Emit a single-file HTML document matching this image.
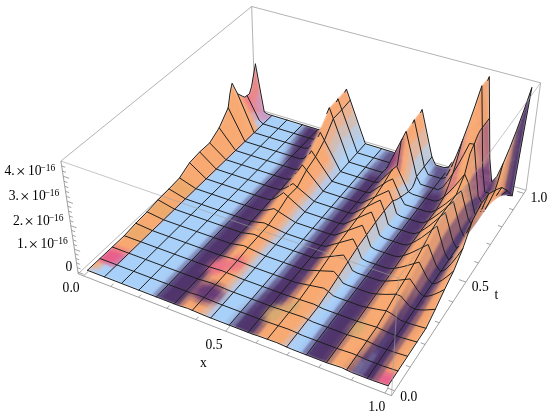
<!DOCTYPE html><html><head><meta charset="utf-8"><style>html,body{margin:0;padding:0;background:#fff;overflow:hidden}svg{display:block}text{font-family:"Liberation Serif","Times New Roman",serif}</style></head><body><svg width="550" height="416" viewBox="0 0 550 416">
<defs><clipPath id="c"><path d="M135.7 223.1L124.2 235.6 87.3 270.2 87.3 270.4 178.7 305.8 187.7 308.6 206 316.3 252.8 334.4 257.6 336 276.9 342.8 291.5 349.4 326.3 362.8 331.4 364.3 341.5 367.7 346.6 370 351.7 372.6 372.3 380.6 388.2 386 426.1 328.4 435.5 309.3 444.7 289.5 453.7 271.1 463 248.4 467.4 235.6 477.4 222 480.7 217 486.8 208.6 489.2 205.6 491.5 203.1 493.6 201.2 496.8 198.6 498.4 197.6 500.6 196.5 503 195.7 505.4 195.5 512.3 195.9 531.9 87.8 531.8 87.7 531.7 87.8 523.9 110 516.5 130.2 509.5 148.2 502.9 163.8 496.8 176.3 491.8 181.6 490 158.3 489.3 76.3 489.2 76.4 481.7 85.6 474.9 105.8 468.4 124.2 462.2 140.8 458.2 150.8 453.4 159.7 448.4 167.1 444.1 167.4 435.7 164.9 432 156.9 422.2 109.3 422 109.3 414.1 119.6 406 131.2 394.8 152.5 365.5 143.6 346.5 88.8 337.8 98.6 329.2 107.5 324.9 117.8 319.7 129.2 317.8 129.2 268.2 114.2 264.5 112 255.6 64.1 255.4 64 251.4 86.8 249.3 93.7 244.8 97 242.5 96.1 237.6 93.6 232.2 83.1 231.9 83.1 229.9 93.1 228.1 107.6 219 127.7 209.6 142.8 199.6 151.8 189.4 162.6 179.4 177.8 168.9 188.8 158 199.7 147 211.7 135.7 223.1Z"/></clipPath><filter id="b" x="0" y="0" width="550" height="416" filterUnits="userSpaceOnUse"><feGaussianBlur stdDeviation="1.2"/></filter></defs>
<rect width="550" height="416" fill="#fff"/>
<line x1="60.9" y1="161.1" x2="251.7" y2="6.5" stroke="#a0a0a0" stroke-width="0.8"/>
<line x1="251.7" y1="6.5" x2="540.6" y2="82.8" stroke="#a0a0a0" stroke-width="0.8"/>
<line x1="255.0" y1="108.4" x2="251.7" y2="6.5" stroke="#a0a0a0" stroke-width="0.8"/>
<line x1="526.0" y1="190.2" x2="540.6" y2="82.8" stroke="#a0a0a0" stroke-width="0.8"/>
<line x1="78.2" y1="273.8" x2="255.0" y2="108.4" stroke="#a0a0a0" stroke-width="0.8"/>
<line x1="255.0" y1="108.4" x2="526.0" y2="190.2" stroke="#a0a0a0" stroke-width="0.8"/>
<g clip-path="url(#c)"><g filter="url(#b)"><path d="M265.7 116.5L269.8 117.8L272.1 115.4L268 114.1ZM263.5 118.6L267.6 119.9L269.9 117.5L265.8 116.2Z" fill="#c898c4"/><path d="M269.5 117.6L273.6 118.9L275.9 116.6L271.8 115.2ZM273.2 118.8L277.4 120.1L279.7 117.7L275.5 116.4ZM267.3 119.7L271.4 121.1L273.7 118.7L269.6 117.3ZM277 119.9L281.2 121.2L283.5 118.9L279.3 117.5ZM271 120.9L275.2 122.2L277.5 119.8L273.4 118.5ZM280.8 121.1L285 122.4L287.3 120L283.1 118.7ZM265.1 121.8L269.2 123.2L271.5 120.8L267.4 119.5ZM274.8 122L279 123.4L281.3 121L277.2 119.6ZM284.6 122.2L288.8 123.6L291.1 121.2L286.9 119.8ZM268.8 123L273 124.3L275.3 121.9L271.2 120.6ZM278.6 123.2L282.8 124.5L285.1 122.1L280.9 120.8ZM288.4 123.4L292.6 124.7L294.9 122.3L290.7 121ZM262.8 124L267 125.3L269.3 122.9L265.2 121.6ZM272.6 124.2L276.8 125.5L279.1 123.1L275 121.8ZM282.5 124.3L286.6 125.7L288.9 123.3L284.8 121.9ZM292.3 124.5L296.5 125.9L298.7 123.5L294.5 122.1ZM266.6 125.1L270.8 126.5L273.1 124.1L269 122.7ZM276.5 125.3L280.6 126.7L283 124.3L278.8 122.9ZM286.3 125.5L290.5 126.9L292.8 124.5L288.6 123.1ZM260.6 126.1L264.8 127.5L267.1 125.1L263 123.7ZM270.4 126.3L274.6 127.7L277 125.2L272.8 123.9ZM280.3 126.5L284.5 127.8L286.8 125.4L282.6 124.1ZM290.1 126.7L294.3 128L296.6 125.6L292.4 124.3ZM264.4 127.3L268.6 128.6L270.9 126.2L266.8 124.9ZM274.3 127.5L278.5 128.8L280.8 126.4L276.6 125.1ZM284.1 127.7L288.3 129L290.6 126.6L286.4 125.2ZM294 127.9L298.2 129.2L300.5 126.8L296.2 125.4ZM258.4 128.3L262.5 129.6L264.9 127.2L260.8 125.9ZM268.2 128.5L272.4 129.8L274.8 127.4L270.6 126ZM278.1 128.6L282.3 130L284.6 127.6L280.4 126.2ZM288 128.8L292.2 130.2L294.5 127.8L290.3 126.4ZM262.2 129.4L266.4 130.8L268.7 128.4L264.6 127ZM272.1 129.6L276.3 131L278.6 128.6L274.4 127.2ZM281.9 129.8L286.1 131.2L288.5 128.8L284.3 127.4ZM291.8 130L296 131.4L298.3 128.9L294.1 127.6ZM256.1 130.4L260.3 131.8L262.7 129.4L258.5 128ZM266 130.6L270.2 132L272.6 129.6L268.4 128.2ZM275.9 130.8L280.1 132.2L282.4 129.7L278.2 128.4ZM285.8 131L290 132.4L292.3 129.9L288.1 128.6ZM259.9 131.6L264.1 133L266.5 130.5L262.3 129.2ZM269.8 131.8L274 133.2L276.4 130.7L272.2 129.4ZM279.7 132L284 133.4L286.3 130.9L282.1 129.6ZM289.7 132.2L293.9 133.6L296.2 131.1L292 129.8ZM253.9 132.6L258 134L260.4 131.5L256.3 130.2ZM263.8 132.8L268 134.2L270.3 131.7L266.2 130.4ZM273.7 133L277.9 134.4L280.2 131.9L276 130.6ZM283.6 133.2L287.8 134.6L290.1 132.1L285.9 130.7ZM257.7 133.8L261.9 135.2L264.3 132.7L260.1 131.4ZM267.6 134L271.8 135.4L274.2 132.9L270 131.5ZM277.5 134.2L281.8 135.6L284.1 133.1L279.9 131.7ZM287.5 134.4L291.7 135.8L294 133.3L289.8 131.9ZM251.6 134.8L255.8 136.2L258.2 133.7L254 132.4ZM261.5 135L265.7 136.4L268.1 133.9L263.9 132.5ZM271.5 135.2L275.7 136.6L278 134.1L273.8 132.7ZM281.4 135.4L285.6 136.8L288 134.3L283.7 132.9ZM255.4 136L259.6 137.4L262 134.9L257.8 133.5ZM265.4 136.2L269.6 137.6L272 135.1L267.8 133.7ZM275.3 136.4L279.6 137.8L281.9 135.3L277.7 133.9ZM285.3 136.6L289.5 138L291.9 135.5L287.6 134.1ZM249.3 137L253.5 138.4L255.9 135.9L251.7 134.5ZM259.3 137.2L263.5 138.6L265.9 136.1L261.7 134.7ZM269.2 137.4L273.5 138.8L275.8 136.3L271.6 134.9ZM279.2 137.6L283.4 139L285.8 136.5L281.5 135.1ZM253.1 138.2L257.3 139.6L259.8 137.1L255.6 135.7ZM263.1 138.4L267.3 139.8L269.7 137.3L265.5 135.9ZM273.1 138.6L277.3 140L279.7 137.5L275.5 136.1ZM283.1 138.8L287.3 140.2L289.7 137.7L285.4 136.3ZM247 139.2L251.2 140.6L253.6 138.1L249.4 136.7ZM257 139.4L261.2 140.8L263.6 138.3L259.4 136.9ZM267 139.6L271.2 141L273.6 138.5L269.4 137.1ZM277 139.8L281.2 141.2L283.6 138.7L279.3 137.3ZM250.9 140.4L255.1 141.8L257.5 139.3L253.3 137.9ZM260.9 140.6L265.1 142L267.5 139.5L263.3 138.1ZM270.9 140.8L275.1 142.2L277.5 139.7L273.2 138.3ZM280.9 141L285.1 142.4L287.5 139.9L283.2 138.5ZM244.7 141.5L248.9 142.9L251.3 140.4L247.1 139ZM254.7 141.7L258.9 143.1L261.4 140.6L257.1 139.2ZM264.7 141.8L269 143.2L271.4 140.7L267.1 139.3ZM274.8 142L279 143.4L281.4 140.9L277.1 139.5ZM248.5 142.7L252.8 144.1L255.2 141.6L251 140.2ZM258.6 142.9L262.8 144.3L265.2 141.8L261 140.4ZM268.6 143.1L272.9 144.5L275.2 142L271 140.6ZM278.7 143.3L282.9 144.7L285.3 142.2L281 140.8ZM242.4 143.7L246.6 145.1L249 142.6L244.8 141.2ZM252.4 143.9L256.6 145.3L259.1 142.8L254.9 141.4ZM262.5 144.1L266.7 145.5L269.1 143L264.9 141.6ZM272.5 144.3L276.8 145.7L279.1 143.2L274.9 141.8ZM246.2 144.9L250.4 146.3L252.9 143.8L248.7 142.4ZM256.3 145.1L260.5 146.5L263 144L258.7 142.6ZM363.1 146L367.5 147.4L369.6 144.9L365.2 143.5ZM266.4 145.3L270.6 146.7L273 144.2L268.8 142.8ZM276.4 145.5L280.7 146.9L283.1 144.4L278.8 143ZM240 146L244.2 147.4L246.7 144.8L242.5 143.4ZM250.1 146.1L254.3 147.6L256.8 145L252.6 143.6ZM260.2 146.3L264.4 147.8L266.8 145.2L262.6 143.8ZM367.1 147.3L371.6 148.7L373.7 146.1L369.3 144.8ZM270.3 146.5L274.5 148L276.9 145.4L272.7 144ZM280.3 146.7L284.6 148.1L287 145.6L282.7 144.2ZM243.9 147.2L248.1 148.6L250.6 146.1L246.4 144.7ZM254 147.4L258.2 148.8L260.7 146.3L256.4 144.8ZM361.1 148.3L365.5 149.7L367.6 147.2L363.2 145.8ZM264.1 147.6L268.3 149L270.7 146.5L266.5 145ZM371.2 148.5L375.6 149.9L377.7 147.4L373.3 146ZM274.2 147.8L278.5 149.2L280.8 146.7L276.6 145.2ZM237.7 148.2L241.9 149.6L244.4 147.1L240.2 145.7ZM247.8 148.4L252 149.8L254.5 147.3L250.2 145.9ZM257.9 148.6L262.1 150L264.6 147.5L260.3 146.1ZM365.1 149.5L369.6 150.9L371.7 148.4L367.3 147ZM268 148.8L272.3 150.2L274.7 147.7L270.4 146.3ZM375.3 149.7L379.7 151.1L381.8 148.6L377.4 147.2ZM278.1 149L282.4 150.4L284.8 147.9L280.5 146.5ZM241.6 149.5L245.8 150.9L248.3 148.3L244 146.9ZM251.7 149.6L255.9 151.1L258.4 148.5L254.1 147.1ZM359.1 150.6L363.5 152L365.6 149.4L361.2 148ZM261.8 149.8L266.1 151.3L268.5 148.7L264.2 147.3ZM369.2 150.8L373.7 152.2L375.8 149.6L371.3 148.2ZM271.9 150L276.2 151.5L278.6 148.9L274.3 147.5ZM235.3 150.5L239.5 151.9L242 149.4L237.8 147.9ZM245.4 150.7L249.7 152.1L252.2 149.6L247.9 148.1ZM255.6 150.9L259.8 152.3L262.3 149.8L258 148.3ZM363.1 151.8L367.6 153.2L369.7 150.7L365.3 149.3ZM265.7 151.1L270 152.5L272.4 150L268.1 148.5ZM373.3 152L377.7 153.4L379.8 150.9L375.4 149.5ZM275.8 151.3L280.1 152.7L282.5 150.2L278.2 148.7ZM239.2 151.7L243.4 153.2L245.9 150.6L241.7 149.2ZM249.3 151.9L253.6 153.4L256.1 150.8L251.8 149.4ZM357 152.9L361.5 154.3L363.6 151.7L359.2 150.3ZM259.5 152.1L263.8 153.6L266.2 151L261.9 149.6ZM367.2 153.1L371.7 154.5L373.8 151.9L369.3 150.5ZM269.6 152.3L273.9 153.8L276.3 151.2L272 149.8ZM232.9 152.8L237.2 154.2L239.7 151.7L235.5 150.2ZM243.1 153L247.3 154.4L249.8 151.8L245.6 150.4ZM253.3 153.2L257.5 154.6L260 152L255.7 150.6ZM361.1 154.1L365.6 155.5L367.7 153L363.3 151.6ZM263.4 153.4L267.7 154.8L270.1 152.2L265.8 150.8ZM371.3 154.3L375.8 155.7L377.9 153.2L373.4 151.8ZM273.6 153.6L277.9 155L280.3 152.4L276 151ZM236.8 154L241.1 155.5L243.6 152.9L239.3 151.5ZM247 154.2L251.3 155.7L253.7 153.1L249.5 151.7ZM355 155.2L359.4 156.6L361.6 154L357.2 152.6ZM257.2 154.4L261.5 155.9L263.9 153.3L259.6 151.9ZM365.2 155.4L369.7 156.8L371.8 154.2L367.3 152.8ZM267.4 154.6L271.7 156.1L274.1 153.5L269.8 152.1ZM230.5 155.1L234.8 156.5L237.3 153.9L233.1 152.5ZM240.7 155.3L245 156.7L247.5 154.1L243.2 152.7ZM250.9 155.5L255.2 156.9L257.7 154.3L253.4 152.9ZM359.1 156.4L363.5 157.9L365.7 155.3L361.2 153.9ZM261.1 155.7L265.4 157.1L267.8 154.5L263.6 153.1ZM369.3 156.6L373.8 158L375.9 155.5L371.4 154.1ZM271.3 155.9L275.6 157.3L278 154.7L273.7 153.3ZM234.4 156.3L238.7 157.8L241.2 155.2L237 153.8ZM244.6 156.5L248.9 158L251.4 155.4L247.1 154ZM352.9 157.5L357.4 158.9L359.6 156.3L355.1 154.9ZM254.8 156.7L259.1 158.2L261.6 155.6L257.3 154.2ZM363.2 157.7L367.6 159.1L369.8 156.5L365.3 155.1ZM265.1 156.9L269.4 158.4L271.8 155.8L267.5 154.4ZM275.3 157.1L279.6 158.6L282 156L277.7 154.6ZM228.1 157.4L232.4 158.9L234.9 156.3L230.7 154.8ZM238.4 157.6L242.6 159.1L245.1 156.5L240.9 155ZM248.6 157.8L252.9 159.3L255.3 156.7L251.1 155.2ZM357 158.7L361.5 160.2L363.7 157.6L359.2 156.2ZM258.8 158L263.1 159.5L265.5 156.9L261.2 155.4ZM367.3 158.9L371.8 160.4L373.9 157.8L369.4 156.4ZM269 158.2L273.3 159.6L275.8 157.1L271.4 155.6ZM232 158.7L236.3 160.1L238.8 157.5L234.6 156.1ZM242.3 158.9L246.6 160.3L249.1 157.7L244.8 156.3ZM350.9 159.8L355.3 161.2L357.5 158.7L353.1 157.2ZM252.5 159.1L256.8 160.5L259.3 157.9L255 156.5ZM361.1 160L365.6 161.4L367.8 158.9L363.3 157.4ZM262.7 159.3L267.1 160.7L269.5 158.1L265.2 156.7ZM273 159.5L277.3 160.9L279.7 158.3L275.4 156.9ZM225.7 159.7L230 161.2L232.5 158.6L228.3 157.1ZM236 159.9L240.2 161.4L242.8 158.8L238.5 157.3ZM246.2 160.1L250.5 161.6L253 159L248.7 157.5ZM355 161.1L359.5 162.5L361.6 159.9L357.2 158.5ZM256.5 160.3L260.8 161.8L263.2 159.2L258.9 157.7ZM365.2 161.3L369.7 162.7L371.9 160.1L367.4 158.7ZM266.7 160.5L271 162L273.5 159.4L269.1 157.9ZM229.6 161L233.9 162.5L236.5 159.8L232.2 158.4ZM239.9 161.2L244.2 162.7L246.7 160L242.4 158.6ZM348.8 162.1L353.3 163.6L355.5 161L351 159.5ZM250.2 161.4L254.5 162.9L256.9 160.2L252.7 158.8ZM359.1 162.3L363.6 163.8L365.7 161.2L361.3 159.7ZM260.4 161.6L264.7 163.1L267.2 160.4L262.9 159ZM270.7 161.8L275 163.3L277.4 160.6L273.1 159.2ZM223.3 162.1L227.6 163.5L230.1 160.9L225.9 159.5ZM233.6 162.3L237.8 163.7L240.4 161.1L236.1 159.7ZM243.8 162.5L248.1 163.9L250.6 161.3L246.4 159.9ZM352.9 163.4L357.4 164.9L359.6 162.3L355.1 160.8ZM254.1 162.7L258.4 164.1L260.9 161.5L256.6 160.1ZM363.2 163.6L367.7 165.1L369.9 162.5L365.4 161ZM264.4 162.9L268.7 164.3L271.2 161.7L266.8 160.3ZM227.2 163.3L231.5 164.8L234.1 162.2L229.8 160.7ZM237.5 163.6L241.8 165L244.3 162.4L240 160.9ZM346.7 164.5L351.2 166L353.4 163.3L348.9 161.9ZM247.8 163.8L252.1 165.2L254.6 162.6L250.3 161.1ZM357 164.7L361.5 166.2L363.7 163.5L359.2 162.1ZM258.1 164L262.4 165.4L264.9 162.8L260.6 161.3ZM268.4 164.2L272.7 165.6L275.2 163L270.8 161.5ZM220.8 164.4L225.1 165.9L227.7 163.3L223.4 161.8ZM231.1 164.6L235.4 166.1L238 163.5L233.7 162ZM241.4 164.8L245.8 166.3L248.3 163.7L244 162.2ZM350.8 165.8L355.3 167.2L357.5 164.6L353 163.2ZM251.8 165L256.1 166.5L258.6 163.9L254.3 162.4ZM361.1 166L365.7 167.4L367.8 164.8L363.3 163.4ZM262.1 165.2L266.4 166.7L268.9 164.1L264.5 162.6ZM224.8 165.7L229.1 167.2L231.6 164.5L227.4 163.1ZM235.1 165.9L239.4 167.4L241.9 164.7L237.6 163.3ZM344.6 166.9L349.1 168.3L351.3 165.7L346.8 164.2ZM245.4 166.1L249.7 167.6L252.2 164.9L247.9 163.5ZM355 167.1L359.5 168.5L361.6 165.9L357.1 164.4ZM255.7 166.3L260.1 167.8L262.5 165.2L258.2 163.7ZM266 166.5L270.4 168L272.9 165.4L268.5 163.9ZM218.4 166.8L222.7 168.3L225.3 165.6L221 164.2ZM228.7 167L233 168.5L235.6 165.8L231.3 164.4ZM239 167.2L243.4 168.7L245.9 166L241.6 164.6ZM348.7 168.2L353.2 169.6L355.4 167L351 165.5ZM249.4 167.4L253.7 168.9L256.2 166.2L251.9 164.8ZM359.1 168.4L363.6 169.8L365.8 167.2L361.3 165.7ZM259.7 167.6L264.1 169.1L266.5 166.4L262.2 165ZM222.3 168.1L226.6 169.6L229.2 166.9L224.9 165.4ZM232.7 168.3L237 169.8L239.5 167.1L235.2 165.6ZM342.5 169.2L347 170.7L349.2 168.1L344.7 166.6ZM243 168.5L247.3 170L249.9 167.3L245.6 165.8ZM352.9 169.4L357.4 170.9L359.6 168.3L355.1 166.8ZM253.4 168.7L257.7 170.2L260.2 167.5L255.9 166ZM263.7 168.9L268.1 170.4L270.5 167.7L266.2 166.3ZM215.9 169.2L220.2 170.7L222.8 168L218.5 166.5ZM226.3 169.4L230.6 170.9L233.2 168.2L228.9 166.7ZM236.6 169.6L241 171.1L243.5 168.4L239.2 166.9ZM346.6 170.5L351.1 172L353.4 169.4L348.9 167.9ZM247 169.8L251.3 171.3L253.9 168.6L249.5 167.1ZM357 170.7L361.5 172.2L363.7 169.6L359.2 168.1ZM257.4 170L261.7 171.5L264.2 168.8L259.9 167.3ZM219.9 170.5L224.2 172L226.8 169.3L222.5 167.8ZM230.2 170.7L234.5 172.2L237.1 169.5L232.8 168ZM340.4 171.6L344.9 173.1L347.1 170.5L342.6 169ZM240.6 170.9L244.9 172.4L247.5 169.7L243.2 168.2ZM350.8 171.8L355.3 173.3L357.5 170.7L353 169.2ZM251 171.1L255.3 172.6L257.9 169.9L253.5 168.4ZM261.4 171.3L265.7 172.8L268.2 170.1L263.9 168.6ZM213.4 171.6L217.7 173.1L220.4 170.4L216.1 168.9ZM223.8 171.8L228.1 173.3L230.7 170.6L226.4 169.1ZM234.2 172L238.5 173.5L241.1 170.8L236.8 169.3ZM344.5 172.9L349 174.4L351.3 171.8L346.8 170.3ZM244.6 172.2L248.9 173.7L251.5 171L247.1 169.5ZM354.9 173.1L359.5 174.6L361.7 172L357.1 170.5ZM255 172.4L259.4 173.9L261.9 171.2L257.5 169.7ZM217.4 172.9L221.7 174.4L224.3 171.7L220 170.2ZM227.8 173.1L232.1 174.6L234.7 171.9L230.4 170.4ZM338.2 174L342.8 175.5L345 172.9L340.5 171.4ZM238.2 173.3L242.5 174.8L245.1 172.1L240.8 170.6ZM348.7 174.2L353.2 175.7L355.4 173.1L350.9 171.6ZM248.6 173.5L253 175L255.5 172.3L251.1 170.8ZM259 173.7L263.4 175.2L265.9 172.5L261.5 171ZM210.9 174L215.2 175.5L217.9 172.8L213.6 171.3ZM221.3 174.2L225.7 175.7L228.3 173L224 171.5ZM231.8 174.4L236.1 175.9L238.7 173.2L234.4 171.7ZM342.4 175.4L346.9 176.8L349.2 174.2L344.6 172.7ZM242.2 174.6L246.5 176.1L249.1 173.4L244.7 171.9ZM352.8 175.6L357.4 177L359.6 174.4L355 172.9ZM252.6 174.8L257 176.3L259.5 173.6L255.1 172.1ZM214.9 175.3L219.2 176.8L221.8 174.1L217.5 172.6ZM225.3 175.5L229.6 177L232.3 174.3L227.9 172.8ZM336.1 176.5L340.6 178L342.9 175.3L338.4 173.8ZM235.8 175.7L240.1 177.2L242.7 174.5L238.3 173ZM346.5 176.7L351.1 178.2L353.3 175.5L348.8 174ZM246.2 175.9L250.6 177.4L253.1 174.7L248.7 173.2ZM256.6 176.1L261 177.6L263.5 174.9L259.1 173.4ZM208.4 176.4L212.7 177.9L215.4 175.2L211.1 173.7ZM218.9 176.6L223.2 178.1L225.8 175.4L221.5 173.9ZM229.3 176.8L233.6 178.3L236.2 175.6L231.9 174.1ZM340.2 177.8L344.8 179.3L347 176.6L342.5 175.1ZM239.8 177L244.1 178.5L246.7 175.8L242.3 174.3ZM350.7 178L355.3 179.5L357.5 176.8L353 175.3ZM250.2 177.2L254.6 178.7L257.1 176L252.8 174.5ZM212.4 177.7L216.7 179.2L219.4 176.5L215 175ZM222.8 177.9L227.2 179.4L229.8 176.7L225.5 175.2ZM333.9 178.9L338.5 180.4L340.7 177.7L336.2 176.2ZM233.3 178.1L237.7 179.7L240.2 176.9L235.9 175.4ZM344.4 179.1L349 180.6L351.2 177.9L346.7 176.4ZM243.8 178.3L248.1 179.9L250.7 177.1L246.3 175.6ZM254.2 178.6L258.6 180.1L261.2 177.4L256.8 175.8ZM205.9 178.8L210.2 180.4L212.9 177.6L208.6 176.1ZM216.4 179L220.7 180.6L223.3 177.8L219 176.3ZM226.8 179.3L231.2 180.8L233.8 178.1L229.5 176.5ZM338.1 180.2L342.6 181.7L344.9 179L340.4 177.5ZM237.3 179.5L241.7 181L244.3 178.3L239.9 176.8ZM348.6 180.4L353.2 181.9L355.4 179.2L350.8 177.7ZM247.8 179.7L252.2 181.2L254.7 178.5L250.4 177ZM209.9 180.2L214.2 181.7L216.9 179L212.5 177.4ZM220.4 180.4L224.7 181.9L227.3 179.2L223 177.7ZM331.8 181.3L336.3 182.9L338.6 180.1L334.1 178.6ZM230.8 180.6L235.2 182.1L237.8 179.4L233.5 177.9ZM342.3 181.5L346.8 183.1L349.1 180.3L344.5 178.8ZM241.3 180.8L245.7 182.3L248.3 179.6L243.9 178.1ZM251.8 181L256.2 182.5L258.8 179.8L254.4 178.3ZM203.3 181.3L207.7 182.8L210.4 180.1L206 178.6ZM213.8 181.5L218.2 183L220.8 180.3L216.5 178.8ZM224.4 181.7L228.7 183.2L231.3 180.5L227 179ZM335.9 182.7L340.5 184.2L342.8 181.5L338.2 180ZM234.9 181.9L239.2 183.4L241.8 180.7L237.5 179.2ZM346.5 182.9L351 184.4L353.3 181.7L348.7 180.2ZM245.4 182.1L249.8 183.7L252.3 180.9L247.9 179.4ZM207.3 182.6L211.7 184.2L214.3 181.4L210 179.9ZM217.8 182.8L222.2 184.4L224.8 181.6L220.5 180.1ZM329.6 183.8L334.1 185.3L336.4 182.6L331.9 181.1ZM228.4 183L232.7 184.6L235.4 181.8L231 180.3ZM340.1 184L344.7 185.5L347 182.8L342.4 181.3ZM238.9 183.3L243.3 184.8L245.9 182L241.5 180.5ZM249.4 183.5L253.8 185L256.4 182.2L252 180.7ZM200.8 183.8L205.1 185.3L207.8 182.5L203.5 181ZM211.3 184L215.7 185.5L218.3 182.7L214 181.2ZM221.9 184.2L226.2 185.7L228.9 183L224.5 181.4ZM333.8 185.1L338.3 186.7L340.6 183.9L336.1 182.4ZM232.4 184.4L236.8 185.9L239.4 183.2L235 181.6ZM344.3 185.4L348.9 186.9L351.2 184.1L346.6 182.6ZM242.9 184.6L247.3 186.1L249.9 183.4L245.5 181.9ZM204.8 185.1L209.1 186.6L211.8 183.9L207.5 182.3ZM215.3 185.3L219.7 186.8L222.3 184.1L218 182.6ZM327.4 186.3L331.9 187.8L334.2 185.1L329.7 183.5ZM225.9 185.5L230.2 187.1L232.9 184.3L228.5 182.8ZM337.9 186.5L342.5 188L344.8 185.3L340.2 183.7ZM236.4 185.7L240.8 187.3L243.4 184.5L239 183ZM247 185.9L251.4 187.5L254 184.7L249.6 183.2ZM198.2 186.2L202.5 187.8L205.3 185L200.9 183.5ZM208.8 186.4L213.1 188L215.8 185.2L211.5 183.7ZM219.3 186.7L223.7 188.2L226.4 185.4L222 183.9ZM331.6 187.6L336.1 189.2L338.4 186.4L333.9 184.9ZM229.9 186.9L234.3 188.4L236.9 185.6L232.5 184.1ZM342.2 187.8L346.7 189.4L349 186.6L344.4 185.1ZM240.5 187.1L244.9 188.6L247.5 185.9L243.1 184.3ZM202.2 187.6L206.6 189.1L209.3 186.4L204.9 184.8ZM212.8 187.8L217.2 189.3L219.8 186.6L215.5 185ZM325.2 188.8L329.7 190.3L332.1 187.5L327.5 186ZM223.4 188L227.8 189.6L230.4 186.8L226 185.2ZM335.8 189L340.3 190.5L342.6 187.8L338.1 186.2ZM234 188.2L238.4 189.8L241 187L236.6 185.5ZM244.5 188.4L249 190L251.5 187.2L247.1 185.7ZM195.6 188.7L200 190.3L202.7 187.5L198.4 186ZM206.2 188.9L210.6 190.5L213.3 187.7L208.9 186.2ZM216.8 189.1L221.2 190.7L223.9 187.9L219.5 186.4ZM329.4 190.1L333.9 191.7L336.3 188.9L331.7 187.4ZM227.4 189.4L231.8 190.9L234.4 188.1L230.1 186.6ZM340 190.3L344.6 191.9L346.9 189.1L342.3 187.6ZM238 189.6L242.4 191.1L245 188.3L240.6 186.8ZM199.6 190.1L204 191.6L206.7 188.9L202.4 187.3ZM414.4 191.8L419.1 193.4L421.2 190.6L416.5 189.1ZM210.2 190.3L214.6 191.8L217.3 189.1L212.9 187.5ZM322.9 191.3L327.5 192.8L329.9 190L325.3 188.5ZM220.9 190.5L225.2 192.1L227.9 189.3L223.5 187.7ZM333.6 191.5L338.2 193L340.5 190.3L335.9 188.7ZM231.5 190.7L235.9 192.3L238.5 189.5L234.1 187.9ZM242.1 190.9L246.5 192.5L249.1 189.7L244.7 188.2ZM193 191.2L197.4 192.8L200.1 190L195.8 188.4ZM203.6 191.4L208 193L210.7 190.2L206.4 188.7ZM214.3 191.7L218.7 193.2L221.3 190.4L217 188.9ZM327.1 192.6L331.7 194.2L334.1 191.4L329.5 189.9ZM224.9 191.9L229.3 193.4L232 190.6L227.6 189.1ZM337.8 192.9L342.4 194.4L344.7 191.6L340.1 190.1ZM235.5 192.1L240 193.6L242.6 190.8L238.2 189.3ZM197 192.6L201.4 194.2L204.1 191.4L199.8 189.8ZM412.4 194.3L417.1 195.9L419.2 193.1L414.5 191.6ZM207.7 192.8L212 194.4L214.8 191.6L210.4 190ZM320.7 193.8L325.3 195.3L327.6 192.6L323.1 191ZM218.3 193L222.7 194.6L225.4 191.8L221 190.2ZM331.4 194L336 195.6L338.3 192.8L333.7 191.2ZM229 193.2L233.4 194.8L236 192L231.6 190.4ZM239.6 193.5L244 195L246.7 192.2L242.2 190.7ZM190.4 193.8L194.8 195.3L197.5 192.5L193.2 191ZM201.1 194L205.4 195.5L208.2 192.7L203.8 191.2ZM211.7 194.2L216.1 195.7L218.8 192.9L214.4 191.4ZM324.9 195.2L329.5 196.7L331.9 193.9L327.3 192.4ZM222.4 194.4L226.8 196L229.5 193.2L225.1 191.6ZM335.6 195.4L340.2 196.9L342.5 194.1L337.9 192.6ZM233 194.6L237.5 196.2L240.1 193.4L235.7 191.8ZM194.4 195.1L198.8 196.7L201.6 193.9L197.2 192.3ZM410.4 196.9L415.2 198.4L417.3 195.6L412.5 194.1ZM205.1 195.3L209.5 196.9L212.2 194.1L207.8 192.5ZM318.5 196.3L323 197.9L325.4 195.1L320.8 193.5ZM215.8 195.6L220.2 197.1L222.9 194.3L218.5 192.8ZM329.1 196.5L333.7 198.1L336.1 195.3L331.5 193.7ZM226.4 195.8L230.9 197.3L233.5 194.5L229.1 193ZM237.1 196L241.6 197.6L244.2 194.7L239.8 193.2ZM187.8 196.3L192.1 197.9L194.9 195L190.6 193.5ZM198.5 196.5L202.8 198.1L205.6 195.3L201.2 193.7ZM209.1 196.7L213.5 198.3L216.3 195.5L211.9 193.9ZM322.7 197.7L327.3 199.3L329.6 196.5L325.1 194.9ZM219.8 196.9L224.2 198.5L226.9 195.7L222.5 194.1ZM333.4 197.9L338 199.5L340.3 196.7L335.7 195.1ZM230.5 197.2L235 198.7L237.6 195.9L233.2 194.3ZM191.8 197.7L196.2 199.3L198.9 196.4L194.6 194.9ZM408.4 199.4L413.2 201L415.3 198.2L410.6 196.6ZM202.5 197.9L206.9 199.5L209.6 196.6L205.3 195.1ZM316.2 198.9L320.8 200.4L323.2 197.6L318.6 196.1ZM213.2 198.1L217.6 199.7L220.3 196.9L215.9 195.3ZM326.9 199.1L331.5 200.7L333.9 197.8L329.3 196.3ZM223.9 198.3L228.3 199.9L231 197.1L226.6 195.5ZM234.6 198.5L239.1 200.1L241.7 197.3L237.3 195.7ZM185.1 198.8L189.5 200.4L192.3 197.6L187.9 196ZM195.8 199.1L200.2 200.6L203 197.8L198.6 196.2ZM206.6 199.3L211 200.9L213.7 198L209.3 196.4ZM320.4 200.3L325 201.8L327.4 199L322.8 197.4ZM217.3 199.5L221.7 201.1L224.4 198.2L220 196.7ZM331.2 200.5L335.8 202.1L338.1 199.2L333.5 197.7ZM228 199.7L232.4 201.3L235.1 198.4L230.7 196.9ZM189.2 200.2L193.5 201.8L196.3 199L192 197.4ZM406.4 202L411.2 203.6L413.3 200.7L408.6 199.2ZM199.9 200.5L204.3 202L207 199.2L202.7 197.6ZM313.9 201.4L318.5 203L320.9 200.2L316.3 198.6ZM210.6 200.7L215 202.3L217.8 199.4L213.4 197.8ZM324.7 201.7L329.3 203.2L331.7 200.4L327 198.8ZM221.4 200.9L225.8 202.5L228.5 199.6L224.1 198ZM232.1 201.1L236.6 202.7L239.2 199.8L234.8 198.3ZM182.5 201.4L186.8 203L189.6 200.1L185.3 198.6ZM193.2 201.6L197.6 203.2L200.4 200.4L196 198.8ZM204 201.8L208.4 203.4L211.1 200.6L206.7 199ZM318.2 202.8L322.8 204.4L325.2 201.6L320.6 200ZM214.7 202.1L219.1 203.7L221.9 200.8L217.4 199.2ZM328.9 203.1L333.6 204.6L335.9 201.8L331.3 200.2ZM225.5 202.3L229.9 203.9L232.6 201L228.2 199.4ZM186.5 202.8L190.9 204.4L193.7 201.5L189.3 200ZM404.4 204.6L409.2 206.2L411.3 203.3L406.6 201.7ZM197.3 203L201.7 204.6L204.4 201.8L200.1 200.2ZM311.6 204L316.2 205.6L318.6 202.7L314.1 201.2ZM208 203.2L212.5 204.8L215.2 202L210.8 200.4ZM322.4 204.2L327 205.8L329.4 203L324.8 201.4ZM218.8 203.5L223.2 205.1L226 202.2L221.5 200.6ZM229.6 203.7L234 205.3L236.7 202.4L232.3 200.8ZM179.8 204L184.2 205.6L187 202.7L182.6 201.1ZM190.6 204.2L195 205.8L197.8 202.9L193.4 201.3ZM201.3 204.4L205.8 206L208.5 203.2L204.1 201.6ZM315.9 205.4L320.5 207L322.9 204.1L318.3 202.6ZM212.1 204.6L216.6 206.2L219.3 203.4L214.9 201.8ZM326.7 205.6L331.3 207.2L333.7 204.4L329.1 202.8ZM222.9 204.9L227.4 206.5L230.1 203.6L225.6 202ZM183.8 205.4L188.2 207L191 204.1L186.7 202.5ZM402.4 207.2L407.2 208.8L409.3 205.9L404.5 204.3ZM194.6 205.6L199 207.2L201.8 204.3L197.4 202.7ZM309.3 206.6L313.9 208.2L316.4 205.3L311.8 203.8ZM205.4 205.8L209.9 207.4L212.6 204.6L208.2 203ZM320.1 206.8L324.8 208.4L327.2 205.6L322.5 204ZM216.2 206.1L220.7 207.7L223.4 204.8L219 203.2ZM227 206.3L231.5 207.9L234.2 205L229.7 203.4ZM177.1 206.6L181.5 208.2L184.3 205.3L179.9 203.7ZM187.9 206.8L192.3 208.4L195.1 205.5L190.7 203.9ZM198.7 207L203.1 208.6L205.9 205.7L201.5 204.2ZM313.6 208L318.2 209.6L320.6 206.7L316 205.2ZM209.5 207.2L214 208.9L216.7 206L212.3 204.4ZM324.4 208.2L329.1 209.8L331.5 207L326.8 205.4ZM220.3 207.5L224.8 209.1L227.5 206.2L223.1 204.6ZM181.1 208L185.5 209.6L188.4 206.7L184 205.1ZM400.4 209.8L405.1 211.4L407.3 208.5L402.5 206.9ZM192 208.2L196.4 209.8L199.2 206.9L194.8 205.3ZM307 209.2L311.6 210.8L314.1 207.9L309.5 206.3ZM202.8 208.4L207.2 210.1L210 207.2L205.6 205.6ZM317.9 209.4L322.5 211L324.9 208.2L320.3 206.6ZM213.6 208.7L218.1 210.3L220.8 207.4L216.4 205.8ZM224.5 208.9L228.9 210.5L231.7 207.6L227.2 206ZM174.4 209.2L178.8 210.8L181.6 207.9L177.2 206.3ZM185.2 209.4L189.6 211L192.5 208.1L188.1 206.5ZM196.1 209.6L200.5 211.3L203.3 208.4L198.9 206.7ZM311.3 210.6L315.9 212.3L318.3 209.4L313.7 207.8ZM206.9 209.9L211.4 211.5L214.1 208.6L209.7 207ZM322.1 210.9L326.8 212.5L329.2 209.6L324.6 208ZM217.8 210.1L222.2 211.7L225 208.8L220.5 207.2ZM178.4 210.6L182.8 212.2L185.7 209.3L181.3 207.7ZM189.3 210.8L193.7 212.5L196.5 209.6L192.1 207.9ZM304.7 211.9L309.3 213.5L311.8 210.6L307.1 209ZM200.2 211.1L204.6 212.7L207.4 209.8L203 208.2ZM315.6 212.1L320.2 213.7L322.6 210.8L318 209.2ZM211 211.3L215.5 212.9L218.2 210L213.8 208.4ZM221.9 211.5L226.4 213.1L229.1 210.2L224.6 208.6ZM171.6 211.8L176 213.5L178.9 210.5L174.5 208.9ZM182.5 212.1L186.9 213.7L189.8 210.8L185.4 209.1ZM193.4 212.3L197.8 213.9L200.6 211L196.2 209.4ZM309 213.3L313.6 214.9L316 212L311.4 210.4ZM204.3 212.5L208.7 214.1L211.5 211.2L207.1 209.6ZM319.9 213.5L324.5 215.1L326.9 212.2L322.3 210.6ZM215.2 212.7L219.6 214.3L222.4 211.4L217.9 209.8ZM175.7 213.3L180.1 214.9L183 212L178.6 210.3ZM186.6 213.5L191 215.1L193.9 212.2L189.5 210.6ZM302.3 214.5L307 216.1L309.4 213.2L304.8 211.6ZM197.5 213.7L202 215.3L204.8 212.4L200.3 210.8ZM313.2 214.7L317.9 216.3L320.3 213.4L315.7 211.8ZM208.4 213.9L212.9 215.6L215.6 212.6L211.2 211ZM219.3 214.2L223.8 215.8L226.5 212.9L222 211.2ZM168.9 214.5L173.3 216.1L176.2 213.2L171.8 211.6ZM179.8 214.7L184.2 216.3L187.1 213.4L182.7 211.8ZM190.7 214.9L195.2 216.6L198 213.6L193.6 212ZM306.6 215.9L311.3 217.6L313.7 214.6L309.1 213ZM201.6 215.1L206.1 216.8L208.9 213.8L204.4 212.2ZM317.5 216.2L322.2 217.8L324.7 214.8L320 213.2ZM212.5 215.4L217 217L219.8 214.1L215.3 212.4ZM173 215.9L177.4 217.6L180.3 214.6L175.9 213ZM183.9 216.1L188.3 217.8L191.2 214.8L186.8 213.2ZM300 217.1L304.6 218.8L307.1 215.8L302.5 214.2ZM194.8 216.4L199.3 218L202.1 215.1L197.7 213.4ZM310.9 217.4L315.6 219L318 216.1L313.4 214.4ZM205.8 216.6L210.2 218.2L213 215.3L208.6 213.6ZM216.7 216.8L221.2 218.4L223.9 215.5L219.5 213.9ZM166.1 217.1L170.5 218.8L173.5 215.8L169.1 214.2ZM177.1 217.4L181.5 219L184.4 216L180 214.4ZM188 217.6L192.5 219.2L195.3 216.3L190.9 214.6ZM304.3 218.6L308.9 220.2L311.4 217.3L306.8 215.7ZM199 217.8L203.4 219.4L206.2 216.5L201.8 214.9ZM315.2 218.8L319.9 220.5L322.4 217.5L317.7 215.9ZM209.9 218L214.4 219.7L217.2 216.7L212.7 215.1ZM170.2 218.6L174.7 220.2L177.6 217.3L173.1 215.6ZM181.2 218.8L185.6 220.5L188.5 217.5L184.1 215.9ZM297.6 219.8L302.3 221.5L304.8 218.5L300.1 216.9ZM192.1 219L196.6 220.7L199.4 217.7L195 216.1ZM308.6 220L313.3 221.7L315.7 218.7L311.1 217.1ZM203.1 219.3L207.6 220.9L210.4 217.9L205.9 216.3ZM214.1 219.5L218.6 221.1L221.3 218.2L216.8 216.5ZM163.4 219.8L167.8 221.5L170.7 218.5L166.3 216.9ZM174.3 220L178.8 221.7L181.7 218.7L177.2 217.1ZM185.3 220.3L189.8 221.9L192.6 218.9L188.2 217.3ZM301.9 221.3L306.6 222.9L309.1 220L304.4 218.3ZM196.3 220.5L200.8 222.1L203.6 219.2L199.1 217.5ZM312.9 221.5L317.6 223.1L320 220.2L315.4 218.5ZM207.3 220.7L211.8 222.4L214.6 219.4L210.1 217.8ZM167.5 221.3L171.9 222.9L174.8 219.9L170.4 218.3ZM178.4 221.5L182.9 223.1L185.8 220.2L181.3 218.5ZM295.2 222.5L299.9 224.2L302.4 221.2L297.7 219.6ZM189.4 221.7L193.9 223.4L196.8 220.4L192.3 218.8ZM306.2 222.7L310.9 224.4L313.4 221.4L308.7 219.8ZM200.4 221.9L204.9 223.6L207.7 220.6L203.3 219ZM211.4 222.2L215.9 223.8L218.7 220.8L214.2 219.2ZM160.6 222.5L165 224.2L167.9 221.2L163.5 219.5ZM171.6 222.7L176 224.4L178.9 221.4L174.5 219.8ZM182.6 223L187 224.6L189.9 221.6L185.5 220ZM299.5 224L304.2 225.6L306.7 222.6L302 221ZM193.6 223.2L198.1 224.8L200.9 221.9L196.4 220.2ZM310.6 224.2L315.3 225.8L317.7 222.9L313 221.2ZM204.6 223.4L209.1 225.1L211.9 222.1L207.4 220.4ZM164.7 224L169.1 225.6L172.1 222.6L167.6 221ZM175.7 224.2L180.1 225.9L183.1 222.9L178.6 221.2ZM292.8 225.2L297.5 226.9L300 223.9L295.4 222.2ZM186.7 224.4L191.2 226.1L194.1 223.1L189.6 221.4ZM303.9 225.4L308.5 227.1L311 224.1L306.4 222.5ZM197.7 224.6L202.2 226.3L205.1 223.3L200.6 221.7ZM208.8 224.9L213.3 226.5L216.1 223.5L211.6 221.9ZM157.8 225.2L162.2 226.9L165.2 223.9L160.7 222.2ZM168.8 225.4L173.2 227.1L176.2 224.1L171.7 222.4ZM179.8 225.7L184.3 227.3L187.2 224.3L182.7 222.7ZM297.1 226.7L301.8 228.3L304.3 225.4L299.7 223.7ZM190.9 225.9L195.4 227.6L198.2 224.6L193.7 222.9ZM308.2 226.9L312.9 228.6L315.4 225.6L310.7 223.9ZM201.9 226.1L206.4 227.8L209.3 224.8L204.8 223.1ZM161.9 226.7L166.3 228.4L169.3 225.3L164.8 223.7ZM172.9 226.9L177.4 228.6L180.3 225.6L175.9 223.9ZM290.4 227.9L295.1 229.6L297.6 226.6L293 224.9ZM184 227.1L188.5 228.8L191.4 225.8L186.9 224.1ZM301.5 228.2L306.2 229.8L308.7 226.8L304 225.2ZM195 227.4L199.5 229L202.4 226L197.9 224.4ZM206.1 227.6L210.6 229.3L213.5 226.3L208.9 224.6ZM154.9 227.9L159.4 229.6L162.4 226.6L157.9 224.9ZM166 228.2L170.5 229.8L173.4 226.8L169 225.2ZM177.1 228.4L181.5 230.1L184.5 227.1L180 225.4ZM294.7 229.4L299.4 231.1L302 228.1L297.3 226.4ZM188.1 228.6L192.6 230.3L195.5 227.3L191 225.6ZM305.8 229.6L310.5 231.3L313 228.3L308.3 226.6ZM199.2 228.8L203.7 230.5L206.6 227.5L202.1 225.8ZM159 229.4L163.5 231.1L166.5 228.1L162 226.4ZM170.1 229.6L174.6 231.3L177.6 228.3L173.1 226.6ZM288 230.7L292.7 232.3L295.2 229.3L290.5 227.7ZM181.2 229.9L185.7 231.6L188.6 228.5L184.1 226.9ZM299.1 230.9L303.8 232.6L306.3 229.6L301.6 227.9ZM192.3 230.1L196.8 231.8L199.7 228.8L195.2 227.1ZM203.4 230.3L207.9 232L210.8 229L206.3 227.3ZM152.1 230.7L156.5 232.4L159.5 229.3L155.1 227.7ZM163.2 230.9L167.6 232.6L170.6 229.6L166.2 227.9ZM174.3 231.1L178.8 232.8L181.7 229.8L177.2 228.1ZM292.3 232.2L297 233.8L299.6 230.8L294.9 229.1ZM185.4 231.4L189.9 233L192.8 230L188.3 228.3ZM303.4 232.4L308.2 234.1L310.7 231L306 229.4ZM196.5 231.6L201 233.3L203.9 230.2L199.4 228.6ZM156.2 232.2L160.7 233.9L163.7 230.8L159.2 229.1ZM167.3 232.4L171.8 234.1L174.8 231L170.3 229.4ZM285.5 233.4L290.2 235.1L292.8 232.1L288.1 230.4ZM178.4 232.6L183 234.3L185.9 231.3L181.4 229.6ZM296.7 233.7L301.4 235.3L303.9 232.3L299.2 230.6ZM189.6 232.9L194.1 234.5L197 231.5L192.5 229.8ZM200.7 233.1L205.3 234.8L208.1 231.7L203.6 230.1ZM149.2 233.4L153.7 235.1L156.7 232.1L152.3 230.4ZM160.4 233.7L164.8 235.4L167.8 232.3L163.4 230.6ZM171.5 233.9L176 235.6L178.9 232.5L174.5 230.9ZM289.9 234.9L294.6 236.6L297.2 233.6L292.4 231.9ZM182.6 234.1L187.1 235.8L190.1 232.8L185.6 231.1ZM301 235.2L305.8 236.8L308.3 233.8L303.6 232.1ZM193.8 234.4L198.3 236.1L201.2 233L196.7 231.3ZM153.4 234.9L157.8 236.6L160.8 233.6L156.4 231.9ZM164.5 235.2L169 236.9L172 233.8L167.5 232.1ZM283.1 236.2L287.8 237.9L290.4 234.8L285.7 233.2ZM175.7 235.4L180.2 237.1L183.1 234L178.6 232.3ZM294.2 236.4L299 238.1L301.5 235.1L296.8 233.4ZM186.8 235.6L191.4 237.3L194.3 234.3L189.7 232.6ZM198 235.9L202.5 237.6L205.4 234.5L200.9 232.8ZM146.3 236.2L150.8 237.9L153.8 234.8L149.4 233.2ZM157.5 236.4L162 238.1L165 235.1L160.5 233.4ZM168.7 236.7L173.2 238.4L176.2 235.3L171.7 233.6ZM287.4 237.7L292.1 239.4L294.7 236.3L290 234.7ZM179.8 236.9L184.4 238.6L187.3 235.5L182.8 233.8ZM298.6 237.9L303.4 239.6L305.9 236.6L301.2 234.9ZM191 237.1L195.6 238.8L198.5 235.8L193.9 234.1ZM150.5 237.7L155 239.4L158 236.4L153.5 234.7ZM161.7 238L166.2 239.7L169.2 236.6L164.7 234.9ZM280.6 239L285.3 240.7L287.9 237.6L283.2 235.9ZM172.9 238.2L177.4 239.9L180.3 236.8L175.8 235.1ZM291.8 239.2L296.5 240.9L299.1 237.8L294.4 236.2ZM184.1 238.4L188.6 240.1L191.5 237L187 235.3ZM195.2 238.6L199.8 240.4L202.7 237.3L198.1 235.6ZM143.4 239L147.9 240.7L151 237.6L146.5 235.9ZM154.6 239.2L159.1 240.9L162.2 237.9L157.7 236.2ZM165.8 239.5L170.4 241.2L173.3 238.1L168.8 236.4ZM285 240.5L289.7 242.2L292.3 239.1L287.6 237.4ZM177.1 239.7L181.6 241.4L184.5 238.3L180 236.6ZM296.2 240.7L300.9 242.4L303.5 239.4L298.8 237.7ZM188.3 239.9L192.8 241.6L195.7 238.6L191.2 236.9ZM147.6 240.5L152.1 242.2L155.1 239.1L150.7 237.4ZM158.8 240.8L163.3 242.5L166.3 239.4L161.8 237.7ZM278.1 241.8L282.8 243.5L285.4 240.4L280.7 238.7ZM170 241L174.6 242.7L177.5 239.6L173 237.9ZM289.3 242L294.1 243.7L296.7 240.6L291.9 238.9ZM181.3 241.2L185.8 242.9L188.8 239.8L184.2 238.1ZM192.5 241.5L197.1 243.2L200 240.1L195.4 238.4ZM140.5 241.8L145 243.5L148.1 240.4L143.6 238.7ZM151.8 242L156.3 243.8L159.3 240.7L154.8 238.9ZM163 242.3L167.5 244L170.5 240.9L166 239.2ZM282.5 243.3L287.2 245L289.8 241.9L285.1 240.2ZM174.2 242.5L178.8 244.2L181.8 241.1L177.2 239.4ZM293.7 243.6L298.5 245.3L301.1 242.2L296.3 240.5ZM185.5 242.7L190 244.5L193 241.4L188.4 239.6ZM144.7 243.3L149.2 245.1L152.2 242L147.8 240.2ZM155.9 243.6L160.4 245.3L163.5 242.2L159 240.5ZM275.6 244.6L280.3 246.3L283 243.2L278.2 241.5ZM167.2 243.8L171.7 245.5L174.7 242.4L170.2 240.7ZM286.9 244.9L291.6 246.6L294.2 243.5L289.5 241.8ZM178.5 244L183 245.8L186 242.7L181.4 240.9ZM189.7 244.3L194.3 246L197.2 242.9L192.7 241.2ZM137.6 244.6L142.1 246.4L145.2 243.2L140.7 241.5ZM148.9 244.9L153.4 246.6L156.4 243.5L151.9 241.8ZM160.1 245.1L164.7 246.8L167.7 243.7L163.2 242ZM280 246.2L284.7 247.9L287.4 244.8L282.6 243ZM171.4 245.3L176 247.1L178.9 244L174.4 242.2ZM291.3 246.4L296 248.1L298.6 245L293.9 243.3ZM182.7 245.6L187.3 247.3L190.2 244.2L185.7 242.5ZM141.8 246.2L146.3 247.9L149.3 244.8L144.9 243.1ZM153 246.4L157.6 248.1L160.6 245L156.1 243.3ZM273.1 247.5L277.8 249.2L280.5 246.1L275.7 244.3ZM164.3 246.6L168.9 248.4L171.9 245.3L167.4 243.5ZM284.4 247.7L289.1 249.4L291.8 246.3L287 244.6ZM175.6 246.9L180.2 248.6L183.2 245.5L178.6 243.8ZM186.9 247.1L191.5 248.9L194.5 245.7L189.9 244ZM134.6 247.5L139.1 249.2L142.2 246.1L137.8 244.4ZM145.9 247.7L150.5 249.5L153.5 246.3L149 244.6ZM157.2 248L161.8 249.7L164.8 246.6L160.3 244.8ZM277.5 249L282.2 250.7L284.9 247.6L280.1 245.9ZM168.6 248.2L173.1 249.9L176.1 246.8L171.6 245.1ZM288.8 249.2L293.6 251L296.2 247.8L291.4 246.1ZM179.9 248.4L184.5 250.2L187.4 247L182.9 245.3ZM138.8 249L143.3 250.8L146.4 247.6L141.9 245.9ZM150.1 249.3L154.7 251L157.7 247.9L153.2 246.1ZM270.5 250.3L275.3 252.1L278 248.9L273.2 247.2ZM161.5 249.5L166 251.2L169.1 248.1L164.5 246.4ZM281.9 250.6L286.6 252.3L289.3 249.1L284.5 247.4ZM172.8 249.7L177.4 251.5L180.4 248.3L175.8 246.6ZM184.1 250L188.7 251.7L191.7 248.6L187.1 246.8ZM131.7 250.3L136.2 252.1L139.3 248.9L134.8 247.2ZM143 250.6L147.5 252.3L150.6 249.2L146.1 247.4ZM154.3 250.8L158.9 252.6L162 249.4L157.4 247.7ZM274.9 251.9L279.7 253.6L282.4 250.5L277.6 248.7ZM165.7 251.1L170.3 252.8L173.3 249.6L168.7 247.9ZM286.3 252.1L291.1 253.9L293.7 250.7L288.9 249ZM177 251.3L181.6 253L184.6 249.9L180 248.1ZM135.9 251.9L140.4 253.7L143.5 250.5L139 248.7ZM147.2 252.1L151.7 253.9L154.8 250.7L150.3 249ZM268 253.2L272.7 254.9L275.4 251.8L270.7 250ZM158.6 252.4L163.1 254.1L166.2 251L161.6 249.2ZM279.4 253.4L284.1 255.2L286.8 252L282 250.3ZM169.9 252.6L174.5 254.4L177.5 251.2L173 249.5ZM181.3 252.9L185.9 254.6L188.9 251.4L184.3 249.7ZM128.7 253.2L133.2 255L136.3 251.8L131.8 250.1ZM140.1 253.5L144.6 255.2L147.7 252L143.2 250.3ZM151.4 253.7L156 255.5L159.1 252.3L154.5 250.5ZM272.4 254.8L277.2 256.5L279.8 253.3L275.1 251.6ZM162.8 253.9L167.4 255.7L170.4 252.5L165.9 250.8ZM283.8 255L288.6 256.7L291.2 253.6L286.4 251.8ZM174.2 254.2L178.8 255.9L181.8 252.8L177.2 251ZM132.9 254.8L137.4 256.6L140.5 253.4L136 251.6ZM144.3 255L148.8 256.8L151.9 253.6L147.4 251.9ZM265.4 256.1L270.2 257.8L272.9 254.7L268.1 252.9ZM155.7 255.3L160.2 257L163.3 253.8L158.7 252.1ZM276.8 256.3L281.6 258.1L284.3 254.9L279.5 253.2ZM167.1 255.5L171.6 257.3L174.7 254.1L170.1 252.3ZM178.5 255.7L183.1 257.5L186.1 254.3L181.5 252.6ZM125.7 256.1L130.2 257.9L133.4 254.7L128.9 252.9ZM137.1 256.4L141.6 258.1L144.8 254.9L140.2 253.2ZM148.5 256.6L153 258.4L156.2 255.2L151.6 253.4ZM269.8 257.7L274.6 259.4L277.3 256.2L272.5 254.5ZM159.9 256.8L164.5 258.6L167.6 255.4L163 253.7ZM281.3 257.9L286.1 259.7L288.7 256.5L283.9 254.7ZM171.3 257.1L175.9 258.8L179 255.7L174.4 253.9ZM129.9 257.7L134.4 259.5L137.6 256.3L133.1 254.5ZM141.3 257.9L145.8 259.7L149 256.5L144.4 254.7ZM262.8 259L267.6 260.8L270.3 257.6L265.6 255.8ZM152.7 258.2L157.3 260L160.4 256.7L155.8 255ZM274.3 259.2L279.1 261L281.8 257.8L277 256.1ZM164.2 258.4L168.8 260.2L171.8 257L167.2 255.2ZM175.6 258.7L180.2 260.4L183.2 257.2L178.6 255.5ZM122.6 259L127.2 260.8L130.4 257.6L125.9 255.8ZM134.1 259.3L138.6 261.1L141.8 257.8L137.3 256.1ZM145.5 259.5L150.1 261.3L153.2 258.1L148.7 256.3ZM267.3 260.6L272 262.4L274.8 259.1L270 257.4ZM157 259.8L161.6 261.5L164.7 258.3L160.1 256.6ZM278.7 260.8L283.5 262.6L286.2 259.4L281.4 257.6ZM168.4 260L173 261.8L176.1 258.6L171.5 256.8ZM126.9 260.6L131.4 262.4L134.6 259.2L130.1 257.4ZM138.3 260.9L142.9 262.6L146 259.4L141.5 257.6ZM260.2 261.9L265 263.7L267.7 260.5L263 258.7ZM149.8 261.1L154.4 262.9L157.5 259.7L152.9 257.9ZM271.7 262.2L276.5 263.9L279.2 260.7L274.4 259ZM161.3 261.3L165.9 263.1L168.9 259.9L164.3 258.1ZM172.7 261.6L177.4 263.4L180.4 260.1L175.8 258.4ZM119.6 262L124.1 263.8L127.3 260.5L122.8 258.7ZM131.1 262.2L135.6 264L138.8 260.8L134.3 259ZM142.6 262.5L147.1 264.2L150.3 261L145.7 259.2ZM264.7 263.5L269.5 265.3L272.2 262.1L267.4 260.3ZM154 262.7L158.6 264.5L161.7 261.3L157.2 259.5ZM276.2 263.8L281 265.5L283.7 262.3L278.9 260.5ZM165.5 262.9L170.2 264.7L173.2 261.5L168.6 259.7ZM123.8 263.6L128.4 265.4L131.6 262.1L127 260.3ZM135.3 263.8L139.9 265.6L143.1 262.4L138.5 260.6ZM257.6 264.9L262.4 266.7L265.2 263.4L260.4 261.7ZM146.8 264L151.4 265.8L154.5 262.6L150 260.8ZM269.1 265.1L273.9 266.9L276.7 263.7L271.9 261.9ZM158.3 264.3L162.9 266.1L166 262.8L161.4 261.1ZM169.8 264.5L174.5 266.3L177.5 263.1L172.9 261.3ZM116.5 264.9L121.1 266.7L124.3 263.5L119.8 261.7ZM128 265.2L132.6 267L135.8 263.7L131.3 261.9ZM139.6 265.4L144.1 267.2L147.3 264L142.7 262.2ZM262.1 266.5L266.9 268.3L269.6 265L264.8 263.2ZM151.1 265.7L155.7 267.5L158.8 264.2L154.2 262.4ZM273.6 266.7L278.4 268.5L281.1 265.3L276.3 263.5ZM162.6 265.9L167.2 267.7L170.3 264.4L165.7 262.7ZM120.8 266.5L125.3 268.3L128.5 265.1L124 263.3ZM132.3 266.8L136.9 268.6L140.1 265.3L135.5 263.5ZM255 267.8L259.8 269.6L262.5 266.4L257.8 264.6ZM143.8 267L148.4 268.8L151.6 265.6L147 263.8ZM266.5 268.1L271.3 269.9L274.1 266.6L269.3 264.8ZM155.4 267.3L160 269.1L163.1 265.8L158.5 264ZM166.9 267.5L171.6 269.3L174.6 266L170 264.2ZM113.4 267.9L118 269.7L121.3 266.4L116.7 264.6ZM125 268.1L129.6 269.9L132.8 266.7L128.2 264.9ZM136.6 268.4L141.1 270.2L144.3 266.9L139.7 265.1ZM259.4 269.5L264.2 271.3L267 268L262.2 266.2ZM148.1 268.6L152.7 270.4L155.9 267.2L151.3 265.4ZM271 269.7L275.9 271.5L278.6 268.2L273.7 266.4ZM159.7 268.9L164.3 270.7L167.4 267.4L162.8 265.6ZM106.1 269.3L110.7 271.1L113.9 267.8L109.4 266ZM117.7 269.5L122.2 271.3L125.5 268L120.9 266.2ZM129.3 269.8L133.8 271.6L137 268.3L132.5 266.5ZM252.3 270.8L257.1 272.6L259.9 269.4L255.1 267.6ZM140.8 270L145.4 271.8L148.6 268.5L144 266.7ZM263.9 271.1L268.7 272.9L271.5 269.6L266.7 267.8ZM152.4 270.2L157 272.1L160.2 268.8L155.6 267ZM164 270.5L168.6 272.3L171.7 269L167.1 267.2ZM110.3 270.9L114.9 272.7L118.2 269.4L113.6 267.6ZM121.9 271.1L126.5 272.9L129.7 269.7L125.2 267.8ZM133.5 271.4L138.1 273.2L141.3 269.9L136.7 268.1ZM256.8 272.5L261.6 274.3L264.4 271L259.6 269.2ZM145.1 271.6L149.7 273.4L152.9 270.1L148.3 268.3ZM268.4 272.7L273.3 274.5L276 271.2L271.2 269.4ZM156.7 271.9L161.4 273.7L164.5 270.4L159.9 268.6ZM103 272.3L107.5 274.1L110.8 270.8L106.3 269ZM114.6 272.5L119.2 274.3L122.4 271L117.9 269.2ZM126.2 272.8L130.8 274.6L134 271.3L129.4 269.5ZM249.6 273.8L254.5 275.7L257.3 272.4L252.5 270.6ZM137.8 273L142.4 274.8L145.6 271.5L141 269.7ZM261.3 274.1L266.1 275.9L268.9 272.6L264.1 270.8ZM149.4 273.2L154.1 275.1L157.2 271.8L152.6 270ZM161 273.5L165.7 275.3L168.8 272L164.2 270.2ZM95.6 273.6L100.1 275.5L103.5 272.2L99 270.3ZM107.2 273.9L111.8 275.7L115.1 272.4L110.5 270.6ZM118.8 274.1L123.4 276L126.7 272.7L122.1 270.8ZM130.5 274.4L135.1 276.2L138.3 272.9L133.7 271.1ZM254.1 275.5L259 277.3L261.8 274L256.9 272.2ZM142.1 274.6L146.7 276.5L149.9 273.2L145.3 271.3ZM265.8 275.7L270.6 277.5L273.4 274.2L268.6 272.4ZM153.7 274.9L158.4 276.7L161.5 273.4L156.9 271.6ZM99.8 275.3L104.4 277.1L107.7 273.8L103.2 272ZM111.5 275.5L116 277.4L119.3 274L114.8 272.2ZM123.1 275.8L127.7 277.6L131 274.3L126.4 272.5ZM247 276.9L251.8 278.7L254.6 275.4L249.8 273.6ZM134.8 276L139.4 277.9L142.6 274.5L138 272.7ZM258.6 277.1L263.5 278.9L266.3 275.6L261.4 273.8ZM146.4 276.3L151.1 278.1L154.2 274.8L149.6 273ZM158.1 276.5L162.7 278.4L165.9 275L161.2 273.2ZM104.1 276.9L108.6 278.8L112 275.4L107.4 273.6ZM115.7 277.2L120.3 279L123.6 275.7L119 273.8ZM127.4 277.4L132 279.3L135.3 275.9L130.7 274.1ZM251.5 278.5L256.3 280.3L259.1 277L254.3 275.2ZM139.1 277.7L143.7 279.5L146.9 276.2L142.3 274.3ZM263.1 278.8L268 280.6L270.8 277.3L265.9 275.4ZM150.7 277.9L155.4 279.8L158.6 276.4L153.9 274.6ZM108.3 278.6L112.9 280.4L116.2 277.1L111.7 275.2ZM120 278.8L124.6 280.7L127.9 277.3L123.3 275.5ZM244.3 279.9L249.1 281.7L251.9 278.4L247.1 276.6ZM131.7 279.1L136.3 280.9L139.6 277.6L134.9 275.7ZM256 280.2L260.8 282L263.6 278.7L258.8 276.8ZM143.4 279.3L148 281.2L151.2 277.8L146.6 276ZM155.1 279.6L159.8 281.4L162.9 278.1L158.2 276.2ZM112.6 280.2L117.2 282.1L120.5 278.7L115.9 276.9ZM124.3 280.5L128.9 282.3L132.2 279L127.6 277.1ZM248.8 281.6L253.6 283.4L256.5 280.1L251.6 278.2ZM136 280.7L140.7 282.6L143.9 279.2L139.3 277.4ZM260.5 281.8L265.4 283.7L268.2 280.3L263.3 278.5ZM147.7 281L152.4 282.8L155.6 279.5L150.9 277.6ZM116.9 281.9L121.5 283.7L124.8 280.4L120.2 278.5ZM241.5 283L246.4 284.8L249.3 281.5L244.4 279.6ZM128.6 282.1L133.3 284L136.5 280.6L131.9 278.8ZM253.3 283.2L258.2 285.1L261 281.7L256.1 279.9ZM140.3 282.4L145 284.2L148.2 280.9L143.6 279ZM152.1 282.6L156.8 284.5L159.9 281.1L155.3 279.3ZM121.2 283.5L125.8 285.4L129.1 282L124.5 280.2ZM246.1 284.6L250.9 286.5L253.8 283.1L248.9 281.3ZM132.9 283.8L137.6 285.7L140.8 282.3L136.2 280.4ZM257.8 284.9L262.7 286.7L265.5 283.4L260.6 281.5ZM144.7 284L149.4 285.9L152.6 282.5L147.9 280.7ZM238.8 286.1L243.7 287.9L246.5 284.5L241.7 282.7ZM125.5 285.2L130.2 287.1L133.4 283.7L128.8 281.8ZM250.6 286.3L255.5 288.2L258.3 284.8L253.4 282.9ZM137.3 285.5L141.9 287.3L145.2 283.9L140.5 282.1ZM149.1 285.7L153.7 287.6L156.9 284.2L152.3 282.3ZM243.3 287.7L248.2 289.6L251.1 286.2L246.2 284.4ZM129.9 286.9L134.5 288.8L137.8 285.4L133.1 283.5ZM255.1 288L260 289.8L262.9 286.5L258 284.6ZM141.6 287.1L146.3 289L149.5 285.6L144.9 283.8ZM236 289.2L240.9 291L243.8 287.6L239 285.8ZM247.9 289.4L252.8 291.3L255.6 287.9L250.7 286ZM134.2 288.6L138.9 290.4L142.1 287L137.5 285.2ZM146 288.8L150.7 290.7L153.9 287.3L149.2 285.4ZM240.6 290.8L245.5 292.7L248.4 289.3L243.5 287.4ZM138.6 290.2L143.2 292.1L146.5 288.7L141.8 286.8ZM233.3 292.3L238.1 294.2L241.1 290.7L236.2 288.9ZM245.1 292.5L250 294.4L252.9 291L248 289.1ZM142.9 291.9L147.6 293.8L150.9 290.4L146.2 288.5ZM237.8 294L242.7 295.9L245.6 292.4L240.7 290.6ZM230.5 295.4L235.4 297.3L238.3 293.9L233.4 292ZM242.4 295.7L247.3 297.6L250.2 294.1L245.3 292.3ZM235 297.1L239.9 299L242.9 295.6L238 293.7ZM227.7 298.6L232.6 300.5L235.5 297L230.6 295.1ZM239.6 298.8L244.5 300.7L247.4 297.3L242.5 295.4ZM232.2 300.3L237.1 302.2L240.1 298.7L235.2 296.8ZM328 302.4L333.1 304.3L335.7 300.8L330.6 298.9ZM224.8 301.8L229.7 303.7L232.7 300.2L227.8 298.3ZM236.8 302L241.7 303.9L244.7 300.5L239.8 298.6ZM229.4 303.5L234.3 305.4L237.3 301.9L232.4 300ZM325.5 305.6L330.6 307.5L333.2 304L328.1 302.1ZM222 305L226.9 306.9L229.9 303.4L225 301.5ZM234 305.2L238.9 307.2L241.9 303.7L237 301.7ZM226.6 306.7L231.5 308.7L234.5 305.1L229.6 303.2ZM323 308.8L328.1 310.7L330.7 307.2L325.6 305.3ZM219.1 308.2L224.1 310.1L227.1 306.6L222.2 304.7ZM231.2 308.5L236.1 310.4L239.1 306.9L234.2 305ZM223.7 310L228.7 311.9L231.7 308.4L226.7 306.4ZM320.4 312.1L325.6 314L328.2 310.5L323.1 308.5ZM216.3 311.5L221.2 313.4L224.2 309.9L219.3 307.9ZM228.3 311.7L233.3 313.7L236.3 310.1L231.3 308.2ZM220.9 313.2L225.8 315.2L228.8 311.6L223.9 309.7ZM317.9 315.3L323 317.3L325.7 313.7L320.6 311.8ZM213.3 314.7L218.3 316.7L221.3 313.1L216.4 311.2ZM225.5 315L230.4 316.9L233.5 313.4L228.5 311.4ZM218 316.5L222.9 318.5L226 314.9L221 312.9ZM315.3 318.6L320.4 320.6L323.1 317L318 315ZM210.4 318L215.4 320L218.5 316.4L213.5 314.4ZM222.6 318.3L227.6 320.3L230.6 316.7L225.6 314.7ZM215.1 319.8L220 321.8L223.1 318.2L218.1 316.2ZM312.7 321.9L317.9 323.9L320.6 320.3L315.4 318.3ZM219.7 321.6L224.7 323.6L227.7 320L222.8 318ZM310.1 325.3L315.3 327.3L318 323.6L312.8 321.7ZM307.5 328.6L312.7 330.6L315.4 327L310.2 325ZM304.8 332L310 334L312.8 330.4L307.6 328.4ZM302.2 335.4L307.4 337.4L310.2 333.7L305 331.7ZM299.5 338.8L304.7 340.9L307.5 337.2L302.3 335.1ZM296.8 342.3L302 344.4L304.8 340.6L299.6 338.6ZM294.1 345.8L299.3 347.8L302.2 344.1L296.9 342ZM291.3 349.3L296.6 351.4L299.5 347.6L294.2 345.5Z" fill="#a8d0f8"/><path d="M261.3 120.7L265.4 122L267.8 119.6L263.6 118.3Z" fill="#c0a8d4"/><path d="M296.1 125.7L300.3 127L302.6 124.6L298.4 123.3ZM282.6 144.5L286.8 145.9L289.2 143.4L284.9 142ZM277.5 154.8L281.8 156.3L284.2 153.7L279.9 152.3ZM252.4 291.1L257.3 293L260.2 289.6L255.3 287.7ZM249.7 294.2L254.6 296.1L257.5 292.7L252.6 290.8Z" fill="#a8ccf8"/><path d="M300 126.9L304.2 128.2L306.4 125.8L302.2 124.5ZM281.5 156.1L285.8 157.5L288.2 154.9L283.9 153.5ZM257 292.8L261.9 294.7L264.8 291.3L259.8 289.4Z" fill="#8ca0cc"/><path d="M303.8 128L308.1 129.4L310.3 127L306.1 125.6ZM425 192L429.8 193.6L431.8 190.8L427.1 189.3ZM261.6 294.5L266.5 296.4L269.3 292.9L264.4 291.1Z" fill="#5c5084"/><path d="M297.8 129L302.1 130.4L304.3 128L300.1 126.6ZM424.1 179.4L428.7 180.9L430.8 178.2L426.1 176.7ZM259.7 289.7L264.6 291.5L267.4 288.1L262.5 286.3Z" fill="#90a4d4"/><path d="M307.7 129.2L311.9 130.6L314.2 128.1L309.9 126.8ZM311.6 130.4L315.8 131.8L318.1 129.3L313.8 128ZM305.6 131.4L309.8 132.8L312.1 130.3L307.8 129ZM309.5 132.6L313.7 133.9L316 131.5L311.7 130.1ZM303.4 133.6L307.7 134.9L310 132.5L305.7 131.1ZM307.3 134.8L311.6 136.1L313.9 133.7L309.6 132.3ZM301.3 135.8L305.6 137.1L307.8 134.7L303.6 133.3ZM305.2 137L309.5 138.3L311.8 135.9L307.5 134.5ZM303.1 139.2L307.4 140.6L309.6 138.1L305.3 136.7ZM307 140.4L311.3 141.8L313.6 139.3L309.3 137.9ZM300.9 141.4L305.2 142.8L307.5 140.3L303.2 138.9ZM304.8 142.6L309.2 144L311.4 141.5L307.1 140.1ZM298.7 143.6L303 145L305.3 142.5L301 141.1ZM302.7 144.9L307 146.3L309.3 143.8L305 142.4ZM296.6 145.9L300.9 147.3L303.2 144.8L298.9 143.4ZM300.5 147.1L304.8 148.5L307.1 146L302.8 144.6ZM294.4 148.2L298.7 149.6L301 147L296.7 145.6ZM298.3 149.4L302.7 150.8L305 148.3L300.6 146.9ZM296.1 151.7L300.5 153.1L302.8 150.5L298.5 149.1ZM293.9 154L298.3 155.4L300.6 152.8L296.3 151.4ZM297.9 155.2L302.3 156.7L304.6 154.1L300.2 152.7ZM291.7 156.3L296 157.7L298.4 155.1L294.1 153.7ZM295.7 157.5L300 159L302.4 156.4L298 155ZM289.5 158.6L293.8 160L296.2 157.5L291.8 156ZM293.5 159.9L297.8 161.3L300.2 158.7L295.8 157.3ZM287.2 160.9L291.6 162.4L294 159.8L289.6 158.3ZM291.2 162.2L295.6 163.7L298 161.1L293.6 159.6ZM289 164.6L293.4 166L295.7 163.4L291.4 161.9ZM293 165.8L297.4 167.3L299.8 164.7L295.4 163.2ZM286.7 166.9L291.1 168.4L293.5 165.8L289.1 164.3ZM290.7 168.2L295.1 169.7L297.5 167L293.1 165.6ZM284.4 169.3L288.8 170.8L291.2 168.1L286.8 166.7ZM288.5 170.6L292.9 172.1L295.3 169.4L290.9 168ZM282.1 171.7L286.5 173.2L289 170.5L284.6 169ZM286.2 173L290.6 174.5L293 171.8L288.6 170.3ZM279.8 174.1L284.2 175.6L286.7 172.9L282.3 171.4ZM283.9 175.4L288.3 176.9L290.7 174.2L286.3 172.7ZM367.5 177.1L372 178.6L374.2 175.9L369.6 174.4ZM277.5 176.5L281.9 178L284.4 175.3L280 173.8ZM371.7 178.4L376.2 179.9L378.4 177.2L373.8 175.7ZM281.6 177.9L286 179.4L288.5 176.7L284 175.2ZM275.2 179L279.6 180.5L282.1 177.8L277.7 176.3ZM369.6 180.8L374.2 182.4L376.4 179.6L371.8 178.1ZM279.3 180.3L283.7 181.8L286.2 179.1L281.7 177.6ZM272.8 181.4L277.3 182.9L279.8 180.2L275.3 178.7ZM367.5 183.3L372.1 184.8L374.3 182.1L369.7 180.6ZM276.9 182.8L281.4 184.3L283.8 181.5L279.4 180ZM270.5 183.9L274.9 185.4L277.4 182.7L273 181.1ZM365.4 185.8L370 187.3L372.2 184.6L367.6 183ZM274.6 185.2L279 186.8L281.5 184L277.1 182.5ZM268.1 186.4L272.6 187.9L275.1 185.1L270.6 183.6ZM363.3 188.3L368 189.8L370.2 187L365.6 185.5ZM272.2 187.7L276.7 189.2L279.2 186.5L274.7 185ZM265.7 188.9L270.2 190.4L272.7 187.6L268.3 186.1ZM361.2 190.8L365.9 192.3L368.1 189.5L363.5 188ZM269.8 190.2L274.3 191.8L276.8 189L272.4 187.4ZM263.3 191.4L267.8 192.9L270.3 190.1L265.9 188.6ZM359.1 193.3L363.7 194.8L366 192L361.3 190.5ZM267.4 192.7L271.9 194.3L274.5 191.5L270 189.9ZM482.7 194.5L487.6 196L489.4 193.2L484.6 191.7ZM260.9 193.9L265.4 195.4L267.9 192.6L263.5 191.1ZM427.5 195.9L432.2 197.5L434.3 194.7L429.5 193.1ZM357 195.8L361.6 197.4L363.9 194.6L359.2 193ZM265 195.3L269.5 196.8L272.1 194L267.6 192.5ZM481 197L485.8 198.6L487.7 195.8L482.8 194.2ZM258.5 196.4L263 198L265.5 195.2L261.1 193.6ZM425.5 198.5L430.3 200L432.3 197.2L427.6 195.7ZM354.8 198.4L359.5 199.9L361.7 197.1L357.1 195.5ZM262.6 197.8L267.1 199.4L269.7 196.5L265.2 195ZM429.9 199.9L434.7 201.4L436.7 198.6L432 197.1ZM256.1 199L260.5 200.5L263.1 197.7L258.6 196.1ZM423.6 201L428.4 202.6L430.4 199.8L425.6 198.2ZM352.7 200.9L357.3 202.5L359.6 199.7L354.9 198.1ZM260.2 200.4L264.7 201.9L267.3 199.1L262.8 197.5ZM428 202.4L432.8 204L434.8 201.2L430 199.6ZM253.6 201.5L258.1 203.1L260.7 200.3L256.2 198.7ZM421.6 203.6L426.4 205.2L428.5 202.3L423.7 200.8ZM350.5 203.5L355.2 205.1L357.4 202.2L352.8 200.7ZM257.7 202.9L262.3 204.5L264.8 201.7L260.3 200.1ZM426 205L430.8 206.6L432.9 203.7L428.1 202.2ZM251.1 204.1L255.6 205.7L258.2 202.8L253.7 201.3ZM419.6 206.2L424.4 207.8L426.5 204.9L421.7 203.4ZM348.3 206.1L353 207.7L355.3 204.8L350.6 203.2ZM255.3 205.5L259.8 207.1L262.4 204.2L257.9 202.7ZM424.1 207.6L428.9 209.2L430.9 206.3L426.1 204.8ZM248.6 206.7L253.2 208.3L255.8 205.4L251.3 203.8ZM346.1 208.7L350.8 210.3L353.1 207.4L348.4 205.8ZM252.8 208.1L257.3 209.7L260 206.8L255.4 205.2ZM422.1 210.2L426.9 211.8L429 208.9L424.2 207.4ZM246.1 209.3L250.7 210.9L253.3 208L248.8 206.4ZM343.9 211.3L348.6 212.9L350.9 210L346.2 208.4ZM250.3 210.7L254.9 212.4L257.5 209.5L253 207.9ZM420.1 212.9L424.9 214.5L427 211.6L422.2 210ZM243.6 212L248.2 213.6L250.8 210.7L246.3 209ZM341.7 213.9L346.4 215.6L348.7 212.6L344 211ZM247.8 213.4L252.4 215L255 212.1L250.5 210.5ZM418.1 215.5L422.9 217.1L425 214.2L420.2 212.6ZM241.1 214.6L245.6 216.2L248.3 213.3L243.8 211.7ZM339.4 216.6L344.1 218.2L346.5 215.3L341.8 213.7ZM245.3 216L249.8 217.7L252.5 214.7L248 213.1ZM416.1 218.2L420.9 219.8L423 216.8L418.2 215.2ZM238.6 217.3L243.1 218.9L245.8 215.9L241.3 214.3ZM337.2 219.3L341.9 220.9L344.3 218L339.6 216.3ZM242.8 218.7L247.3 220.3L250 217.4L245.4 215.8ZM414 220.8L418.9 222.5L421 219.5L416.2 217.9ZM236 219.9L240.6 221.6L243.3 218.6L238.7 217ZM334.9 222L339.6 223.6L342 220.6L337.3 219ZM240.2 221.4L244.8 223L247.5 220.1L242.9 218.4ZM412 223.5L416.9 225.2L419 222.2L414.2 220.6ZM233.4 222.6L238 224.3L240.7 221.3L236.2 219.7ZM332.6 224.7L337.4 226.3L339.8 223.3L335 221.7ZM237.6 224.1L242.2 225.7L244.9 222.8L240.4 221.1ZM410 226.2L414.8 227.9L417 224.9L412.1 223.3ZM230.8 225.3L235.4 227L238.1 224L233.6 222.3ZM330.3 227.4L335.1 229L337.5 226L332.8 224.4ZM235.1 226.8L239.6 228.5L242.4 225.5L237.8 223.8ZM407.9 229L412.8 230.6L415 227.6L410.1 226ZM228.2 228.1L232.8 229.7L235.6 226.7L231 225ZM239.3 228.3L243.9 229.9L246.6 226.9L242 225.3ZM328 230.1L332.8 231.8L335.2 228.8L330.5 227.1ZM232.5 229.5L237.1 231.2L239.8 228.2L235.2 226.5ZM405.8 231.7L410.7 233.4L412.9 230.4L408 228.7ZM225.6 230.8L230.2 232.5L233 229.4L228.4 227.8ZM236.7 231L241.3 232.7L244.1 229.7L239.5 228ZM325.7 232.9L330.5 234.5L332.9 231.5L328.2 229.8ZM229.9 232.3L234.5 234L237.2 230.9L232.6 229.3ZM403.7 234.5L408.7 236.1L410.8 233.1L405.9 231.4ZM223 233.5L227.6 235.2L230.3 232.2L225.8 230.5ZM234.1 233.8L238.7 235.5L241.5 232.4L236.9 230.7ZM323.4 235.6L328.1 237.3L330.6 234.3L325.8 232.6ZM227.2 235L231.8 236.7L234.6 233.7L230 232ZM401.6 237.2L406.6 238.9L408.8 235.9L403.9 234.2ZM220.3 236.3L224.9 238L227.7 235L223.1 233.3ZM231.5 236.6L236.1 238.3L238.9 235.2L234.3 233.5ZM321 238.4L325.8 240.1L328.3 237L323.5 235.4ZM224.6 237.8L229.2 239.5L232 236.5L227.4 234.8ZM399.5 240L404.5 241.7L406.7 238.7L401.8 237ZM217.7 239.1L222.3 240.8L225.1 237.7L220.5 236ZM228.9 239.3L233.5 241.1L236.3 238L231.7 236.3ZM318.6 241.2L323.4 242.9L325.9 239.8L321.2 238.1ZM221.9 240.6L226.5 242.3L229.4 239.3L224.7 237.6ZM397.4 242.8L402.3 244.5L404.6 241.5L399.7 239.8ZM215 241.9L219.6 243.6L222.4 240.5L217.8 238.8ZM226.2 242.2L230.8 243.9L233.6 240.8L229 239.1ZM316.3 244L321.1 245.7L323.6 242.6L318.8 240.9ZM219.2 243.4L223.9 245.2L226.7 242.1L222.1 240.4ZM395.3 245.7L400.2 247.4L402.5 244.3L397.5 242.6ZM212.3 244.7L216.9 246.5L219.7 243.4L215.1 241.6ZM223.5 245L228.2 246.7L231 243.6L226.4 241.9ZM313.9 246.9L318.7 248.6L321.2 245.5L316.4 243.8ZM216.6 246.3L221.2 248L224 244.9L219.4 243.2ZM393.1 248.5L398.1 250.2L400.3 247.1L395.4 245.4ZM209.5 247.6L214.2 249.3L217 246.2L212.4 244.5ZM220.9 247.8L225.5 249.6L228.3 246.4L223.7 244.7ZM311.5 249.7L316.3 251.4L318.8 248.3L314 246.6ZM213.8 249.1L218.5 250.9L221.3 247.7L216.7 246ZM390.9 251.4L395.9 253.1L398.2 250L393.2 248.2ZM206.8 250.4L211.4 252.2L214.3 249L209.7 247.3ZM218.2 250.7L222.8 252.4L225.7 249.3L221 247.5ZM309 252.6L313.9 254.3L316.4 251.2L311.6 249.4ZM211.1 252L215.8 253.8L218.6 250.6L214 248.9ZM388.8 254.3L393.7 256L396 252.8L391.1 251.1ZM204.1 253.3L208.7 255.1L211.6 251.9L207 250.2ZM215.4 253.6L220.1 255.3L223 252.1L218.3 250.4ZM306.6 255.5L311.4 257.2L314 254.1L309.2 252.3ZM208.4 254.9L213 256.7L215.9 253.5L211.3 251.7ZM386.6 257.1L391.6 258.9L393.9 255.7L388.9 254ZM201.3 256.2L205.9 258L208.9 254.8L204.2 253ZM212.7 256.5L217.4 258.2L220.3 255L215.6 253.3ZM304.2 258.4L309 260.1L311.6 257L306.7 255.2ZM205.6 257.8L210.3 259.6L213.2 256.4L208.5 254.6ZM384.4 260.1L389.4 261.8L391.7 258.6L386.7 256.9ZM198.5 259.1L203.2 260.9L206.1 257.7L201.4 255.9ZM301.7 261.3L306.5 263.1L309.1 259.9L304.3 258.1ZM202.8 260.7L207.5 262.5L210.4 259.3L205.8 257.5ZM382.1 263L387.2 264.8L389.5 261.6L384.5 259.8ZM195.7 262.1L200.4 263.9L203.3 260.6L198.7 258.9ZM299.2 264.3L304.1 266L306.7 262.8L301.8 261ZM200 263.7L204.7 265.5L207.7 262.2L203 260.4ZM379.9 266L384.9 267.7L387.3 264.5L382.3 262.7ZM192.9 265L197.5 266.8L200.5 263.6L195.9 261.8ZM296.7 267.2L301.6 269L304.2 265.8L299.3 264ZM197.2 266.6L201.9 268.4L204.9 265.2L200.2 263.4ZM377.7 268.9L382.7 270.7L385.1 267.5L380 265.7ZM190 268L194.7 269.8L197.7 266.5L193 264.7ZM294.2 270.2L299.1 272L301.7 268.7L296.8 266.9ZM194.4 269.6L199.1 271.4L202.1 268.1L197.4 266.3ZM375.4 271.9L380.4 273.7L382.8 270.4L377.8 268.7ZM187.2 271L191.9 272.8L194.9 269.5L190.2 267.7ZM291.6 273.2L296.5 275L299.2 271.7L294.3 269.9ZM191.5 272.6L196.2 274.4L199.3 271.1L194.6 269.3ZM373.1 274.9L378.2 276.7L380.6 273.4L375.5 271.6ZM184.3 274L189 275.8L192 272.5L187.3 270.7ZM195.9 274.2L200.6 276.1L203.6 272.8L198.9 270.9ZM289.1 276.2L294 278L296.7 274.7L291.8 272.9ZM188.7 275.6L193.4 277.5L196.4 274.1L191.7 272.3ZM370.8 278L375.9 279.8L378.3 276.5L373.3 274.7ZM293.7 277.9L298.6 279.7L301.3 276.4L296.3 274.5ZM181.4 277L186.1 278.9L189.2 275.5L184.5 273.7ZM193.1 277.3L197.8 279.1L200.8 275.8L196.1 274ZM286.5 279.3L291.5 281.1L294.2 277.8L289.2 275.9ZM185.8 278.7L190.5 280.5L193.6 277.2L188.8 275.3ZM368.5 281L373.6 282.8L376 279.5L371 277.7ZM291.1 280.9L296 282.7L298.7 279.4L293.8 277.6ZM178.5 280.1L183.2 281.9L186.3 278.6L181.6 276.7ZM190.2 280.3L194.9 282.2L198 278.8L193.2 277ZM284 282.3L288.9 284.2L291.6 280.8L286.7 279ZM182.9 281.7L187.6 283.6L190.7 280.2L186 278.4ZM366.2 284.1L371.3 285.9L373.7 282.6L368.7 280.7ZM288.5 284L293.5 285.8L296.2 282.5L291.3 280.6ZM175.5 283.1L180.3 285L183.4 281.6L178.7 279.8ZM187.3 283.4L192 285.2L195.1 281.9L190.4 280ZM281.4 285.4L286.3 287.2L289 283.9L284.1 282ZM180 284.8L184.7 286.7L187.8 283.3L183 281.4ZM363.9 287.2L369 289L371.4 285.6L366.3 283.8ZM274.2 286.8L279.1 288.7L281.8 285.3L276.9 283.4ZM285.9 287.1L290.9 288.9L293.6 285.5L288.7 283.7ZM172.6 286.2L177.3 288.1L180.4 284.7L175.7 282.8ZM184.4 286.5L189.1 288.3L192.2 284.9L187.5 283.1ZM278.7 288.5L283.7 290.4L286.4 287L281.5 285.1ZM177 287.9L181.8 289.8L184.9 286.4L180.1 284.5ZM361.5 290.3L366.6 292.1L369.1 288.7L364 286.9ZM271.5 289.9L276.5 291.8L279.2 288.4L274.3 286.5ZM283.3 290.2L288.3 292L291 288.6L286.1 286.8ZM169.6 289.3L174.4 291.2L177.5 287.8L172.8 285.9ZM181.4 289.6L186.2 291.5L189.3 288L184.5 286.2ZM276.1 291.6L281.1 293.5L283.8 290.1L278.9 288.2ZM174 291L178.8 292.9L181.9 289.5L177.2 287.6ZM359.2 293.4L364.3 295.3L366.8 291.8L361.7 290ZM268.9 293L273.8 294.9L276.6 291.5L271.7 289.6ZM280.7 293.3L285.7 295.2L288.5 291.8L283.5 289.9ZM166.6 292.4L171.4 294.3L174.5 290.9L169.8 289ZM178.5 292.7L183.3 294.6L186.4 291.2L181.6 289.3ZM273.5 294.7L278.4 296.6L281.2 293.2L276.3 291.3ZM171.1 294.1L175.8 296L179 292.6L174.2 290.7ZM356.8 296.5L361.9 298.4L364.4 295L359.3 293.1ZM266.2 296.2L271.1 298.1L274 294.6L269 292.8ZM278.1 296.4L283.1 298.3L285.8 294.9L280.9 293ZM163.6 295.6L168.4 297.5L171.6 294L166.8 292.2ZM175.5 295.8L180.3 297.7L183.4 294.3L178.7 292.4ZM270.8 297.9L275.8 299.8L278.6 296.3L273.6 294.5ZM168.1 297.3L172.8 299.2L176 295.8L171.2 293.9ZM354.4 299.7L359.5 301.6L362 298.1L356.9 296.3ZM263.5 299.4L268.5 301.3L271.3 297.8L266.3 295.9ZM275.4 299.6L280.4 301.5L283.2 298.1L278.2 296.2ZM160.6 298.8L165.4 300.7L168.6 297.2L163.8 295.3ZM172.5 299L177.3 300.9L180.5 297.5L175.7 295.6ZM268.1 301.1L273.1 303L275.9 299.5L270.9 297.6ZM165 300.5L169.8 302.4L173 298.9L168.2 297ZM352 302.9L357.1 304.8L359.7 301.3L354.5 299.4ZM260.8 302.5L265.7 304.5L268.6 301L263.6 299.1ZM169.5 302.2L174.3 304.1L177.5 300.6L172.7 298.7ZM356.8 304.6L361.9 306.5L364.5 303.1L359.3 301.1ZM265.4 304.3L270.4 306.2L273.2 302.7L268.3 300.8ZM349.5 306.1L354.7 308L357.3 304.5L352.1 302.6ZM258 305.8L263 307.7L265.9 304.2L260.9 302.3ZM354.3 307.8L359.5 309.8L362.1 306.3L356.9 304.3ZM347.1 309.3L352.3 311.3L354.8 307.7L349.7 305.8ZM255.3 309L260.3 310.9L263.2 307.4L258.2 305.5ZM351.9 311.1L357.1 313L359.7 309.5L354.5 307.6ZM344.6 312.6L349.8 314.5L352.4 311L347.2 309.1ZM252.5 312.2L257.5 314.2L260.4 310.6L255.5 308.7ZM349.5 314.4L354.7 316.3L357.2 312.7L352 310.8ZM342.2 315.9L347.3 317.8L350 314.2L344.8 312.3ZM249.7 315.5L254.8 317.5L257.7 313.9L252.7 312ZM403 317.2L408.3 319.1L410.7 315.6L405.4 313.6ZM347 317.6L352.2 319.6L354.8 316L349.6 314.1ZM254.4 317.3L259.5 319.3L262.4 315.7L257.4 313.7ZM339.7 319.2L344.9 321.1L347.5 317.5L342.3 315.6ZM246.9 318.8L252 320.8L254.9 317.2L249.9 315.2ZM400.7 320.5L406 322.5L408.4 318.9L403.1 316.9ZM344.5 320.9L349.7 322.9L352.3 319.3L347.1 317.4ZM251.6 320.6L256.7 322.6L259.6 319L254.6 317ZM337.2 322.5L342.4 324.4L345 320.8L339.8 318.9ZM244.1 322.1L249.2 324.1L252.1 320.5L247.1 318.5ZM398.4 323.8L403.7 325.8L406.1 322.2L400.8 320.2ZM342 324.3L347.2 326.3L349.9 322.6L344.7 320.7ZM248.8 323.9L253.9 325.9L256.8 322.3L251.8 320.3ZM403.3 325.6L408.7 327.6L411.1 324L405.8 322ZM334.6 325.8L339.9 327.8L342.5 324.2L337.3 322.2ZM241.3 325.5L246.3 327.5L249.3 323.8L244.3 321.8ZM396 327.2L401.4 329.1L403.8 325.5L398.5 323.5ZM339.5 327.6L344.7 329.6L347.4 326L342.2 324ZM246 327.3L251.1 329.3L254 325.6L249 323.6ZM401 329L406.4 331L408.8 327.3L403.5 325.3ZM332.1 329.2L337.3 331.2L340 327.5L334.8 325.5ZM238.4 328.8L243.5 330.8L246.5 327.2L241.4 325.2ZM393.7 330.5L399.1 332.5L401.5 328.9L396.2 326.9ZM337 331L342.2 333L344.9 329.3L339.6 327.3ZM243.1 330.7L248.2 332.7L251.2 329L246.2 327ZM398.7 332.4L404.1 334.4L406.5 330.7L401.2 328.7ZM329.5 332.6L334.8 334.6L337.5 330.9L332.2 328.9ZM391.3 333.9L396.7 335.9L399.2 332.3L393.8 330.3ZM334.4 334.4L339.7 336.4L342.4 332.7L337.1 330.7ZM396.4 335.8L401.8 337.8L404.2 334.1L398.8 332.1ZM326.9 336L332.2 338L334.9 334.3L329.7 332.3ZM389 337.3L394.4 339.4L396.8 335.7L391.5 333.6ZM331.9 337.8L337.1 339.9L339.8 336.1L334.6 334.1ZM394 339.2L399.4 341.2L401.9 337.5L396.5 335.5ZM324.3 339.4L329.6 341.4L332.3 337.7L327.1 335.7ZM386.6 340.8L392 342.8L394.5 339.1L389.1 337.1ZM329.3 341.3L334.6 343.3L337.3 339.6L332 337.5ZM391.6 342.6L397 344.7L399.5 340.9L394.1 338.9ZM321.7 342.9L327 344.9L329.8 341.2L324.5 339.1ZM384.2 344.2L389.6 346.3L392.1 342.5L386.7 340.5ZM326.7 344.7L332 346.8L334.7 343L329.4 341ZM389.2 346.1L394.7 348.2L397.2 344.4L391.8 342.4ZM319.1 346.3L324.4 348.4L327.2 344.6L321.9 342.6ZM381.8 347.7L387.2 349.8L389.7 346L384.3 344ZM324 348.2L329.4 350.3L332.1 346.5L326.8 344.4ZM386.8 349.6L392.3 351.7L394.8 347.9L389.4 345.8ZM316.4 349.8L321.8 351.9L324.5 348.1L319.2 346.1ZM379.3 351.2L384.8 353.3L387.3 349.5L381.9 347.4ZM321.4 351.7L326.7 353.8L329.5 350L324.2 347.9ZM384.4 353.1L389.9 355.2L392.4 351.4L387 349.3ZM313.8 353.4L319.1 355.5L321.9 351.6L316.6 349.6ZM376.9 354.8L382.3 356.9L384.9 353L379.5 351ZM318.8 355.3L324.1 357.4L326.9 353.5L321.6 351.5ZM382 356.7L387.4 358.8L390 354.9L384.5 352.9ZM311.1 356.9L316.4 359L319.2 355.2L313.9 353.1ZM374.4 358.3L379.9 360.4L382.5 356.6L377 354.5ZM316.1 358.8L321.4 360.9L324.2 357.1L318.9 355ZM379.5 360.3L385 362.4L387.6 358.5L382.1 356.4ZM371.9 361.9L377.4 364L380 360.2L374.5 358ZM377 363.9L382.5 366L385.1 362.1L379.6 360ZM369.4 365.5L374.9 367.7L377.5 363.7L372 361.6ZM374.5 367.5L380 369.6L382.7 365.7L377.2 363.6ZM366.9 369.2L372.4 371.3L375 367.4L369.5 365.2ZM372 371.1L377.5 373.3L380.2 369.3L374.7 367.2ZM364.3 372.8L369.9 375L372.5 371L367 368.9ZM369.5 374.8L375 377L377.7 373L372.2 370.8ZM361.8 376.5L367.3 378.7L370 374.7L364.5 372.5ZM367 378.5L372.5 380.7L375.2 376.7L369.6 374.5Z" fill="#50346c"/><path d="M301.7 130.2L305.9 131.6L308.2 129.1L304 127.8ZM391.7 154.7L396.2 156.1L398.2 153.6L393.7 152.2ZM389.7 157L394.2 158.4L396.3 155.9L391.8 154.4ZM387.7 159.3L392.3 160.8L394.3 158.2L389.8 156.8ZM385.8 161.7L390.3 163.1L392.4 160.5L387.9 159.1ZM383.8 164L388.3 165.5L390.4 162.9L385.9 161.4ZM381.8 166.4L386.3 167.8L388.4 165.2L383.9 163.8ZM375.6 167.5L380.2 168.9L382.3 166.3L377.8 164.8ZM437.7 168.7L442.4 170.2L444.3 167.5L439.7 166.1ZM379.8 168.8L384.3 170.2L386.5 167.6L381.9 166.1ZM373.6 169.9L378.1 171.3L380.3 168.7L375.7 167.2ZM435.9 171.1L440.5 172.5L442.5 169.9L437.8 168.4ZM377.8 171.2L382.3 172.6L384.5 170L379.9 168.5ZM371.6 172.2L376.1 173.7L378.3 171.1L373.7 169.6ZM434 173.5L438.7 175L440.6 172.3L436 170.8ZM375.7 173.6L380.3 175L382.5 172.4L377.9 170.9ZM438.3 174.8L443 176.3L444.9 173.6L440.3 172.1ZM436.4 177.2L441.1 178.7L443.1 176L438.4 174.5ZM434.6 179.6L439.3 181.1L441.2 178.4L436.5 177ZM432.7 182.1L437.4 183.6L439.4 180.9L434.7 179.4ZM430.8 184.6L435.5 186.1L437.5 183.3L432.8 181.8ZM435.1 185.9L439.8 187.4L441.8 184.7L437.1 183.2ZM428.9 187L433.6 188.6L435.6 185.8L430.9 184.3ZM433.2 188.4L438 189.9L440 187.2L435.2 185.6ZM427 189.5L431.7 191.1L433.7 188.3L429 186.8ZM431.3 190.9L436.1 192.4L438.1 189.7L433.3 188.1ZM264.3 291.3L269.2 293.2L272 289.8L267.1 288Z" fill="#605488"/><path d="M295.7 131.2L299.9 132.6L302.2 130.1L298 128.8ZM262.4 286.6L267.3 288.4L270.1 285L265.2 283.2Z" fill="#94acd8"/><path d="M299.6 132.4L303.8 133.8L306.1 131.3L301.8 129.9ZM430.3 178.3L434.9 179.8L436.9 177.1L432.3 175.6ZM266.9 288.2L271.9 290.1L274.6 286.7L269.7 284.9Z" fill="#645890"/><path d="M293.5 133.4L297.8 134.8L300.1 132.3L295.8 130.9ZM279.2 158.4L283.6 159.8L286 157.3L281.6 155.8ZM363.2 169.6L367.8 171.1L369.9 168.5L365.4 167ZM359.1 174.5L363.6 175.9L365.8 173.3L361.3 171.8ZM422.2 181.9L426.8 183.4L428.9 180.7L424.2 179.2ZM416.8 195.7L421.5 197.3L423.6 194.5L418.8 192.9ZM265 283.5L269.9 285.3L272.7 282L267.8 280.1Z" fill="#98b0dc"/><path d="M297.4 134.6L301.7 135.9L303.9 133.5L299.7 132.1ZM283.2 159.7L287.6 161.1L290 158.5L285.6 157.1ZM428.4 180.8L433.1 182.3L435.1 179.6L430.4 178.1ZM419.2 199.7L423.9 201.2L426 198.4L421.3 196.8ZM269.6 285.1L274.5 287L277.3 283.6L272.4 281.8Z" fill="#686094"/><path d="M291.4 135.6L295.6 137L297.9 134.5L293.7 133.1ZM367.3 164.9L371.8 166.4L374 163.7L369.5 162.3ZM357 176.9L361.6 178.4L363.8 175.7L359.2 174.2ZM270.3 277.4L275.2 279.2L277.9 275.9L273.1 274.1Z" fill="#9cb8e4"/><path d="M295.3 136.8L299.5 138.2L301.8 135.7L297.5 134.3ZM431.6 169.8L436.3 171.2L438.2 168.6L433.6 167.1ZM365.3 173.3L369.9 174.8L372.1 172.2L367.5 170.7ZM361.2 178.2L365.8 179.7L367.9 177L363.4 175.5ZM426.5 183.2L431.2 184.7L433.2 182L428.5 180.5Z" fill="#6c689c"/><path d="M289.2 137.8L293.4 139.2L295.7 136.7L291.5 135.3ZM379.3 151L383.8 152.4L385.9 149.8L381.4 148.4ZM282 150.2L286.3 151.7L288.7 149.1L284.4 147.7ZM377.4 153.3L381.8 154.7L383.9 152.1L379.5 150.7ZM375.4 155.6L379.9 157L382 154.4L377.5 153ZM373.4 157.9L377.9 159.3L380 156.7L375.5 155.3ZM412.8 200.8L417.6 202.4L419.7 199.6L414.9 198ZM235.8 310.2L240.8 312.2L243.7 308.6L238.8 306.7Z" fill="#a0c0ec"/><path d="M299.2 138L303.4 139.4L305.7 136.9L301.4 135.5ZM285 163.3L289.3 164.7L291.7 162.1L287.3 160.7ZM365.4 179.5L370 181L372.2 178.3L367.6 176.8ZM363.3 182L367.9 183.5L370.1 180.8L365.5 179.3ZM361.2 184.4L365.8 185.9L368 183.2L363.4 181.7ZM359.1 186.9L363.7 188.4L365.9 185.7L361.3 184.2ZM357 189.4L361.6 190.9L363.8 188.2L359.2 186.6ZM354.8 191.9L359.5 193.5L361.7 190.7L357.1 189.1ZM352.7 194.4L357.3 196L359.6 193.2L355 191.6ZM350.5 197L355.2 198.5L357.5 195.7L352.8 194.2ZM348.4 199.5L353 201.1L355.3 198.3L350.7 196.7ZM346.2 202.1L350.8 203.7L353.1 200.8L348.5 199.3ZM344 204.7L348.7 206.3L351 203.4L346.3 201.8ZM341.8 207.3L346.5 208.9L348.8 206L344.1 204.4ZM417.6 208.8L422.5 210.4L424.5 207.5L419.7 205.9ZM339.6 209.9L344.2 211.5L346.6 208.6L341.9 207ZM415.6 211.4L420.5 213L422.6 210.1L417.8 208.5ZM337.3 212.5L342 214.1L344.4 211.2L339.7 209.6ZM413.6 214.1L418.5 215.7L420.6 212.8L415.8 211.2ZM335.1 215.2L339.8 216.8L342.1 213.9L337.5 212.2ZM411.6 216.7L416.4 218.3L418.6 215.4L413.8 213.8ZM332.8 217.8L337.5 219.4L339.9 216.5L335.2 214.9ZM409.6 219.4L414.4 221L416.6 218.1L411.7 216.5ZM330.5 220.5L335.3 222.1L337.7 219.2L332.9 217.6ZM407.5 222.1L412.4 223.7L414.5 220.7L409.7 219.1ZM328.3 223.2L333 224.8L335.4 221.9L330.7 220.2ZM405.5 224.8L410.3 226.4L412.5 223.4L407.6 221.8ZM325.9 225.9L330.7 227.5L333.1 224.6L328.4 222.9ZM403.4 227.5L408.3 229.1L410.5 226.1L405.6 224.5ZM323.6 228.6L328.4 230.3L330.8 227.3L326.1 225.6ZM401.3 230.2L406.2 231.9L408.4 228.9L403.5 227.2ZM321.3 231.4L326.1 233L328.5 230L323.8 228.4ZM399.2 233L404.1 234.6L406.3 231.6L401.4 230ZM319 234.1L323.7 235.8L326.2 232.8L321.4 231.1ZM397.1 235.7L402 237.4L404.2 234.4L399.3 232.7ZM316.6 236.9L321.4 238.6L323.9 235.5L319.1 233.8ZM395 238.5L399.9 240.2L402.1 237.1L397.2 235.5ZM314.2 239.7L319 241.4L321.5 238.3L316.7 236.6ZM392.8 241.3L397.8 243L400 239.9L395.1 238.3ZM311.8 242.5L316.6 244.2L319.1 241.1L314.4 239.4ZM390.7 244.1L395.6 245.8L397.9 242.7L393 241.1ZM309.4 245.3L314.2 247L316.8 243.9L312 242.2ZM388.5 247L393.5 248.7L395.8 245.6L390.8 243.9ZM307 248.2L311.8 249.9L314.4 246.8L309.6 245.1ZM386.4 249.8L391.3 251.5L393.6 248.4L388.7 246.7ZM304.6 251L309.4 252.8L312 249.6L307.2 247.9ZM384.2 252.7L389.1 254.4L391.4 251.3L386.5 249.6ZM302.1 253.9L307 255.7L309.5 252.5L304.7 250.8ZM382 255.6L386.9 257.3L389.3 254.2L384.3 252.4ZM299.7 256.8L304.5 258.6L307.1 255.4L302.3 253.6ZM379.7 258.5L384.7 260.2L387.1 257.1L382.1 255.3ZM297.2 259.7L302 261.5L304.6 258.3L299.8 256.5ZM377.5 261.4L382.5 263.2L384.9 260L379.9 258.2ZM294.7 262.7L299.5 264.4L302.2 261.2L297.3 259.4ZM375.3 264.4L380.3 266.1L382.6 262.9L377.6 261.1ZM292.2 265.6L297 267.4L299.7 264.2L294.8 262.4ZM373 267.3L378 269.1L380.4 265.9L375.4 264.1ZM289.7 268.6L294.5 270.4L297.2 267.1L292.3 265.3ZM370.7 270.3L375.8 272.1L378.2 268.8L373.1 267ZM287.1 271.6L292 273.4L294.7 270.1L289.8 268.3ZM368.5 273.3L373.5 275.1L375.9 271.8L370.9 270ZM284.6 274.6L289.4 276.4L292.1 273.1L287.3 271.3ZM366.1 276.3L371.2 278.1L373.6 274.8L368.6 273ZM282 277.6L286.9 279.4L289.6 276.1L284.7 274.3ZM363.8 279.3L368.9 281.2L371.3 277.9L366.3 276ZM279.4 280.7L284.3 282.5L287 279.2L282.1 277.3ZM361.5 282.4L366.6 284.2L369 280.9L364 279.1ZM276.8 283.7L281.7 285.6L284.4 282.2L279.5 280.4ZM359.2 285.5L364.2 287.3L366.7 284L361.6 282.1ZM356.8 288.6L361.9 290.4L364.4 287.1L359.3 285.2ZM354.4 291.7L359.5 293.6L362 290.2L356.9 288.3ZM352 294.8L357.1 296.7L359.6 293.3L354.6 291.4ZM349.6 298L354.7 299.9L357.3 296.4L352.2 294.6ZM347.2 301.2L352.3 303.1L354.9 299.6L349.8 297.7ZM344.7 304.4L349.9 306.3L352.5 302.8L347.3 300.9ZM342.3 307.6L347.4 309.5L350 306L344.9 304.1ZM339.8 310.8L345 312.8L347.6 309.2L342.4 307.3ZM337.3 314.1L342.5 316L345.1 312.5L340 310.5ZM334.8 317.4L340 319.3L342.6 315.8L337.5 313.8ZM242.3 317L247.3 319L250.2 315.4L245.2 313.5ZM332.3 320.7L337.5 322.6L340.2 319.1L335 317.1ZM239.4 320.3L244.5 322.3L247.4 318.7L242.4 316.7ZM329.8 324L335 326L337.6 322.4L332.4 320.4ZM236.6 323.7L241.6 325.7L244.6 322L239.6 320ZM327.2 327.4L332.4 329.4L335.1 325.7L329.9 323.7ZM233.7 327L238.8 329L241.8 325.4L236.7 323.4ZM324.6 330.7L329.9 332.7L332.6 329.1L327.4 327.1ZM322 334.1L327.3 336.1L330 332.5L324.8 330.4ZM319.4 337.5L324.7 339.6L327.4 335.9L322.2 333.8ZM316.8 341L322.1 343L324.8 339.3L319.6 337.3ZM314.2 344.5L319.4 346.5L322.2 342.8L317 340.7ZM311.5 347.9L316.8 350L319.6 346.2L314.3 344.2ZM308.8 351.5L314.1 353.5L316.9 349.7L311.7 347.7ZM306.1 355L311.4 357.1L314.3 353.3L309 351.2Z" fill="#503870"/><path d="M293.1 139L297.3 140.4L299.6 137.9L295.4 136.5ZM286 151.5L290.3 152.9L292.7 150.4L288.3 148.9ZM240.4 312L245.4 313.9L248.4 310.4L243.4 308.4Z" fill="#7478a8"/><path d="M287 140L291.3 141.4L293.6 138.9L289.3 137.5ZM274.7 163.1L279 164.5L281.4 161.9L277.1 160.5ZM408.8 206L413.6 207.6L415.7 204.7L410.9 203.1ZM241.4 303.8L246.4 305.7L249.3 302.2L244.4 300.3Z" fill="#a4c8f0"/><path d="M297 140.2L301.3 141.6L303.6 139.1L299.3 137.7ZM245.1 313.7L250.1 315.7L253 312.1L248 310.2Z" fill="#503c70"/><path d="M290.9 141.2L295.2 142.6L297.5 140.1L293.2 138.7ZM383.4 152.2L387.9 153.6L390 151.1L385.5 149.7ZM381.5 154.5L386 155.9L388 153.4L383.6 152ZM379.5 156.8L384 158.2L386.1 155.7L381.6 154.3ZM377.5 159.1L382 160.6L384.1 158L379.6 156.6ZM246 305.5L251 307.4L253.9 303.9L249 302Z" fill="#7c84b4"/><path d="M284.8 142.2L289.1 143.6L291.4 141.1L287.1 139.7ZM272.4 165.4L276.7 166.9L279.2 164.3L274.8 162.8ZM270.1 167.8L274.4 169.3L276.9 166.6L272.5 165.2ZM267.7 170.2L272.1 171.7L274.6 169L270.2 167.5ZM265.4 172.6L269.8 174.1L272.2 171.4L267.9 169.9ZM263 175L267.4 176.5L269.9 173.8L265.5 172.3ZM260.7 177.4L265.1 178.9L267.6 176.2L263.2 174.7ZM258.3 179.9L262.7 181.4L265.2 178.7L260.8 177.2ZM255.9 182.3L260.3 183.9L262.8 181.1L258.4 179.6ZM253.5 184.8L257.9 186.3L260.4 183.6L256 182.1ZM251.1 187.3L255.5 188.8L258 186.1L253.6 184.5ZM416.3 189.3L421.1 190.8L423.1 188.1L418.4 186.6ZM248.6 189.8L253.1 191.3L255.6 188.6L251.2 187ZM246.2 192.3L250.6 193.9L253.2 191.1L248.8 189.5ZM243.7 194.8L248.1 196.4L250.8 193.6L246.3 192ZM241.2 197.4L245.7 198.9L248.3 196.1L243.9 194.6ZM238.7 199.9L243.2 201.5L245.8 198.7L241.4 197.1ZM236.2 202.5L240.7 204.1L243.3 201.2L238.9 199.7ZM233.7 205.1L238.2 206.7L240.8 203.8L236.4 202.2ZM231.2 207.7L235.6 209.3L238.3 206.4L233.9 204.8ZM228.6 210.3L233.1 211.9L235.8 209L231.3 207.4ZM226 212.9L230.5 214.6L233.3 211.6L228.8 210ZM223.5 215.6L228 217.2L230.7 214.3L226.2 212.7ZM220.9 218.3L225.4 219.9L228.1 216.9L223.6 215.3ZM218.2 220.9L222.8 222.6L225.5 219.6L221 218ZM215.6 223.6L220.1 225.3L222.9 222.3L218.4 220.7ZM213 226.3L217.5 228L220.3 225L215.8 223.4ZM210.3 229.1L214.8 230.8L217.7 227.7L213.1 226.1ZM207.6 231.8L212.2 233.5L215 230.5L210.5 228.8ZM204.9 234.6L209.5 236.3L212.3 233.2L207.8 231.5ZM202.2 237.4L206.8 239.1L209.6 236L205.1 234.3ZM199.5 240.2L204.1 241.9L206.9 238.8L202.4 237.1ZM196.7 243L201.3 244.7L204.2 241.6L199.6 239.9ZM194 245.8L198.6 247.5L201.5 244.4L196.9 242.7ZM191.2 248.7L195.8 250.4L198.7 247.3L194.1 245.5ZM188.4 251.5L193 253.3L196 250.1L191.4 248.4ZM185.6 254.4L190.2 256.2L193.2 253L188.6 251.2ZM182.7 257.3L187.4 259.1L190.4 255.9L185.7 254.1ZM179.9 260.2L184.5 262L187.5 258.8L182.9 257ZM177 263.2L181.7 265L184.7 261.7L180.1 260ZM174.1 266.1L178.8 267.9L181.8 264.7L177.2 262.9ZM171.2 269.1L175.9 270.9L179 267.7L174.3 265.9ZM168.3 272.1L173 273.9L176.1 270.6L171.4 268.8ZM165.4 275.1L170 277L173.2 273.6L168.5 271.8ZM162.4 278.2L167.1 280L170.2 276.7L165.6 274.8ZM159.4 281.2L164.1 283.1L167.3 279.7L162.6 277.9ZM156.4 284.3L161.1 286.2L164.3 282.8L159.6 280.9ZM153.4 287.4L158.1 289.3L161.3 285.9L156.6 284ZM150.4 290.5L155.1 292.4L158.3 289L153.6 287.1ZM147.3 293.6L152 295.5L155.3 292.1L150.6 290.2ZM247 297.4L251.9 299.3L254.8 295.8L249.9 293.9Z" fill="#a8ccf4"/><path d="M294.8 142.4L299.1 143.8L301.4 141.3L297.1 139.9ZM282.7 165.6L287.1 167.1L289.5 164.5L285.1 163ZM250.7 307.2L255.6 309.2L258.5 305.7L253.6 303.7Z" fill="#544078"/><path d="M288.7 143.5L293 144.9L295.3 142.3L291 140.9ZM276.4 166.7L280.7 168.2L283.2 165.6L278.8 164.1ZM274.1 169.1L278.4 170.6L280.9 167.9L276.5 166.5ZM271.7 171.5L276.1 173L278.6 170.3L274.2 168.8ZM269.4 173.9L273.8 175.4L276.3 172.7L271.9 171.2ZM267.1 176.3L271.5 177.8L274 175.1L269.6 173.6ZM264.7 178.8L269.1 180.3L271.6 177.6L267.2 176.1ZM262.3 181.2L266.8 182.7L269.3 180L264.9 178.5ZM259.9 183.7L264.4 185.2L266.9 182.5L262.5 180.9ZM257.5 186.2L262 187.7L264.5 184.9L260.1 183.4ZM255.1 188.6L259.6 190.2L262.1 187.4L257.7 185.9ZM252.7 191.1L257.2 192.7L259.7 189.9L255.3 188.4ZM250.3 193.7L254.7 195.2L257.3 192.4L252.9 190.9ZM247.8 196.2L252.3 197.8L254.9 195L250.4 193.4ZM245.3 198.8L249.8 200.3L252.4 197.5L248 195.9ZM242.8 201.3L247.3 202.9L250 200.1L245.5 198.5ZM240.3 203.9L244.8 205.5L247.5 202.6L243 201ZM237.8 206.5L242.3 208.1L245 205.2L240.5 203.6ZM235.3 209.1L239.8 210.7L242.5 207.8L238 206.2ZM232.8 211.7L237.3 213.3L240 210.4L235.5 208.8ZM230.2 214.4L234.7 216L237.4 213.1L232.9 211.5ZM227.6 217L232.1 218.7L234.9 215.7L230.4 214.1ZM225 219.7L229.6 221.3L232.3 218.4L227.8 216.8ZM222.4 222.4L227 224L229.7 221.1L225.2 219.4ZM219.8 225.1L224.3 226.8L227.1 223.8L222.6 222.1ZM217.2 227.8L221.7 229.5L224.5 226.5L220 224.8ZM214.5 230.6L219.1 232.2L221.9 229.2L217.3 227.5ZM211.8 233.3L216.4 235L219.2 232L214.7 230.3ZM209.2 236.1L213.7 237.8L216.6 234.7L212 233ZM206.4 238.9L211 240.6L213.9 237.5L209.3 235.8ZM203.7 241.7L208.3 243.4L211.2 240.3L206.6 238.6ZM201 244.5L205.6 246.2L208.5 243.1L203.9 241.4ZM198.2 247.4L202.8 249.1L205.8 246L201.2 244.2ZM195.5 250.2L200.1 252L203 248.8L198.4 247.1ZM192.7 253.1L197.3 254.8L200.2 251.7L195.6 249.9ZM189.9 256L194.5 257.7L197.5 254.6L192.8 252.8ZM187 258.9L191.7 260.7L194.7 257.5L190 255.7ZM184.2 261.8L188.9 263.6L191.9 260.4L187.2 258.6ZM181.3 264.8L186 266.6L189 263.3L184.4 261.5ZM178.5 267.7L183.1 269.6L186.2 266.3L181.5 264.5ZM175.6 270.7L180.2 272.5L183.3 269.3L178.6 267.5ZM172.7 273.7L177.3 275.6L180.4 272.3L175.7 270.4ZM169.7 276.8L174.4 278.6L177.5 275.3L172.8 273.5ZM166.8 279.8L171.5 281.7L174.6 278.3L169.9 276.5ZM163.8 282.9L168.5 284.7L171.6 281.4L167 279.5ZM160.8 286L165.5 287.8L168.7 284.4L164 282.6ZM157.8 289.1L162.5 290.9L165.7 287.5L161 285.7ZM154.8 292.2L159.5 294.1L162.7 290.7L158 288.8ZM151.7 295.3L156.5 297.2L159.7 293.8L155 291.9ZM251.5 299.1L256.5 301L259.4 297.5L254.4 295.7Z" fill="#8490c0"/><path d="M292.6 144.7L296.9 146.1L299.2 143.6L294.9 142.2Z" fill="#58487c"/><path d="M286.5 145.7L290.8 147.1L293.1 144.6L288.8 143.2Z" fill="#90a0d0"/><path d="M290.4 146.9L294.7 148.3L297.1 145.8L292.8 144.4ZM421.1 197.1L425.9 198.6L428 195.8L423.2 194.3Z" fill="#605088"/><path d="M284.3 148L288.6 149.4L290.9 146.8L286.6 145.4ZM365.3 167.3L369.8 168.7L372 166.1L367.5 164.6Z" fill="#98b4e0"/><path d="M288.2 149.2L292.5 150.6L294.9 148.1L290.6 146.7Z" fill="#686498"/><path d="M292.2 150.4L296.5 151.9L298.8 149.3L294.5 147.9ZM253.5 325.7L258.6 327.7L261.6 324.1L256.5 322.1ZM250.7 329.1L255.8 331.1L258.8 327.5L253.7 325.5ZM247.9 332.5L253 334.5L256 330.8L250.9 328.8Z" fill="#50386c"/><path d="M279.8 152.5L284.1 154L286.5 151.4L282.2 150ZM406.8 208.6L411.6 210.2L413.7 207.3L408.9 205.7ZM404.8 211.2L409.6 212.8L411.7 209.9L406.9 208.3ZM402.7 213.8L407.5 215.4L409.7 212.5L404.9 210.9ZM400.7 216.5L405.5 218.1L407.7 215.2L402.8 213.6ZM398.6 219.2L403.4 220.8L405.6 217.8L400.8 216.2ZM396.5 221.8L401.4 223.5L403.5 220.5L398.7 218.9ZM394.4 224.5L399.3 226.2L401.5 223.2L396.6 221.6ZM392.3 227.3L397.2 228.9L399.4 225.9L394.5 224.3ZM390.2 230L395.1 231.6L397.3 228.6L392.4 227ZM388.1 232.7L392.9 234.4L395.2 231.4L390.3 229.7ZM385.9 235.5L390.8 237.2L393.1 234.1L388.2 232.5ZM383.8 238.3L388.7 240L390.9 236.9L386.1 235.2ZM381.6 241.1L386.5 242.8L388.8 239.7L383.9 238ZM379.4 243.9L384.3 245.6L386.6 242.5L381.7 240.8ZM377.2 246.7L382.1 248.4L384.5 245.3L379.5 243.6ZM375 249.6L379.9 251.3L382.3 248.2L377.3 246.5ZM372.8 252.5L377.7 254.2L380.1 251L375.1 249.3ZM370.5 255.3L375.5 257.1L377.9 253.9L372.9 252.2ZM368.3 258.2L373.3 260L375.6 256.8L370.7 255.1ZM366 261.2L371 262.9L373.4 259.7L368.4 258ZM363.7 264.1L368.7 265.9L371.1 262.7L366.2 260.9ZM361.5 267.1L366.4 268.9L368.9 265.6L363.9 263.8ZM359.1 270L364.1 271.8L366.6 268.6L361.6 266.8ZM356.8 273L361.8 274.8L364.3 271.6L359.3 269.8ZM354.5 276.1L359.5 277.9L362 274.6L357 272.8ZM352.1 279.1L357.2 280.9L359.6 277.6L354.6 275.8ZM349.8 282.2L354.8 284L357.3 280.7L352.3 278.8ZM347.4 285.2L352.4 287.1L354.9 283.7L349.9 281.9ZM345 288.3L350 290.2L352.6 286.8L347.5 285ZM342.6 291.4L347.6 293.3L350.2 289.9L345.1 288ZM340.1 294.6L345.2 296.5L347.8 293L342.7 291.2ZM337.7 297.7L342.8 299.6L345.4 296.2L340.3 294.3ZM335.2 300.9L340.3 302.8L342.9 299.3L337.8 297.5ZM244.2 300.6L249.1 302.5L252 299L247.1 297.1ZM332.7 304.1L337.9 306L340.5 302.5L335.4 300.6ZM330.2 307.3L335.4 309.2L338 305.7L332.9 303.8ZM327.7 310.6L332.9 312.5L335.5 309L330.4 307ZM325.2 313.8L330.4 315.8L333 312.2L327.9 310.3ZM322.7 317.1L327.8 319.1L330.5 315.5L325.3 313.5ZM320.1 320.4L325.3 322.4L328 318.8L322.8 316.8ZM317.5 323.7L322.7 325.7L325.4 322.1L320.2 320.1ZM314.9 327.1L320.1 329.1L322.8 325.4L317.7 323.5ZM312.3 330.5L317.5 332.5L320.3 328.8L315.1 326.8ZM309.7 333.9L314.9 335.9L317.7 332.2L312.5 330.2ZM307 337.3L312.3 339.3L315 335.6L309.8 333.6ZM304.4 340.7L309.6 342.8L312.4 339L307.2 337ZM301.7 344.2L306.9 346.2L309.7 342.5L304.5 340.4ZM299 347.7L304.2 349.7L307.1 346L301.8 343.9ZM296.2 351.2L301.5 353.3L304.4 349.5L299.1 347.4Z" fill="#a4c8f4"/><path d="M387.5 153.5L392 154.9L394.1 152.3L389.6 150.9ZM385.6 155.8L390.1 157.2L392.2 154.6L387.7 153.2ZM383.6 158.1L388.1 159.5L390.2 156.9L385.7 155.5ZM381.6 160.4L386.2 161.8L388.2 159.3L383.7 157.8Z" fill="#64588c"/><path d="M289.9 152.7L294.3 154.2L296.6 151.6L292.3 150.2Z" fill="#503c74"/><path d="M283.7 153.8L288.1 155.2L290.4 152.6L286.1 151.2ZM248.8 302.3L253.7 304.2L256.6 300.7L251.7 298.8Z" fill="#808cbc"/><path d="M287.7 155L292.1 156.5L294.4 153.9L290.1 152.5ZM253.4 304L258.4 305.9L261.3 302.4L256.3 300.5Z" fill="#584478"/><path d="M285.5 157.3L289.8 158.8L292.2 156.2L287.9 154.8Z" fill="#605084"/><path d="M371.4 160.2L375.9 161.6L378 159.1L373.5 157.6ZM233 313.5L237.9 315.4L240.9 311.9L236 309.9ZM230.1 316.8L235.1 318.7L238.1 315.2L233.1 313.2ZM227.2 320.1L232.2 322L235.3 318.4L230.3 316.5ZM224.4 323.4L229.4 325.4L232.4 321.8L227.4 319.8Z" fill="#a0c0e8"/><path d="M375.5 161.5L380 162.9L382.1 160.3L377.6 158.9ZM422.6 188.2L427.3 189.7L429.4 187L424.7 185.4Z" fill="#7c80b0"/><path d="M277 160.7L281.3 162.2L283.7 159.6L279.4 158.1ZM354.9 179.3L359.5 180.8L361.7 178.1L357.1 176.6ZM352.8 181.8L357.4 183.3L359.6 180.5L355 179ZM350.7 184.2L355.2 185.7L357.5 183L352.9 181.5ZM348.5 186.7L353.1 188.2L355.4 185.5L350.8 184ZM346.4 189.2L351 190.7L353.2 188L348.6 186.4ZM344.2 191.7L348.8 193.2L351.1 190.5L346.5 188.9ZM342 194.2L346.6 195.8L348.9 193L344.3 191.4ZM339.8 196.8L344.5 198.3L346.8 195.5L342.2 194ZM337.6 199.3L342.3 200.9L344.6 198.1L340 196.5ZM335.4 201.9L340.1 203.5L342.4 200.6L337.8 199ZM333.2 204.5L337.8 206L340.2 203.2L335.6 201.6ZM331 207.1L335.6 208.6L338 205.8L333.3 204.2ZM328.7 209.7L333.4 211.3L335.7 208.4L331.1 206.8ZM326.4 212.3L331.1 213.9L333.5 211L328.8 209.4ZM324.2 214.9L328.8 216.6L331.2 213.6L326.6 212ZM321.9 217.6L326.6 219.2L329 216.3L324.3 214.7ZM319.6 220.3L324.3 221.9L326.7 219L322 217.3ZM317.2 223L321.9 224.6L324.4 221.6L319.7 220ZM314.9 225.7L319.6 227.3L322.1 224.3L317.4 222.7ZM312.5 228.4L317.3 230.1L319.7 227.1L315 225.4ZM310.2 231.1L314.9 232.8L317.4 229.8L312.7 228.1ZM307.8 233.9L312.5 235.6L315.1 232.5L310.3 230.9ZM305.4 236.7L310.2 238.4L312.7 235.3L307.9 233.6ZM303 239.5L307.8 241.2L310.3 238.1L305.6 236.4ZM300.6 242.3L305.3 244L307.9 240.9L303.1 239.2ZM298.1 245.1L302.9 246.8L305.5 243.7L300.7 242ZM295.7 247.9L300.5 249.7L303.1 246.5L298.3 244.8ZM293.2 250.8L298 252.5L300.6 249.4L295.8 247.7ZM290.7 253.7L295.5 255.4L298.2 252.3L293.4 250.5ZM288.2 256.6L293.1 258.3L295.7 255.1L290.9 253.4ZM285.7 259.5L290.5 261.2L293.2 258L288.4 256.3ZM283.2 262.4L288 264.2L290.7 261L285.9 259.2ZM280.7 265.4L285.5 267.2L288.2 263.9L283.3 262.1ZM278.1 268.3L282.9 270.1L285.6 266.9L280.8 265.1ZM275.5 271.3L280.4 273.1L283.1 269.9L278.2 268.1ZM272.9 274.3L277.8 276.1L280.5 272.9L275.7 271Z" fill="#a0bce8"/><path d="M369.4 162.5L373.9 164L376 161.4L371.5 159.9ZM420.2 184.4L424.9 185.9L427 183.1L422.3 181.6ZM414.8 198.3L419.6 199.8L421.6 197L416.9 195.5Z" fill="#9cbce8"/><path d="M379.6 162.7L384.2 164.2L386.3 161.6L381.8 160.1Z" fill="#64548c"/><path d="M280.9 162L285.3 163.5L287.7 160.9L283.4 159.4ZM237.6 315.2L242.6 317.2L245.6 313.6L240.6 311.7ZM234.8 318.5L239.8 320.5L242.8 316.9L237.8 315ZM231.9 321.9L236.9 323.8L239.9 320.2L234.9 318.3ZM229 325.2L234 327.2L237.1 323.6L232.1 321.6Z" fill="#7474a4"/><path d="M373.5 163.8L378 165.3L380.1 162.7L375.6 161.2ZM409.2 212.6L414 214.2L416.1 211.3L411.3 209.7ZM407.2 215.3L412 216.9L414.1 214L409.3 212.4ZM405.1 217.9L409.9 219.6L412.1 216.6L407.3 215ZM403.1 220.6L407.9 222.2L410.1 219.3L405.2 217.7ZM401 223.3L405.8 224.9L408 222L403.2 220.4ZM398.9 226L403.8 227.7L406 224.7L401.1 223ZM396.8 228.7L401.7 230.4L403.9 227.4L399 225.7ZM394.7 231.5L399.6 233.1L401.8 230.1L396.9 228.5ZM392.6 234.2L397.5 235.9L399.7 232.9L394.8 231.2ZM390.4 237L395.3 238.7L397.6 235.6L392.7 234ZM388.3 239.8L393.2 241.5L395.5 238.4L390.6 236.7ZM386.1 242.6L391.1 244.3L393.3 241.2L388.4 239.5ZM384 245.4L388.9 247.1L391.2 244L386.3 242.3ZM381.8 248.3L386.7 250L389 246.9L384.1 245.2ZM379.6 251.1L384.5 252.9L386.8 249.7L381.9 248ZM377.4 254L382.3 255.8L384.7 252.6L379.7 250.9ZM375.1 256.9L380.1 258.7L382.5 255.5L377.5 253.7ZM372.9 259.8L377.9 261.6L380.2 258.4L375.3 256.6ZM370.6 262.8L375.6 264.5L378 261.3L373 259.6ZM368.4 265.7L373.4 267.5L375.8 264.3L370.8 262.5ZM366.1 268.7L371.1 270.5L373.5 267.2L368.5 265.4ZM363.8 271.7L368.8 273.5L371.2 270.2L366.2 268.4ZM361.5 274.7L366.5 276.5L368.9 273.2L363.9 271.4ZM359.1 277.7L364.2 279.5L366.6 276.2L361.6 274.4ZM356.8 280.7L361.9 282.6L364.3 279.2L359.3 277.4ZM354.4 283.8L359.5 285.7L362 282.3L356.9 280.5ZM352.1 286.9L357.1 288.8L359.6 285.4L354.6 283.5ZM349.7 290L354.8 291.9L357.3 288.5L352.2 286.6ZM347.3 293.1L352.4 295L354.9 291.6L349.8 289.7ZM344.9 296.3L350 298.2L352.5 294.7L347.4 292.9ZM342.4 299.4L347.5 301.3L350.1 297.9L345 296ZM340 302.6L345.1 304.5L347.7 301.1L342.6 299.2ZM337.5 305.8L342.6 307.8L345.2 304.3L340.1 302.4ZM335 309.1L340.2 311L342.8 307.5L337.6 305.6ZM332.5 312.3L337.7 314.3L340.3 310.7L335.2 308.8ZM330 315.6L335.2 317.5L337.8 314L332.7 312ZM327.5 318.9L332.7 320.9L335.3 317.3L330.1 315.3ZM324.9 322.2L330.1 324.2L332.8 320.6L327.6 318.6ZM322.4 325.5L327.6 327.5L330.3 323.9L325.1 321.9ZM319.8 328.9L325 330.9L327.7 327.3L322.5 325.3ZM317.2 332.3L322.4 334.3L325.1 330.6L319.9 328.6ZM314.5 335.7L319.8 337.7L322.5 334L317.3 332ZM311.9 339.1L317.2 341.2L319.9 337.4L314.7 335.4ZM309.3 342.6L314.5 344.6L317.3 340.9L312.1 338.8ZM306.6 346.1L311.8 348.1L314.7 344.3L309.4 342.3ZM303.9 349.6L309.2 351.6L312 347.8L306.7 345.8ZM301.2 353.1L306.5 355.2L309.3 351.3L304 349.3Z" fill="#787cac"/><path d="M377.6 165.1L382.2 166.6L384.3 163.9L379.8 162.5ZM432.1 175.9L436.8 177.4L438.8 174.7L434.1 173.2Z" fill="#60548c"/><path d="M278.7 164.4L283 165.8L285.4 163.2L281.1 161.7ZM427.9 174.6L432.5 176.1L434.5 173.4L429.9 171.9Z" fill="#8088b8"/><path d="M371.5 166.2L376 167.6L378.1 165L373.6 163.6ZM429.7 172.2L434.4 173.6L436.4 171L431.7 169.5ZM413.2 207.4L418 209L420.1 206.1L415.3 204.5Z" fill="#7474a8"/><path d="M433.5 167.4L438.1 168.9L440.1 166.2L435.4 164.8ZM363.3 175.8L367.8 177.3L370 174.6L365.5 173.1ZM369.3 356.4L374.8 358.5L377.4 354.7L371.9 352.6ZM366.8 360L372.3 362.1L374.9 358.2L369.5 356.1ZM364.3 363.6L369.8 365.7L372.4 361.8L367 359.7ZM361.8 367.2L367.2 369.3L369.9 365.4L364.4 363.3ZM359.2 370.8L364.7 373L367.4 369L361.9 366.9ZM356.6 374.5L362.1 376.7L364.8 372.7L359.3 370.6Z" fill="#685c90"/><path d="M369.4 168.6L374 170L376.1 167.4L371.6 165.9Z" fill="#7470a4"/><path d="M280.4 168L284.8 169.5L287.2 166.8L282.8 165.4ZM278.1 170.4L282.5 171.9L284.9 169.2L280.5 167.7ZM275.8 172.8L280.2 174.3L282.6 171.6L278.2 170.1ZM273.5 175.2L277.9 176.7L280.3 174L275.9 172.5ZM271.1 177.6L275.5 179.2L278 176.4L273.6 174.9ZM268.8 180.1L273.2 181.6L275.7 178.9L271.3 177.4ZM266.4 182.5L270.8 184.1L273.3 181.3L268.9 179.8ZM264 185L268.5 186.5L271 183.8L266.5 182.3ZM261.6 187.5L266.1 189L268.6 186.3L264.2 184.7ZM259.2 190L263.7 191.5L266.2 188.8L261.8 187.2ZM256.8 192.5L261.3 194.1L263.8 191.3L259.4 189.7ZM423.1 194.6L427.8 196.1L429.9 193.3L425.1 191.8ZM254.4 195L258.8 196.6L261.4 193.8L257 192.2ZM251.9 197.6L256.4 199.2L259 196.3L254.5 194.8ZM249.5 200.1L253.9 201.7L256.5 198.9L252.1 197.3ZM247 202.7L251.5 204.3L254.1 201.4L249.6 199.9ZM244.5 205.3L249 206.9L251.6 204L247.1 202.4ZM242 207.9L246.5 209.5L249.1 206.6L244.6 205ZM239.5 210.5L244 212.1L246.6 209.2L242.1 207.6ZM236.9 213.2L241.4 214.8L244.1 211.9L239.6 210.2ZM234.4 215.8L238.9 217.4L241.6 214.5L237.1 212.9ZM231.8 218.5L236.3 220.1L239.1 217.2L234.5 215.5ZM229.2 221.2L233.8 222.8L236.5 219.8L232 218.2ZM226.6 223.9L231.2 225.5L233.9 222.5L229.4 220.9ZM224 226.6L228.6 228.2L231.3 225.2L226.8 223.6ZM221.4 229.3L225.9 231L228.7 228L224.2 226.3ZM218.7 232.1L223.3 233.7L226.1 230.7L221.5 229ZM216.1 234.8L220.7 236.5L223.5 233.5L218.9 231.8ZM213.4 237.6L218 239.3L220.8 236.2L216.2 234.5ZM210.7 240.4L215.3 242.1L218.1 239L213.6 237.3ZM208 243.2L212.6 244.9L215.5 241.8L210.9 240.1ZM205.3 246L209.9 247.8L212.8 244.7L208.2 242.9ZM202.5 248.9L207.1 250.6L210 247.5L205.4 245.8ZM199.8 251.8L204.4 253.5L207.3 250.4L202.7 248.6ZM197 254.7L201.6 256.4L204.5 253.2L199.9 251.5ZM194.2 257.6L198.8 259.3L201.8 256.1L197.1 254.4ZM191.4 260.5L196 262.3L199 259L194.3 257.3ZM188.5 263.4L193.2 265.2L196.2 262L191.5 260.2ZM185.7 266.4L190.3 268.2L193.4 264.9L188.7 263.1ZM182.8 269.4L187.5 271.2L190.5 267.9L185.8 266.1ZM179.9 272.4L184.6 274.2L187.7 270.9L183 269.1ZM177 275.4L181.7 277.2L184.8 273.9L180.1 272.1ZM174.1 278.4L178.8 280.3L181.9 276.9L177.2 275.1ZM171.2 281.5L175.9 283.3L179 280L174.3 278.1ZM168.2 284.5L172.9 286.4L176 283L171.3 281.2ZM165.2 287.6L169.9 289.5L173.1 286.1L168.4 284.3ZM162.2 290.8L167 292.6L170.1 289.2L165.4 287.3ZM159.2 293.9L163.9 295.8L167.1 292.3L162.4 290.5ZM156.2 297L160.9 298.9L164.1 295.5L159.4 293.6ZM256.2 300.8L261.1 302.7L264 299.3L259 297.4Z" fill="#58447c"/><path d="M367.4 170.9L371.9 172.4L374.1 169.8L369.6 168.3ZM359.1 180.6L363.7 182.1L365.9 179.4L361.3 177.9ZM357 183.1L361.6 184.6L363.8 181.9L359.2 180.4ZM354.9 185.6L359.5 187.1L361.7 184.3L357.1 182.8ZM352.7 188.1L357.3 189.6L359.6 186.8L355 185.3ZM350.6 190.6L355.2 192.1L357.5 189.3L352.9 187.8ZM348.4 193.1L353.1 194.6L355.3 191.8L350.7 190.3ZM346.3 195.6L350.9 197.1L353.2 194.3L348.6 192.8ZM344.1 198.1L348.7 199.7L351 196.9L346.4 195.3ZM341.9 200.7L346.6 202.3L348.9 199.4L344.2 197.9ZM339.7 203.3L344.4 204.9L346.7 202L342 200.4ZM415.2 204.8L420 206.4L422.1 203.5L417.3 202ZM337.5 205.9L342.1 207.4L344.5 204.6L339.8 203ZM335.3 208.5L339.9 210.1L342.3 207.2L337.6 205.6ZM333 211.1L337.7 212.7L340.1 209.8L335.4 208.2ZM330.8 213.7L335.4 215.3L337.8 212.4L333.1 210.8ZM328.5 216.4L333.2 218L335.6 215.1L330.9 213.5ZM326.2 219L330.9 220.7L333.3 217.7L328.6 216.1ZM323.9 221.7L328.6 223.4L331 220.4L326.3 218.8ZM321.6 224.4L326.3 226.1L328.7 223.1L324 221.5ZM319.3 227.1L324 228.8L326.4 225.8L321.7 224.2ZM316.9 229.9L321.7 231.5L324.1 228.5L319.4 226.9ZM314.6 232.6L319.3 234.3L321.8 231.3L317.1 229.6ZM312.2 235.4L316.9 237.1L319.4 234L314.7 232.4ZM309.8 238.2L314.6 239.9L317.1 236.8L312.3 235.1ZM307.4 241L312.2 242.7L314.7 239.6L310 237.9ZM305 243.8L309.8 245.5L312.3 242.4L307.6 240.7ZM302.6 246.6L307.4 248.3L309.9 245.2L305.1 243.5ZM300.1 249.5L304.9 251.2L307.5 248.1L302.7 246.4ZM297.7 252.3L302.5 254.1L305.1 250.9L300.3 249.2ZM295.2 255.2L300 257L302.6 253.8L297.8 252.1ZM292.7 258.1L297.5 259.9L300.2 256.7L295.3 255ZM290.2 261.1L295 262.8L297.7 259.6L292.9 257.9ZM287.7 264L292.5 265.8L295.2 262.6L290.3 260.8ZM285.1 267L290 268.8L292.7 265.5L287.8 263.7ZM282.6 269.9L287.5 271.8L290.1 268.5L285.3 266.7ZM280 272.9L284.9 274.8L287.6 271.5L282.7 269.7ZM277.4 276L282.3 277.8L285 274.5L280.2 272.7Z" fill="#7070a0"/><path d="M361.2 172L365.7 173.5L367.9 170.9L363.4 169.4Z" fill="#94acdc"/><path d="M369.5 174.7L374.1 176.1L376.2 173.5L371.7 172ZM373.7 176L378.3 177.5L380.4 174.8L375.9 173.3ZM429.4 193.4L434.1 194.9L436.2 192.2L431.4 190.6Z" fill="#5c4880"/><path d="M426 177L430.6 178.5L432.6 175.8L428 174.3ZM254.3 295.9L259.2 297.8L262.1 294.4L257.1 292.5Z" fill="#8898c8"/><path d="M424.5 185.7L429.3 187.2L431.3 184.5L426.6 183Z" fill="#7070a4"/><path d="M418.3 186.8L423 188.3L425 185.6L420.3 184.1ZM410.8 203.4L415.6 205L417.7 202.1L412.9 200.6ZM238.6 307L243.6 308.9L246.5 305.4L241.6 303.5Z" fill="#a4c4f0"/><path d="M420.7 190.7L425.4 192.2L427.5 189.4L422.7 187.9Z" fill="#848cbc"/><path d="M418.7 193.2L423.5 194.7L425.5 192L420.8 190.4Z" fill="#8c9cc8"/><path d="M417.2 202.2L422 203.8L424.1 200.9L419.3 199.4Z" fill="#6c6898"/><path d="M411.2 210L416 211.6L418.1 208.7L413.3 207.1Z" fill="#7878ac"/><path d="M139.3 237.5L143.8 239.2L146.8 236.1L142.4 234.4Z" fill="#eca868"/><path d="M121 238.5L125.5 240.3L128.6 237.2L124.2 235.5ZM125.2 240.1L129.6 241.8L132.7 238.7L128.3 237ZM129.3 241.6L133.7 243.3L136.9 240.2L132.4 238.5ZM133.4 243.1L137.9 244.8L141 241.7L136.6 240Z" fill="#f4a86c"/><path d="M132.2 238.8L136.7 240.5L139.8 237.4L135.4 235.7ZM136.4 240.3L140.8 242L143.9 238.9L139.5 237.2Z" fill="#f0a86c"/><path d="M118.1 241.3L122.5 243.1L125.7 240L121.2 238.3ZM122.2 242.9L126.6 244.6L129.8 241.5L125.3 239.8ZM115.1 244.2L119.5 245.9L122.7 242.8L118.2 241.1ZM126.3 244.4L130.8 246.1L133.9 243L129.5 241.3ZM119.2 245.7L123.6 247.4L126.8 244.3L122.4 242.6ZM130.5 245.9L134.9 247.7L138.1 244.5L133.6 242.8ZM123.3 247.2L127.8 249L131 245.8L126.5 244.1ZM127.5 248.8L132 250.5L135.1 247.4L130.7 245.7Z" fill="#f8a870"/><path d="M112 247L116.5 248.8L119.7 245.6L115.2 243.9ZM116.2 248.6L120.6 250.3L123.8 247.2L119.4 245.4ZM120.3 250.1L124.8 251.9L128 248.7L123.5 247Z" fill="#f49078"/><path d="M109 249.9L113.5 251.6L116.7 248.5L112.2 246.7ZM113.1 251.4L117.6 253.2L120.8 250L116.4 248.3ZM117.3 253L121.8 254.7L125 251.6L120.5 249.8ZM96.7 261.5L101.1 263.3L104.4 260L100 258.3Z" fill="#ec7884"/><path d="M124.5 251.7L129 253.4L132.2 250.3L127.7 248.5Z" fill="#f09480"/><path d="M105.9 252.7L110.4 254.5L113.6 251.3L109.2 249.6ZM110.1 254.3L114.6 256.1L117.8 252.9L113.3 251.1ZM102.9 255.6L107.3 257.4L110.6 254.2L106.1 252.5ZM114.3 255.9L118.8 257.7L122 254.5L117.5 252.7ZM107 257.2L111.5 259L114.8 255.8L110.3 254ZM99.8 258.6L104.2 260.3L107.5 257.1L103.1 255.4ZM111.2 258.8L115.7 260.6L118.9 257.4L114.5 255.6ZM103.9 260.1L108.4 261.9L111.7 258.7L107.2 256.9ZM108.1 261.7L112.6 263.5L115.9 260.3L111.4 258.5Z" fill="#e8608c"/><path d="M121.5 254.5L126 256.3L129.2 253.1L124.7 251.4Z" fill="#e88490"/><path d="M118.4 257.5L123 259.2L126.2 256L121.7 254.3ZM115.4 260.4L119.9 262.2L123.1 258.9L118.6 257.2ZM112.3 263.3L116.8 265.1L120.1 261.9L115.6 260.1Z" fill="#dc70a0"/><path d="M209.9 259.4L214.6 261.2L217.5 257.9L212.9 256.2Z" fill="#5c386c"/><path d="M207.2 262.3L211.9 264.1L214.8 260.9L210.1 259.1Z" fill="#6c4070"/><path d="M100.8 263.1L105.3 264.9L108.6 261.6L104.1 259.8Z" fill="#e07c98"/><path d="M204.4 265.3L209.1 267.1L212 263.8L207.3 262Z" fill="#704070"/><path d="M93.5 264.4L98 266.2L101.3 263L96.8 261.2Z" fill="#f8a874"/><path d="M105 264.7L109.5 266.5L112.8 263.2L108.3 261.4Z" fill="#d484b0"/><path d="M97.7 266L102.2 267.8L105.5 264.6L101 262.8Z" fill="#d4bcb0"/><path d="M109.2 266.3L113.8 268.1L117 264.8L112.5 263Z" fill="#cc90bc"/><path d="M201.6 268.2L206.3 270L209.3 266.8L204.6 265Z" fill="#603c70"/><path d="M90.4 267.4L94.9 269.2L98.2 265.9L93.7 264.1Z" fill="#ecb088"/><path d="M101.9 267.6L106.4 269.5L109.7 266.2L105.2 264.4ZM98.8 270.6L103.3 272.5L106.6 269.2L102.1 267.4Z" fill="#acd0f8"/><path d="M94.6 269L99.1 270.8L102.4 267.6L97.9 265.7Z" fill="#ccc0c0"/><path d="M198.8 271.2L203.5 273L206.5 269.8L201.7 268Z" fill="#54346c"/><path d="M87.2 270.4L91.7 272.2L95 268.9L90.6 267.1Z" fill="#c4c4d0"/><path d="M245.2 272.2L250 274L252.8 270.7L248 268.9ZM242.5 275.2L247.3 277L250.1 273.7L245.3 271.9ZM239.8 278.3L244.6 280.1L247.4 276.8L242.6 274.9ZM237 281.3L241.9 283.2L244.7 279.8L239.9 278ZM234.3 284.4L239.1 286.2L242 282.9L237.2 281ZM231.5 287.5L236.4 289.3L239.3 286L234.5 284.1ZM228.7 290.6L233.6 292.5L236.5 289.1L231.7 287.2ZM211.7 309.7L216.6 311.6L219.6 308.1L214.7 306.2ZM208.7 313L213.7 314.9L216.7 311.4L211.8 309.4ZM205.8 316.2L210.8 318.2L213.8 314.6L208.9 312.7Z" fill="#b8c8e4"/><path d="M91.4 272L95.9 273.8L99.3 270.5L94.7 268.7Z" fill="#b4ccec"/><path d="M274.8 279L279.7 280.8L282.5 277.5L277.6 275.7Z" fill="#706ca0"/><path d="M267.7 280.4L272.6 282.2L275.3 278.9L270.5 277.1Z" fill="#9cb4e0"/><path d="M272.2 282.1L277.1 283.9L279.9 280.6L275 278.7Z" fill="#6c6498"/><path d="M225.9 293.7L230.8 295.6L233.8 292.2L228.9 290.3ZM214.6 306.5L219.5 308.4L222.5 304.9L217.6 303Z" fill="#b4c4e0"/><path d="M182.9 294.4L187.7 296.3L190.8 292.9L186.1 291ZM339.3 336.2L344.6 338.3L347.3 334.6L342 332.6ZM336.8 339.7L342.1 341.7L344.8 338L339.5 336ZM334.2 343.1L339.5 345.2L342.2 341.4L336.9 339.4ZM331.6 346.6L336.9 348.7L339.7 344.9L334.4 342.9ZM329 350.1L334.3 352.2L337.1 348.4L331.8 346.3ZM326.4 353.6L331.7 355.7L334.5 351.9L329.2 349.8ZM323.7 357.2L329.1 359.3L331.9 355.5L326.5 353.4ZM321.1 360.8L326.5 362.9L329.2 359L323.9 356.9Z" fill="#5c3c6c"/><path d="M223.1 296.9L228 298.8L231 295.3L226.1 293.4Z" fill="#b0bcd8"/><path d="M258.9 297.6L263.8 299.5L266.7 296.1L261.7 294.2Z" fill="#5c4c80"/><path d="M180 297.6L184.8 299.5L187.9 296L183.1 294.1ZM177 300.7L181.8 302.7L185 299.2L180.2 297.3ZM174 303.9L178.8 305.9L182 302.4L177.2 300.4ZM256.3 322.4L261.4 324.4L264.3 320.8L259.3 318.8Z" fill="#5c406c"/><path d="M220.3 300L225.2 302L228.2 298.5L223.3 296.6Z" fill="#acb4d4"/><path d="M272.8 302.8L277.8 304.7L280.6 301.2L275.6 299.3ZM262.7 307.5L267.7 309.4L270.6 305.9L265.6 304ZM257.2 314L262.2 316L265.1 312.4L260.1 310.5Z" fill="#54386c"/><path d="M217.4 303.2L222.3 305.2L225.3 301.7L220.5 299.8Z" fill="#acb8d8"/><path d="M270.1 306L275.1 307.9L277.9 304.4L272.9 302.5Z" fill="#74546c"/><path d="M243.2 308.7L248.2 310.7L251.1 307.1L246.2 305.2Z" fill="#787cb0"/><path d="M267.4 309.3L272.4 311.2L275.2 307.7L270.2 305.7Z" fill="#a07c6c"/><path d="M247.9 310.5L252.9 312.4L255.8 308.9L250.8 307ZM376.7 345.8L382.1 347.9L384.7 344.1L379.3 342.1ZM374.3 349.3L379.7 351.4L382.2 347.6L376.8 345.6Z" fill="#543c74"/><path d="M260 310.7L265 312.7L267.8 309.2L262.8 307.2Z" fill="#543c6c"/><path d="M264.6 312.5L269.7 314.5L272.5 310.9L267.5 309Z" fill="#b48c6c"/><path d="M261.9 315.8L266.9 317.7L269.8 314.2L264.8 312.2Z" fill="#a8806c"/><path d="M259.1 319.1L264.2 321.1L267.1 317.5L262 315.5Z" fill="#80606c"/><path d="M349.4 322.7L354.6 324.7L357.2 321.1L352 319.1Z" fill="#68486c"/><path d="M346.9 326.1L352.1 328.1L354.8 324.4L349.5 322.5Z" fill="#70506c"/><path d="M344.4 329.4L349.7 331.4L352.3 327.8L347 325.8Z" fill="#6c4c6c"/><path d="M341.9 332.8L347.1 334.8L349.8 331.2L344.5 329.2Z" fill="#60446c"/><path d="M381.6 338.9L386.9 340.9L389.5 337.2L384.1 335.2ZM379.1 342.4L384.5 344.4L387.1 340.7L381.7 338.6Z" fill="#544074"/><path d="M371.8 352.9L377.2 354.9L379.8 351.1L374.4 349.1Z" fill="#584880"/><path d="M261.9 111.1L266 116.7L268.4 114.4L264.2 111.9ZM259.6 112.1L263.8 118.8L266.1 116.6L262 111Z" fill="#c898c4"/><path d="M257.7 93.3L262.1 111.5L264.4 112.4L259.9 88.2Z" fill="#d490b0"/><path d="M257.4 112.6L261.6 120.9L263.9 118.7L259.8 112Z" fill="#cc9cc0"/><path d="M255.5 99.4L259.8 112.5L262.2 111.4L257.8 93.3Z" fill="#d490b0"/><path d="M259 120.1L263.2 124.2L265.6 121.8L261.4 120.4Z" fill="#b8b8e0"/><path d="M253.3 103.2L257.6 113.1L259.9 112.5L255.7 99.4Z" fill="#dc8ca4"/><path d="M255.1 111.8L259.3 120.4L261.7 120.8L257.5 112.6Z" fill="#cca0bc"/><path d="M256.7 119L260.9 126.3L263.3 124L259.1 119.9Z" fill="#b0c8f0"/><path d="M251 103.6L255.3 112.2L257.7 113L253.4 103.1Z" fill="#e48894"/><path d="M249.2 93.7L253.5 103.6L255.8 99.8L251.5 86.6Z" fill="#ec8488"/><path d="M252.7 111.7L256.9 119.4L259.4 120.4L255.2 111.8Z" fill="#d0a4b8"/><path d="M251.3 86.7L255.7 99.9L257.9 93.7L253.4 75.3ZM253.3 75.3L257.8 93.8L260 88.7L255.4 63.9Z" fill="#e88888"/><path d="M254.4 120.1L258.7 128.5L261.1 126.2L256.8 119Z" fill="#b0c8f0"/><path d="M247 95.3L251.2 104L253.6 103.6L249.4 93.6Z" fill="#ec8084"/><path d="M248.7 104.4L252.9 112.1L255.4 112.2L251.1 103.5Z" fill="#ec8088"/><path d="M250.4 112.1L254.6 120.5L257.1 119.4L252.8 111.6Z" fill="#d0a4b8"/><path d="M252.1 121.4L256.4 130.6L258.8 128.4L254.6 120.1Z" fill="#e0b49c"/><path d="M315.5 131.6L319.8 132.1L322 129.3L317.7 129.2Z" fill="#50346c"/><path d="M244.6 97L248.9 104.8L251.3 104L247.1 95.2Z" fill="#f07c80"/><path d="M246.3 104.1L250.6 112.6L253 112.1L248.8 104.3Z" fill="#ec8088"/><path d="M248.1 112.6L252.3 121.9L254.8 120.5L250.5 112.1Z" fill="#eca888"/><path d="M249.8 122.8L254.2 132.8L256.5 130.6L252.3 121.4Z" fill="#f8a870"/><path d="M313.4 133.8L317.7 134.6L319.9 131.8L315.6 131.3Z" fill="#50346c"/><path d="M319.5 132.1L323.8 127.8L325.9 125.2L321.5 129.6Z" fill="#54386c"/><path d="M242.2 96L246.5 104.6L249 104.7L244.8 96.9Z" fill="#f07c80"/><path d="M311.3 136L315.6 137.1L317.8 134.3L313.5 133.5Z" fill="#50346c"/><path d="M243.9 103.7L248.3 113L250.7 112.5L246.4 104.1Z" fill="#f49c78"/><path d="M247.5 123.1L251.9 135L254.3 132.8L250 122.7Z" fill="#f8a870"/><path d="M317.4 134.6L321.7 130.4L323.8 127.8L319.4 132.1Z" fill="#54386c"/><path d="M245.7 113.1L250 123.2L252.5 121.8L248.2 112.6Z" fill="#f8a870"/><path d="M309.1 138.2L313.4 139.6L315.7 136.8L311.4 135.7Z" fill="#50346c"/><path d="M315.3 137L319.6 133.1L321.7 130.4L317.3 134.5Z" fill="#50386c"/><path d="M323.4 128.2L327.8 122.2L329.9 119.6L325.6 125.6Z" fill="#b07470"/><path d="M239.8 94.8L244.1 104.2L246.6 104.5L242.3 96Z" fill="#f89874"/><path d="M245.1 123.5L249.6 137.2L252 135L247.6 123.1ZM241.5 103.3L245.9 113.5L248.4 113L244 103.7ZM243.3 111.6L247.7 123.6L250.1 123.2L245.8 113Z" fill="#f8a870"/><path d="M321.4 130.8L325.7 124.8L327.8 122.2L323.5 128.2Z" fill="#a47070"/><path d="M313.1 139.5L317.5 135.7L319.6 133L315.2 137Z" fill="#50346c"/><path d="M242.8 127.6L247.3 139.4L249.7 137.2L245.2 123.5ZM237.3 93.5L241.7 103.8L244.2 104.1L239.9 94.7Z" fill="#f8a870"/><path d="M319.2 133.4L323.5 127.5L325.7 124.9L321.4 130.8Z" fill="#9c686c"/><path d="M311 141.7L315.4 138.8L317.4 135.6L313.1 139.4Z" fill="#50346c"/><path d="M240.6 132.9L245 141.7L247.4 139.4L243 127.6ZM327.5 122.6L331.8 115.6L333.9 113L329.6 120ZM239 100L243.4 112.1L246 113.5L241.6 103.3ZM240.8 110.2L245.3 124L247.8 123.6L243.3 111.6Z" fill="#f8a870"/><path d="M317.1 136L321.4 130.2L323.6 127.5L319.3 133.4Z" fill="#94606c"/><path d="M238.3 135.8L242.7 143.9L245.1 141.6L240.8 132.8Z" fill="#f8a870"/><path d="M308.8 143.9L313.2 142L315.3 138.7L310.9 141.6Z" fill="#50346c"/><path d="M325.4 125.3L329.7 118.2L331.8 115.6L327.5 122.6Z" fill="#f4a470"/><path d="M238.5 116.2L243 128.1L245.4 124L240.9 110.1ZM236.4 124.6L240.8 133.3L243.2 128L238.7 116.1Z" fill="#f8a870"/><path d="M315 139L319.3 133.2L321.4 130.2L317.1 136Z" fill="#84586c"/><path d="M306.7 146.2L311 145.1L313.2 141.7L308.8 143.7Z" fill="#50346c"/><path d="M236 138.8L240.3 146.2L242.8 143.8L238.4 135.7Z" fill="#f8a870"/><path d="M359.5 135.1L363.4 146.2L365.5 144L361.6 132.7Z" fill="#acd0f4"/><path d="M234.7 88.2L239.2 100.4L241.8 103.7L237.4 93.4ZM234.1 128.1L238.5 136.2L241 133.2L236.6 124.4Z" fill="#f8a870"/><path d="M323.3 127.9L327.6 120.9L329.7 118.2L325.4 125.3Z" fill="#f4a470"/><path d="M236.4 96.6L240.9 110.6L243.5 112.1L239.1 100Z" fill="#f8a870"/><path d="M312.9 142.1L317.2 136.2L319.3 133.2L315 139Z" fill="#74506c"/><path d="M331.6 116L335.9 108.2L338.1 105.6L333.7 113.5ZM231.8 131.7L236.2 139.1L238.7 136.1L234.3 128Z" fill="#f8a870"/><path d="M304.5 148.4L308.8 148.2L311.1 144.8L306.7 145.9Z" fill="#50346c"/><path d="M233.6 141.7L238 148.4L240.5 146.1L236.1 138.7Z" fill="#f8a870"/><path d="M357.4 137.4L361.4 148.5L363.5 146.2L359.6 135Z" fill="#acd0f4"/><path d="M229.9 120.4L234.4 128.5L236.8 124.8L232.4 115.9ZM232.2 116.2L236.7 124.9L239 116.4L234.4 104.5Z" fill="#f8a870"/><path d="M321.1 130.6L325.5 123.5L327.6 120.9L323.3 127.9Z" fill="#f0a070"/><path d="M234.2 104.6L238.7 116.6L241.1 110.6L236.5 96.6Z" fill="#f8a870"/><path d="M310.7 145.1L315 139.3L317.2 136.2L312.8 142.1Z" fill="#68446c"/><path d="M355.7 124.2L359.6 135.5L361.8 133.2L357.8 121.9Z" fill="#bcc8dc"/><path d="M229.5 135.4L233.9 142.1L236.4 139L232 131.6ZM227.6 124.7L232.1 132.1L234.5 128.4L230.1 120.2ZM329.5 118.7L333.8 110.7L336 108.2L331.6 116.1Z" fill="#f8a870"/><path d="M302.3 150.7L306.6 151.6L308.9 147.9L304.6 148.1Z" fill="#50346c"/><path d="M231.3 144.7L235.6 150.7L238.1 148.3L233.8 141.6Z" fill="#f8a870"/><path d="M355.4 139.7L359.4 150.8L361.5 148.5L357.5 137.3Z" fill="#acd0f4"/><path d="M225.7 112.6L230.2 120.7L232.7 116.3L228.2 107.4Z" fill="#f8a870"/><path d="M319 133.6L323.3 126.4L325.5 123.5L321.2 130.6Z" fill="#e89c70"/><path d="M225.3 129L229.8 135.7L232.2 132L227.8 124.6Z" fill="#f8a870"/><path d="M308.5 148.2L312.8 142.5L315 139.3L310.7 145.1Z" fill="#5c406c"/><path d="M227.1 139.1L231.5 145L234 142L229.7 135.2ZM232 82.9L236.6 97.1L239.2 100.4L234.7 88.2ZM228 107.8L232.5 116.4L234.6 104.7L230 92.8ZM223.5 117.6L227.9 125L230.4 120.6L225.9 112.4Z" fill="#f8a870"/><path d="M353.6 126.6L357.6 137.8L359.7 135.5L355.8 124.2Z" fill="#bcc8dc"/><path d="M327.3 121.3L331.7 113.3L333.9 110.8L329.5 118.7Z" fill="#f8a870"/><path d="M300.1 152.9L304.4 154.4L306.8 151.3L302.4 150.4Z" fill="#50346c"/><path d="M228.9 147.4L233.2 153L235.8 150.6L231.4 144.6Z" fill="#f8a870"/><path d="M316.9 136.6L321.2 129.3L323.3 126.4L319 133.6Z" fill="#e09470"/><path d="M223 133.4L227.4 139.4L229.9 135.6L225.5 128.9ZM221.2 122.7L225.6 129.4L228.1 124.9L223.7 117.5Z" fill="#f8a870"/><path d="M353.3 142L357.3 153.1L359.5 150.7L355.5 139.6Z" fill="#acd0f4"/><path d="M306.4 151.6L310.7 146.8L312.8 142.5L308.5 148.1Z" fill="#54386c"/><path d="M351.9 113.3L355.9 124.7L358 122.3L354.1 110.9Z" fill="#d0bcb4"/><path d="M224.8 142.1L229.2 147.7L231.7 144.9L227.3 138.9ZM335.7 108.6L340.1 100L342.3 97.5L337.8 106.1ZM229.8 93L234.4 105L236.7 97L232 82.9ZM218.9 127.7L223.3 133.7L225.8 129.2L221.4 122.5ZM325.2 123.9L329.6 115.9L331.7 113.4L327.4 121.3Z" fill="#f8a870"/><path d="M351.6 128.9L355.6 140.1L357.7 137.8L353.7 126.5Z" fill="#bcc8dc"/><path d="M220.7 136.8L225.1 142.4L227.6 139.2L223.2 133.2Z" fill="#f8a870"/><path d="M314.7 139.7L319 132.3L321.2 129.4L316.9 136.7Z" fill="#d08c70"/><path d="M226.5 150L230.8 155.3L233.4 152.8L229.1 147.2Z" fill="#f8a870"/><path d="M304.2 154.3L308.6 150.9L310.7 146.7L306.3 151.5Z" fill="#50346c"/><path d="M395.8 156L400.5 155L402.4 152.4L397.7 153.5Z" fill="#605488"/><path d="M351.3 144.3L355.3 155.4L357.4 153L353.5 141.9Z" fill="#acd0f4"/><path d="M216.6 131.5L221 137.1L223.5 133.5L219.1 127.5ZM222.4 145.1L226.8 150.4L229.3 147.5L225 141.9Z" fill="#f8a870"/><path d="M349.8 115.7L353.8 127L356 124.6L352 113.3Z" fill="#d0bcb4"/><path d="M333.6 111.2L338 102.5L340.2 100L335.7 108.6ZM323.1 126.8L327.4 118.7L329.6 116L325.3 124ZM218.3 140.2L222.7 145.4L225.3 142.2L220.9 136.6Z" fill="#f8a870"/><path d="M312.6 142.9L316.8 135.4L319 132.3L314.7 139.8Z" fill="#c08070"/><path d="M349.5 131.3L353.5 142.4L355.7 140.1L351.7 128.9Z" fill="#bcc8dc"/><path d="M301.9 156.6L306.3 154.9L308.5 150.7L304.1 154.1Z" fill="#50346c"/><path d="M224.1 152.7L228.4 157.6L231 155.1L226.7 149.9ZM214.2 135.2L218.6 140.5L221.2 136.9L216.8 131.3Z" fill="#f8a870"/><path d="M348 102.3L352.1 113.8L354.2 111.4L350.2 99.9Z" fill="#e8b090"/><path d="M393.9 158.4L398.6 157.3L400.5 154.7L395.8 155.8Z" fill="#605488"/><path d="M220 148.2L224.4 153L227 150.2L222.6 144.9Z" fill="#f8a870"/><path d="M349.2 146.6L353.2 157.7L355.4 155.3L351.4 144.2Z" fill="#acd0f4"/><path d="M331.5 113.8L335.9 105L338 102.5L333.6 111.2Z" fill="#f8a870"/><path d="M347.7 118.1L351.8 129.4L353.9 127L349.9 115.6Z" fill="#d0bcb4"/><path d="M215.9 143.6L220.3 148.5L222.9 145.2L218.5 140Z" fill="#f8a870"/><path d="M310.4 147.1L314.7 140.2L316.9 135.4L312.5 142.9Z" fill="#a87070"/><path d="M320.9 129.8L325.3 121.4L327.5 118.7L323.1 126.9ZM211.8 139L216.2 143.9L218.8 140.3L214.4 135Z" fill="#f8a870"/><path d="M299.7 158.9L304.1 158.6L306.3 154.6L301.9 156.3Z" fill="#50346c"/><path d="M347.4 133.5L351.5 144.7L353.6 142.4L349.6 131.2Z" fill="#bcc8dc"/><path d="M221.7 155.4L226 159.9L228.6 157.4L224.3 152.6Z" fill="#f8a870"/><path d="M345.9 104.7L350 116.1L352.2 113.7L348.1 102.3Z" fill="#e8b090"/><path d="M308.2 151.1L312.6 144.8L314.7 140.1L310.4 147.1Z" fill="#90606c"/><path d="M339.9 100.5L344.4 91.2L346.5 88.7L342 98ZM217.6 151.2L222 155.7L224.6 152.9L220.2 148Z" fill="#f8a870"/><path d="M391.9 160.7L396.6 159.7L398.6 157.1L393.9 158.1Z" fill="#605488"/><path d="M347.1 148.9L351.2 160L353.3 157.6L349.3 146.5Z" fill="#acd0f4"/><path d="M329.4 116.4L333.8 107.6L335.9 105.1L331.5 113.8ZM213.5 147L217.9 151.5L220.5 148.3L216.1 143.4Z" fill="#f8a870"/><path d="M400.2 155.1L405.2 144.2L407.2 141.8L402.1 152.8Z" fill="#604880"/><path d="M345.6 120.5L349.7 131.7L351.9 129.3L347.8 118Z" fill="#d0bcb4"/><path d="M318.8 132.8L323.1 124.2L325.3 121.4L321 129.8ZM209.5 142.8L213.8 147.3L216.4 143.7L212 138.8Z" fill="#f8a870"/><path d="M306 155L310.4 149.4L312.5 144.8L308.2 151.1Z" fill="#74506c"/><path d="M297.5 161.2L301.8 162L304.2 158.3L299.8 158.6Z" fill="#50346c"/><path d="M344.2 91.2L348.2 102.8L350.4 100.3L346.4 88.7Z" fill="#f8a874"/><path d="M345.3 135.8L349.4 147L351.6 144.7L347.5 133.5Z" fill="#bcc8dc"/><path d="M219.2 157.7L223.6 162.3L226.2 159.8L221.9 155.2Z" fill="#f8a870"/><path d="M343.8 107.1L347.9 118.5L350.1 116.1L346.1 104.7Z" fill="#e8b090"/><path d="M337.8 103L342.3 93.6L344.4 91.2L340 100.5ZM215.2 153.5L219.5 158L222.2 155.6L217.8 151ZM211.1 149.3L215.5 153.8L218.1 151.4L213.7 146.8ZM327.2 119.1L331.6 110.1L333.8 107.6L329.4 116.4Z" fill="#f8a870"/><path d="M303.8 158.6L308.2 153.8L310.3 149.3L305.9 154.9Z" fill="#64406c"/><path d="M390 163L394.7 162L396.6 159.4L391.9 160.4Z" fill="#605488"/><path d="M316.6 135.8L320.9 127L323.1 124.2L318.8 132.8Z" fill="#f8a870"/><path d="M345 151.2L349.1 162.3L351.3 160L347.2 148.8Z" fill="#acd0f4"/><path d="M398.2 157.4L403.3 146.6L405.3 144.2L400.2 155.1Z" fill="#604880"/><path d="M207 145L211.4 149.6L214 147.1L209.7 142.6Z" fill="#f8a870"/><path d="M343.5 122.7L347.6 134L349.8 131.7L345.7 120.4Z" fill="#d0bcb4"/><path d="M295.2 163.5L299.6 164.9L302 161.7L297.6 160.9Z" fill="#50346c"/><path d="M342.1 93.6L346.1 105.2L348.3 102.7L344.3 91.1Z" fill="#f8a874"/><path d="M343.2 138.1L347.3 149.3L349.5 147L345.4 135.8Z" fill="#bcc8dc"/><path d="M301.6 162L306 157.7L308.1 153.7L303.7 158.6Z" fill="#58386c"/><path d="M314.4 140.6L318.8 132.3L321 127L316.6 135.8Z" fill="#f4a470"/><path d="M341.7 109.5L345.8 120.9L348 118.5L344 107.1Z" fill="#e8b090"/><path d="M216.8 160.1L221.2 164.6L223.8 162.1L219.4 157.6ZM335.7 105.5L340.1 96L342.3 93.6L337.8 103ZM212.7 155.8L217.1 160.4L219.7 157.9L215.3 153.3ZM325.1 121.9L329.5 112.6L331.7 110.1L327.3 119.1ZM208.6 151.5L213 156.1L215.6 153.6L211.3 149.1Z" fill="#f8a870"/><path d="M342.9 154.3L347 164.7L349.2 162.3L345.1 151.1Z" fill="#acd0f4"/><path d="M388 165.4L392.8 163.4L394.7 161.8L389.9 162.8Z" fill="#605488"/><path d="M396.3 159.8L401.3 149L403.3 146.6L398.3 157.4Z" fill="#604880"/><path d="M204.5 147.3L208.9 151.9L211.6 149.4L207.2 144.9Z" fill="#f8a870"/><path d="M312.3 145.2L316.6 137.5L318.8 132.3L314.4 140.5Z" fill="#eca070"/><path d="M341.4 124.9L345.5 136.3L347.7 133.9L343.6 122.6Z" fill="#d0bcb4"/><path d="M339.9 96.1L344 107.6L346.2 105.1L342.2 93.6Z" fill="#f8a874"/><path d="M299.3 164.9L303.8 161.6L305.9 157.6L301.5 161.9Z" fill="#50346c"/><path d="M310.1 149.7L314.4 142.6L316.6 137.4L312.2 145.2Z" fill="#e09470"/><path d="M341.1 140.4L345.2 151.6L347.4 149.3L343.3 138Z" fill="#bcc8dc"/><path d="M339.6 111.8L343.7 123.1L345.9 120.9L341.8 109.5Z" fill="#e8b090"/><path d="M333.5 108L338 98.5L340.2 96.1L335.7 105.5Z" fill="#f8a870"/><path d="M429.8 159.1L433.8 167.6L435.7 165.2L431.8 156.7Z" fill="#90a4d0"/><path d="M214.3 162.4L218.7 167L221.3 164.5L217 159.9ZM322.9 124.6L327.3 115.1L329.5 112.6L325.1 121.9ZM210.2 158.1L214.6 162.7L217.2 160.2L212.9 155.6Z" fill="#f8a870"/><path d="M340.7 157.4L344.9 167.1L347.1 164.6L343 154.2Z" fill="#acd0f4"/><path d="M206.1 153.8L210.5 158.4L213.2 155.9L208.8 151.4Z" fill="#f8a870"/><path d="M307.8 154.1L312.2 147.6L314.4 142.5L310 149.7Z" fill="#c88870"/><path d="M394.3 162.1L399.4 151.4L401.4 149L396.3 159.8Z" fill="#604880"/><path d="M202 149.6L206.4 154.2L209.1 151.7L204.7 147.1Z" fill="#f8a870"/><path d="M386 167.8L390.8 165L392.7 163.3L388 165.2Z" fill="#605488"/><path d="M339.3 127.2L343.4 138.5L345.6 136.2L341.5 124.9Z" fill="#d0bcb4"/><path d="M405 144.6L410.2 133.5L412.1 131.1L407 142.3Z" fill="#8c4480"/><path d="M297.1 167.2L301.5 165.5L303.7 161.4L299.3 164.7Z" fill="#50346c"/><path d="M337.8 98.5L341.9 110L344.1 107.5L340 96Z" fill="#f8a874"/><path d="M338.9 144.2L343.1 154.7L345.3 151.6L341.2 140.3Z" fill="#bcc8dc"/><path d="M305.6 158L310 151.7L312.2 147.5L307.8 154Z" fill="#b07470"/><path d="M331.4 110.5L335.9 100.7L338.1 98.5L333.6 108.1Z" fill="#f8a870"/><path d="M442 170L446.7 171.2L448.7 167.1L443.9 167.4Z" fill="#605488"/><path d="M337.5 114L341.6 125.4L343.8 123.1L339.7 111.7Z" fill="#e8b090"/><path d="M427.9 161.5L431.9 170L433.9 167.5L429.9 159.1Z" fill="#98b0dc"/><path d="M320.7 127.5L325.1 117.7L327.3 115.1L322.9 124.7ZM211.8 164.8L216.2 169.4L218.9 166.8L214.5 162.2Z" fill="#f8a870"/><path d="M338.6 160.5L342.8 169.4L345 167L340.9 157.3Z" fill="#acd0f4"/><path d="M207.7 160.5L212.1 165.1L214.8 162.5L210.4 158ZM203.6 156.2L208 160.8L210.7 158.3L206.3 153.7Z" fill="#f8a870"/><path d="M294.8 169.6L299.2 169.2L301.5 165.2L297.1 166.9Z" fill="#50346c"/><path d="M392.4 163.6L397.4 153.2L399.4 151.4L394.4 162.1Z" fill="#604880"/><path d="M199.5 151.8L203.9 156.5L206.6 154L202.2 149.4Z" fill="#f8a870"/><path d="M337.2 129.5L341.3 140.8L343.5 138.5L339.4 127.2Z" fill="#d0bcb4"/><path d="M403.1 147L408.2 136L410.2 133.5L405.1 144.6Z" fill="#8c4480"/><path d="M384 170.2L388.9 166.6L390.8 164.9L386 167.7Z" fill="#605488"/><path d="M303.4 161.8L307.8 155.9L310 151.7L305.6 157.9Z" fill="#94646c"/><path d="M336.7 148.1L340.9 157.8L343.2 154.7L339.1 144.2Z" fill="#bcc8dc"/><path d="M335.6 100.7L339.8 112.2L342 110L337.9 98.5Z" fill="#f8a874"/><path d="M318.6 132.7L322.9 123.4L325.1 117.7L320.7 127.5Z" fill="#f8a870"/><path d="M426.7 143.5L430 159.6L431.9 157.1L428.6 141.1Z" fill="#bcc8d8"/><path d="M440.2 172.4L444.8 173.9L446.8 170.9L442.1 169.7Z" fill="#605488"/><path d="M329.3 113L333.7 102.9L335.9 100.7L331.5 110.5ZM316.3 137.9L320.7 129.1L322.9 123.4L318.5 132.7Z" fill="#f8a870"/><path d="M335.3 116.2L339.5 127.7L341.7 125.4L337.6 114Z" fill="#e8b090"/><path d="M426 163.9L430 172.4L432 169.9L428.1 161.5Z" fill="#a0c0e8"/><path d="M209.3 167.2L213.7 171.8L216.4 169.2L212 164.6Z" fill="#f8a870"/><path d="M336.4 163.7L340.7 171.8L342.9 169.4L338.7 160.5Z" fill="#acd0f4"/><path d="M205.2 163L209.6 167.5L212.3 164.9L207.9 160.3Z" fill="#f8a870"/><path d="M301.2 165.5L305.6 160L307.7 155.9L303.4 161.8Z" fill="#78506c"/><path d="M334.9 134.1L339.1 144.7L341.4 140.8L337.3 129.4Z" fill="#d0bcb4"/><path d="M201.1 158.8L205.5 163.3L208.2 160.6L203.8 156Z" fill="#f8a870"/><path d="M334.6 152L338.8 160.9L341.1 157.8L336.9 148Z" fill="#bcc8dc"/><path d="M314.1 143L318.5 134.7L320.7 129.1L316.3 137.9Z" fill="#f8a870"/><path d="M292.5 172L297 171.6L299.3 168.9L294.9 169.3Z" fill="#50346c"/><path d="M196.9 154.5L201.4 159.1L204.1 156.3L199.6 151.7Z" fill="#f8a870"/><path d="M401.1 149.4L406.2 138.4L408.2 136L403.1 147Z" fill="#8c4480"/><path d="M446.4 171.2L451.7 164.1L453.7 159.6L448.3 167.4Z" fill="#68507c"/><path d="M333.5 102.9L337.7 114.4L339.9 112.2L335.8 100.7Z" fill="#f8a874"/><path d="M390.5 165.2L395.5 155.1L397.5 153.3L392.5 163.7Z" fill="#5c4078"/><path d="M382 172.6L386.9 168.2L388.8 166.5L384 170.1Z" fill="#605488"/><path d="M311.9 148L316.3 140.3L318.5 134.7L314.1 142.9Z" fill="#f8a870"/><path d="M424.8 146L428.1 162L430.1 159.5L426.8 143.5Z" fill="#bcc8d8"/><path d="M332.7 138.8L337 148.5L339.3 144.6L335.1 134.1Z" fill="#d0bcb4"/><path d="M298.9 169.2L303.4 164.2L305.5 160L301.1 165.5Z" fill="#64446c"/><path d="M327.1 115.6L331.5 105.1L333.8 102.9L329.3 113Z" fill="#f8a870"/><path d="M333.2 118.5L337.3 129.9L339.6 127.6L335.4 116.2Z" fill="#e8b090"/><path d="M424.1 166.4L428.2 174.8L430.2 172.3L426.2 163.9Z" fill="#a8c8f0"/><path d="M334.3 166.5L338.5 174.2L340.8 171.7L336.6 163.6Z" fill="#b0ccf0"/><path d="M206.8 169.7L211.2 174.2L213.9 171.6L209.5 167.1Z" fill="#f8a870"/><path d="M332.4 155.9L336.7 164.1L339 160.9L334.7 151.9Z" fill="#bcc8dc"/><path d="M309.7 152.1L314.1 144.7L316.3 140.3L311.9 147.9Z" fill="#f8a470"/><path d="M202.7 165.6L207.1 170L209.8 167.4L205.4 162.8Z" fill="#f8a870"/><path d="M444.5 173.8L449.7 168.6L451.7 164L446.4 171.1Z" fill="#605084"/><path d="M198.5 161.4L203 165.9L205.7 163.1L201.3 158.6Z" fill="#f8a870"/><path d="M290.3 174.4L294.7 174.1L297.1 171.4L292.6 171.7Z" fill="#50346c"/><path d="M194.4 157.2L198.8 161.7L201.6 158.9L197.1 154.3Z" fill="#f8a870"/><path d="M399.2 151.8L404.3 140.9L406.3 138.5L401.2 149.4Z" fill="#8c4480"/><path d="M330.5 143.4L334.8 152.4L337.1 148.4L332.9 138.7Z" fill="#d0bcb4"/><path d="M380 175L384.7 173.3L386.8 168.2L382 172.5Z" fill="#605488"/><path d="M331.3 105.2L335.5 116.7L337.8 114.4L333.6 102.9Z" fill="#f8a874"/><path d="M410 134L415.2 122.7L417.1 120.2L411.9 131.6Z" fill="#c47478"/><path d="M296.7 171.6L301.1 166.8L303.3 164.1L298.9 169.2Z" fill="#5c406c"/><path d="M388.5 166.9L393.5 157.1L395.5 155.2L390.5 165.3Z" fill="#60407c"/><path d="M307.5 156.3L311.9 149.1L314.1 144.7L309.7 152.1Z" fill="#f0a070"/><path d="M330.9 123.9L335.1 134.5L337.5 129.9L333.3 118.5Z" fill="#e8b090"/><path d="M422.9 148.4L426.2 164.4L428.2 161.9L424.8 145.9Z" fill="#bcc8d8"/><path d="M330.2 159.1L334.5 166.9L336.8 164L332.5 155.8Z" fill="#c8c0c8"/><path d="M324.9 118.1L329.4 107.4L331.6 105.2L327.1 115.6Z" fill="#f8a870"/><path d="M442.7 176.2L447.8 173.2L449.7 168.5L444.5 173.8Z" fill="#605488"/><path d="M332.1 169.4L336.4 176.7L338.7 174.1L334.4 166.4Z" fill="#b8c8e4"/><path d="M422.2 168.9L426.3 177.2L428.3 174.7L424.3 166.3Z" fill="#a8ccf4"/><path d="M328.3 148.1L332.6 156.3L335 152.3L330.7 143.3Z" fill="#d0bcb4"/><path d="M204.3 172.2L208.7 176.6L211.4 174L207 169.5ZM200.1 168.1L204.6 172.5L207.3 169.8L202.9 165.4Z" fill="#f8a870"/><path d="M328.7 129.3L333 139.2L335.3 134.5L331.1 123.8Z" fill="#e8b090"/><path d="M196 164L200.5 168.4L203.2 165.7L198.7 161.2Z" fill="#f8a870"/><path d="M377.9 177.4L382.5 178L384.7 173L380 174.7Z" fill="#5c4880"/><path d="M191.9 159.9L196.3 164.3L199 161.5L194.6 157Z" fill="#f8a870"/><path d="M305.2 160.4L309.6 153.5L311.8 149.1L307.5 156.3Z" fill="#e09870"/><path d="M288 176.8L292.4 176.7L294.8 173.8L290.3 174.1Z" fill="#50346c"/><path d="M423.4 127.7L426.8 144L428.8 141.5L425.4 125.2Z" fill="#e0b49c"/><path d="M397.2 153.7L402.3 143.1L404.3 140.9L399.2 151.8Z" fill="#8c4480"/><path d="M322.7 123.8L327.2 113.6L329.4 107.4L324.9 118.1Z" fill="#f8a870"/><path d="M329.1 107.4L333.3 118.9L335.6 116.6L331.4 105.1Z" fill="#f8a874"/><path d="M408 136.4L413.2 125.2L415.2 122.7L410 134Z" fill="#c47478"/><path d="M326.5 134.8L330.8 143.8L333.1 139.1L328.9 129.2Z" fill="#e8b090"/><path d="M294.4 174.1L298.8 169.6L301 166.8L296.6 171.6Z" fill="#5c406c"/><path d="M320.5 129.5L325 119.8L327.2 113.6L322.7 123.8Z" fill="#f8a870"/><path d="M326.1 151.7L330.4 159.5L332.8 156.2L328.5 148Z" fill="#e0b4a0"/><path d="M328 162.4L332.3 169.7L334.7 166.8L330.3 159Z" fill="#dcb8a4"/><path d="M440.8 178.6L445.7 177.7L447.7 173L442.6 176Z" fill="#605488"/><path d="M420.9 150.9L424.3 166.8L426.3 164.3L422.9 148.4Z" fill="#bcc8d8"/><path d="M386.5 168.6L391.5 159.1L393.5 157.1L388.6 166.9Z" fill="#64407c"/><path d="M303 164.5L307.4 157.8L309.6 153.4L305.2 160.4Z" fill="#d08c70"/><path d="M318.3 135.1L322.7 126L324.9 119.8L320.5 129.5Z" fill="#f8a870"/><path d="M329.9 172.2L334.2 179.1L336.5 176.6L332.2 169.2Z" fill="#b8c8e4"/><path d="M324.2 140.2L328.6 148.4L330.9 143.7L326.6 134.7Z" fill="#e8b090"/><path d="M420.3 171.3L424.4 179.6L426.4 177.1L422.4 168.8Z" fill="#acd0f8"/><path d="M201.8 174.7L206.2 179L208.9 176.4L204.5 172ZM197.6 170.7L202.1 175L204.8 172.3L200.3 167.9ZM316.1 140.7L320.5 132.2L322.7 126L318.2 135.1ZM193.5 166.7L197.9 171L200.6 168.2L196.2 163.8Z" fill="#f8a870"/><path d="M451.4 164.5L457 154L459 149.6L453.4 160Z" fill="#e09870"/><path d="M326.9 113.7L331.1 124.3L333.5 118.9L329.3 107.4Z" fill="#f8a874"/><path d="M375.9 179.8L380.6 180L382.7 177.7L378 177Z" fill="#50346c"/><path d="M189.3 162.7L193.8 167L196.5 164.1L192.1 159.7Z" fill="#f8a870"/><path d="M285.7 179.2L290.1 179.2L292.5 176.4L288.1 176.5Z" fill="#50346c"/><path d="M421.5 130.2L424.9 146.4L426.9 144L423.5 127.7Z" fill="#e0b49c"/><path d="M384.4 173.4L389.2 169L391.5 159.1L386.5 168.5Z" fill="#68447c"/><path d="M382.2 177.9L386.8 177.7L389.2 168.6L384.4 173Z" fill="#644078"/><path d="M324.6 119.9L328.9 129.7L331.3 124.2L327 113.6Z" fill="#f8a874"/><path d="M323.9 155.4L328.2 162.8L330.6 159.4L326.3 151.6Z" fill="#f8a878"/><path d="M395.3 155.6L400.3 145.3L402.3 143.1L397.3 153.7Z" fill="#904480"/><path d="M406 138.9L411.2 127.7L413.2 125.2L408 136.5Z" fill="#c47478"/><path d="M322 144.3L326.4 152.1L328.7 148.3L324.4 140.1Z" fill="#f0ac84"/><path d="M313.8 145.1L318.2 136.7L320.5 132.2L316 140.7Z" fill="#f8a870"/><path d="M438.9 181L443.7 181.5L445.7 177.4L440.8 178.3Z" fill="#605488"/><path d="M325.8 165.7L330.1 172.6L332.5 169.6L328.2 162.3Z" fill="#dcb8a4"/><path d="M292.1 176.6L296.5 172.4L298.8 169.6L294.4 174.1Z" fill="#5c406c"/><path d="M300.7 167.2L305.1 160.9L307.4 157.8L303 164.5Z" fill="#c48470"/><path d="M322.4 126.1L326.7 135.1L329.1 129.6L324.8 119.7Z" fill="#f8a874"/><path d="M449.4 168.9L455 158.6L457 154L451.4 164.5Z" fill="#c48470"/><path d="M419 153.5L422.4 169.3L424.4 166.8L421 150.9Z" fill="#bcc8d8"/><path d="M327.7 175.1L332.1 181.5L334.4 179L330 172.1Z" fill="#b8c8e4"/><path d="M320.1 132.3L324.5 140.6L326.9 135L322.6 126Z" fill="#f8a874"/><path d="M199.2 177.5L203.7 181.5L206.4 178.8L201.9 174.5Z" fill="#f8a870"/><path d="M418.4 173.9L422.4 182.1L424.5 179.6L420.4 171.3Z" fill="#acd0f8"/><path d="M195.1 173.8L199.5 177.8L202.2 174.8L197.8 170.5ZM191 170.1L195.4 174.1L198.1 170.8L193.7 166.5ZM186.8 166.5L191.3 170.4L194 166.7L189.5 162.5ZM311.6 149.5L316 141.3L318.2 136.7L313.8 145.1Z" fill="#f8a870"/><path d="M380.2 179.9L385 177.6L387 177.4L382.2 177.7Z" fill="#5c3c6c"/><path d="M373.8 182.2L378.5 182.6L380.6 179.7L376 179.5Z" fill="#50346c"/><path d="M319.8 148.4L324.2 155.8L326.5 152L322.2 144.2Z" fill="#f8a870"/><path d="M321.7 159.2L326 166.1L328.4 162.7L324.1 155.3Z" fill="#f8a878"/><path d="M447.4 173.4L453 163.2L455 158.5L449.4 168.9Z" fill="#a07070"/><path d="M283.4 181.7L287.8 181.8L290.2 178.9L285.8 178.9Z" fill="#50346c"/><path d="M419.5 132.8L423 148.9L425 146.4L421.5 130.2Z" fill="#e0b49c"/><path d="M317.9 136.8L322.3 144.7L324.7 140.4L320.3 132.2Z" fill="#f8a874"/><path d="M323.6 169L328 175.5L330.3 172.5L326 165.6Z" fill="#dcb8a4"/><path d="M437 183.5L441.7 184.9L443.8 181.2L439 180.7Z" fill="#605488"/><path d="M404.1 141.4L409.3 130.3L411.3 127.7L406.1 138.9Z" fill="#c07078"/><path d="M298.5 170L302.8 164L305.1 160.9L300.7 167.2Z" fill="#c08070"/><path d="M289.8 179.2L294.3 175.3L296.5 172.4L292.1 176.6Z" fill="#5c406c"/><path d="M393.3 157.6L398.3 147.6L400.4 145.4L395.3 155.6Z" fill="#904480"/><path d="M309.4 153.9L313.8 145.9L316 141.3L311.6 149.5Z" fill="#f8a870"/><path d="M415 123.2L420.3 111.7L422.3 109.2L416.9 120.7Z" fill="#f4a470"/><path d="M417 156.2L420.5 171.8L422.5 169.3L419 153.5Z" fill="#bcc8d8"/><path d="M386.6 177.7L391.1 177.5L393.7 164.1L389 168.5Z" fill="#a0587c"/><path d="M445.4 177.7L450.9 168L452.9 163.2L447.4 173.3Z" fill="#846078"/><path d="M184.3 170.3L188.7 173.9L191.4 170.2L187 166.2Z" fill="#f8a870"/><path d="M325.5 177.8L329.9 184L332.2 181.4L327.9 175Z" fill="#b8c8e4"/><path d="M188.4 173.6L192.9 177.2L195.6 173.9L191.1 169.9ZM317.5 152.6L321.9 159.5L324.3 155.7L320 148.3ZM192.5 177L197 180.6L199.7 177.6L195.3 173.6Z" fill="#f8a870"/><path d="M420.1 111.7L423.5 128.2L425.5 125.7L422.1 109.1Z" fill="#f8a874"/><path d="M315.6 141.4L320 148.8L322.4 144.5L318.1 136.7ZM196.7 180.3L201.1 184L203.8 181.3L199.4 177.3Z" fill="#f8a870"/><path d="M416.4 176.4L420.5 184.6L422.6 182L418.5 173.8Z" fill="#acd0f8"/><path d="M319.4 162.9L323.8 169.4L326.2 165.9L321.8 159Z" fill="#f8a878"/><path d="M384.6 177.7L389.4 175.3L391.3 177.3L386.5 177.6Z" fill="#bc7c70"/><path d="M307.1 158.2L311.5 150.5L313.7 145.9L309.3 153.9Z" fill="#f8a870"/><path d="M371.8 184.7L376.4 185.1L378.6 182.3L373.9 181.9ZM489.8 184.6L495.1 181.9L497.1 176.2L491.5 182.1ZM281 184.1L285.5 184.4L287.9 181.5L283.5 181.4Z" fill="#50346c"/><path d="M417.6 135.3L421 151.4L423 148.9L419.6 132.7Z" fill="#e0b49c"/><path d="M321.3 171.9L325.8 178.1L328.1 175.3L323.7 168.9Z" fill="#dcb8a4"/><path d="M443.4 181.5L448.8 173.4L450.9 167.9L445.4 177.7Z" fill="#6c5078"/><path d="M378.2 182.5L383 178.1L385 177.5L380.2 179.8Z" fill="#54386c"/><path d="M296.2 172.8L300.6 167.2L302.9 164L298.5 170Z" fill="#c08070"/><path d="M402.1 143.6L407.3 132.8L409.3 130.3L404.1 141.4Z" fill="#c07078"/><path d="M287.5 181.8L292 178.5L294.2 175.2L289.8 179.1Z" fill="#5c406c"/><path d="M313.4 146L317.8 152.9L320.2 148.7L315.8 141.3ZM315.3 156.8L319.7 163.2L322.1 159.4L317.7 152.4ZM181.8 174.1L186.2 177.3L188.9 173.6L184.5 170Z" fill="#f8a870"/><path d="M391.3 159.6L396.3 149.9L398.4 147.6L393.3 157.6Z" fill="#944480"/><path d="M413 125.7L418.3 114.3L420.3 111.7L415 123.2Z" fill="#f4a470"/><path d="M389 169L393.7 164.6L396.3 149.9L391.3 159.2Z" fill="#904480"/><path d="M415 158.8L418.6 174.3L420.6 171.7L417.1 156.1Z" fill="#bcc8d8"/><path d="M185.9 177.1L190.3 180.4L193 177L188.6 173.4Z" fill="#f8a870"/><path d="M414.1 183.1L418.6 187L420.7 184.4L416.6 176.3Z" fill="#acd0f8"/><path d="M190 180.1L194.4 183.4L197.2 180.4L192.7 176.7Z" fill="#f8a870"/><path d="M317.2 166L321.6 172.2L324 169.2L319.6 162.7Z" fill="#f8a878"/><path d="M323.3 180.4L327.7 186.5L330 183.9L325.6 177.6Z" fill="#b8c8e4"/><path d="M304.8 161.3L309.2 154L311.5 150.5L307.1 158.2Z" fill="#f8a870"/><path d="M418.1 114.3L421.6 130.7L423.6 128.2L420.2 111.7Z" fill="#f8a874"/><path d="M441.4 184.9L446.8 178.5L448.8 173.4L443.4 181.5Z" fill="#645080"/><path d="M194.1 183.1L198.5 186.4L201.3 183.7L196.9 180.1Z" fill="#f8a870"/><path d="M488 187L493.1 186.5L495.1 181.6L489.7 184.4Z" fill="#50346c"/><path d="M391 177.5L395.4 177.2L398.3 159.6L393.6 164.1Z" fill="#b4647c"/><path d="M311.1 150.6L315.6 157.1L318 152.8L313.6 145.9Z" fill="#f8a870"/><path d="M369.7 187.2L374.4 187.7L376.5 184.8L371.8 184.4Z" fill="#50346c"/><path d="M415.6 138L419.1 154L421.1 151.4L417.6 135.3Z" fill="#e0b49c"/><path d="M389 175.5L393.8 173.1L395.6 177.1L390.9 177.4Z" fill="#f8a870"/><path d="M278.7 186.6L283.2 187.1L285.6 184.2L281.1 183.8Z" fill="#50346c"/><path d="M319.1 174.8L323.5 180.8L325.9 178L321.5 171.7Z" fill="#dcb8a4"/><path d="M179.3 177.9L183.7 180.8L186.4 177.1L182 173.8Z" fill="#f4a86c"/><path d="M293.9 175.6L298.3 170.3L300.6 167.2L296.2 172.8Z" fill="#c08070"/><path d="M313 160L317.5 166.3L319.9 163.1L315.5 156.6Z" fill="#f8a870"/><path d="M456.8 154.5L462.6 142L464.6 137.7L458.8 150Z" fill="#ec9474"/><path d="M285.2 184.4L289.7 181.8L291.9 178.4L287.4 181.6Z" fill="#5c406c"/><path d="M376.1 185.1L381 181L383 178.1L378.1 182.5Z" fill="#54386c"/><path d="M412.1 187.6L416.7 189.5L418.8 186.8L414.3 182.8Z" fill="#acd0f8"/><path d="M400.1 145.8L405.3 135.4L407.3 132.8L402.1 143.6Z" fill="#c07078"/><path d="M183.4 180.6L187.8 183.5L190.5 180.1L186.1 176.8Z" fill="#f4a86c"/><path d="M488 160.5L490 184.7L491.8 182.2L489.8 158Z" fill="#784074"/><path d="M411 128.2L416.3 116.8L418.3 114.3L413 125.7Z" fill="#f4a470"/><path d="M407.9 184.1L412.3 187.8L414.6 183.1L410.5 173.7Z" fill="#b8c8e0"/><path d="M439.5 187.4L444.8 183.2L446.7 178.4L441.4 184.9Z" fill="#604c84"/><path d="M413.1 161.4L416.6 176.8L418.6 174.3L415.1 158.8Z" fill="#bcc8d8"/><path d="M302.6 164.4L307 157.5L309.2 154L304.9 161.3Z" fill="#f8a870"/><path d="M187.4 183.3L191.8 186.2L194.6 183.2L190.2 179.9Z" fill="#f4a86c"/><path d="M315 169.1L319.4 175.1L321.8 172.1L317.4 165.8Z" fill="#f8a878"/><path d="M486.3 189.5L491.2 190.4L493.1 186.2L488.1 186.7Z" fill="#50346c"/><path d="M308.9 154.1L313.3 160.4L315.8 156.9L311.3 150.4Z" fill="#f8a870"/><path d="M321 183.1L325.5 189L327.8 186.3L323.4 180.3Z" fill="#b8c8e4"/><path d="M382.6 178.4L387.5 173.8L389.5 175.5L384.6 177.8Z" fill="#ac7470"/><path d="M416.2 116.8L419.6 133.2L421.7 130.7L418.2 114.2Z" fill="#f8a874"/><path d="M410.3 174L414.4 183.3L416.8 176.7L413.2 161.4Z" fill="#bcc8dc"/><path d="M191.5 186L195.9 188.9L198.7 186.2L194.3 182.9Z" fill="#f4a86c"/><path d="M454.8 159L460.6 146.3L462.6 142L456.8 154.5Z" fill="#f09c74"/><path d="M291.6 178.7L296.1 174.3L298.3 170.3L293.8 175.5Z" fill="#c08070"/><path d="M310.8 163.3L315.2 169.4L317.7 166.2L313.2 159.9Z" fill="#f8a870"/><path d="M176.7 180.6L181.1 183.5L183.9 180.6L179.5 177.6Z" fill="#f0a86c"/><path d="M403.8 180.6L408.1 184.2L410.8 173.8L406.7 164.6Z" fill="#dcb8a4"/><path d="M413.6 140.8L417.1 156.6L419.2 154L415.7 138Z" fill="#e0b49c"/><path d="M367.6 189.7L372.3 190.2L374.5 187.4L369.8 186.9Z" fill="#50346c"/><path d="M316.9 177.7L321.3 183.5L323.7 180.7L319.3 174.6Z" fill="#dcb8a4"/><path d="M276.3 189.1L280.8 189.8L283.3 186.8L278.8 186.3Z" fill="#50346c"/><path d="M406.1 183.5L410.4 189.9L412.5 187.7L408 183.8Z" fill="#b8c8e4"/><path d="M282.8 187L287.3 185.1L289.6 181.6L285.1 184.2Z" fill="#5c406c"/><path d="M393.5 173.3L398.3 171.3L400 177L395.3 177.2Z" fill="#f8a870"/><path d="M395.3 177.2L399.8 177.1L402.9 155.4L398.2 159.6Z" fill="#c0707c"/><path d="M410.1 189.7L414.8 192L416.8 189.3L412.2 187.4Z" fill="#acd0f8"/><path d="M374 187.6L378.9 184L381 181L376.1 185Z" fill="#54386c"/><path d="M180.7 183.2L185.1 186.1L187.9 183.3L183.5 180.3Z" fill="#f0a86c"/><path d="M437.6 189.9L442.7 187.6L444.7 183.1L439.5 187.3Z" fill="#605084"/><path d="M398.1 148.1L403.3 138L405.3 135.4L400.2 145.8Z" fill="#c07078"/><path d="M452.7 163.6L458.6 150.8L460.6 146.3L454.8 159Z" fill="#f4a074"/><path d="M402.1 177.4L406.4 183.9L408.3 184.2L403.8 180.3Z" fill="#dcb8a4"/><path d="M300.3 167.6L304.7 161L307 157.5L302.6 164.5Z" fill="#f8a870"/><path d="M409.1 130.7L414.3 119.4L416.4 116.9L411.1 128.2Z" fill="#f4a470"/><path d="M486.2 162.9L488.3 187.2L490 184.7L488 160.4Z" fill="#784074"/><path d="M306.6 157.6L311.1 163.7L313.5 160.2L309.1 153.9Z" fill="#f8a870"/><path d="M312.7 172.2L317.2 178L319.6 175L315.1 168.9Z" fill="#f8a878"/><path d="M184.8 185.9L189.2 188.8L192 186L187.6 183Z" fill="#f0a86c"/><path d="M494.8 182L500.8 172.5L503.1 163.6L496.8 176.6Z" fill="#c08070"/><path d="M484.5 192L489.3 193.5L491.3 190.1L486.4 189.2Z" fill="#50346c"/><path d="M398.1 171.3L402.5 177.7L404.1 180.6L399.5 176.9ZM399.7 177.1L404 180.7L406.9 164.6L402.8 155.4Z" fill="#f8a874"/><path d="M492.8 186.6L498.4 180.7L500.7 172.4L494.7 181.9Z" fill="#a87070"/><path d="M318.8 185.9L323.2 191.5L325.6 188.8L321.2 183Z" fill="#b8c8e4"/><path d="M414.2 119.4L417.7 135.8L419.7 133.2L416.2 116.8Z" fill="#f8a874"/><path d="M188.9 188.5L193.3 191.4L196.1 188.7L191.7 185.7Z" fill="#f0a86c"/><path d="M289.3 181.9L293.8 178.3L296 174.2L291.5 178.6Z" fill="#c08070"/><path d="M393.5 164.6L398.3 160.1L401.2 140.6L396.2 149.9Z" fill="#a85880"/><path d="M450.7 168.4L456.5 155.4L458.6 150.8L452.7 163.6Z" fill="#f0a070"/><path d="M308.5 166.7L313 172.5L315.4 169.2L311 163.2Z" fill="#f8a870"/><path d="M490.8 190.3L496.1 188L498.3 180.4L492.6 186.4Z" fill="#90606c"/><path d="M380.6 181.3L385.6 177.3L387.6 173.9L382.6 178.3Z" fill="#a06c6c"/><path d="M411.6 143.6L415.2 159.3L417.2 156.6L413.7 140.8Z" fill="#e0b49c"/><path d="M174 183.4L178.4 186.2L181.2 183.2L176.9 180.4Z" fill="#eca868"/><path d="M314.6 180.6L319.1 186.2L321.5 183.3L317 177.5Z" fill="#dcb8a4"/><path d="M365.5 192.2L370.2 192.8L372.4 190L367.7 189.4Z" fill="#50346c"/><path d="M280.5 189.7L285 188.3L287.3 184.8L282.8 186.8Z" fill="#5c406c"/><path d="M435.7 192.3L440.6 191.8L442.7 187.3L437.6 189.6Z" fill="#605488"/><path d="M274 191.6L278.4 192.3L280.9 189.5L276.4 188.8Z" fill="#50346c"/><path d="M298 170.7L302.4 164.6L304.7 161L300.3 167.6Z" fill="#f8a870"/><path d="M371.9 190.2L376.8 186.8L378.9 183.9L374 187.5Z" fill="#54386c"/><path d="M448.6 173.8L454.3 162.6L456.5 155.4L450.6 168.4Z" fill="#e89c70"/><path d="M387.2 174.1L392.1 169.6L394 173.4L389.1 175.7Z" fill="#f8a470"/><path d="M178.1 185.9L182.5 188.8L185.3 185.9L180.9 183Z" fill="#eca868"/><path d="M304.3 161.2L308.8 167L311.2 163.5L306.8 157.5Z" fill="#f8a870"/><path d="M408.1 191.8L412.8 194.5L414.9 191.8L410.2 189.5Z" fill="#acd0f8"/><path d="M396.1 150.4L401.2 140.6L403.3 138L398.2 148.1Z" fill="#c0707c"/><path d="M407.1 133.3L412.3 122.3L414.4 119.4L409.1 130.7Z" fill="#f4a470"/><path d="M310.4 175.3L314.9 180.9L317.3 177.9L312.9 172Z" fill="#f8a878"/><path d="M489 193.4L493.8 194.3L496.1 187.6L490.8 190Z" fill="#78506c"/><path d="M484.5 165.3L486.5 189.7L488.3 187.2L486.3 162.9Z" fill="#784074"/><path d="M446.5 178.9L452.1 169.3L454.2 162.6L448.5 173.8Z" fill="#d89070"/><path d="M182.2 188.5L186.6 191.4L189.4 188.5L185 185.7Z" fill="#eca868"/><path d="M404.3 183.1L408.4 192L410.5 189.8L406.2 183.4Z" fill="#b8c8e4"/><path d="M406.5 165L410.6 174.2L413.4 161.7L409.7 146.4Z" fill="#e0b4a0"/><path d="M286.9 185.1L291.4 182.3L293.7 178.1L289.2 181.7Z" fill="#c08070"/><path d="M412.1 122.3L415.7 138.5L417.8 135.8L414.2 119.4Z" fill="#f8a874"/><path d="M316.5 188.8L321 194L323.4 191.3L319 185.7Z" fill="#b8c8e4"/><path d="M306.2 170L310.7 175.6L313.2 172.3L308.7 166.5Z" fill="#f8a870"/><path d="M186.3 191.1L190.7 194L193.5 191.2L189.1 188.3Z" fill="#eca868"/><path d="M444.4 183.5L449.9 175.5L452 169.2L446.4 178.8Z" fill="#c48470"/><path d="M378.5 184.2L383.5 180.5L385.5 177.2L380.5 181.2Z" fill="#a06c6c"/><path d="M295.7 174.6L300.2 169.4L302.4 164.6L297.9 170.7Z" fill="#f8a870"/><path d="M312.3 184L316.8 189.1L319.3 186L314.8 180.4Z" fill="#dcb8a4"/><path d="M409.6 146.4L413.2 161.9L415.2 159.3L411.7 143.6Z" fill="#e0b49c"/><path d="M171.4 186.1L175.8 188.9L178.6 185.9L174.2 183.1Z" fill="#eca868"/><path d="M433.8 194.8L438.6 195.6L440.7 191.5L435.7 192Z" fill="#5c4880"/><path d="M278.1 192.2L282.6 190.7L285 188L280.5 189.4Z" fill="#5c406c"/><path d="M302 164.7L306.5 170.3L309 166.8L304.5 161Z" fill="#f8a870"/><path d="M363.4 194.7L368.1 195.4L370.3 192.5L365.6 191.9ZM271.6 194.1L276.1 194.8L278.6 192L274.1 191.3Z" fill="#50346c"/><path d="M487.2 195.9L492.2 196.4L494 194L489 193.1Z" fill="#64446c"/><path d="M369.8 192.8L374.7 189.7L376.8 186.7L371.9 190.1Z" fill="#54386c"/><path d="M442.4 187.7L447.8 181.3L449.8 175.4L444.3 183.4Z" fill="#ac7470"/><path d="M308.1 179.1L312.6 184.3L315.1 180.7L310.6 175.1Z" fill="#f8a878"/><path d="M175.5 188.7L179.9 191.4L182.7 188.5L178.3 185.7Z" fill="#eca868"/><path d="M400.4 174.5L404.6 183.5L406.5 183.8L402.2 177.4Z" fill="#dcb8a4"/><path d="M405.1 135.8L410.3 125.2L412.4 122.3L407.1 133.3Z" fill="#f4a070"/><path d="M284.6 188.3L289.1 186.3L291.4 182L286.9 184.8Z" fill="#c08070"/><path d="M406.2 193.1L410.8 197.1L412.9 194.3L408.3 191.6Z" fill="#acd0f8"/><path d="M482.7 167.8L484.8 192.2L486.5 189.7L484.5 165.3Z" fill="#784074"/><path d="M493.6 194.2L498.4 194.9L501.1 184.1L495.8 187.6Z" fill="#f4a470"/><path d="M303.9 174.3L308.4 179.4L310.9 175.4L306.4 169.8Z" fill="#f8a870"/><path d="M179.6 191.2L184 194L186.8 191.1L182.4 188.3Z" fill="#eca868"/><path d="M293.4 178.5L297.9 174.2L300.1 169.2L295.6 174.5Z" fill="#f8a870"/><path d="M410.1 125.2L413.7 141.3L415.8 138.5L412.2 122.3Z" fill="#f8a874"/><path d="M314.3 191.8L318.8 196.5L321.2 193.8L316.7 188.7Z" fill="#b8c8e4"/><path d="M385.1 177.5L390.1 173.4L392.2 169.6L387.2 174.1Z" fill="#f4a470"/><path d="M391.7 169.8L396.7 165.9L398.4 171.6L393.6 173.6Z" fill="#f8a870"/><path d="M440.3 191.9L445.7 186.6L447.7 181.1L442.3 187.6Z" fill="#906474"/><path d="M462.4 142.4L468.5 128.2L470.4 124.3L464.4 138.2Z" fill="#d07480"/><path d="M299.7 169.4L304.2 174.6L306.7 170.1L302.2 164.5Z" fill="#f8a870"/><path d="M376.4 187L381.4 183.7L383.4 180.4L378.4 184.1Z" fill="#a06c6c"/><path d="M183.7 193.7L188.1 196.5L190.9 193.7L186.5 190.9Z" fill="#eca868"/><path d="M310.1 187.4L314.6 192.1L317 189L312.5 183.8Z" fill="#dcb8a4"/><path d="M495.8 188L501.1 184.5L503.9 172.8L498 180.5Z" fill="#f8a870"/><path d="M402.4 184.3L406.5 193.4L408.6 192L404.4 183Z" fill="#b8c8e4"/><path d="M431.9 197.3L436.6 198.9L438.7 195.3L433.9 194.5Z" fill="#50346c"/><path d="M168.7 188.9L173.1 191.6L176 188.7L171.6 185.9Z" fill="#f0a86c"/><path d="M491.8 196.3L496.9 196.2L498.6 194.6L493.5 193.9Z" fill="#ec9c70"/><path d="M305.8 183L310.4 187.7L312.8 184.1L308.3 178.9Z" fill="#f8a878"/><path d="M396.5 165.9L400.7 174.9L402.4 177.8L398 171.4Z" fill="#f8a874"/><path d="M275.7 194.7L280.3 193.2L282.6 190.5L278.1 191.9Z" fill="#5c406c"/><path d="M398.1 160.1L402.9 155.8L406.2 131.1L401.1 140.6Z" fill="#cc7c78"/><path d="M361.2 197.2L365.9 198L368.2 195.1L363.5 194.4Z" fill="#50346c"/><path d="M291.1 182.4L295.6 178.9L297.8 173.9L293.3 178.3Z" fill="#f8a870"/><path d="M367.7 195.3L372.6 192.6L374.7 189.6L369.8 192.6Z" fill="#54386c"/><path d="M269.2 196.7L273.7 197.3L276.2 194.5L271.7 193.8Z" fill="#50346c"/><path d="M301.6 178.6L306.1 183.2L308.6 179.2L304.1 174.1Z" fill="#f8a870"/><path d="M172.8 191.4L177.2 194.1L180.1 191.2L175.7 188.4Z" fill="#f0a86c"/><path d="M485.4 198.4L490.5 198.7L492.3 196.1L487.3 195.6Z" fill="#583c6c"/><path d="M403.1 138.4L408.3 128.2L410.3 125.2L405.1 135.8Z" fill="#f4a070"/><path d="M282.2 190.7L286.8 188.5L289.1 185.9L284.5 188.1Z" fill="#c08070"/><path d="M438.3 195.6L443.6 191.5L445.6 186.4L440.2 191.7Z" fill="#705074"/><path d="M402.7 155.8L406.7 165.1L409.9 146.4L406.1 131.1Z" fill="#f8a874"/><path d="M498.1 180.9L503.9 173.2L506.7 160.8L500.3 172.8ZM297.4 174.1L301.9 178.8L304.4 174.3L299.9 169.2Z" fill="#f8a870"/><path d="M460.4 146.8L466.5 132.3L468.5 128.2L462.4 142.4Z" fill="#d07480"/><path d="M408.1 128.2L411.7 144.1L413.8 141.3L410.2 125.2Z" fill="#f8a874"/><path d="M383 180.7L388 177L390.1 173.3L385.1 177.4Z" fill="#f4a470"/><path d="M176.9 193.9L181.3 196.6L184.2 193.7L179.7 190.9Z" fill="#f0a86c"/><path d="M404.3 194.4L408.8 199.6L410.9 196.9L406.4 192.9Z" fill="#acd0f8"/><path d="M312 194.8L316.5 199.1L318.9 196.3L314.4 191.6Z" fill="#b8c8e4"/><path d="M481.3 166.8L483 194.7L484.8 192.2L482.7 167.8Z" fill="#784074"/><path d="M498.2 194.8L502.9 195.4L506.3 179.8L500.9 184Z" fill="#e09470"/><path d="M307.8 190.8L312.3 195.1L314.7 191.9L310.2 187.2Z" fill="#dcb8a4"/><path d="M374.3 189.9L379.2 186.8L381.3 183.5L376.4 186.9Z" fill="#a06c6c"/><path d="M479.4 197.3L484 201.1L485.9 198.3L481 196.8Z" fill="#50346c"/><path d="M496.5 196.2L501.7 195.8L503.2 195.1L498.1 194.5Z" fill="#e49870"/><path d="M303.5 186.8L308.1 191.1L310.5 187.5L306 182.8Z" fill="#f8a878"/><path d="M288.7 186.3L293.2 183.7L295.5 178.6L291 182.1Z" fill="#f8a870"/><path d="M181 196.3L185.4 199L188.3 196.2L183.8 193.5Z" fill="#f0a86c"/><path d="M299.3 182.8L303.8 187.1L306.3 183L301.8 178.3Z" fill="#f8a870"/><path d="M398.5 175.6L402.6 184.8L404.6 183.5L400.5 174.5Z" fill="#e0b49c"/><path d="M166 191.6L170.4 194.3L173.3 191.4L168.9 188.7Z" fill="#f4a86c"/><path d="M295.1 178.8L299.6 183.1L302.1 178.6L297.6 173.9Z" fill="#f8a870"/><path d="M436.3 198.8L441.5 196.1L443.5 191.3L438.2 195.4Z" fill="#50346c"/><path d="M458.4 151.3L464.5 136.4L466.5 132.3L460.4 146.8Z" fill="#d4787c"/><path d="M500.5 172.9L506.9 161L509.7 148L502.9 164.1Z" fill="#f8a870"/><path d="M490.1 198.7L495.3 197.9L496.9 196L491.8 196.1Z" fill="#dc9470"/><path d="M359.1 199.8L363.8 200.6L366 197.7L361.3 196.9Z" fill="#50346c"/><path d="M273.3 197.2L277.9 195.6L280.3 192.9L275.7 194.4Z" fill="#5c406c"/><path d="M400.5 185.5L404.6 194.7L406.6 193.3L402.5 184.3Z" fill="#bcc8dc"/><path d="M365.6 197.9L370.5 195.4L372.6 192.4L367.7 195.2Z" fill="#54386c"/><path d="M401 141L406.2 131.1L408.3 128.2L403.1 138.4Z" fill="#f0a070"/><path d="M266.8 199.2L271.3 199.8L273.8 197L269.3 196.4Z" fill="#50346c"/><path d="M170.1 194.1L174.5 196.7L177.4 193.8L173 191.1Z" fill="#f4a86c"/><path d="M483.7 201L488.7 201.3L490.5 198.5L485.5 198.2Z" fill="#50346c"/><path d="M279.8 193.2L284.4 190.8L286.7 188.3L282.2 190.6Z" fill="#c08070"/><path d="M380.9 183.9L385.9 180.5L388 176.9L383 180.6Z" fill="#f4a470"/><path d="M389.7 173.7L394.8 169.6L396.8 165.9L391.7 169.9Z" fill="#f8a870"/><path d="M406 131.1L409.7 146.9L411.8 144L408.2 128.1Z" fill="#f8a874"/><path d="M174.2 196.5L178.7 199.2L181.5 196.3L177.1 193.6Z" fill="#f4a86c"/><path d="M292.8 183.6L297.3 187.4L299.8 182.8L295.3 178.6ZM297 187.1L301.5 190.9L304 186.8L299.5 182.6Z" fill="#f8a870"/><path d="M301.2 190.7L305.8 194.5L308.3 190.8L303.7 186.6Z" fill="#f8a878"/><path d="M305.5 194.2L310 198.1L312.5 194.9L307.9 190.6Z" fill="#dcb8a4"/><path d="M309.7 197.8L314.2 201.6L316.7 198.9L312.2 194.6Z" fill="#b8c8e4"/><path d="M501.2 195.8L506.4 195.2L507.8 195.5L502.7 195.1Z" fill="#74506c"/><path d="M456.3 155.9L462.4 140.7L464.5 136.4L458.4 151.3Z" fill="#d87c7c"/><path d="M372.2 192.7L377.1 189.9L379.2 186.6L374.2 189.7Z" fill="#a06c6c"/><path d="M449.6 175.9L455.3 166.1L457.5 158.1L451.7 169.6Z" fill="#e89078"/><path d="M286.3 188.6L290.9 185.7L293.2 183.4L288.6 186.1Z" fill="#f8a870"/><path d="M451.8 169.7L457.6 158.1L460 149.7L454 163Z" fill="#e08878"/><path d="M402.4 195.6L406.7 202.2L408.9 199.5L404.5 194.2Z" fill="#acd0f8"/><path d="M447.4 181.6L453 173.5L455.2 166L449.5 175.8Z" fill="#ec9874"/><path d="M434.4 201.4L439.4 200.3L441.4 195.8L436.2 198.6Z" fill="#50346c"/><path d="M454 163L460 149.7L462.4 140.7L456.3 155.9Z" fill="#dc847c"/><path d="M394.3 169.5L398.7 176.1L400.7 174.9L396.6 165.8Z" fill="#f8a874"/><path d="M178.3 198.9L182.8 201.6L185.6 198.8L181.2 196.1Z" fill="#f4a86c"/><path d="M163.3 194.3L167.7 197L170.6 194L166.2 191.4Z" fill="#f8a870"/><path d="M445.3 186.8L450.8 179.8L452.9 173.3L447.3 181.5Z" fill="#f09c74"/><path d="M502.8 195.3L507.6 195.7L511.6 174.9L506.1 179.8Z" fill="#704c6c"/><path d="M500.9 184.5L506.2 180.2L509.6 163.9L503.6 172.8Z" fill="#d89470"/><path d="M479.7 166.8L481.2 197.2L483 194.7L481.3 166.8Z" fill="#844874"/><path d="M478.1 196.2L482.2 203.7L484.1 201L479.5 197.1Z" fill="#5c3870"/><path d="M494.8 197.9L500.1 196.5L501.7 195.7L496.5 196.1Z" fill="#e89c70"/><path d="M357 202.3L361.7 203.2L363.9 200.3L359.2 199.5Z" fill="#50346c"/><path d="M387.6 177.2L392.6 173.5L394.7 169.4L389.6 173.5Z" fill="#f8a870"/><path d="M363.5 200.5L368.4 198.2L370.5 195.2L365.6 197.7Z" fill="#54386c"/><path d="M270.9 199.8L275.5 198.1L277.9 195.4L273.3 197Z" fill="#5c406c"/><path d="M378.8 187L383.8 183.9L385.8 180.3L380.9 183.7Z" fill="#f4a470"/><path d="M167.4 196.7L171.9 199.4L174.7 196.5L170.3 193.8Z" fill="#f8a870"/><path d="M396.5 176.7L400.7 186L402.7 184.7L398.6 175.6Z" fill="#e8b08c"/><path d="M264.4 201.8L268.9 202.5L271.4 199.5L266.9 198.9Z" fill="#50346c"/><path d="M488.3 201.2L493.6 199.6L495.3 197.7L490.1 198.5Z" fill="#c48470"/><path d="M481.9 203.6L486.9 204L488.8 201L483.7 200.7Z" fill="#50346c"/><path d="M443.2 191.7L448.6 185.8L450.7 179.7L445.2 186.7Z" fill="#d48c70"/><path d="M290.4 185.7L295 189.7L297.5 187.2L293 183.3Z" fill="#f8a870"/><path d="M277.5 195.6L282 193.2L284.4 190.6L279.8 193Z" fill="#c08070"/><path d="M294.7 189.4L299.2 193.3L301.7 190.7L297.2 186.9Z" fill="#f8a870"/><path d="M487.7 120.4L488 160.9L489.8 158.5L489.6 118Z" fill="#b46874"/><path d="M398.5 186.7L402.6 196L404.7 194.7L400.6 185.5Z" fill="#c4c4cc"/><path d="M505.9 195.2L511.2 194.4L512.5 195.8L507.3 195.5Z" fill="#50346c"/><path d="M298.9 193L303.5 196.9L306 194.3L301.4 190.4Z" fill="#f8a878"/><path d="M171.5 199.1L176 201.8L178.8 198.9L174.4 196.2Z" fill="#f8a870"/><path d="M303.1 196.7L307.7 200.6L310.2 197.9L305.6 194Z" fill="#dcb8a4"/><path d="M370.1 195.5L375 193L377.1 189.7L372.1 192.5Z" fill="#a06c6c"/><path d="M307.4 200.3L311.9 204.2L314.4 201.4L309.9 197.6Z" fill="#b8c8e4"/><path d="M432.4 203.9L437.4 203.3L439.4 200L434.4 201.1Z" fill="#50346c"/><path d="M284 190.9L288.6 188L290.9 185.6L286.3 188.5Z" fill="#f8a870"/><path d="M441.1 196.2L446.4 191.4L448.5 185.6L443.1 191.5Z" fill="#98646c"/><path d="M175.7 201.5L180.1 204.2L183 201.4L178.5 198.7ZM392.1 173.4L396.7 177.1L398.8 175.9L394.4 169.4Z" fill="#f8a870"/><path d="M400.5 196.9L404.7 204.8L406.9 202.1L402.5 195.5Z" fill="#acd0f8"/><path d="M160.6 197.1L165 199.7L167.9 196.7L163.5 194.1ZM385.5 180.7L390.5 177.3L392.6 173.3L387.5 177Z" fill="#f8a870"/><path d="M376.7 190.1L381.7 187.3L383.7 183.7L378.8 186.8Z" fill="#f4a470"/><path d="M499.7 196.6L505 194.9L506.4 195.2L501.2 195.8Z" fill="#7c546c"/><path d="M361.3 203.1L366.2 201L368.3 198L363.4 200.3Z" fill="#54386c"/><path d="M354.8 204.9L359.5 205.8L361.8 202.9L357.1 202.1Z" fill="#50346c"/><path d="M268.5 202.4L273 201.2L275.5 197.8L271 199.5Z" fill="#5c406c"/><path d="M164.7 199.4L169.1 202L172 199.1L167.6 196.5Z" fill="#f8a870"/><path d="M261.9 204.4L266.4 205.2L269 202.2L264.5 201.5Z" fill="#50346c"/><path d="M439 200.3L444.3 196.7L446.3 191.2L441 196Z" fill="#7c546c"/><path d="M480.1 206.1L485.1 206.6L487 203.7L481.9 203.3Z" fill="#50346c"/><path d="M486.5 203.9L491.9 201.6L493.6 199.5L488.3 201Z" fill="#b07470"/><path d="M507.5 195.7L512.2 196L517 169.5L511.5 174.9Z" fill="#50346c"/><path d="M478.1 168L479.7 197.6L481.2 197.2L479.8 166.8Z" fill="#944c78"/><path d="M493.2 199.7L498.6 197.4L500.1 196.5L494.8 197.8Z" fill="#eca070"/><path d="M503.7 173.3L509.7 164.4L513.1 147.3L506.4 161Z" fill="#d49070"/><path d="M476.6 195.8L480.4 206.3L482.3 203.7L478.2 196.1Z" fill="#643870"/><path d="M275.1 198.1L279.6 195.6L282 193L277.4 195.5Z" fill="#c08070"/><path d="M485.9 122.8L486.3 163.4L488.1 160.9L487.8 120.4Z" fill="#b46874"/><path d="M288.1 188L292.6 192L295.2 189.5L290.6 185.6ZM292.3 191.7L296.9 195.7L299.4 193.1L294.8 189.2Z" fill="#f8a870"/><path d="M367.9 198.3L372.8 196L374.9 192.8L370 195.3Z" fill="#a06c6c"/><path d="M296.6 195.4L301.1 199.4L303.6 196.7L299.1 192.8Z" fill="#f8a878"/><path d="M168.8 201.8L173.3 204.4L176.2 201.5L171.7 198.9Z" fill="#f8a870"/><path d="M468.3 128.7L474.6 113.1L476.5 109.6L470.3 124.8Z" fill="#e48c78"/><path d="M394.5 177.7L398.7 187.1L400.8 185.9L396.6 176.6Z" fill="#f0ac80"/><path d="M300.8 199.1L305.4 203.1L307.9 200.4L303.3 196.5Z" fill="#dcb8a4"/><path d="M305.1 202.8L309.6 206.8L312.1 204L307.6 200.1Z" fill="#b8c8e4"/><path d="M430.5 206.5L435.4 206.3L437.5 203.1L432.4 203.6Z" fill="#50346c"/><path d="M383.4 184L388.4 181L390.4 177.1L385.4 180.5Z" fill="#f8a870"/><path d="M396.5 187.8L400.7 197.3L402.7 196L398.6 186.6Z" fill="#ccc0bc"/><path d="M281.6 193.3L286.2 190.3L288.5 187.9L283.9 190.9ZM172.9 204.2L177.4 206.8L180.3 203.9L175.8 201.3Z" fill="#f8a870"/><path d="M157.9 199.8L162.3 202.4L165.2 199.4L160.8 196.8Z" fill="#f4a86c"/><path d="M390 177.3L394.8 178.1L396.9 176.9L392.3 173.3Z" fill="#f8a870"/><path d="M374.6 193.1L379.5 190.6L381.6 187.1L376.6 189.8Z" fill="#f4a470"/><path d="M437.1 203.3L442.3 200L444.2 196.4L438.9 200.1Z" fill="#70486c"/><path d="M398.5 198.2L402.7 207.4L404.9 204.7L400.6 196.8Z" fill="#acd0f4"/><path d="M266.1 205.1L270.6 204.2L273.1 200.9L268.6 202.1Z" fill="#5c406c"/><path d="M359.2 205.7L364.1 203.6L366.2 200.8L361.3 202.9Z" fill="#54386c"/><path d="M352.6 207.5L357.3 208.4L359.6 205.5L354.9 204.6ZM504.6 195.1L510 193.1L511.2 194.5L506 195.3Z" fill="#50346c"/><path d="M162 202.1L166.4 204.7L169.3 201.8L164.9 199.2Z" fill="#f4a86c"/><path d="M259.5 207L264 207.9L266.6 204.9L262 204.1Z" fill="#50346c"/><path d="M466.3 132.7L472.6 116.6L474.6 113.1L468.3 128.7Z" fill="#e08c78"/><path d="M506.1 180.2L511.5 175.4L515.6 153.9L509.5 163.9Z" fill="#6c486c"/><path d="M478.3 208.7L483.3 209.4L485.2 206.4L480.2 205.9Z" fill="#50346c"/><path d="M484.8 206.6L490.2 203.7L491.9 201.5L486.5 203.8Z" fill="#9c686c"/><path d="M272.7 201.2L277.2 199.2L279.6 195.4L275 197.9Z" fill="#c08070"/><path d="M365.8 201.1L370.7 199L372.8 195.8L367.9 198.1Z" fill="#a06c6c"/><path d="M484.1 125.2L484.5 165.8L486.3 163.4L486 122.8Z" fill="#b46874"/><path d="M450.4 180.1L456.1 172L458.3 164.3L452.6 173.7Z" fill="#d4787c"/><path d="M381.2 187.4L386.2 184.6L388.3 180.7L383.3 183.8ZM285.7 190.3L290.3 194.3L292.8 191.8L288.2 187.8Z" fill="#f8a870"/><path d="M166.1 204.5L170.5 207.1L173.4 204.2L169 201.5Z" fill="#f4a86c"/><path d="M290 194L294.5 198.1L297.1 195.5L292.5 191.5Z" fill="#f8a870"/><path d="M452.7 173.8L458.4 164.5L460.8 155.2L454.9 166.4Z" fill="#d07480"/><path d="M294.2 197.8L298.8 201.9L301.3 199.2L296.7 195.2Z" fill="#f8a878"/><path d="M298.5 201.6L303.1 205.6L305.6 202.9L301 198.9Z" fill="#dcb8a4"/><path d="M448.2 186.1L453.8 179.1L456 171.8L450.3 180Z" fill="#d87c7c"/><path d="M498.1 197.6L503.6 194.7L505 194.9L499.7 196.6Z" fill="#80586c"/><path d="M302.7 205.4L307.3 209.4L309.8 206.6L305.2 202.6Z" fill="#b8c8e4"/><path d="M428.5 209.1L433.5 209.3L435.5 206.1L430.5 206.2Z" fill="#50346c"/><path d="M491.5 201.8L497 198.4L498.6 197.3L493.1 199.6Z" fill="#f0a470"/><path d="M475 196.2L478.5 208.9L480.5 206.3L476.7 195.8Z" fill="#5c3870"/><path d="M476.2 170.4L478.2 196.6L479.7 197.6L478.1 168Z" fill="#9c5478"/><path d="M446.1 191.6L451.5 185.8L453.7 178.9L448.1 185.9Z" fill="#d88078"/><path d="M455 166.4L460.9 155.3L463.3 145.4L457.3 158.5Z" fill="#d07480"/><path d="M372.4 196.1L377.4 193.8L379.5 190.3L374.5 192.9Z" fill="#f4a470"/><path d="M155.1 202.8L159.6 205.3L162.5 202.1L158.1 199.5Z" fill="#f0a86c"/><path d="M279.2 195.7L283.8 192.5L286.1 190.2L281.5 193.2Z" fill="#f8a870"/><path d="M170.2 206.8L174.7 209.4L177.6 206.5L173.1 203.9Z" fill="#f4a86c"/><path d="M435.1 206.3L440.3 203.4L442.3 199.8L437 203.2Z" fill="#68446c"/><path d="M392.5 178.7L396.7 188.2L398.8 187.1L394.6 177.7Z" fill="#f4ac78"/><path d="M387.9 181L392.9 178.9L394.9 177.8L390.1 177Z" fill="#f8a870"/><path d="M464.3 136.9L470.6 120.2L472.6 116.6L466.3 132.7Z" fill="#e08878"/><path d="M506.5 161.3L513.2 147.7L516.7 130L509.4 148.4Z" fill="#cc8870"/><path d="M263.7 207.8L268.2 207.3L270.7 203.9L266.1 204.8Z" fill="#5c406c"/><path d="M394.6 188.4L398.7 198.7L400.8 197.3L396.6 187.8Z" fill="#d8b8ac"/><path d="M443.9 196.8L449.3 192.1L451.4 185.5L445.9 191.4Z" fill="#d08478"/><path d="M357 208.3L361.9 206.1L364 203.4L359.1 205.5Z" fill="#54386c"/><path d="M159.3 205L163.7 207.5L166.6 204.4L162.2 201.9Z" fill="#f0a86c"/><path d="M396.5 199.3L400.6 210L402.8 207.3L398.6 198.2Z" fill="#b0ccec"/><path d="M350.4 210.1L355.2 211L357.4 208.1L352.7 207.2Z" fill="#50346c"/><path d="M457.4 158.6L463.4 145.5L466 135L459.7 150.1Z" fill="#d4787c"/><path d="M257 209.6L261.5 210.6L264.1 207.6L259.6 206.7Z" fill="#50346c"/><path d="M270.2 204.2L274.8 202.7L277.2 198.9L272.7 200.8Z" fill="#c08070"/><path d="M476.5 211.4L481.5 212.2L483.4 209.1L478.4 208.5Z" fill="#50346c"/><path d="M379.1 190.7L384.1 188.1L386.2 184.4L381.2 187.1Z" fill="#f8a870"/><path d="M482.9 209.4L488.5 205.8L490.2 203.5L484.7 206.5Z" fill="#84586c"/><path d="M363.6 203.6L368.6 201.5L370.7 198.8L365.7 200.9Z" fill="#a06c6c"/><path d="M482.3 127.6L482.7 168.3L484.5 165.8L484.1 125.2Z" fill="#b46c74"/><path d="M163.4 207.3L167.8 209.8L170.7 206.8L166.3 204.2Z" fill="#f0a86c"/><path d="M283.3 192.6L287.9 196.7L290.4 194.2L285.9 190.1ZM287.6 196.4L292.2 200.5L294.7 197.9L290.1 193.9Z" fill="#f8a870"/><path d="M426.5 211.7L431.5 212.3L433.5 209.1L428.6 208.8Z" fill="#50346c"/><path d="M291.8 200.2L296.4 204.4L299 201.7L294.4 197.6Z" fill="#f8a878"/><path d="M296.1 204.1L300.7 208.2L303.2 205.5L298.6 201.4Z" fill="#dcb8a4"/><path d="M300.4 207.9L305 212L307.5 209.2L302.9 205.2Z" fill="#b8c8e4"/><path d="M462.2 141.1L468.6 124L470.6 120.2L464.3 136.9Z" fill="#dc847c"/><path d="M441.9 200.2L447.3 195.8L449.2 191.8L443.8 196.6Z" fill="#d08874"/><path d="M459.8 150.1L466 135.1L468.6 124L462.2 141.1Z" fill="#d87c7c"/><path d="M370.3 199.1L375.2 197L377.3 193.6L372.4 195.9Z" fill="#f4a470"/><path d="M433.1 209.3L438.3 206.8L440.3 203.2L435 206.1Z" fill="#60406c"/><path d="M276.8 199.2L281.4 196.7L283.7 192.4L279.2 195.5Z" fill="#f8a870"/><path d="M152.4 205.8L156.8 208.2L159.8 205L155.3 202.5Z" fill="#eca868"/><path d="M489.8 203.8L495.4 199.7L497 198.4L491.5 201.7Z" fill="#f4a470"/><path d="M167.5 209.5L172 212L174.9 209.1L170.4 206.6Z" fill="#f0a86c"/><path d="M398.3 212L403.1 214L405.3 211.1L400.5 209.5Z" fill="#a8d0f8"/><path d="M385.8 184.7L390.8 181.9L392.9 178.7L387.9 180.8Z" fill="#f8a870"/><path d="M503.2 195L508.7 191.7L510 193.2L504.6 195.2Z" fill="#50346c"/><path d="M473.3 197.4L476.7 211.5L478.6 208.9L475.1 196.2Z" fill="#54386c"/><path d="M261.2 210.5L265.7 210.4L268.2 207L263.7 207.5Z" fill="#5c406c"/><path d="M496.5 198.7L502.1 194.7L503.6 194.8L498.1 197.6Z" fill="#885c6c"/><path d="M390.4 181.6L394.8 188.9L396.8 188.2L392.6 178.6Z" fill="#f8a874"/><path d="M267.8 207.2L272.3 206.2L274.8 202.4L270.3 203.9Z" fill="#c08070"/><path d="M156.5 207.9L160.9 210.3L163.9 207.2L159.4 204.8Z" fill="#eca868"/><path d="M474.4 172.3L476.7 196.3L478.3 196.6L476.3 170.4Z" fill="#a45c78"/><path d="M376.9 193.9L381.9 191.6L384 187.9L379 190.4Z" fill="#f8a870"/><path d="M354.8 210.9L359.7 208.7L361.9 205.9L357 208.1Z" fill="#54386c"/><path d="M348.2 212.8L353 213.6L355.3 210.7L350.5 209.9ZM254.5 212.2L259.1 213.4L261.7 210.4L257.1 209.3ZM474.6 214L479.6 215.1L481.5 211.9L476.5 211.1Z" fill="#50346c"/><path d="M394.6 200.1L398.6 212.2L400.7 209.9L396.6 199.3Z" fill="#b8c8e4"/><path d="M439.9 203.6L445.3 199.7L447.2 195.7L441.8 200.1Z" fill="#d08c70"/><path d="M361.5 206.2L366.4 204L368.5 201.3L363.6 203.5Z" fill="#a06c6c"/><path d="M481.1 212.2L486.7 208L488.4 205.7L482.9 209.2Z" fill="#60406c"/><path d="M392.6 188.7L396.7 199.8L398.8 198.6L394.7 188.4Z" fill="#e4b498"/><path d="M280.9 196.6L285.5 200.4L288.1 196.5L283.5 192.4Z" fill="#f8a870"/><path d="M160.6 210.1L165.1 212.5L168 209.5L163.6 207Z" fill="#eca868"/><path d="M285.2 200.2L289.8 204L292.3 200.3L287.7 196.2ZM274.4 202.7L278.9 200.8L281.3 196.4L276.8 198.9Z" fill="#f8a870"/><path d="M289.5 203.7L294.1 207.5L296.6 204.2L292 200.1Z" fill="#f8a878"/><path d="M424.6 214.3L429.5 214.9L431.5 212L426.6 211.4Z" fill="#50346c"/><path d="M293.8 207.3L298.4 211.1L300.9 208L296.3 203.9Z" fill="#dcb8a4"/><path d="M298 210.8L302.6 214.7L305.2 211.8L300.6 207.7Z" fill="#b8c8e4"/><path d="M431.1 212.2L436.3 210.1L438.3 206.6L433 209.1Z" fill="#5c406c"/><path d="M480.5 129.8L481.3 167.3L482.7 168.3L482.3 127.6Z" fill="#bc7074"/><path d="M368.1 201.6L373.1 199.4L375.2 196.7L370.2 198.9Z" fill="#f4a470"/><path d="M383.6 188.2L388.7 185.7L390.8 181.6L385.7 184.4Z" fill="#f8a870"/><path d="M149.6 208.8L154.1 211.1L157 207.9L152.6 205.5Z" fill="#eca868"/><path d="M509.5 164.4L515.6 154.4L519.8 132.2L512.9 147.4Z" fill="#68486c"/><path d="M511.4 175.4L517 170L521.8 142.9L515.5 153.9Z" fill="#50346c"/><path d="M164.8 212.3L169.2 214.7L172.1 211.8L167.7 209.3Z" fill="#eca868"/><path d="M396.3 213.6L401 216.7L403.2 213.8L398.4 211.7Z" fill="#a8d0f8"/><path d="M258.7 213.2L263.2 213.3L265.8 210.1L261.3 210.2Z" fill="#5c406c"/><path d="M265.4 210.3L269.9 209.7L272.4 205.9L267.9 206.9Z" fill="#c08070"/><path d="M374.8 197L379.7 194.9L381.9 191.3L376.9 193.6Z" fill="#f8a870"/><path d="M451.2 186L456.8 179.3L459 171.2L453.3 179.1Z" fill="#d87c7c"/><path d="M471.6 199.4L474.9 214.2L476.8 211.5L473.4 197.4Z" fill="#5c3c6c"/><path d="M488 206L493.7 201L495.3 199.6L489.7 203.8Z" fill="#e89c70"/><path d="M453.4 179.3L459.1 171.4L461.4 163L455.6 172.1Z" fill="#dc847c"/><path d="M153.8 210.9L158.2 213.2L161.1 210.1L156.7 207.7Z" fill="#eca868"/><path d="M448.9 192.2L454.4 186.8L456.6 179.1L451 185.7Z" fill="#d4787c"/><path d="M455.8 172.3L461.6 163.1L463.9 154.3L458 164.7Z" fill="#e48c78"/><path d="M352.6 213.5L357.6 211.3L359.7 208.5L354.8 210.7Z" fill="#54386c"/><path d="M346 215.4L350.8 216.3L353.1 213.3L348.3 212.5Z" fill="#50346c"/><path d="M278.5 200.6L283.1 204.1L285.7 200.2L281.1 196.4Z" fill="#f8a870"/><path d="M252 214.8L256.6 216.1L259.2 213.1L254.7 211.9Z" fill="#50346c"/><path d="M437.9 206.9L443.2 203.4L445.2 199.5L439.8 203.4Z" fill="#c88870"/><path d="M388.2 185.5L392.9 189.1L394.9 188.8L390.5 181.6Z" fill="#f8a870"/><path d="M472.8 216L477.7 218.2L479.7 214.8L474.7 213.7Z" fill="#50346c"/><path d="M272 206.2L276.5 204.8L278.9 200.4L274.4 202.3ZM282.8 203.9L287.4 207.4L290 203.7L285.4 199.9Z" fill="#f8a870"/><path d="M287.1 207.2L291.7 210.7L294.3 207.3L289.6 203.5Z" fill="#f8a878"/><path d="M472.6 175.1L475.1 196.7L476.8 196.3L474.5 172.3Z" fill="#a06074"/><path d="M157.9 212.9L162.3 215.2L165.3 212.2L160.8 209.8Z" fill="#eca868"/><path d="M359.3 208.8L364.2 206.5L366.4 203.8L361.4 206Z" fill="#a06c6c"/><path d="M479.3 215.1L484.9 210.4L486.6 208L481.1 212.1Z" fill="#5c3c6c"/><path d="M446.9 196.1L452.3 191L454.3 186.5L448.8 192.1Z" fill="#e08878"/><path d="M381.5 191.6L386.5 189.3L388.6 185.4L383.6 187.9Z" fill="#f8a870"/><path d="M495 199.9L500.6 194.9L502.2 194.7L496.6 198.7Z" fill="#8c606c"/><path d="M474.4 113.5L480.9 96.5L482.8 93.6L476.3 110.1Z" fill="#f8a870"/><path d="M291.4 210.5L296 214L298.5 210.9L293.9 207.1Z" fill="#dcb8a4"/><path d="M458.1 164.8L464 154.5L466.6 143.2L460.5 155.5Z" fill="#e89474"/><path d="M429.1 214.9L434.3 212.7L436.3 209.9L431.1 212Z" fill="#5c3c6c"/><path d="M422.6 217L427.5 217.6L429.6 214.7L424.6 214Z" fill="#50346c"/><path d="M295.7 213.8L300.3 217.3L302.8 214.5L298.2 210.6Z" fill="#b8c8e4"/><path d="M501.7 194.9L507.4 190.4L508.8 191.8L503.2 195Z" fill="#50346c"/><path d="M146.9 211.8L151.3 214L154.2 210.8L149.8 208.5Z" fill="#f0a86c"/><path d="M392.6 200.5L396.6 213.9L398.7 212.2L394.7 200.1Z" fill="#bcc8d8"/><path d="M366 204.1L370.9 201.9L373 199.2L368.1 201.4Z" fill="#f4a470"/><path d="M162 215L166.5 217.3L169.4 214.4L164.9 212Z" fill="#eca868"/><path d="M262.9 213.2L267.4 213L270 209.4L265.4 210Z" fill="#c08070"/><path d="M390.7 188.4L394.7 200.6L396.8 199.8L392.7 188.6Z" fill="#ecb088"/><path d="M256.2 215.9L260.8 216.3L263.3 213L258.8 212.9Z" fill="#5c406c"/><path d="M478.5 133.3L479.8 167.3L481.3 167.3L480.5 129.8Z" fill="#c47874"/><path d="M276.1 204.6L280.7 207.9L283.3 203.9L278.7 200.3ZM372.6 199.5L377.6 197.3L379.7 194.7L374.7 196.8Z" fill="#f8a870"/><path d="M394.2 216.3L398.9 219.3L401.2 216.5L396.5 213.4Z" fill="#a8d0f8"/><path d="M151 213.8L155.4 216L158.4 212.9L153.9 210.6Z" fill="#f0a86c"/><path d="M269.5 209.7L274.1 208.8L276.6 204.4L272 205.8Z" fill="#f8a870"/><path d="M435.9 210.2L441.2 207.1L443.1 203.2L437.8 206.7Z" fill="#c08470"/><path d="M280.4 207.6L285 210.9L287.6 207.2L283 203.6ZM444.8 199.9L450.3 195.2L452.3 190.8L446.8 195.9Z" fill="#f8a870"/><path d="M460.6 155.6L466.7 143.3L469.4 131.4L463.1 145.8Z" fill="#f09c74"/><path d="M350.4 216.2L355.3 214L357.5 211.1L352.6 213.3Z" fill="#54386c"/><path d="M469.9 200.3L473.1 216.3L475 214.2L471.6 199.3Z" fill="#60406c"/><path d="M343.8 218.1L348.5 219L350.9 216L346.1 215.1ZM249.5 217.5L254.1 218.8L256.7 215.8L252.2 214.5Z" fill="#50346c"/><path d="M486.3 208.3L492 202.4L493.7 201L488 206Z" fill="#c88470"/><path d="M284.7 210.7L289.3 213.9L291.9 210.5L287.3 206.9Z" fill="#f8a878"/><path d="M379.3 195L384.3 192.9L386.5 189L381.5 191.3ZM472.4 117.1L479 99.4L480.9 96.5L474.4 113.5Z" fill="#f8a870"/><path d="M471.2 216.5L475.8 220.9L477.8 218L472.9 215.8Z" fill="#50346c"/><path d="M386 189.3L391 188.7L393 188.9L388.3 185.3Z" fill="#f8a870"/><path d="M289 213.7L293.6 217L296.2 213.8L291.6 210.2Z" fill="#dcb8a4"/><path d="M155.1 215.8L159.5 218L162.5 215L158.1 212.7Z" fill="#f0a86c"/><path d="M477.4 218.2L483.1 213.1L484.9 210.3L479.2 215Z" fill="#583c6c"/><path d="M357.1 211.4L362.1 209.1L364.2 206.3L359.2 208.6Z" fill="#a06c6c"/><path d="M470.6 178.7L473.5 197.9L475.2 196.7L472.6 175.1Z" fill="#98646c"/><path d="M293.3 216.7L297.9 220L300.5 217.1L295.8 213.6Z" fill="#b8c8e4"/><path d="M144.1 214.6L148.5 216.8L151.5 213.7L147.1 211.5Z" fill="#f4a86c"/><path d="M427.2 217.5L432.4 215.4L434.3 212.5L429.1 214.7Z" fill="#5c3c6c"/><path d="M420.6 219.6L425.5 220.3L427.6 217.3L422.6 216.7Z" fill="#50346c"/><path d="M273.7 208.6L278.3 211.6L280.9 207.6L276.3 204.3Z" fill="#f8a870"/><path d="M363.8 206.6L368.8 204.4L370.9 201.7L365.9 203.9Z" fill="#f4a470"/><path d="M260.4 216.2L265 216.2L267.5 212.6L263 212.9Z" fill="#c08070"/><path d="M159.2 217.8L163.7 220L166.6 217.1L162.2 214.8Z" fill="#f0a86c"/><path d="M267.1 212.9L271.6 212.4L274.2 208.5L269.6 209.3Z" fill="#f8a870"/><path d="M390.5 202.9L394.5 216.5L396.7 213.9L392.7 200.4Z" fill="#c0c4d0"/><path d="M493.3 201.3L499.1 195.3L500.7 195L495 200Z" fill="#b47870"/><path d="M442.8 203.6L448.2 199.4L450.2 195.1L444.8 199.7Z" fill="#f8a870"/><path d="M253.7 218.7L258.3 219.3L260.9 216L256.3 215.6Z" fill="#5c406c"/><path d="M278 211.4L282.6 214.4L285.2 210.6L280.6 207.4Z" fill="#f8a870"/><path d="M463.2 145.9L469.5 131.4L472.2 118.8L465.7 135.5Z" fill="#f4a074"/><path d="M433.9 212.8L439.2 209.7L441.1 206.9L435.8 210.1Z" fill="#bc8070"/><path d="M476.4 138L478.1 168.5L479.8 167.3L478.5 133.3Z" fill="#d08474"/><path d="M148.2 216.6L152.6 218.8L155.6 215.7L151.2 213.5Z" fill="#f4a86c"/><path d="M370.5 202L375.5 199.7L377.6 197.1L372.6 199.3Z" fill="#f8a870"/><path d="M392.1 218.9L396.9 222L399.1 219.1L394.4 216Z" fill="#a8d0f8"/><path d="M282.3 214.2L286.9 217.1L289.5 213.7L284.9 210.4Z" fill="#f8a878"/><path d="M470.5 120.7L477.1 102.5L479 99.4L472.4 117.1Z" fill="#f8a870"/><path d="M348.2 218.9L353.1 216.7L355.3 213.8L350.4 216Z" fill="#54386c"/><path d="M512.9 147.8L519.8 132.6L524.1 109.8L516.3 130.3Z" fill="#64446c"/><path d="M341.5 220.7L346.3 221.6L348.6 218.7L343.9 217.8ZM247 220.2L251.5 221.6L254.2 218.5L249.6 217.2Z" fill="#50346c"/><path d="M454 186.9L459.6 180.9L462 171.9L456.3 179.2Z" fill="#f09c74"/><path d="M377.2 197.4L382.2 195.1L384.3 192.6L379.3 194.8Z" fill="#f8a870"/><path d="M500.3 195.3L506.1 189.6L507.5 190.5L501.8 195Z" fill="#50346c"/><path d="M388.6 190.4L392.8 200.9L394.8 200.6L390.8 188.3Z" fill="#f4ac7c"/><path d="M286.6 216.9L291.2 219.9L293.8 216.7L289.2 213.5Z" fill="#dcb8a4"/><path d="M484.5 210.7L490.3 203.9L492 202.4L486.3 208.3Z" fill="#c08070"/><path d="M456.4 179.5L462.1 172.2L464.5 162.8L458.6 171.4Z" fill="#f4a470"/><path d="M475.6 220.9L481.2 215.9L483 213.1L477.4 218.1Z" fill="#54386c"/><path d="M152.3 218.6L156.7 220.7L159.7 217.7L155.3 215.5Z" fill="#f4a86c"/><path d="M452 191.2L457.5 185.5L459.5 180.5L453.9 186.8Z" fill="#f4a074"/><path d="M271.3 212.2L275.9 215L278.5 211.3L273.9 208.4Z" fill="#f8a870"/><path d="M354.9 214.1L359.9 211.9L362 208.9L357.1 211.2Z" fill="#a06c6c"/><path d="M383.9 192.9L389 190.7L391 188.5L386.1 189Z" fill="#f8a870"/><path d="M468.2 201.4L471.5 216.8L473.2 216.2L469.9 200.3Z" fill="#6c486c"/><path d="M468.5 183L471.7 199.8L473.5 197.9L470.6 178.7Z" fill="#a47070"/><path d="M290.9 219.7L295.5 222.7L298.1 219.8L293.5 216.5Z" fill="#b8c8e4"/><path d="M141.2 217.5L145.7 219.6L148.7 216.5L144.2 214.4Z" fill="#f8a870"/><path d="M425.2 220.2L430.4 218.1L432.3 215.2L427.1 217.3Z" fill="#5c3c6c"/><path d="M418.5 222.3L423.5 223L425.6 220L420.6 219.4Z" fill="#50346c"/><path d="M440.8 207.3L446.2 203.5L448.1 199.2L442.7 203.4Z" fill="#f8a870"/><path d="M469.6 217.2L474 223.6L476 220.8L471.4 216.3Z" fill="#50346c"/><path d="M458.8 171.7L464.6 163L467.1 153.2L461.1 163.2ZM264.6 216.1L269.2 215.9L271.7 212L267.2 212.5Z" fill="#f8a870"/><path d="M257.9 219.1L262.5 219.5L265.1 215.9L260.5 215.8Z" fill="#c08070"/><path d="M275.6 214.8L280.2 217.6L282.8 214.1L278.2 211.1Z" fill="#f8a870"/><path d="M474.2 143.9L476.3 170.9L478.1 168.5L476.5 138Z" fill="#dc8c74"/><path d="M361.6 209.2L366.6 206.9L368.7 204.2L363.7 206.4Z" fill="#f4a470"/><path d="M156.4 220.5L160.9 222.7L163.9 219.7L159.4 217.5Z" fill="#f4a86c"/><path d="M465.8 135.5L472.3 118.9L475.1 105.6L468.4 124.4Z" fill="#f8a470"/><path d="M251.2 221.4L255.8 222.2L258.4 218.9L253.8 218.4Z" fill="#5c406c"/><path d="M388.4 205.4L392.4 219.2L394.6 216.5L390.6 202.9Z" fill="#c0c4d0"/><path d="M468.5 124.5L475.1 105.6L477.1 102.5L470.5 120.7Z" fill="#f8a470"/><path d="M431.9 215.5L437.3 212.4L439.2 209.6L433.9 212.7Z" fill="#bc8070"/><path d="M145.3 219.4L149.8 221.5L152.8 218.5L148.3 216.3Z" fill="#f8a870"/><path d="M487.4 78.5L487.7 120.9L489.6 118.5L489.3 76.2Z" fill="#f0a070"/><path d="M279.9 217.4L284.5 220.2L287.1 216.9L282.5 213.9Z" fill="#f8a878"/><path d="M390 221.6L394.8 224.7L397 221.8L392.3 218.7Z" fill="#a8d0f8"/><path d="M461.2 163.4L467.2 153.4L469.7 143.3L463.6 154.6ZM449.9 195.5L455.4 190.3L457.4 185.4L451.9 191.1ZM368.3 204.5L373.4 202.2L375.5 199.5L370.4 201.8Z" fill="#f8a870"/><path d="M346 221.6L350.9 219.5L353.1 216.5L348.2 218.7Z" fill="#54386c"/><path d="M339.3 223.4L344.1 224.4L346.4 221.4L341.6 220.5ZM515.5 154.4L521.8 143.3L526.8 115.5L519.6 132.2ZM244.4 222.9L249 224.3L251.7 221.3L247.1 219.9Z" fill="#50346c"/><path d="M491.7 202.7L497.6 195.7L499.1 195.3L493.4 201.3Z" fill="#f8a870"/><path d="M284.2 220L288.8 222.8L291.4 219.7L286.8 216.7Z" fill="#dcb8a4"/><path d="M375.1 199.8L380.1 197.5L382.2 195L377.1 197.2ZM268.8 215.7L273.4 218.4L276 214.7L271.4 211.9Z" fill="#f8a870"/><path d="M473.7 223.6L479.4 218.8L481.2 215.9L475.5 220.8Z" fill="#54386c"/><path d="M149.5 221.3L153.9 223.5L156.9 220.5L152.5 218.3Z" fill="#f8a870"/><path d="M352.7 216.8L357.6 214.6L359.8 211.6L354.9 213.9Z" fill="#a06c6c"/><path d="M482.7 213.4L488.6 206.1L490.3 203.9L484.5 210.7Z" fill="#b47870"/><path d="M438.8 209.9L444.2 206.1L446.1 203.3L440.7 207.2Z" fill="#f8a870"/><path d="M386.5 192.8L390.7 203.4L392.9 200.9L388.7 190.4Z" fill="#f8a878"/><path d="M381.8 195.3L386.9 193L388.9 190.5L383.9 192.7ZM138.4 220.3L142.8 222.4L145.8 219.3L141.4 217.2Z" fill="#f8a870"/><path d="M288.5 222.6L293.1 225.4L295.7 222.5L291.1 219.4Z" fill="#b8c8e4"/><path d="M472.1 148.3L474.5 172.8L476.3 170.9L474.2 143.9Z" fill="#e49870"/><path d="M262.1 219.3L266.7 219.5L269.3 215.6L264.7 215.8Z" fill="#f8a870"/><path d="M423.2 222.9L428.4 220.8L430.3 217.9L425.1 220Z" fill="#5c3c6c"/><path d="M416.5 225L421.5 225.7L423.6 222.7L418.6 222.1Z" fill="#50346c"/><path d="M255.4 222.1L260 222.7L262.6 219.1L258 218.8Z" fill="#c08070"/><path d="M273.1 218.2L277.7 220.8L280.4 217.3L275.7 214.5Z" fill="#f8a870"/><path d="M466.7 184.6L470 200.8L471.7 199.8L468.6 183Z" fill="#b47870"/><path d="M447.8 199.6L453.3 194.9L455.3 190.1L449.8 195.3ZM463.7 154.8L469.8 143.6L472.6 130L466.3 143.5Z" fill="#f8a870"/><path d="M359.4 211.9L364.4 209.7L366.6 206.7L361.6 209Z" fill="#f4a470"/><path d="M467.9 218.1L472.1 226.3L474.1 223.5L469.7 217.1Z" fill="#50346c"/><path d="M153.6 223.3L158.1 225.4L161.1 222.4L156.6 220.2Z" fill="#f8a870"/><path d="M248.7 224.1L253.2 225L255.9 221.9L251.3 221.1Z" fill="#5c406c"/><path d="M498.8 195.6L504.7 188.8L506.1 189.7L500.3 195.3Z" fill="#885c6c"/><path d="M466.4 202.8L469.8 217.6L471.5 216.8L468.2 201.4Z" fill="#78506c"/><path d="M386.3 207.9L390.3 221.9L392.5 219.2L388.5 205.4Z" fill="#c0c4d0"/><path d="M277.4 220.6L282.1 223.2L284.7 219.9L280 217.1Z" fill="#f8a878"/><path d="M142.5 222.2L146.9 224.3L150 221.3L145.5 219.1Z" fill="#f8a870"/><path d="M429.9 218.2L435.3 215.1L437.2 212.2L431.9 215.4Z" fill="#bc8070"/><path d="M485.6 80.8L485.9 123.3L487.8 120.9L487.5 78.5Z" fill="#f0a070"/><path d="M387.9 224.3L392.7 227.4L394.9 224.5L390.2 221.4Z" fill="#a8d0f8"/><path d="M366.2 207L371.2 204.6L373.3 202L368.3 204.3ZM266.4 219.3L271 221.8L273.6 218.1L269 215.5Z" fill="#f8a870"/><path d="M343.7 224.3L348.6 222.2L350.9 219.3L345.9 221.4Z" fill="#54386c"/><path d="M241.9 225.6L246.5 227.2L249.2 224L244.6 222.6ZM337 226.1L341.8 227.1L344.2 224.1L339.4 223.2Z" fill="#50346c"/><path d="M281.7 223L286.4 225.7L289 222.5L284.3 219.7Z" fill="#dcb8a4"/><path d="M445.7 203.7L451.2 199.5L453.2 194.7L447.7 199.5Z" fill="#f8a870"/><path d="M470 153.6L472.6 175.6L474.5 172.8L472.2 148.3Z" fill="#e89c70"/><path d="M372.9 202.3L378 199.9L380.1 197.4L375 199.6Z" fill="#f8a870"/><path d="M471.9 226.3L477.5 221.8L479.3 218.7L473.7 223.5Z" fill="#50346c"/><path d="M259.7 222.6L264.2 223.1L266.8 219.2L262.3 219ZM146.6 224.1L151.1 226.2L154.1 223.2L149.6 221.1Z" fill="#f8a870"/><path d="M350.4 219.5L355.4 217.4L357.6 214.4L352.6 216.6Z" fill="#a06c6c"/><path d="M459.3 181L464.9 174.4L467.5 164L461.6 172ZM270.7 221.6L275.3 224L277.9 220.5L273.3 217.9ZM436.8 212.6L442.2 208.8L444.1 206L438.7 209.8Z" fill="#f8a870"/><path d="M135.5 223.2L140 225.3L143 222.2L138.6 220.1Z" fill="#f4a86c"/><path d="M457.1 185.8L462.8 179.5L464.9 174L459.2 180.8Z" fill="#f8a870"/><path d="M286.1 225.5L290.7 228.1L293.3 225.2L288.6 222.3Z" fill="#b8c8e4"/><path d="M480.9 216.2L486.8 208.3L488.6 206L482.7 213.4Z" fill="#ac7470"/><path d="M384.3 195.1L388.6 205.9L390.8 203.4L386.6 192.7Z" fill="#f8a874"/><path d="M379.7 197.7L384.7 195.4L386.8 192.8L381.7 195.1Z" fill="#f8a870"/><path d="M252.9 224.8L257.5 225.5L260.1 222.4L255.5 221.8Z" fill="#c08070"/><path d="M421.1 225.6L426.4 223.5L428.3 220.6L423.1 222.7Z" fill="#5c3c6c"/><path d="M414.5 227.7L419.5 228.4L421.6 225.4L416.6 224.8Z" fill="#50346c"/><path d="M490 204.3L496 196.1L497.6 195.7L491.7 202.8ZM480.7 96.9L487.5 78.5L489.4 76.2L482.6 94Z" fill="#f8a870"/><path d="M467.2 164L470.6 179.2L472.7 175.6L470 153.6Z" fill="#e89c70"/><path d="M466.4 143.6L472.7 130.3L475.6 116L469.1 131.7Z" fill="#f8a870"/><path d="M357.2 214.7L362.2 212.5L364.4 209.5L359.4 211.7Z" fill="#f4a470"/><path d="M464.5 174.2L468.6 183.5L470.8 179.1L467.3 164Z" fill="#f0a070"/><path d="M275 223.8L279.6 226.3L282.2 223L277.6 220.3Z" fill="#f8a878"/><path d="M150.8 226L155.2 228.1L158.2 225.1L153.8 223Z" fill="#f8a870"/><path d="M246.1 227.1L250.7 227.7L253.4 224.7L248.8 223.8Z" fill="#5c406c"/><path d="M461.8 172.3L467.6 164.4L470.1 153.6L464.1 162.9Z" fill="#f8a870"/><path d="M464.9 186.3L468.3 201.9L470.1 200.8L466.8 184.6Z" fill="#c48470"/><path d="M466 220.9L470.2 229L472.2 226.2L468 218.1Z" fill="#50386c"/><path d="M384.2 210.4L388.2 224.5L390.4 221.8L386.4 207.9Z" fill="#c0c4d0"/><path d="M139.6 225.1L144.1 227.1L147.1 224.1L142.7 221.9Z" fill="#f4a86c"/><path d="M428 220.9L433.3 217.8L435.2 214.9L429.9 218.1Z" fill="#bc8070"/><path d="M263.9 222.9L268.5 225.2L271.1 221.5L266.5 219ZM455 190.5L460.7 184.8L462.7 179.4L457 185.7Z" fill="#f8a870"/><path d="M483.7 83.1L484.1 125.7L486 123.3L485.6 80.8Z" fill="#f0a070"/><path d="M385.8 227L390.5 230.2L392.8 227.2L388.1 224.1Z" fill="#a8d0f8"/><path d="M364 209.8L369 207.5L371.1 204.4L366.1 206.8ZM466.8 153.7L472.4 148.7L474.4 144L469.5 143.3ZM443.8 206.3L449.2 202L451.1 199.3L445.7 203.6ZM464.3 163.2L470.2 153.7L472.3 148.4L466.8 153.3Z" fill="#f8a870"/><path d="M279.3 226.1L284 228.6L286.6 225.4L281.9 222.8Z" fill="#dcb8a4"/><path d="M341.5 227L346.4 225.1L348.6 222L343.7 224.1Z" fill="#54386c"/><path d="M464.6 204.4L468.1 218.6L469.9 217.6L466.5 202.8Z" fill="#84586c"/><path d="M334.7 228.9L339.5 229.8L341.9 226.8L337.1 225.9Z" fill="#50346c"/><path d="M462.3 179.5L466.9 185.1L468.8 183.4L464.7 174Z" fill="#f4a470"/><path d="M469.4 143.7L474.3 144.4L476.7 138.2L472.5 130ZM257.1 225.4L261.7 225.9L264.4 222.8L259.8 222.3ZM268.2 225L272.8 227.3L275.5 223.8L270.8 221.3ZM370.7 204.7L375.8 202.4L377.9 199.8L372.9 202.1Z" fill="#f8a870"/><path d="M470 229L475.6 224.3L477.4 221.7L471.8 226.2Z" fill="#50346c"/><path d="M143.8 226.9L148.2 229L151.3 226L146.8 223.8Z" fill="#f4a86c"/><path d="M348.2 222.3L353.2 220.2L355.4 217.2L350.4 219.3Z" fill="#a06c6c"/><path d="M132.7 226.3L137.1 228.3L140.1 225L135.7 222.9Z" fill="#f0a86c"/><path d="M497.3 196L503.3 188L504.8 188.9L498.8 195.7ZM434.8 215.3L440.3 211.4L442.2 208.7L436.8 212.5Z" fill="#f8a870"/><path d="M283.6 228.4L288.3 230.9L290.9 227.9L286.2 225.2Z" fill="#b8c8e4"/><path d="M452.9 195.1L458.5 189.9L460.5 184.6L454.9 190.3Z" fill="#f8a870"/><path d="M479 219.1L485 210.6L486.8 208.3L480.8 216.2Z" fill="#a46c6c"/><path d="M250.4 227.6L254.9 228.3L257.6 225.2L253 224.5Z" fill="#c08070"/><path d="M478.8 99.9L485.7 80.8L487.5 78.5L480.8 96.9Z" fill="#f8a870"/><path d="M382.2 197.5L386.5 208.4L388.7 205.8L384.5 195.1Z" fill="#f8a874"/><path d="M419.1 228.3L424.4 226.2L426.3 223.3L421.1 225.4Z" fill="#5c3c6c"/><path d="M412.4 230.5L417.4 231.1L419.5 228.1L414.6 227.5Z" fill="#50346c"/><path d="M377.5 200.1L382.6 197.7L384.7 195.2L379.6 197.5ZM472.3 130.3L476.5 138.5L478.7 133.8L475.5 116Z" fill="#f8a870"/><path d="M272.5 227.1L277.2 229.4L279.8 226L275.1 223.6Z" fill="#f8a878"/><path d="M355 217.5L360 215.4L362.2 212.3L357.2 214.5Z" fill="#f4a470"/><path d="M243.6 229.8L248.2 230.5L250.8 227.4L246.3 226.8Z" fill="#5c406c"/><path d="M147.9 228.8L152.4 230.9L155.4 227.9L151 225.7Z" fill="#f4a86c"/><path d="M488.3 206.4L494.4 197.6L496.1 196.1L490 204.3ZM261.4 225.7L266 228L268.7 224.9L264 222.6Z" fill="#f8a870"/><path d="M464.1 223.6L468.3 231.8L470.3 229L466.1 220.8Z" fill="#50386c"/><path d="M136.8 228.1L141.2 230.1L144.3 226.9L139.8 224.8Z" fill="#f0a86c"/><path d="M469.2 131.8L475.7 116.1L478.7 101.2L472 119.3Z" fill="#f8a870"/><path d="M382 213.3L386.1 227.3L388.3 224.5L384.3 210.4Z" fill="#c0c4d0"/><path d="M425.9 223.6L431.3 220.5L433.2 217.6L427.9 220.7Z" fill="#bc8070"/><path d="M481.9 85.5L482.3 128.1L484.2 125.7L483.8 83.1Z" fill="#f0a070"/><path d="M383.6 229.8L388.4 232.9L390.7 229.9L385.9 226.8Z" fill="#a8d0f8"/><path d="M361.7 212.6L366.8 210.4L368.9 207.3L363.9 209.6ZM460.2 184.9L465.1 186.8L467 184.9L462.5 179.4Z" fill="#f8a870"/><path d="M475.4 116L478.5 133.8L480.5 130.3L478.7 101.2Z" fill="#f8a470"/><path d="M450.8 199.6L456.3 194.9L458.4 189.7L452.8 194.9Z" fill="#f8a870"/><path d="M276.8 229.2L281.5 231.5L284.1 228.3L279.5 225.8Z" fill="#dcb8a4"/><path d="M441.8 209L447.3 204.7L449.2 201.9L443.7 206.3Z" fill="#f8a870"/><path d="M463 188.3L466.5 203.3L468.3 201.9L465 186.3Z" fill="#d08c70"/><path d="M339.2 229.8L344.1 227.9L346.4 224.8L341.4 226.8Z" fill="#54386c"/><path d="M332.4 231.6L337.2 232.6L339.6 229.6L334.8 228.6Z" fill="#50346c"/><path d="M265.7 227.8L270.3 230.1L273 227L268.3 224.7ZM254.6 228.2L259.2 228.8L261.9 225.6L257.3 225.1Z" fill="#f8a870"/><path d="M462.7 207.1L466.2 221.3L468.2 218.6L464.7 204.4Z" fill="#8c5c6c"/><path d="M478.6 101.2L480.5 130.3L482.3 128.1L481.9 85.5Z" fill="#f4a070"/><path d="M140.9 229.9L145.4 231.8L148.4 228.7L144 226.6Z" fill="#f0a86c"/><path d="M368.5 207.6L373.6 205.3L375.8 202.2L370.7 204.5Z" fill="#f8a870"/><path d="M129.8 229.4L134.2 231.3L137.3 228L132.9 226Z" fill="#eca868"/><path d="M468.1 231.7L473.8 226.8L475.6 224.2L469.9 228.9Z" fill="#50346c"/><path d="M345.9 225.1L350.9 223.2L353.1 220L348.2 222.1Z" fill="#a06c6c"/><path d="M281.2 231.3L285.9 233.6L288.5 230.6L283.8 228.1Z" fill="#b8c8e4"/><path d="M432.9 218L438.3 214.2L440.2 211.4L434.8 215.2ZM476.9 102.9L483.8 83.1L485.7 80.8L478.9 99.9Z" fill="#f8a870"/><path d="M247.8 230.4L252.4 231.1L255.1 228L250.5 227.3Z" fill="#c08070"/><path d="M477.1 222.1L483.2 213L485 210.6L479 219.1Z" fill="#98686c"/><path d="M417.1 231.1L422.3 229L424.3 226L419.1 228.1Z" fill="#5c3c6c"/><path d="M410.4 233.2L415.4 233.9L417.5 230.9L412.5 230.2Z" fill="#50346c"/><path d="M380.1 199.9L384.3 210.9L386.6 208.3L382.3 197.5Z" fill="#f8a874"/><path d="M375.3 202.5L380.5 200.1L382.6 197.6L377.5 199.9Z" fill="#f8a870"/><path d="M270 229.9L274.7 232.2L277.3 229.1L272.7 226.8Z" fill="#f8a878"/><path d="M519.7 132.7L526.8 116L531.9 87.6L523.8 109.9Z" fill="#50346c"/><path d="M352.7 220.3L357.7 218.2L359.9 215.1L354.9 217.3Z" fill="#f4a470"/><path d="M145.1 231.6L149.5 233.6L152.6 230.6L148.1 228.5Z" fill="#f0a86c"/><path d="M241 232.5L245.6 233.3L248.3 230.2L243.7 229.5Z" fill="#5c406c"/><path d="M448.8 202.3L454.4 197.5L456.3 194.8L450.7 199.6Z" fill="#f8a870"/><path d="M133.9 231.1L138.4 233L141.4 229.8L137 227.8Z" fill="#eca868"/><path d="M258.8 228.6L263.5 230.9L266.2 227.8L261.5 225.5ZM458 190.1L463.3 188.7L465.2 186.5L460.3 184.6Z" fill="#f8a870"/><path d="M462.2 226.3L466.4 234.5L468.5 231.7L464.2 223.5Z" fill="#50386c"/><path d="M379.8 216.2L383.9 230L386.2 227.2L382.1 213.3Z" fill="#c0c4d0"/><path d="M423.9 226.3L429.3 223.2L431.2 220.3L425.9 223.5Z" fill="#bc8070"/><path d="M359.5 215.4L364.6 213.3L366.7 210.2L361.7 212.4Z" fill="#f8a870"/><path d="M381.5 232.6L386.3 235.7L388.6 232.7L383.8 229.6Z" fill="#a8d0f8"/><path d="M486.5 208.7L492.7 199.1L494.4 197.6L488.3 206.5Z" fill="#f8a470"/><path d="M495.7 196.5L501.9 187.2L503.4 188.1L497.3 196.1Z" fill="#f8a870"/><path d="M274.3 232L279 234.3L281.7 231.2L277 228.9Z" fill="#dcb8a4"/><path d="M439.8 211.7L445.3 207.3L447.2 204.6L441.8 208.9Z" fill="#f8a870"/><path d="M336.9 232.5L341.8 230.8L344.1 227.7L339.2 229.5Z" fill="#54386c"/><path d="M330.1 234.4L334.9 235.4L337.3 232.3L332.5 231.3Z" fill="#50346c"/><path d="M472.1 119.3L478.8 101.2L481.9 85.5L474.9 106ZM263.2 230.6L267.8 232.9L270.5 229.8L265.8 227.5ZM252.1 231L256.7 231.6L259.3 228.5L254.7 227.9Z" fill="#f8a870"/><path d="M461.2 190.6L464.7 204.9L466.6 203.3L463.1 188.3Z" fill="#dc9470"/><path d="M126.9 232.6L131.3 234.4L134.4 231L130 229.2ZM138 232.8L142.5 234.9L145.6 231.6L141.1 229.6Z" fill="#eca868"/><path d="M366.3 210.5L371.4 208.2L373.6 205.1L368.5 207.4Z" fill="#f8a870"/><path d="M460.7 209.8L464.3 224L466.3 221.3L462.8 207.1Z" fill="#8c5c6c"/><path d="M343.7 228L348.6 226.1L350.9 222.9L345.9 224.9Z" fill="#a06c6c"/><path d="M466.2 234.5L471.9 229.3L473.7 226.7L468.1 231.7Z" fill="#50346c"/><path d="M475 106L481.9 85.5L483.8 83.1L476.9 102.9Z" fill="#f8a870"/><path d="M278.7 234.1L283.4 236.4L286 233.4L281.3 231Z" fill="#b8c8e4"/><path d="M430.8 220.7L436.3 216.9L438.2 214.1L432.8 217.9Z" fill="#f8a870"/><path d="M245.2 233.2L249.8 234L252.5 230.8L247.9 230.1Z" fill="#c08070"/><path d="M408.3 236L413.3 236.7L415.5 233.6L410.5 233Z" fill="#50346c"/><path d="M415 233.8L420.3 231.7L422.3 228.8L417 230.9Z" fill="#5c3c6c"/><path d="M475.3 224.6L481.3 215L483.2 213L477.1 222.1Z" fill="#94646c"/><path d="M377.9 202.8L382.2 213.8L384.4 210.9L380.2 199.8Z" fill="#f8a874"/><path d="M267.5 232.7L272.2 235L274.8 231.9L270.2 229.6Z" fill="#f8a878"/><path d="M455.9 195.1L461.5 190.7L463.3 188.4L458.1 189.8ZM373.2 205.4L378.3 203.1L380.4 199.9L375.3 202.3Z" fill="#f8a870"/><path d="M350.5 223.2L355.5 221.3L357.7 218L352.7 220.1Z" fill="#f4a470"/><path d="M131 234.2L135.5 236.2L138.5 232.7L134.1 230.8ZM142.2 234.7L146.7 236.4L149.7 233.4L145.2 231.4Z" fill="#eca868"/><path d="M238.4 235.3L243 236.1L245.7 233L241.1 232.2Z" fill="#5c406c"/><path d="M256.3 231.4L261 233.7L263.7 230.6L259 228.3ZM446.9 204.9L452.4 200.1L454.3 197.4L448.8 202.2Z" fill="#f8a870"/><path d="M377.6 219.1L381.8 232.8L384 230L379.9 216.1Z" fill="#c0c4d0"/><path d="M460.3 229.1L464.5 237.3L466.6 234.5L462.3 226.2Z" fill="#50386c"/><path d="M421.9 229.1L427.2 226L429.2 223.1L423.9 226.2Z" fill="#bc8070"/><path d="M357.3 218.3L362.3 216.2L364.5 213.1L359.5 215.2Z" fill="#f8a870"/><path d="M379.3 235.3L384.1 238.5L386.4 235.5L381.6 232.3Z" fill="#a8d0f8"/><path d="M271.9 234.8L276.5 237.1L279.2 234L274.5 231.7Z" fill="#dcb8a4"/><path d="M437.8 214.4L443.3 210L445.3 207.3L439.8 211.6Z" fill="#f8a870"/><path d="M334.6 235.3L339.5 233.7L341.8 230.5L336.9 232.3Z" fill="#54386c"/><path d="M484.7 211L490.9 200.6L492.7 199.1L486.5 208.7Z" fill="#f4a470"/><path d="M327.8 237.1L332.6 238.2L335 235.1L330.2 234.1Z" fill="#50346c"/><path d="M124 235.8L128.4 237.5L131.5 234.1L127.1 232.3Z" fill="#f0a86c"/><path d="M260.6 233.5L265.3 235.8L268 232.7L263.3 230.4ZM249.5 233.8L254.1 234.5L256.8 231.3L252.2 230.7Z" fill="#f8a870"/><path d="M135.2 236L139.6 237.7L142.7 234.6L138.2 232.5Z" fill="#eca868"/><path d="M364.1 213.4L369.2 211.2L371.4 208L366.3 210.2Z" fill="#f8a870"/><path d="M458.8 212.5L462.4 226.7L464.4 224L460.8 209.8Z" fill="#8c5c6c"/><path d="M341.4 230.8L346.3 229.1L348.6 225.9L343.7 227.7Z" fill="#a06c6c"/><path d="M459.2 193.2L462.8 207.6L464.8 204.9L461.2 190.5Z" fill="#e09870"/><path d="M464.3 237.3L470 231.8L471.9 229.2L466.2 234.4Z" fill="#50346c"/><path d="M276.2 236.9L280.9 239.2L283.6 236.1L278.9 233.8Z" fill="#b8c8e4"/><path d="M428.8 223.4L434.3 219.6L436.2 216.8L430.8 220.6ZM494.1 198L500.4 187.9L502 187.3L495.8 196.5Z" fill="#f8a870"/><path d="M242.6 235.9L247.3 236.8L250 233.7L245.4 232.9Z" fill="#c08070"/><path d="M454 197.8L459.5 193.3L461.4 190.6L455.9 195Z" fill="#f8a870"/><path d="M375.7 205.8L380 216.6L382.3 213.7L378 202.8Z" fill="#f8a874"/><path d="M412.9 236.6L418.2 234.6L420.2 231.5L415 233.6Z" fill="#5c3c6c"/><path d="M406.2 238.8L411.2 239.5L413.4 236.4L408.4 235.7Z" fill="#50346c"/><path d="M371 208.3L376.1 206.1L378.2 202.9L373.1 205.2Z" fill="#f8a870"/><path d="M348.2 226.2L353.2 224.3L355.4 221L350.4 223Z" fill="#f4a470"/><path d="M265 235.6L269.7 237.8L272.3 234.7L267.7 232.5Z" fill="#f8a878"/><path d="M473.4 227.1L479.5 217.1L481.4 215.1L475.3 224.6Z" fill="#94646c"/><path d="M128.1 237.3L132.6 239L135.7 235.9L131.2 233.9Z" fill="#f0a86c"/><path d="M235.8 238.1L240.4 238.9L243.1 235.8L238.5 235Z" fill="#5c406c"/><path d="M253.8 234.3L258.4 236.6L261.1 233.4L256.5 231.2ZM444.9 207.6L450.5 202.8L452.4 200.1L446.8 204.9Z" fill="#f8a870"/><path d="M375.4 222L379.6 235.6L381.9 232.8L377.7 219Z" fill="#c0c4d0"/><path d="M458.3 231.9L462.6 240.1L464.7 237.2L460.4 229Z" fill="#50386c"/><path d="M355 221.3L360.1 219.3L362.3 216L357.3 218Z" fill="#f8a870"/><path d="M419.8 231.8L425.2 228.7L427.2 225.8L421.8 228.9Z" fill="#bc8070"/><path d="M377.1 238.2L381.9 241.3L384.3 238.2L379.5 235.1Z" fill="#a8d0f8"/><path d="M269.3 237.6L274 239.9L276.7 236.8L272 234.5Z" fill="#dcb8a4"/><path d="M332.3 238.1L337.2 236.6L339.5 233.4L334.6 235.1Z" fill="#54386c"/><path d="M435.8 217.1L441.3 212.8L443.3 210L437.8 214.3Z" fill="#f8a870"/><path d="M325.4 239.9L330.3 241L332.7 237.9L327.9 236.9Z" fill="#50346c"/><path d="M258.1 236.4L262.8 238.6L265.5 235.5L260.8 233.2ZM246.9 236.6L251.5 237.3L254.2 234.2L249.6 233.5ZM361.9 216.3L366.9 214.1L369.1 211L364.1 213.1Z" fill="#f8a870"/><path d="M339.1 233.7L344 232.1L346.3 228.8L341.4 230.6Z" fill="#a06c6c"/><path d="M456.9 215.2L460.5 229.5L462.5 226.7L458.9 212.5Z" fill="#8c5c6c"/><path d="M482.9 213.4L489.2 202.2L491 200.6L484.7 211Z" fill="#f4a470"/><path d="M457.3 195.9L460.9 210.3L462.9 207.5L459.3 193.2Z" fill="#e09870"/><path d="M273.7 239.7L278.4 242L281.1 238.9L276.4 236.6Z" fill="#b8c8e4"/><path d="M462.4 240L468.1 234.6L470 231.8L464.3 237.2Z" fill="#50346c"/><path d="M426.8 226.1L432.2 222.4L434.2 219.5L428.8 223.3Z" fill="#f8a870"/><path d="M240 238.7L244.7 239.6L247.4 236.5L242.8 235.6Z" fill="#c08070"/><path d="M373.4 208.8L377.8 219.5L380.1 216.6L375.8 205.8Z" fill="#f8a874"/><path d="M368.7 211.3L373.8 209.1L376 205.9L370.9 208.1ZM452 200.4L457.6 196L459.5 193.3L453.9 197.7Z" fill="#f8a870"/><path d="M345.9 229.1L350.9 227.3L353.2 224L348.2 225.9Z" fill="#f4a470"/><path d="M410.9 239.4L416.1 237.5L418.2 234.4L412.9 236.4Z" fill="#5c3c6c"/><path d="M404.1 241.6L409.1 242.3L411.3 239.2L406.3 238.5Z" fill="#50346c"/><path d="M262.5 238.4L267.2 240.7L269.8 237.6L265.1 235.3Z" fill="#f8a878"/><path d="M471.6 229.6L477.7 219.2L479.6 217.1L473.4 227.1Z" fill="#94646c"/><path d="M251.2 237.1L255.9 239.4L258.6 236.3L253.9 234.1Z" fill="#f8a870"/><path d="M233.2 240.9L237.8 241.7L240.5 238.6L235.9 237.8Z" fill="#5c406c"/><path d="M492.4 199.5L498.8 188.5L500.4 187.9L494.1 198ZM442.9 210.3L448.5 205.5L450.4 202.8L444.9 207.6Z" fill="#f8a870"/><path d="M373.2 225.1L377.4 238.4L379.7 235.6L375.5 222Z" fill="#c0c4d0"/><path d="M352.8 224.3L357.8 222.4L360 219.1L355 221Z" fill="#f8a870"/><path d="M456.4 234.7L460.7 242.9L462.7 240L458.5 231.8Z" fill="#50386c"/><path d="M417.8 234.7L423.1 231.7L425.1 228.6L419.8 231.7Z" fill="#bc8070"/><path d="M374.9 241L379.8 244.1L382.1 241L377.3 237.9Z" fill="#a8d0f8"/><path d="M266.8 240.5L271.5 242.7L274.2 239.6L269.5 237.4Z" fill="#dcb8a4"/><path d="M329.9 240.9L334.9 239.5L337.2 236.3L332.3 237.9Z" fill="#54386c"/><path d="M433.8 219.8L439.3 215.5L441.3 212.7L435.8 217ZM359.6 219.4L364.7 217.4L366.9 213.9L361.9 216Z" fill="#f8a870"/><path d="M323.1 242.8L327.9 243.9L330.4 240.7L325.6 239.7Z" fill="#50346c"/><path d="M255.5 239.2L260.2 241.4L262.9 238.4L258.3 236.1ZM244.3 239.4L249 240.1L251.7 237L247 236.3Z" fill="#f8a870"/><path d="M336.8 236.6L341.7 235.1L344 231.8L339.1 233.4Z" fill="#a06c6c"/><path d="M454.9 218L458.5 232.3L460.6 229.5L456.9 215.2Z" fill="#8c5c6c"/><path d="M455.3 198.6L458.9 213L461 210.2L457.4 195.9Z" fill="#e09870"/><path d="M271.2 242.5L275.9 244.8L278.6 241.7L273.9 239.4Z" fill="#b8c8e4"/><path d="M460.5 242.9L466.2 237.3L468.1 234.5L462.3 240Z" fill="#50346c"/><path d="M424.8 228.9L430.2 225.1L432.2 222.3L426.7 226Z" fill="#f8a870"/><path d="M371.2 211.8L375.6 222.5L377.9 219.5L373.6 208.7Z" fill="#f8a874"/><path d="M366.5 214.2L371.6 212.1L373.8 208.8L368.7 211Z" fill="#f8a870"/><path d="M481.1 215.5L487.5 203.8L489.2 202.2L482.9 213.4Z" fill="#f0a070"/><path d="M237.4 241.5L242 242.4L244.8 239.3L240.2 238.4Z" fill="#c08070"/><path d="M343.6 232.1L348.6 230.4L350.9 227.1L345.9 228.8Z" fill="#f4a470"/><path d="M450.1 203.1L455.6 198.7L457.6 195.9L452 200.4Z" fill="#f8a870"/><path d="M408.8 242.3L414 240.4L416.1 237.3L410.8 239.2Z" fill="#5c3c6c"/><path d="M402 244.4L407 245.2L409.2 242L404.2 241.3Z" fill="#50346c"/><path d="M259.9 241.2L264.6 243.5L267.3 240.4L262.6 238.2Z" fill="#f8a878"/><path d="M350.5 227.4L355.5 225.6L357.8 222.2L352.7 224.1ZM248.6 239.9L253.3 242.2L256 239.1L251.3 236.9Z" fill="#f8a870"/><path d="M371 228.2L375.2 241.3L377.5 238.4L373.3 225Z" fill="#c0c4d0"/><path d="M230.5 243.7L235.1 244.5L237.9 241.4L233.3 240.6Z" fill="#5c406c"/><path d="M440.9 213L446.5 208.2L448.4 205.5L442.9 210.3Z" fill="#f8a870"/><path d="M469.7 232.2L475.9 221.3L477.7 219.2L471.6 229.6Z" fill="#94646c"/><path d="M454.4 237.5L458.7 245.7L460.8 242.8L456.5 234.6Z" fill="#50386c"/><path d="M415.7 237.6L421.1 234.7L423.1 231.5L417.7 234.5Z" fill="#bc8070"/><path d="M372.7 243.9L377.6 246.9L379.9 243.9L375.1 240.8Z" fill="#a8d0f8"/><path d="M264.3 243.3L269 245.6L271.7 242.5L267 240.2Z" fill="#dcb8a4"/><path d="M357.4 222.5L362.4 220.6L364.7 217.1L359.6 219.1Z" fill="#f8a870"/><path d="M327.6 243.8L332.5 242.4L334.9 239.2L329.9 240.7Z" fill="#54386c"/><path d="M431.8 222.6L437.3 218.3L439.3 215.4L433.8 219.8ZM490.7 201L497.2 189.2L498.8 188.5L492.4 199.5Z" fill="#f8a870"/><path d="M320.7 245.6L325.6 246.7L328 243.6L323.2 242.5Z" fill="#50346c"/><path d="M253 242L257.7 244.3L260.4 241.2L255.7 238.9ZM241.7 242.2L246.3 243L249.1 239.8L244.4 239.1Z" fill="#f8a870"/><path d="M334.4 239.5L339.4 238.1L341.7 234.8L336.8 236.3Z" fill="#a06c6c"/><path d="M452.9 220.8L456.6 235.1L458.6 232.2L455 218Z" fill="#8c5c6c"/><path d="M453.3 201.3L457 215.7L459 213L455.4 198.6Z" fill="#e09870"/><path d="M369 215.1L373.4 225.5L375.7 222.4L371.3 211.7Z" fill="#f8a874"/><path d="M364.3 217.4L369.3 215.4L371.6 211.8L366.5 213.9Z" fill="#f8a870"/><path d="M268.7 245.4L273.4 247.6L276.1 244.5L271.4 242.3Z" fill="#b8c8e4"/><path d="M422.7 231.9L428.1 228.2L430.1 225L424.7 228.8Z" fill="#f8a870"/><path d="M458.5 245.7L464.2 240.1L466.1 237.3L460.4 242.8Z" fill="#50346c"/><path d="M341.3 235.1L346.3 233.5L348.6 230.1L343.6 231.8Z" fill="#f4a470"/><path d="M234.8 244.4L239.4 245.2L242.2 242.1L237.6 241.2Z" fill="#c08070"/><path d="M448.1 205.8L453.7 201.4L455.6 198.6L450 203Z" fill="#f8a870"/><path d="M406.7 245.1L411.9 243.3L414 240.2L408.7 242Z" fill="#5c3c6c"/><path d="M399.9 247.2L404.9 248.1L407.1 244.9L402.1 244.1Z" fill="#50346c"/><path d="M257.3 244.1L262.1 246.3L264.8 243.2L260.1 241Z" fill="#f8a878"/><path d="M479.3 217.6L485.7 205.3L487.5 203.8L481.1 215.5Z" fill="#f0a070"/><path d="M348.2 230.4L353.2 228.8L355.5 225.3L350.5 227.1Z" fill="#f8a870"/><path d="M368.7 231.3L373 244.1L375.3 241.2L371.1 228.2Z" fill="#c0c4d0"/><path d="M246 242.8L250.7 245L253.5 241.9L248.8 239.7Z" fill="#f8a870"/><path d="M227.9 246.5L232.5 247.5L235.3 244.2L230.6 243.4Z" fill="#5c406c"/><path d="M438.9 215.8L444.5 211L446.5 208.2L440.9 213Z" fill="#f8a870"/><path d="M413.6 240.5L419 237.7L421 234.5L415.6 237.4Z" fill="#bc8070"/><path d="M452.4 240.3L456.8 248.6L458.9 245.7L454.6 237.4Z" fill="#50386c"/><path d="M467.8 234.9L474 224L475.9 221.3L469.7 232.2Z" fill="#94646c"/><path d="M355.1 225.6L360.1 223.8L362.4 220.3L357.3 222.2Z" fill="#f8a870"/><path d="M370.5 246.7L375.3 249.8L377.7 246.7L372.9 243.6Z" fill="#a8d0f8"/><path d="M261.7 246.1L266.4 248.4L269.2 245.3L264.4 243Z" fill="#dcb8a4"/><path d="M325.2 246.6L330.2 245.4L332.5 242.2L327.6 243.5Z" fill="#54386c"/><path d="M429.8 225.4L435.3 221L437.3 218.2L431.8 222.5Z" fill="#f8a870"/><path d="M318.3 248.4L323.2 249.6L325.7 246.4L320.8 245.3Z" fill="#50346c"/><path d="M250.4 244.8L255.1 247.1L257.8 244L253.1 241.7Z" fill="#f8a870"/><path d="M332.1 242.4L337.1 241.1L339.4 237.8L334.4 239.2Z" fill="#a06c6c"/><path d="M239.1 245.1L243.7 245.8L246.5 242.7L241.8 241.9ZM362 220.6L367.1 218.7L369.3 215.1L364.2 217.1Z" fill="#f8a870"/><path d="M366.7 218.4L371.1 228.7L373.5 225.5L369.1 215Z" fill="#f8a874"/><path d="M450.9 223.5L454.6 237.9L456.7 235L453 220.7Z" fill="#8c5c6c"/><path d="M451.4 204L455 218.5L457.1 215.7L453.4 201.3Z" fill="#e09870"/><path d="M420.6 234.8L426.1 231.3L428.1 228.1L422.6 231.7Z" fill="#f8a870"/><path d="M339 238.1L344 236.6L346.3 233.2L341.3 234.8Z" fill="#f4a470"/><path d="M266.1 248.2L270.9 250.5L273.6 247.4L268.8 245.1Z" fill="#b8c8e4"/><path d="M489 202.6L495.6 189.8L497.2 189.2L490.7 201.1Z" fill="#f8a870"/><path d="M456.6 248.5L462.3 242.9L464.2 240.1L458.5 245.6Z" fill="#50346c"/><path d="M232.1 247.3L236.8 248.3L239.5 244.9L234.9 244.1Z" fill="#c08070"/><path d="M404.5 248L409.8 246.4L411.9 243.1L406.6 244.9Z" fill="#5c3c6c"/><path d="M446.1 208.5L451.7 204.1L453.6 201.3L448 205.7Z" fill="#f8a870"/><path d="M397.7 250.1L402.8 251L405 247.8L399.9 247Z" fill="#50346c"/><path d="M254.7 246.9L259.5 249.2L262.2 246.1L257.5 243.8Z" fill="#f8a878"/><path d="M345.9 233.5L350.9 231.9L353.2 228.5L348.2 230.2Z" fill="#f8a870"/><path d="M366.4 234.5L370.8 247L373.1 244.1L368.8 231.3Z" fill="#c0c4d0"/><path d="M225.2 249.4L229.8 250.5L232.6 247.2L228 246.2Z" fill="#5c406c"/><path d="M243.4 245.6L248.1 247.9L250.9 244.8L246.2 242.5ZM436.9 218.5L442.5 213.7L444.5 210.9L438.9 215.7Z" fill="#f8a870"/><path d="M411.5 243.4L416.9 240.7L418.9 237.5L413.5 240.3Z" fill="#bc8070"/><path d="M477.5 219.7L484 206.9L485.7 205.3L479.3 217.6Z" fill="#f0a070"/><path d="M450.4 243.2L454.8 251.4L456.9 248.5L452.6 240.2Z" fill="#50386c"/><path d="M352.8 228.8L357.8 227.1L360.1 223.6L355.1 225.3Z" fill="#f8a870"/><path d="M465.8 237.7L472.1 226.7L474 224L467.8 234.9Z" fill="#94646c"/><path d="M368.3 249.6L373.1 252.6L375.5 249.5L370.7 246.5Z" fill="#a8d0f8"/><path d="M259.1 249L263.9 251.3L266.6 248.2L261.9 245.9Z" fill="#dcb8a4"/><path d="M322.8 249.5L327.8 248.5L330.2 245.1L325.2 246.3Z" fill="#54386c"/><path d="M427.7 228.4L433.2 224.2L435.2 221L429.7 225.3Z" fill="#f8a870"/><path d="M315.9 251.3L320.8 252.5L323.3 249.3L318.5 248.1Z" fill="#50346c"/><path d="M236.4 248.2L241.1 249.1L243.8 245.5L239.2 244.8Z" fill="#f8a870"/><path d="M329.7 245.4L334.7 244.1L337.1 240.8L332.1 242.1Z" fill="#a06c6c"/><path d="M247.8 247.7L252.5 250L255.2 246.9L250.5 244.6ZM359.7 223.9L364.8 222.1L367.1 218.5L362 220.3Z" fill="#f8a870"/><path d="M364.4 221.8L368.9 231.8L371.3 228.6L366.8 218.4Z" fill="#f8a874"/><path d="M448.9 226.3L452.7 240.7L454.7 237.8L451 223.5Z" fill="#8c5c6c"/><path d="M336.6 241.1L341.6 239.7L344 236.3L339 237.8Z" fill="#f4a470"/><path d="M449.4 206.7L453.1 221.2L455.1 218.4L451.4 204Z" fill="#e09870"/><path d="M418.5 237.8L424 234.3L426 231.1L420.6 234.7Z" fill="#f8a870"/><path d="M263.5 251.1L268.3 253.4L271 250.2L266.3 248Z" fill="#b8c8e4"/><path d="M229.5 250.3L234.1 251.4L236.9 248L232.3 247Z" fill="#c08070"/><path d="M454.6 251.4L460.3 245.9L462.3 242.9L456.5 248.5Z" fill="#50346c"/><path d="M402.4 250.9L407.6 249.6L409.8 246.2L404.5 247.7Z" fill="#5c3c6c"/><path d="M444.1 211.3L449.7 206.9L451.6 204.1L446 208.5Z" fill="#f8a870"/><path d="M395.6 253L400.6 253.9L402.8 250.7L397.8 249.8Z" fill="#50346c"/><path d="M343.6 236.6L348.6 235.1L350.9 231.7L345.9 233.2Z" fill="#f8a870"/><path d="M252.1 249.8L256.9 252.1L259.6 248.9L254.9 246.6Z" fill="#f8a878"/><path d="M364.2 237.6L368.5 249.9L370.9 246.9L366.6 234.4Z" fill="#c0c4d0"/><path d="M240.7 248.9L245.5 251.1L248.2 247.6L243.5 245.3ZM487.2 204.2L493.9 190.8L495.6 189.8L489 202.7Z" fill="#f8a870"/><path d="M222.5 252.3L227.1 253.5L230 250.2L225.3 249.1Z" fill="#5c406c"/><path d="M409.4 246.5L414.7 244L416.8 240.5L411.4 243.2Z" fill="#bc8070"/><path d="M350.5 231.9L355.5 230.4L357.8 226.8L352.8 228.5ZM434.9 221.3L440.5 216.5L442.4 213.7L436.9 218.5Z" fill="#f8a870"/><path d="M448.4 246.2L452.8 254.3L455 251.3L450.6 243.2Z" fill="#50386c"/><path d="M463.9 240.5L470.1 229.4L472.1 226.7L465.9 237.7Z" fill="#94646c"/><path d="M366 252.5L370.9 255.5L373.3 252.4L368.4 249.4Z" fill="#a8d0f8"/><path d="M425.6 231.5L431.1 227.4L433.2 224.1L427.6 228.3Z" fill="#f8a870"/><path d="M320.5 252.4L325.4 251.6L327.8 248.2L322.9 249.2Z" fill="#54386c"/><path d="M256.6 251.9L261.3 254.2L264 251L259.3 248.7Z" fill="#dcb8a4"/><path d="M475.6 221.8L482.2 208.5L484 206.9L477.5 219.7Z" fill="#f0a070"/><path d="M357.4 227.1L362.5 225.4L364.8 221.8L359.7 223.6ZM233.8 251.3L238.5 252.3L241.2 248.7L236.6 247.9Z" fill="#f8a870"/><path d="M362.1 225.1L366.6 234.9L369 231.7L364.5 221.7Z" fill="#f8a874"/><path d="M327.4 248.4L332.3 247.4L334.7 243.9L329.8 245.1Z" fill="#a06c6c"/><path d="M313.5 254.2L318.4 255.4L320.9 252.2L316.1 251Z" fill="#50346c"/><path d="M245.1 250.9L249.9 253.1L252.6 249.7L247.9 247.4Z" fill="#f8a870"/><path d="M446.9 229.5L450.7 243.6L452.7 240.7L449 226.3Z" fill="#8c5c6c"/><path d="M334.3 244.1L339.3 242.9L341.6 239.4L336.7 240.8Z" fill="#f4a470"/><path d="M416.4 240.8L421.9 237.4L423.9 234.2L418.5 237.7Z" fill="#f8a870"/><path d="M447.3 209.5L451.1 224L453.2 221.2L449.4 206.7Z" fill="#e09870"/><path d="M226.8 253.3L231.5 254.6L234.3 251.1L229.6 250Z" fill="#c08070"/><path d="M452.6 254.3L458.3 249L460.3 245.9L454.5 251.3Z" fill="#50346c"/><path d="M261 254L265.7 256.3L268.5 253.1L263.7 250.8Z" fill="#b8c8e4"/><path d="M400.2 253.8L405.5 252.7L407.6 249.3L402.4 250.6Z" fill="#5c3c6c"/><path d="M341.2 239.7L346.2 238.4L348.6 234.9L343.6 236.3ZM442.1 214L447.7 209.6L449.6 206.8L444 211.2Z" fill="#f8a870"/><path d="M393.4 255.8L398.4 256.9L400.7 253.6L395.7 252.7Z" fill="#50346c"/><path d="M249.5 252.9L254.3 255.1L257 251.8L252.3 249.5Z" fill="#f8a878"/><path d="M361.9 240.8L366.3 252.8L368.7 249.8L364.3 237.6Z" fill="#c0c4d0"/><path d="M238.1 252.1L242.8 254.3L245.6 250.8L240.9 248.6Z" fill="#f8a470"/><path d="M348.2 235.1L353.2 233.7L355.5 230.1L350.5 231.7Z" fill="#f8a870"/><path d="M407.2 249.6L412.6 247.4L414.7 243.8L409.3 246.2Z" fill="#bc8070"/><path d="M219.8 255.1L224.4 256.5L227.3 253.2L222.6 252Z" fill="#5c406c"/><path d="M432.8 224.5L438.4 219.8L440.4 216.4L434.8 221.2Z" fill="#f8a870"/><path d="M446.4 249.2L450.8 257.2L453 254.2L448.6 246.1Z" fill="#50386c"/><path d="M423.5 234.5L429 230.6L431.1 227.3L425.6 231.3Z" fill="#f8a870"/><path d="M462 243.3L468.2 232.1L470.1 229.4L463.9 240.5Z" fill="#94646c"/><path d="M363.7 255.5L368.6 258.4L371 255.3L366.2 252.3Z" fill="#a8d0f8"/><path d="M318 255.3L323 254.7L325.4 251.3L320.5 252.1Z" fill="#54386c"/><path d="M355.1 230.4L360.2 228.8L362.5 225.1L357.4 226.8Z" fill="#f8a870"/><path d="M254 254.9L258.7 257.2L261.5 253.9L256.7 251.6Z" fill="#dcb8a4"/><path d="M359.8 228.5L364.4 238.1L366.8 234.9L362.3 225Z" fill="#f8a874"/><path d="M231.1 254.4L235.8 255.6L238.6 252L233.9 251ZM485.5 205.8L492.2 191.7L493.9 190.8L487.3 204.2Z" fill="#f8a870"/><path d="M325 251.5L329.9 250.7L332.3 247.1L327.4 248.1Z" fill="#a06c6c"/><path d="M242.5 254.1L247.2 256.2L250 252.8L245.3 250.6Z" fill="#f8a470"/><path d="M311.1 257.1L316 258.4L318.5 255.1L313.7 253.9Z" fill="#50346c"/><path d="M473.7 224.5L480.3 211.1L482.2 208.5L475.7 221.8Z" fill="#f0a070"/><path d="M414.3 244.1L419.7 241.1L421.8 237.3L416.4 240.6Z" fill="#f8a870"/><path d="M331.9 247.4L336.9 246.3L339.3 242.6L334.3 243.8Z" fill="#f4a470"/><path d="M444.8 232.7L448.7 246.6L450.8 243.6L447 229.5Z" fill="#8c5c6c"/><path d="M445.3 212.3L449.1 226.8L451.2 224L447.4 209.5Z" fill="#e09870"/><path d="M224.1 256.4L228.8 257.7L231.6 254.3L226.9 253Z" fill="#c48070"/><path d="M450.6 257.1L456.3 252L458.3 248.9L452.6 254.2Z" fill="#50346c"/><path d="M338.9 242.9L343.9 241.6L346.3 238.1L341.2 239.4Z" fill="#f8a870"/><path d="M398.1 256.8L403.3 255.9L405.5 252.4L400.3 253.6Z" fill="#5c3c6c"/><path d="M258.4 256.9L263.1 259.2L265.9 256L261.1 253.7Z" fill="#b8c8e4"/><path d="M440.1 216.8L445.7 212.4L447.6 209.6L442 214Z" fill="#f8a870"/><path d="M246.9 256L251.7 258.2L254.4 254.8L249.7 252.6Z" fill="#f8a878"/><path d="M391.2 258.7L396.3 259.8L398.5 256.6L393.5 255.6Z" fill="#50346c"/><path d="M359.6 244L364 255.7L366.4 252.7L362 240.8Z" fill="#c0c4d0"/><path d="M235.5 255.4L240.2 257.5L243 254L238.3 251.9Z" fill="#f49878"/><path d="M345.8 238.4L350.9 237L353.2 233.4L348.2 234.8Z" fill="#f8a870"/><path d="M405.1 252.7L410.4 250.8L412.5 247.2L407.2 249.3Z" fill="#bc8070"/><path d="M430.7 227.6L436.3 223.1L438.3 219.7L432.7 224.4Z" fill="#f8a870"/><path d="M217 258L221.7 259.5L224.6 256.2L219.9 254.9Z" fill="#744870"/><path d="M444.4 252.2L448.8 260.1L451 257.1L446.6 249.1Z" fill="#50386c"/><path d="M421.4 237.6L426.9 233.8L429 230.4L423.5 234.4ZM352.8 233.7L357.9 232.2L360.2 228.5L355.1 230.1Z" fill="#f8a870"/><path d="M460 246.3L466.2 235.4L468.2 232.1L462 243.3Z" fill="#94646c"/><path d="M357.5 231.9L362.1 241.3L364.5 238L360 228.4Z" fill="#f8a874"/><path d="M315.6 258.3L320.5 257.8L323 254.4L318.1 255Z" fill="#54386c"/><path d="M361.5 258.4L366.4 261.4L368.8 258.2L363.9 255.2Z" fill="#a8d0f8"/><path d="M228.4 257.6L233.1 258.9L236 255.3L231.3 254.1Z" fill="#f8a074"/><path d="M251.3 258L256.1 260.1L258.9 256.9L254.1 254.6Z" fill="#dcb8a4"/><path d="M322.6 254.6L327.5 254L330 250.4L325 251.2Z" fill="#a06c6c"/><path d="M239.9 257.3L244.6 259.4L247.4 256L242.7 253.8Z" fill="#f49078"/><path d="M412.1 247.5L417.5 244.8L419.6 240.9L414.2 243.9Z" fill="#f8a870"/><path d="M329.5 250.6L334.5 249.8L336.9 246L332 247.1Z" fill="#f4a470"/><path d="M308.7 260L313.5 261.3L316.1 258.1L311.2 256.8Z" fill="#50346c"/><path d="M442.8 235.9L446.6 249.6L448.8 246.6L444.9 232.6Z" fill="#8c5c6c"/><path d="M471.8 227.1L478.4 213.6L480.3 211.1L473.8 224.5Z" fill="#f0a070"/><path d="M443.2 215.6L447 230L449.2 226.8L445.4 212.2Z" fill="#e09870"/><path d="M336.5 246.3L341.5 245.3L343.9 241.3L338.9 242.5Z" fill="#f8a870"/><path d="M221.4 259.3L226.1 260.7L228.9 257.5L224.3 256.1Z" fill="#d07c78"/><path d="M483.7 207.3L490.5 192.7L492.2 191.7L485.5 205.8Z" fill="#f8a870"/><path d="M448.6 260.1L454.3 255.1L456.3 252L450.6 257.1Z" fill="#50346c"/><path d="M395.9 259.7L401.1 259L403.3 255.6L398.1 256.5Z" fill="#5c3c6c"/><path d="M255.8 259.9L260.5 262.1L263.3 258.9L258.5 256.7Z" fill="#b8c8e4"/><path d="M438 220.1L443.6 215.8L445.6 212.3L440 216.7Z" fill="#f8a870"/><path d="M244.3 259.2L249 261.3L251.8 257.9L247.1 255.8Z" fill="#f4a078"/><path d="M232.8 258.7L237.5 260.7L240.4 257.2L235.6 255.1Z" fill="#f0847c"/><path d="M389 261.7L394.1 262.8L396.4 259.5L391.3 258.5Z" fill="#50346c"/><path d="M343.5 241.6L348.5 240.3L350.9 236.7L345.8 238.1Z" fill="#f8a870"/><path d="M357.3 247.3L361.8 258.7L364.2 255.7L359.7 244Z" fill="#c0c4d0"/><path d="M402.9 255.8L408.2 254.2L410.4 250.5L405 252.4Z" fill="#bc8070"/><path d="M428.6 230.8L434.2 226.4L436.2 223L430.7 227.5Z" fill="#f8a870"/><path d="M214.3 261L219 262.4L221.9 259.2L217.2 257.8Z" fill="#ac587c"/><path d="M419.3 241.2L424.8 237.8L426.9 233.6L421.4 237.4ZM350.5 237L355.6 235.6L357.9 231.9L352.8 233.4Z" fill="#f8a870"/><path d="M442.3 255.5L446.8 263.1L449 260L444.5 252.1Z" fill="#50386c"/><path d="M355.2 235.3L359.8 244.5L362.2 241.2L357.6 231.8Z" fill="#f8a874"/><path d="M458 249.3L464.2 238.8L466.2 235.4L460 246.3Z" fill="#94646c"/><path d="M313.2 261.2L318.1 261L320.6 257.5L315.7 258Z" fill="#54386c"/><path d="M225.7 260.5L230.4 261.9L233.3 258.6L228.6 257.3Z" fill="#f48c7c"/><path d="M320.2 257.8L325.1 257.3L327.6 253.7L322.6 254.3Z" fill="#a06c6c"/><path d="M248.7 261.1L253.5 263.2L256.3 259.9L251.5 257.7Z" fill="#dcb8a4"/><path d="M359.2 261.4L364.1 264.3L366.5 261.1L361.6 258.2Z" fill="#a8d0f8"/><path d="M410 250.9L415.3 248.5L417.5 244.5L412.1 247.2Z" fill="#f8a870"/><path d="M237.2 260.6L242 262.6L244.8 259.1L240 257Z" fill="#f07c80"/><path d="M327.1 253.9L332.1 253.3L334.6 249.5L329.6 250.3Z" fill="#f4a470"/><path d="M440.7 239.1L444.6 252.6L446.7 249.6L442.9 235.8Z" fill="#8c5c6c"/><path d="M306.2 262.9L311.1 264.3L313.7 261.1L308.8 259.7Z" fill="#50346c"/><path d="M334.1 249.7L339.1 248.9L341.5 244.9L336.5 246Z" fill="#f8a870"/><path d="M441.1 219L445 233.1L447.1 229.9L443.3 215.6Z" fill="#e09870"/><path d="M469.9 229.9L476.5 216.3L478.4 213.7L471.8 227.2Z" fill="#f0a070"/><path d="M218.6 262.2L223.3 263.7L226.2 260.4L221.5 259Z" fill="#e47480"/><path d="M446.6 263L452.3 258.6L454.3 255.1L448.5 260Z" fill="#50346c"/><path d="M393.7 262.7L398.9 262.1L401.1 258.7L395.9 259.4Z" fill="#5c3c6c"/><path d="M435.9 223.3L441.5 219.2L443.5 215.7L437.9 219.9Z" fill="#f8a870"/><path d="M253.1 263L257.9 265.1L260.7 261.8L255.9 259.7Z" fill="#b8c8e4"/><path d="M341.1 245.2L346.1 244.2L348.5 240L343.5 241.3Z" fill="#f8a870"/><path d="M241.6 262.4L246.4 264.4L249.2 261L244.4 258.9Z" fill="#f09080"/><path d="M230.1 261.7L234.8 263.7L237.7 260.5L233 258.5Z" fill="#ec7c80"/><path d="M354.9 250.8L359.5 261.7L361.9 258.6L357.4 247.2Z" fill="#c0c4d0"/><path d="M400.7 259L406 257.6L408.2 253.9L402.9 255.6Z" fill="#bc8070"/><path d="M426.5 234L432.1 229.7L434.1 226.3L428.6 230.7Z" fill="#f8a870"/><path d="M386.8 264.6L391.9 265.8L394.2 262.5L389.1 261.4Z" fill="#50346c"/><path d="M417.1 244.9L422.6 241.7L424.7 237.6L419.2 241ZM482 208.9L488.8 193.7L490.5 192.7L483.8 207.4ZM348.1 240.3L353.2 239L355.6 235.3L350.5 236.7Z" fill="#f8a870"/><path d="M211.5 263.9L216.2 265.4L219.1 262.1L214.5 260.7Z" fill="#d46880"/><path d="M352.8 238.7L357.5 247.7L359.9 244.4L355.3 235.2Z" fill="#f8a874"/><path d="M440.2 258.8L444.8 266L447 262.9L442.5 255.4Z" fill="#50386c"/><path d="M456 252.4L462.2 242.1L464.2 238.8L458 249.3Z" fill="#94646c"/><path d="M407.8 254.2L413.1 252.2L415.3 248.2L409.9 250.6Z" fill="#f8a870"/><path d="M317.7 260.9L322.7 260.6L325.2 257L320.2 257.4Z" fill="#a06c6c"/><path d="M310.7 264.2L315.7 264.1L318.2 260.7L313.3 260.9Z" fill="#54386c"/><path d="M223 263.5L227.7 264.9L230.6 261.6L225.9 260.2Z" fill="#ec7c80"/><path d="M324.7 257.2L329.7 256.8L332.2 253L327.2 253.6Z" fill="#f4a470"/><path d="M246.1 264.2L250.8 266.2L253.6 262.9L248.9 260.8Z" fill="#dcb4a4"/><path d="M356.9 264.5L361.8 267.3L364.2 264L359.3 261.2Z" fill="#a8d0f8"/><path d="M234.5 263.5L239.3 265.5L242.1 262.3L237.4 260.3Z" fill="#ec7884"/><path d="M438.5 243L442.5 255.9L444.7 252.6L440.8 239Z" fill="#8c5c6c"/><path d="M331.7 253.2L336.7 252.6L339.2 248.6L334.2 249.4Z" fill="#f8a870"/><path d="M439 222.4L442.9 236.3L445.1 233.1L441.2 219Z" fill="#e09870"/><path d="M303.7 265.9L308.6 267.3L311.2 264L306.3 262.6Z" fill="#50346c"/><path d="M338.7 248.8L343.8 248L346.2 243.8L341.2 244.9Z" fill="#f8a870"/><path d="M468 232.6L474.5 218.9L476.5 216.3L469.9 229.9Z" fill="#f0a070"/><path d="M433.8 226.6L439.4 222.6L441.4 219.1L435.8 223.2Z" fill="#f8a870"/><path d="M444.5 265.9L450.2 262.2L452.2 258.5L446.5 262.9Z" fill="#50346c"/><path d="M215.9 265.2L220.6 266.7L223.5 263.4L218.8 261.9Z" fill="#ec7084"/><path d="M391.5 265.7L396.7 265.3L399 261.8L393.8 262.4Z" fill="#5c3c6c"/><path d="M424.3 237.9L429.9 234L432 229.6L426.4 233.8ZM414.9 248.5L420.4 245.7L422.5 241.5L417 244.6Z" fill="#f8a870"/><path d="M250.5 266L255.3 268L258.1 264.8L253.3 262.7Z" fill="#b8c8e4"/><path d="M352.6 254.4L357.1 264.7L359.6 261.6L355 250.8Z" fill="#c0c4d0"/><path d="M238.9 265.3L243.7 267.4L246.6 264.1L241.8 262.1Z" fill="#f08480"/><path d="M398.5 262.1L403.8 260.9L406 257.3L400.7 258.7Z" fill="#bc8070"/><path d="M227.4 264.7L232.1 266.7L235 263.5L230.3 261.4Z" fill="#ec7880"/><path d="M345.8 244.1L350.8 243.1L353.2 238.7L348.2 240Z" fill="#f8a870"/><path d="M384.6 267.6L389.7 268.8L392 265.5L386.9 264.3Z" fill="#50346c"/><path d="M350.4 242.7L355.1 251.3L357.6 247.6L353 238.6Z" fill="#f8a874"/><path d="M405.6 257.6L410.9 255.7L413.1 251.9L407.8 254Z" fill="#f8a870"/><path d="M208.8 266.9L213.5 268.4L216.4 265.1L211.7 263.6Z" fill="#d86c84"/><path d="M438.1 262.1L442.7 269L444.9 265.9L440.4 258.7Z" fill="#50386c"/><path d="M454 255.4L460.1 245.4L462.2 242.1L456 252.4Z" fill="#94646c"/><path d="M480.1 211.5L486.9 196.1L488.8 193.7L482 208.9Z" fill="#f8a870"/><path d="M315.3 264.1L320.2 264L322.7 260.3L317.8 260.6Z" fill="#a06c6c"/><path d="M322.3 260.6L327.3 260.3L329.8 256.5L324.8 256.9Z" fill="#f4a470"/><path d="M308.3 267.2L313.2 267.3L315.7 263.8L310.8 263.9Z" fill="#54386c"/><path d="M243.4 267.2L248.2 269.4L251 265.9L246.2 263.9Z" fill="#dcb4a4"/><path d="M436.4 246.9L440.5 259.2L442.7 255.8L438.7 243Z" fill="#8c5c6c"/><path d="M329.3 256.7L334.3 256.3L336.8 252.2L331.8 252.9Z" fill="#f8a870"/><path d="M220.3 266.5L225 268L227.9 264.6L223.2 263.2Z" fill="#ec7484"/><path d="M354.5 267.5L359.5 270.2L361.9 267L357 264.2Z" fill="#a8d0f8"/><path d="M231.8 266.5L236.6 268.6L239.4 265.3L234.7 263.3Z" fill="#ec7884"/><path d="M436.9 225.8L440.9 239.5L443 236.3L439.1 222.4Z" fill="#e09870"/><path d="M336.4 252.5L341.4 251.8L343.8 247.7L338.8 248.5ZM422.2 241.9L427.7 238.4L429.8 233.8L424.3 237.7Z" fill="#f8a870"/><path d="M301.2 268.8L306.1 270.3L308.7 267L303.9 265.6Z" fill="#50346c"/><path d="M431.7 229.9L437.3 226L439.3 222.5L433.7 226.5ZM412.7 252.2L418.2 249.7L420.3 245.5L414.9 248.3Z" fill="#f8a870"/><path d="M466 235.9L472.5 222.5L474.5 218.9L468 232.6Z" fill="#f0a070"/><path d="M442.5 268.9L448.1 265.8L450.2 262L444.5 265.8Z" fill="#50346c"/><path d="M343.4 247.9L348.4 247.1L350.9 242.7L345.8 243.8Z" fill="#f8a870"/><path d="M213.1 268.2L217.8 269.7L220.8 266.4L216.1 264.9Z" fill="#ec7084"/><path d="M389.3 268.7L394.5 268.5L396.8 265L391.6 265.4Z" fill="#5c3c6c"/><path d="M350.2 258.1L354.8 267.7L357.3 264.6L352.7 254.4Z" fill="#c0c4d0"/><path d="M396.3 265.3L401.6 264.3L403.8 260.6L398.5 261.8Z" fill="#bc8070"/><path d="M247.9 269.2L252.6 271L255.5 267.8L250.7 265.7Z" fill="#b8c8e4"/><path d="M236.2 268.4L241 270.4L243.9 267.1L239.1 265.1Z" fill="#f08480"/><path d="M348.1 246.8L352.8 254.9L355.3 251.2L350.6 242.6Z" fill="#f8a874"/><path d="M224.7 267.8L229.4 269.8L232.3 266.5L227.6 264.5Z" fill="#ec7c80"/><path d="M382.3 270.6L387.4 271.8L389.8 268.5L384.7 267.3Z" fill="#50346c"/><path d="M403.4 260.9L408.7 259.3L410.9 255.5L405.6 257.3Z" fill="#f8a870"/><path d="M451.9 258.9L458 249.9L460.1 245.4L454 255.4Z" fill="#94646c"/><path d="M436 265.4L440.7 272L442.9 268.8L438.3 262Z" fill="#50386c"/><path d="M206 269.9L210.7 271.4L213.6 268.1L208.9 266.6Z" fill="#c0607c"/><path d="M319.9 263.9L324.8 263.8L327.3 260L322.4 260.2Z" fill="#f4a470"/><path d="M312.8 267.2L317.8 267.4L320.3 263.7L315.4 263.7Z" fill="#a06c6c"/><path d="M434.2 250.9L438.4 262.5L440.6 259.1L436.5 246.9Z" fill="#8c5c6c"/><path d="M326.9 260.2L331.9 260L334.4 255.9L329.4 256.4Z" fill="#f8a870"/><path d="M434.7 230.4L438.7 243.4L441 239.5L437 225.8Z" fill="#e09870"/><path d="M420 245.8L425.5 242.7L427.6 238.1L422.1 241.6Z" fill="#f8a870"/><path d="M305.8 270.2L310.7 270.5L313.3 267L308.4 266.9Z" fill="#54386c"/><path d="M478.2 214.1L485 198.6L487 196.1L480.1 211.5Z" fill="#f8a870"/><path d="M240.7 270.2L245.5 272.4L248.3 269.1L243.6 266.9Z" fill="#dcb4a4"/><path d="M333.9 256.2L338.9 255.7L341.4 251.5L336.4 252.2Z" fill="#f8a870"/><path d="M217.5 269.5L222.2 271L225.1 267.7L220.4 266.2Z" fill="#ec7084"/><path d="M352.2 270.6L357.2 273.2L359.6 270L354.7 267.2Z" fill="#a8d0f8"/><path d="M229.1 269.6L233.9 271.6L236.7 268.3L232 266.3Z" fill="#f07c80"/><path d="M429.5 234.2L435.1 230.7L437.2 225.9L431.6 229.7ZM410.5 255.8L415.9 253.6L418.1 249.5L412.7 251.9Z" fill="#f8a870"/><path d="M463.9 239.2L470.4 226.2L472.5 222.5L466 235.9Z" fill="#f0a070"/><path d="M341 251.8L346 251.1L348.5 246.7L343.4 247.6Z" fill="#f8a870"/><path d="M298.7 271.8L303.6 273.4L306.3 270.1L301.4 268.6ZM440.4 271.9L446 269.3L448.1 265.6L442.4 268.7Z" fill="#50346c"/><path d="M345.7 250.8L350.4 258.5L353 254.7L348.2 246.6Z" fill="#f8a874"/><path d="M347.8 261.7L352.5 270.8L355 267.6L350.3 258Z" fill="#c0c4d0"/><path d="M387.1 271.7L392.3 271.7L394.5 268.2L389.4 268.4Z" fill="#5c3c6c"/><path d="M210.3 271.2L215.1 272.7L218 269.4L213.3 267.9Z" fill="#e87084"/><path d="M394.1 268.4L399.4 267.7L401.6 264L396.3 265Z" fill="#bc8070"/><path d="M449.8 262.4L455.8 254.4L458 249.9L451.9 258.9Z" fill="#94646c"/><path d="M233.5 271.4L238.3 273.4L241.2 270.1L236.4 268.1Z" fill="#f09080"/><path d="M221.9 270.8L226.7 272.8L229.6 269.5L224.8 267.5Z" fill="#f08080"/><path d="M401.2 264.3L406.5 262.9L408.7 259L403.4 260.6Z" fill="#f8a870"/><path d="M380.1 273.6L385.2 274.9L387.5 271.6L382.5 270.3Z" fill="#50346c"/><path d="M432.4 235L436.6 247.4L438.8 243.4L434.8 230.4Z" fill="#e09870"/><path d="M417.8 249.8L423.2 247L425.4 242.4L419.9 245.6Z" fill="#f8a870"/><path d="M432 254.9L436.3 265.8L438.5 262.4L434.3 250.8Z" fill="#8c5c6c"/><path d="M317.4 267.3L322.4 267.4L324.9 263.5L319.9 263.6Z" fill="#f4a470"/><path d="M427.3 238.5L432.8 235.3L435 230.4L429.4 233.9ZM324.5 263.7L329.4 263.7L332 259.6L327 259.9Z" fill="#f8a870"/><path d="M433.9 268.7L438.6 275L440.9 271.8L436.2 265.3Z" fill="#50386c"/><path d="M310.4 270.4L315.3 270.8L317.9 267L312.9 266.9Z" fill="#a06c6c"/><path d="M203.2 272.9L207.9 274.4L210.8 271.1L206.1 269.6Z" fill="#884c74"/><path d="M331.5 259.9L336.5 259.6L339 255.4L334 255.8Z" fill="#f8a870"/><path d="M303.3 273.2L308.2 273.8L310.8 270.2L305.9 269.9Z" fill="#54386c"/><path d="M408.3 259.3L413.7 257.4L415.9 253.3L410.5 255.5ZM338.6 255.7L343.6 255.2L346.1 250.8L341.1 251.4Z" fill="#f8a870"/><path d="M238 273.2L242.8 275.4L245.7 272.1L240.9 269.9Z" fill="#dcb4a4"/><path d="M214.7 272.5L219.5 274L222.4 270.7L217.7 269.2Z" fill="#ec7884"/><path d="M476.3 216.7L483.1 201.1L485.1 198.6L478.2 214.1Z" fill="#f8a870"/><path d="M349.8 273.6L354.8 276.2L357.3 273L352.4 270.3Z" fill="#a8d0f8"/><path d="M226.3 272.6L231.1 274.6L234 271.3L229.3 269.3Z" fill="#f49078"/><path d="M461.9 242.5L468.4 229.8L470.4 226.2L463.9 239.2Z" fill="#f0a070"/><path d="M343.3 254.9L348 262.1L350.6 258.3L345.8 250.7Z" fill="#f8a874"/><path d="M296.2 274.8L301.1 276.6L303.8 273.1L298.9 271.5ZM438.4 274.9L443.9 272.7L446 269.1L440.4 271.7Z" fill="#50346c"/><path d="M447.7 265.9L453.7 259L455.8 254.4L449.8 262.4Z" fill="#94646c"/><path d="M345.4 265.4L350.1 273.9L352.6 270.7L348 261.6Z" fill="#c0c4d0"/><path d="M391.9 271.6L397.1 271L399.4 267.4L394.1 268.1Z" fill="#bc8070"/><path d="M384.8 274.8L390 274.8L392.3 271.4L387.1 271.4Z" fill="#5c3c6c"/><path d="M430.2 239.7L434.4 251.3L436.7 247.3L432.6 235Z" fill="#e09870"/><path d="M207.5 274.2L212.3 275.7L215.2 272.4L210.5 270.9Z" fill="#d8787c"/><path d="M425.1 242.8L430.6 240L432.8 235L427.2 238.2ZM415.5 253.6L421 251.1L423.2 246.7L417.7 249.5ZM399 267.7L404.3 266.6L406.5 262.7L401.2 264Z" fill="#f8a870"/><path d="M230.8 274.4L235.6 276.4L238.5 273.1L233.7 271.1Z" fill="#f4a078"/><path d="M219.1 273.8L223.9 275.8L226.8 272.5L222.1 270.5Z" fill="#f49078"/><path d="M429.8 258.7L434.2 269L436.4 265.7L432.2 254.8Z" fill="#8c5c6c"/><path d="M322 267.3L327 267.4L329.5 263.4L324.6 263.4Z" fill="#f8a870"/><path d="M377.8 276.6L382.9 278L385.3 274.6L380.2 273.3Z" fill="#50346c"/><path d="M314.9 270.6L319.9 271L322.5 267.1L317.5 266.9Z" fill="#f4a470"/><path d="M329.1 263.6L334.1 263.5L336.6 259.3L331.6 259.5Z" fill="#f8a870"/><path d="M307.9 273.6L312.8 274.2L315.4 270.4L310.5 270.1Z" fill="#a06c6c"/><path d="M431.8 272L436.5 278L438.8 274.8L434.1 268.6Z" fill="#50386c"/><path d="M336.2 259.5L341.2 259.3L343.7 254.8L338.7 255.3ZM406.1 262.9L411.5 261.3L413.7 257.1L408.3 259Z" fill="#f8a870"/><path d="M200.3 275.9L205 277.4L208 274.1L203.3 272.6Z" fill="#64406c"/><path d="M300.8 276.5L305.7 277L308.3 273.5L303.4 272.9Z" fill="#54386c"/><path d="M459.9 245.9L466.3 233.5L468.4 229.9L461.9 242.5Z" fill="#f0a070"/><path d="M235.3 276.2L240.1 278.4L243 275.1L238.2 272.9Z" fill="#dcb8a4"/><path d="M340.8 259L345.7 265.7L348.2 262L343.4 254.7Z" fill="#f8a874"/><path d="M211.9 275.5L216.7 277L219.6 273.7L214.9 272.2Z" fill="#f48c7c"/><path d="M347.5 276.7L352.5 279.3L355 276L350 273.4Z" fill="#a8d0f8"/><path d="M223.6 275.6L228.4 277.7L231.3 274.3L226.5 272.3Z" fill="#f8a470"/><path d="M474.3 219.3L481.2 203.6L483.1 201.1L476.3 216.7Z" fill="#f8a870"/><path d="M445.6 269.5L451.5 263.5L453.6 258.9L447.7 265.9Z" fill="#94646c"/><path d="M427.9 244.3L432.2 255.3L434.5 251.3L430.3 239.6Z" fill="#e09870"/><path d="M422.8 247.1L428.3 244.6L430.5 239.7L425 242.5Z" fill="#f8a870"/><path d="M436.3 277.9L441.8 276.1L443.9 272.5L438.3 274.6Z" fill="#50346c"/><path d="M343 269L347.8 276.9L350.3 273.7L345.6 265.3Z" fill="#c0c4d0"/><path d="M413.3 257.5L418.8 255.3L421 250.9L415.5 253.3Z" fill="#f8a870"/><path d="M389.6 274.8L394.9 274.4L397.2 270.7L391.9 271.3Z" fill="#bc8070"/><path d="M382.6 277.8L387.8 278L390.1 274.5L384.9 274.5Z" fill="#5c3c6c"/><path d="M396.7 271L402 270.1L404.3 266.3L399 267.4Z" fill="#f8a870"/><path d="M204.7 277.2L209.5 278.8L212.4 275.4L207.7 273.9Z" fill="#c88070"/><path d="M319.6 270.9L324.5 271.2L327.1 267.1L322.1 267ZM326.6 267.3L331.6 267.5L334.2 263.2L329.2 263.3Z" fill="#f8a870"/><path d="M427.6 262.5L432.1 272.3L434.3 269L430 258.6Z" fill="#8c5c6c"/><path d="M228.1 277.5L232.9 279.5L235.8 276.2L231 274.2Z" fill="#f8a878"/><path d="M312.5 274L317.4 274.6L320 270.6L315 270.3Z" fill="#f4a470"/><path d="M216.3 276.9L221.1 278.9L224.1 275.6L219.3 273.5Z" fill="#f8a074"/><path d="M333.7 263.4L338.8 263.4L341.3 258.9L336.3 259.2Z" fill="#f8a870"/><path d="M375.5 279.6L380.6 281L383 277.7L377.9 276.3Z" fill="#50346c"/><path d="M403.9 266.6L409.2 265.2L411.5 261L406.1 262.6Z" fill="#f8a870"/><path d="M457.7 250.3L464 239.2L466.3 233.5L459.9 245.9Z" fill="#f0a070"/><path d="M305.4 276.9L310.3 277.6L312.9 273.9L308 273.3Z" fill="#a06c6c"/><path d="M429.6 275.3L434.5 281L436.7 277.8L432 271.9Z" fill="#50386c"/><path d="M338.4 263.1L343.3 269.4L345.8 265.6L341 258.8Z" fill="#f8a874"/><path d="M420.6 251.2L426.1 249L428.3 244.3L422.8 246.8Z" fill="#f8a870"/><path d="M197.5 278.9L202.2 280.5L205.2 277.1L200.5 275.6Z" fill="#5c406c"/><path d="M425.7 248.7L430.1 259.1L432.4 255.2L428.1 244.2Z" fill="#e09870"/><path d="M298.2 279.5L303.2 280.3L305.8 276.7L300.9 276.2Z" fill="#54386c"/><path d="M443.5 272.8L449.4 267.6L451.4 263.5L445.6 269.4Z" fill="#94646c"/><path d="M472.3 223L479.1 207.6L481.2 203.6L474.3 219.4Z" fill="#f8a870"/><path d="M232.5 279.3L237.4 281.5L240.3 278.2L235.4 276Z" fill="#dcb8a4"/><path d="M209.1 278.6L213.9 280.1L216.8 276.8L212.1 275.3Z" fill="#f4a074"/><path d="M345.1 279.8L350.1 282.3L352.6 279L347.6 276.5Z" fill="#a8d0f8"/><path d="M220.8 278.7L225.6 280.7L228.5 277.4L223.8 275.4ZM411.1 261.3L416.5 259.4L418.7 255L413.3 257.2Z" fill="#f8a870"/><path d="M340.6 272.7L345.4 280.1L347.9 276.8L343.2 268.9Z" fill="#c0c4d0"/><path d="M434.2 280.9L439.7 279.6L441.8 275.9L436.3 277.6Z" fill="#50346c"/><path d="M455.5 254.8L461.8 244.9L464 239.2L457.7 250.3Z" fill="#f0a070"/><path d="M387.4 278L392.6 277.8L394.9 274.1L389.7 274.5Z" fill="#bc8070"/><path d="M324.2 271.1L329.2 271.4L331.7 267.1L326.7 267ZM394.5 274.3L399.8 273.7L402.1 269.8L396.8 270.7ZM317.1 274.5L322.1 275L324.6 270.9L319.7 270.5Z" fill="#f8a870"/><path d="M380.3 280.9L385.5 281.3L387.8 277.7L382.6 277.5Z" fill="#5c3c6c"/><path d="M331.3 267.4L336.3 267.5L338.9 263L333.8 263.1Z" fill="#f8a870"/><path d="M425.4 266.4L429.9 275.7L432.2 272.3L427.8 262.5Z" fill="#8c5c6c"/><path d="M201.9 280.3L206.6 281.8L209.6 278.5L204.9 276.9Z" fill="#bc7c70"/><path d="M310 277.5L314.9 278.2L317.5 274.2L312.6 273.7Z" fill="#f4a470"/><path d="M401.6 270.1L407 268.9L409.3 264.9L403.9 266.3Z" fill="#f8a870"/><path d="M225.3 280.5L230.1 282.5L233 279.2L228.2 277.2Z" fill="#f8a878"/><path d="M213.5 279.9L218.3 281.9L221.3 278.6L216.5 276.6Z" fill="#f4a070"/><path d="M418.4 255.3L423.8 253.4L426.1 248.7L420.6 250.9Z" fill="#f8a870"/><path d="M302.8 280.1L307.8 281L310.4 277.3L305.5 276.6Z" fill="#a06c6c"/><path d="M373.2 282.7L378.4 284.1L380.8 280.8L375.7 279.3Z" fill="#50346c"/><path d="M423.4 253.1L427.9 262.9L430.2 259L425.8 248.6Z" fill="#e09870"/><path d="M336 267.2L340.9 273.1L343.4 269.2L338.6 262.9Z" fill="#f8a874"/><path d="M427.5 278.7L432.4 284.1L434.6 280.9L429.8 275.2Z" fill="#50386c"/><path d="M441.4 276.2L447.2 271.6L449.3 267.5L443.5 272.7Z" fill="#94646c"/><path d="M453.3 259.3L459.5 250.7L461.7 244.9L455.5 254.8Z" fill="#f0a070"/><path d="M470.2 226.6L477 211.7L479.1 207.6L472.3 223Z" fill="#f8a870"/><path d="M194.6 282L199.3 283.5L202.4 280.2L197.6 278.6Z" fill="#5c3c6c"/><path d="M408.8 265.2L414.2 263.6L416.5 259.1L411.1 261Z" fill="#f8a870"/><path d="M295.7 282.6L300.7 283.5L303.3 280L298.4 279.2Z" fill="#54386c"/><path d="M229.8 282.3L234.6 284.6L237.5 281.2L232.7 279Z" fill="#dcb8a4"/><path d="M206.3 281.6L211.1 283.2L214 279.8L209.3 278.3Z" fill="#d88c70"/><path d="M342.7 283L347.7 285.4L350.3 282.1L345.2 279.6Z" fill="#a8d0f8"/><path d="M218 281.7L222.8 283.8L225.8 280.4L221 278.4Z" fill="#f4a470"/><path d="M338.1 276.5L343 283.2L345.6 279.9L340.7 272.6Z" fill="#c0c4d0"/><path d="M432.1 284L437.5 283L439.7 279.3L434.2 280.7Z" fill="#50346c"/><path d="M321.7 274.9L326.7 275.4L329.3 271.1L324.3 270.8ZM328.8 271.3L333.9 271.6L336.4 267.1L331.4 267ZM314.6 278.1L319.6 278.8L322.2 274.6L317.2 274.1Z" fill="#f8a870"/><path d="M385.1 281.2L390.3 281.2L392.7 277.5L387.4 277.7Z" fill="#bc8070"/><path d="M392.2 277.7L397.5 277.2L399.8 273.4L394.5 274Z" fill="#f8a870"/><path d="M423.2 270.3L427.8 279L430.1 275.6L425.6 266.3Z" fill="#8c5c6c"/><path d="M416.1 259.4L421.5 257.8L423.8 253.1L418.4 255Z" fill="#f8a870"/><path d="M378 284L383.2 284.4L385.6 281L380.4 280.6Z" fill="#5c3c6c"/><path d="M307.4 280.9L312.4 281.8L315 277.9L310.1 277.2Z" fill="#f4a470"/><path d="M451.1 263.9L457.2 256.5L459.4 250.6L453.3 259.3Z" fill="#f0a070"/><path d="M399.4 273.6L404.7 272.7L407 268.6L401.7 269.8Z" fill="#f8a870"/><path d="M421.2 257.5L425.7 266.8L428 262.9L423.6 253Z" fill="#e09870"/><path d="M199 283.4L203.8 284.9L206.8 281.5L202 280Z" fill="#a46870"/><path d="M333.5 271.4L338.4 276.8L341 272.9L336.1 267Z" fill="#f8a874"/><path d="M222.5 283.6L227.3 285.6L230.3 282.3L225.5 280.2Z" fill="#f4a878"/><path d="M210.7 283L215.5 285L218.5 281.7L213.7 279.6Z" fill="#c07c70"/><path d="M300.3 283.4L305.3 284.5L307.9 280.7L303 279.8Z" fill="#a06c6c"/><path d="M468.1 230.3L474.9 215.7L477 211.7L470.2 226.6Z" fill="#f8a870"/><path d="M370.9 285.7L376.1 287.2L378.5 283.8L373.4 282.4Z" fill="#50346c"/><path d="M439.3 279.6L445.1 275.7L447.1 271.5L441.3 276.1Z" fill="#94646c"/><path d="M406.6 268.9L412 267.6L414.3 263.3L408.9 264.9Z" fill="#f8a870"/><path d="M425.3 282L430.2 287.2L432.5 283.9L427.7 278.5Z" fill="#50386c"/><path d="M293.1 285.7L298.1 286.8L300.8 283.3L295.8 282.3Z" fill="#54386c"/><path d="M191.7 285.1L196.5 286.6L199.5 283.2L194.8 281.7Z" fill="#5c3c6c"/><path d="M326.4 275.3L331.4 275.8L334 271.3L329 271ZM319.2 278.7L324.2 279.4L326.8 275L321.8 274.5Z" fill="#f8a870"/><path d="M449 267.9L455 261.2L457.1 256.4L451.1 263.8Z" fill="#f0a070"/><path d="M227 285.4L231.9 287.7L234.8 284.3L229.9 282.1Z" fill="#dcb8a4"/><path d="M335.7 280.2L340.6 286.3L343.2 283L338.3 276.3Z" fill="#c0c4d0"/><path d="M203.4 284.8L208.2 286.3L211.2 282.9L206.5 281.4Z" fill="#986074"/><path d="M340.3 286.1L345.3 288.5L347.9 285.1L342.9 282.7Z" fill="#a8d0f8"/><path d="M413.9 263.6L419.3 262.3L421.6 257.5L416.1 259.1Z" fill="#f8a870"/><path d="M215.2 284.8L220 286.9L223 283.5L218.2 281.5Z" fill="#c07c70"/><path d="M312.1 281.7L317.1 282.6L319.7 278.5L314.7 277.7Z" fill="#f8a870"/><path d="M429.9 287.1L435.4 286.3L437.6 282.7L432.1 283.7Z" fill="#50346c"/><path d="M421 274L425.6 282.3L427.9 278.9L423.4 270.2Z" fill="#8c5c6c"/><path d="M390 281.1L395.2 280.8L397.6 276.9L392.3 277.4Z" fill="#f8a870"/><path d="M418.9 261.9L423.5 270.7L425.8 266.7L421.3 257.4Z" fill="#e09870"/><path d="M382.8 284.3L388.1 284.4L390.4 280.9L385.2 280.9Z" fill="#bc8070"/><path d="M304.9 284.4L309.9 285.5L312.5 281.5L307.6 280.6Z" fill="#f4a470"/><path d="M397.1 277.2L402.5 276.5L404.8 272.4L399.4 273.3Z" fill="#f8a870"/><path d="M331 275.5L336 280.5L338.6 276.6L333.7 271.2Z" fill="#f8a874"/><path d="M375.7 287.1L380.9 287.6L383.3 284.1L378.1 283.7Z" fill="#5c3c6c"/><path d="M466.1 234L472.8 219.8L474.9 215.7L468.2 230.3Z" fill="#f8a870"/><path d="M196.1 286.5L200.9 288.1L203.9 284.6L199.2 283.1Z" fill="#885470"/><path d="M437.2 283L442.9 279.8L445 275.5L439.2 279.4Z" fill="#94646c"/><path d="M404.3 272.7L409.7 271.6L412 267.3L406.6 268.6Z" fill="#f8a870"/><path d="M297.7 286.6L302.7 287.9L305.4 284.2L300.4 283.1Z" fill="#a47070"/><path d="M219.7 286.7L224.5 288.7L227.5 285.3L222.7 283.3Z" fill="#d49078"/><path d="M207.9 286.1L212.7 288.2L215.7 284.7L210.9 282.7Z" fill="#804c74"/><path d="M368.6 288.8L373.7 290.4L376.2 287L371.1 285.5Z" fill="#50346c"/><path d="M423.2 285.3L428.1 290.3L430.4 287L425.5 281.8Z" fill="#50386c"/><path d="M446.8 271.9L452.8 266.1L454.9 261.1L448.9 267.8Z" fill="#f0a070"/><path d="M323.9 279.3L328.9 280L331.5 275.5L326.5 274.9ZM411.6 267.6L417 266.4L419.3 261.9L413.9 263.3ZM316.7 282.5L321.7 283.4L324.4 279L319.4 278.3Z" fill="#f8a870"/><path d="M290.6 288.8L295.5 290L298.2 286.5L293.3 285.4Z" fill="#54386c"/><path d="M188.8 288.2L193.6 289.8L196.6 286.4L191.9 284.8Z" fill="#5c3c6c"/><path d="M333.2 284L338.2 289.5L340.8 286.2L335.9 280.1Z" fill="#c0c4d0"/><path d="M309.6 285.3L314.6 286.4L317.2 282.3L312.2 281.4Z" fill="#f8a870"/><path d="M416.6 266.1L421.3 274.4L423.6 270.6L419 261.8Z" fill="#e09870"/><path d="M463.8 239.7L470.4 226.9L472.8 219.8L466.1 234Z" fill="#f8a870"/><path d="M200.6 287.9L205.4 289.5L208.4 286L203.6 284.5Z" fill="#704074"/><path d="M224.2 288.5L229.1 290.8L232 287.4L227.2 285.2Z" fill="#d4b0a4"/><path d="M337.9 289.3L342.9 291.6L345.5 288.2L340.4 285.9Z" fill="#a8d0f8"/><path d="M212.4 288L217.2 290L220.2 286.6L215.4 284.5Z" fill="#804c74"/><path d="M418.8 277.8L423.5 285.6L425.8 282.2L421.2 273.9Z" fill="#8c5c6c"/><path d="M387.7 284.3L393 284.2L395.3 280.5L390 280.8Z" fill="#f8a870"/><path d="M328.6 279.7L333.5 284.3L336.2 280.3L331.2 275.3Z" fill="#f8a874"/><path d="M427.8 290.2L433.3 289.6L435.4 286L430 286.8Z" fill="#50346c"/><path d="M394.9 280.7L400.2 280.3L402.5 276.2L397.2 276.9Z" fill="#f8a870"/><path d="M380.5 287.5L385.8 287.7L388.1 284.1L382.9 284Z" fill="#bc8070"/><path d="M302.4 287.7L307.4 289L310 285.2L305 284.1Z" fill="#f4a470"/><path d="M461.5 245.4L467.9 234L470.3 226.9L463.7 239.7Z" fill="#f8a870"/><path d="M373.4 290.2L378.6 290.9L381 287.3L375.8 286.8Z" fill="#5c3c6c"/><path d="M402.1 276.4L407.4 275.6L409.8 271.2L404.4 272.4Z" fill="#f8a870"/><path d="M435 286.3L440.7 283.5L442.8 279.6L437.1 282.8Z" fill="#94646c"/><path d="M193.2 289.6L198 291.2L201.1 287.8L196.3 286.2Z" fill="#7c4c74"/><path d="M444.6 275.9L450.5 270.9L452.7 265.9L446.7 271.8Z" fill="#f0a070"/><path d="M295.2 289.8L300.2 291.3L302.9 287.6L297.9 286.3Z" fill="#b07470"/><path d="M216.9 289.8L221.7 291.9L224.7 288.4L219.9 286.4Z" fill="#986074"/><path d="M321.4 283.3L326.4 284.2L329 279.6L324 278.9Z" fill="#f8a870"/><path d="M205 289.3L209.9 291.3L212.9 287.9L208.1 285.8Z" fill="#643874"/><path d="M459.2 251.1L465.5 241.1L467.9 234L461.4 245.3ZM409.3 271.5L414.7 270.6L417 266.1L411.6 267.2Z" fill="#f8a870"/><path d="M366.3 292L371.4 293.5L373.9 290.1L368.7 288.6Z" fill="#50346c"/><path d="M421 288.7L425.9 293.4L428.3 290.1L423.3 285.1Z" fill="#50386c"/><path d="M314.2 286.3L319.2 287.4L321.9 283.1L316.9 282.1Z" fill="#f8a870"/><path d="M414.3 270.3L419 278.2L421.4 274.3L416.8 266Z" fill="#e09870"/><path d="M288 291.9L292.9 293.3L295.7 289.7L290.7 288.5Z" fill="#583c6c"/><path d="M185.9 291.3L190.7 293.1L193.7 289.5L189 287.9Z" fill="#5c3c6c"/><path d="M307 288.8L312 290.1L314.7 286.1L309.7 285Z" fill="#f8a870"/><path d="M330.8 287.8L335.7 292.7L338.3 289.3L333.4 283.8Z" fill="#c0c4d0"/><path d="M456.9 256.8L463.1 248.3L465.4 241.1L459.1 251Z" fill="#f8a870"/><path d="M326.1 284L331.1 288.1L333.7 284.1L328.8 279.5Z" fill="#f8a874"/><path d="M416.5 281.6L421.3 289L423.6 285.5L418.9 277.7Z" fill="#8c5c6c"/><path d="M197.7 291L202.5 292.7L205.5 289.2L200.7 287.6Z" fill="#683874"/><path d="M335.4 292.5L340.5 294.8L343.1 291.4L338 289Z" fill="#a8d0f8"/><path d="M221.4 291.7L226.3 293.9L229.2 290.5L224.4 288.3Z" fill="#b89498"/><path d="M209.5 291.1L214.4 293.2L217.4 289.7L212.5 287.7Z" fill="#643874"/><path d="M385.4 287.6L390.7 287.6L393 283.9L387.7 284ZM392.6 284.1L397.9 283.8L400.2 280L394.9 280.4Z" fill="#f8a870"/><path d="M425.6 293.3L431.1 293L433.3 289.3L427.8 289.9Z" fill="#50346c"/><path d="M299.8 291.1L304.8 292.5L307.5 288.7L302.5 287.4Z" fill="#f8a870"/><path d="M378.2 290.8L383.5 291.1L385.8 287.4L380.6 287.2Z" fill="#bc8070"/><path d="M399.8 280.2L405.2 279.6L407.5 275.2L402.1 276.1Z" fill="#f8a870"/><path d="M442.5 280L448.3 275.8L450.4 270.8L444.6 275.7Z" fill="#f0a070"/><path d="M371.1 293.4L376.3 294.1L378.7 290.6L373.5 289.9Z" fill="#5c3c6c"/><path d="M432.9 289.6L438.5 287.2L440.7 283.3L435 286.1Z" fill="#94646c"/><path d="M318.9 287.3L323.9 288.4L326.6 283.8L321.5 282.9ZM454.6 261.6L460.8 253.9L463 248.2L456.8 256.7ZM407.1 275.5L412.4 274.8L414.8 270.3L409.4 271.2Z" fill="#f8a870"/><path d="M190.3 293L195.1 294.4L198.2 290.9L193.4 289.3Z" fill="#845070"/><path d="M292.6 293.1L297.6 294.7L300.3 291L295.3 289.6Z" fill="#b87c70"/><path d="M311.7 289.9L316.7 291.2L319.4 287.1L314.3 286Z" fill="#f8a870"/><path d="M214 293L218.9 295L221.9 291.6L217 289.5Z" fill="#704074"/><path d="M202.2 292.5L207 294.5L210 291L205.2 289Z" fill="#643874"/><path d="M412.1 274.5L416.8 281.9L419.2 278L414.5 270.2Z" fill="#e09870"/><path d="M418.8 292L423.8 296.6L426.1 293.2L421.1 288.5Z" fill="#50386c"/><path d="M363.9 295.1L369.1 296.7L371.5 293.2L366.4 291.7Z" fill="#50346c"/><path d="M323.6 288.2L328.6 291.9L331.3 287.8L326.3 283.7Z" fill="#f8a874"/><path d="M304.5 292.4L309.5 293.8L312.2 289.8L307.2 288.5Z" fill="#f8a870"/><path d="M328.3 291.6L333.3 295.9L335.9 292.5L330.9 287.6Z" fill="#c0c4d0"/><path d="M285.4 295L290.3 296.6L293.1 293L288.1 291.6Z" fill="#5c406c"/><path d="M414.3 285.4L419.1 292.3L421.4 288.8L416.7 281.4Z" fill="#8c5c6c"/><path d="M452.4 266.3L458.5 259.6L460.7 253.8L454.5 261.5Z" fill="#f8a870"/><path d="M440.3 283.6L446.1 279.9L448.2 275.6L442.4 279.8Z" fill="#f0a070"/><path d="M390.3 287.5L395.6 287.3L398 283.5L392.6 283.8Z" fill="#f8a870"/><path d="M194.8 294.2L199.6 295.9L202.6 292.4L197.9 290.8Z" fill="#6c4074"/><path d="M383.1 291L388.4 291.1L390.7 287.3L385.5 287.3Z" fill="#f8a870"/><path d="M333 295.7L338 297.9L340.6 294.5L335.6 292.2Z" fill="#a8d0f8"/><path d="M218.6 294.8L223.4 297.1L226.4 293.6L221.6 291.4Z" fill="#94708c"/><path d="M397.5 283.7L402.9 283.2L405.2 279.3L399.8 279.9Z" fill="#f8a870"/><path d="M206.7 294.3L211.5 296.4L214.5 292.9L209.7 290.8Z" fill="#643874"/><path d="M297.2 294.5L302.3 296.1L305 292.2L300 290.8Z" fill="#f8a870"/><path d="M423.5 296.4L428.9 296.3L431.1 292.7L425.7 293Z" fill="#50346c"/><path d="M375.9 294L381.1 294.4L383.5 290.8L378.3 290.5Z" fill="#bc8070"/><path d="M316.4 291.1L321.4 292.3L324.1 288.1L319 287ZM404.8 279.5L410.1 279.1L412.5 274.5L407.1 275.2Z" fill="#f8a870"/><path d="M430.7 292.9L436.3 290.9L438.5 286.9L432.8 289.4Z" fill="#94646c"/><path d="M368.7 296.6L373.9 297.4L376.4 293.8L371.2 293.1Z" fill="#5c3c6c"/><path d="M309.2 293.6L314.2 295L316.8 290.9L311.8 289.6Z" fill="#f8a870"/><path d="M290 296.5L295 298.2L297.7 294.4L292.7 292.8Z" fill="#c08070"/><path d="M187.4 296.1L192.2 297.6L195.3 294.1L190.5 292.7Z" fill="#a06870"/><path d="M409.8 278.8L414.6 285.7L417 281.8L412.2 274.4Z" fill="#e09870"/><path d="M450.1 271.1L456.2 265.4L458.4 259.5L452.3 266.2Z" fill="#f8a870"/><path d="M211.2 296.2L216 298.2L219.1 294.8L214.2 292.7Z" fill="#683874"/><path d="M199.3 295.7L204.1 297.7L207.2 294.2L202.3 292.2Z" fill="#643874"/><path d="M416.5 295.8L421.6 299.7L424 296.3L419 291.8Z" fill="#50386c"/><path d="M321.1 292.1L326.1 295.6L328.8 291.6L323.8 287.9Z" fill="#f4ac78"/><path d="M361.6 298.3L366.7 299.9L369.2 296.4L364 294.8Z" fill="#50346c"/><path d="M301.9 295.9L306.9 297.5L309.6 293.5L304.6 292.1Z" fill="#f8a870"/><path d="M325.8 295.4L330.8 299.4L333.5 295.7L328.4 291.4Z" fill="#c0c4d4"/><path d="M412 289.4L416.9 296L419.3 292.2L414.5 285.2Z" fill="#885c6c"/><path d="M282.7 298.2L287.7 299.8L290.5 296.3L285.5 294.7Z" fill="#60406c"/><path d="M438.1 287.3L443.9 284L446 279.7L440.2 283.4Z" fill="#f0a070"/><path d="M388 291L393.3 290.9L395.7 287L390.4 287.2ZM395.2 287.3L400.6 286.9L402.9 282.9L397.6 283.4ZM380.8 294.3L386 294.6L388.4 290.8L383.2 290.7ZM294.7 298L299.7 299.7L302.4 295.8L297.4 294.2Z" fill="#f8a870"/><path d="M330.5 299.2L335.6 301.1L338.2 297.6L333.1 295.5Z" fill="#a8d0f8"/><path d="M402.5 283.2L407.8 283.4L410.2 278.7L404.8 279.2Z" fill="#f8a870"/><path d="M191.9 297.4L196.7 299L199.8 295.6L195 293.9Z" fill="#905874"/><path d="M313.8 294.9L318.9 296.3L321.6 292L316.5 290.8Z" fill="#f8a870"/><path d="M215.7 298L220.6 300.2L223.6 296.8L218.7 294.6Z" fill="#886088"/><path d="M447.9 276L453.8 271.1L456.1 265.2L450 271Z" fill="#f8a870"/><path d="M203.8 297.5L208.6 299.6L211.7 296.1L206.8 294Z" fill="#643874"/><path d="M421.3 299.6L426.7 299.7L429 296L423.5 296.1Z" fill="#50346c"/><path d="M373.6 297.3L378.8 297.9L381.2 294.1L376 293.7Z" fill="#bc8070"/><path d="M428.5 296.3L434.1 294.6L436.3 290.6L430.7 292.7Z" fill="#94646c"/><path d="M407.4 283.1L412.3 289.7L414.8 285.6L409.9 278.6Z" fill="#e09470"/><path d="M306.6 297.3L311.6 298.9L314.3 294.7L309.3 293.3Z" fill="#f8a870"/><path d="M366.4 299.8L371.6 300.8L374 297.1L368.8 296.3Z" fill="#5c3c6c"/><path d="M287.4 299.6L292.4 301.3L295.1 297.9L290.1 296.2Z" fill="#c88870"/><path d="M184.5 299.3L189.2 300.7L192.3 297.3L187.6 295.8Z" fill="#b87c70"/><path d="M318.5 296.1L323.6 299.4L326.3 295.4L321.2 291.9Z" fill="#f4ac78"/><path d="M414.3 299.4L419.4 302.9L421.8 299.5L416.7 295.5Z" fill="#50346c"/><path d="M208.3 299.4L213.2 301.4L216.2 297.9L211.4 295.9Z" fill="#6c4074"/><path d="M196.3 298.8L201.2 300.9L204.3 297.4L199.4 295.4Z" fill="#784874"/><path d="M299.3 299.5L304.4 301.3L307.1 297.2L302.1 295.6Z" fill="#f8a870"/><path d="M359.2 301.4L364.3 303.3L366.8 299.6L361.7 298Z" fill="#50346c"/><path d="M323.3 299.1L328.3 302.6L331 299.1L325.9 295.2Z" fill="#bcc8dc"/><path d="M409.7 293.4L414.6 299.7L417 295.9L412.2 289.3Z" fill="#80586c"/><path d="M435.9 290.9L441.7 288.1L443.8 283.8L438.1 287Z" fill="#f0a070"/><path d="M445.7 280L451.6 275.6L453.7 270.9L447.8 275.8Z" fill="#f8a870"/><path d="M280.1 301.3L285.1 303L287.9 299.5L282.9 297.9Z" fill="#68446c"/><path d="M400.2 286.8L405.5 287.7L407.9 283.1L402.6 282.8ZM385.7 294.5L391 294.6L393.4 290.6L388.1 290.7ZM392.9 290.9L398.3 290.7L400.6 286.6L395.3 287ZM311.3 298.8L316.4 300.3L319 296L314 294.6ZM378.4 297.8L383.7 298.2L386.1 294.3L380.9 294Z" fill="#f8a870"/><path d="M292 301.2L297.1 302.9L299.8 299.4L294.8 297.7Z" fill="#eca870"/><path d="M188.9 300.6L193.7 302.2L196.8 298.7L192 297.1Z" fill="#d08870"/><path d="M212.9 301.2L217.8 303.4L220.8 300L215.9 297.7Z" fill="#946c8c"/><path d="M405.1 287.4L410 293.7L412.5 289.6L407.6 283Z" fill="#d89470"/><path d="M371.2 300.6L376.4 301.4L378.9 297.6L373.7 297Z" fill="#bc8070"/><path d="M419.1 302.8L424.5 303.2L426.8 299.4L421.4 299.3Z" fill="#50346c"/><path d="M200.9 300.7L205.7 302.8L208.8 299.3L203.9 297.2Z" fill="#784874"/><path d="M426.3 299.7L431.9 298.5L434.1 294.3L428.5 296Z" fill="#94646c"/><path d="M304 301.1L309.1 302.8L311.8 298.6L306.7 297Z" fill="#f8a870"/><path d="M364 303.2L369.2 304.1L371.7 300.5L366.5 299.5Z" fill="#5c3c6c"/><path d="M316 300.1L321.1 303.1L323.8 299.1L318.7 295.8Z" fill="#f4ac7c"/><path d="M284.7 302.8L289.8 304.5L292.5 301L287.5 299.3Z" fill="#cc8c70"/><path d="M181.5 302.5L186.3 303.9L189.4 300.4L184.6 299Z" fill="#c08070"/><path d="M443.5 284.1L449.3 280.3L451.5 275.4L445.6 279.8Z" fill="#f8a870"/><path d="M412.1 303.1L417.2 306.1L419.6 302.7L414.5 299.2Z" fill="#50346c"/><path d="M296.7 302.7L301.8 304.4L304.5 301L299.5 299.2Z" fill="#eca870"/><path d="M433.7 294.6L439.4 292.3L441.6 287.9L435.9 290.7Z" fill="#f0a070"/><path d="M407.4 297.4L412.4 303.3L414.8 299.5L409.9 293.2Z" fill="#7c506c"/><path d="M205.4 302.6L210.3 304.6L213.4 301.1L208.5 299.1Z" fill="#905c74"/><path d="M193.4 302L198.3 304.1L201.4 300.6L196.5 298.6Z" fill="#b87870"/><path d="M320.7 302.9L325.8 305.8L328.5 302.3L323.4 298.9Z" fill="#b8c8e0"/><path d="M397.9 290.6L403.1 292L405.6 287.4L400.3 286.5ZM308.7 302.7L313.8 304.4L316.5 300L311.4 298.4ZM383.3 298.1L388.6 298.4L391.1 294.2L385.8 294.2ZM390.6 294.5L396 294.4L398.3 290.3L393 290.5ZM376.1 301.3L381.3 301.9L383.8 297.9L378.5 297.5Z" fill="#f8a870"/><path d="M277.4 304.5L282.4 306.2L285.2 302.7L280.2 301.1Z" fill="#805c6c"/><path d="M402.8 291.7L407.7 297.7L410.2 293.5L405.3 287.3Z" fill="#d49070"/><path d="M289.4 304.3L294.5 306.1L297.2 302.6L292.2 300.9Z" fill="#dca870"/><path d="M368.8 304L374.1 305L376.5 301.1L371.3 300.3Z" fill="#bc8070"/><path d="M424.1 303.1L429.7 302.4L431.9 298.2L426.4 299.4Z" fill="#94646c"/><path d="M186 303.8L190.8 305.4L193.9 301.9L189.1 300.3Z" fill="#f4a470"/><path d="M416.9 306L422.3 306.6L424.6 302.9L419.2 302.5Z" fill="#50346c"/><path d="M210 304.4L214.9 306.6L217.9 303.2L213 301Z" fill="#b49098"/><path d="M197.9 303.9L202.8 306L205.9 302.5L201 300.4Z" fill="#b87870"/><path d="M301.4 304.3L306.5 306L309.2 302.5L304.2 300.8Z" fill="#f8a870"/><path d="M313.5 304.2L318.5 306.7L321.2 302.8L316.2 299.9Z" fill="#f0ac80"/><path d="M441.3 288.2L447.1 284.9L449.3 280L443.4 283.9Z" fill="#f8a870"/><path d="M361.6 306.4L366.8 307.5L369.3 303.8L364.1 302.9Z" fill="#5c3c6c"/><path d="M431.5 298.5L437.2 296.7L439.4 292L433.7 294.4Z" fill="#f0a070"/><path d="M282.1 306L287.1 307.7L289.9 304.2L284.9 302.5Z" fill="#d49870"/><path d="M405.1 301.3L410.1 306.9L412.5 303.1L407.6 297.2Z" fill="#744c6c"/><path d="M178.5 305.7L183.3 307.2L186.4 303.6L181.7 302.2Z" fill="#c08070"/><path d="M409.8 306.7L415 309.3L417.4 305.9L412.2 302.8Z" fill="#50346c"/><path d="M395.6 294.3L400.8 296.2L403.3 291.7L398 290.2Z" fill="#f8a870"/><path d="M294.1 305.9L299.2 307.7L301.9 304.2L296.9 302.4Z" fill="#dca870"/><path d="M202.5 305.8L207.4 307.9L210.5 304.3L205.6 302.3Z" fill="#cc8c78"/><path d="M318.2 306.5L323.3 309L326 305.5L320.9 302.6Z" fill="#b4cce4"/><path d="M190.5 305.2L195.3 307.3L198.4 303.8L193.6 301.8Z" fill="#f0a070"/><path d="M388.3 298.3L393.6 298.5L396 294.1L390.7 294.2ZM381 301.8L386.3 302.3L388.7 298.1L383.4 297.8ZM306.2 305.8L311.2 307.6L314 304.1L308.9 302.3Z" fill="#f8a870"/><path d="M400.5 296L405.4 301.6L407.9 297.5L403 291.5Z" fill="#cc8c70"/><path d="M373.7 304.8L379 305.7L381.4 301.6L376.2 301Z" fill="#f8a870"/><path d="M274.7 307.8L279.8 309.4L282.6 305.9L277.6 304.3Z" fill="#b48c6c"/><path d="M421.9 306.6L427.4 306.3L429.7 302.1L424.2 302.8Z" fill="#94646c"/><path d="M366.4 307.4L371.7 308.5L374.2 304.7L368.9 303.7Z" fill="#bc8070"/><path d="M439 292.4L444.8 289.5L447 284.6L441.2 288Z" fill="#f8a870"/><path d="M286.8 307.6L291.8 309.3L294.6 305.8L289.6 304.1Z" fill="#d8a870"/><path d="M414.7 309.2L420.1 310.1L422.4 306.3L417 305.7Z" fill="#50346c"/><path d="M183 307L187.8 308.7L190.9 305.1L186.1 303.5Z" fill="#f8a870"/><path d="M207.1 307.7L212 309.9L215 306.4L210.1 304.2Z" fill="#d0aca0"/><path d="M195 307.1L199.9 309.2L203 305.7L198.1 303.6Z" fill="#f0a070"/><path d="M298.8 307.5L303.9 309.2L306.6 305.7L301.6 304Z" fill="#f4a870"/><path d="M310.9 307.4L316 310L318.7 306.5L313.6 303.9Z" fill="#f0ac84"/><path d="M429.3 302.3L434.9 301.1L437.2 296.4L431.5 298.2Z" fill="#f0a070"/><path d="M359.2 309.6L364.4 310.9L366.9 307.2L361.7 306.1Z" fill="#5c3c6c"/><path d="M402.8 305.3L407.8 310.5L410.3 306.7L405.3 301.1Z" fill="#70486c"/><path d="M393.2 298.4L398.4 300.7L400.9 295.9L395.7 294Z" fill="#f8a870"/><path d="M279.4 309.2L284.5 311L287.3 307.4L282.2 305.7Z" fill="#d8a070"/><path d="M407.5 310.3L412.8 312.6L415.2 309.1L409.9 306.4Z" fill="#50346c"/><path d="M398.1 300.4L403.1 305.6L405.6 301.4L400.6 295.8Z" fill="#c88470"/><path d="M385.9 302.2L391.2 302.6L393.7 298.2L388.4 298ZM378.6 305.6L383.9 306.3L386.4 302L381.1 301.5Z" fill="#f8a870"/><path d="M291.5 309.1L296.6 310.9L299.3 307.4L294.3 305.6Z" fill="#d8a870"/><path d="M315.6 309.8L320.8 312.2L323.5 308.7L318.4 306.3Z" fill="#b4cce8"/><path d="M199.6 309L204.5 311.1L207.6 307.6L202.7 305.5Z" fill="#f4a878"/><path d="M187.5 308.5L192.4 310.6L195.5 307L190.6 305ZM303.6 309.1L308.7 310.9L311.4 307.3L306.3 305.6ZM371.3 308.4L376.6 309.4L379.1 305.4L373.8 304.5ZM436.8 296.7L442.5 294.5L444.8 289.2L439 292.1Z" fill="#f8a870"/><path d="M272 311L277.1 312.6L279.9 309.1L274.9 307.5Z" fill="#d4a46c"/><path d="M419.7 310L425.2 310.2L427.5 306L422 306.2Z" fill="#94646c"/><path d="M364 310.8L369.3 312L371.8 308.2L366.6 307.1Z" fill="#bc8070"/><path d="M284.1 310.8L289.2 312.6L292 309L286.9 307.3Z" fill="#dca870"/><path d="M427 306.2L432.6 305.5L434.9 300.8L429.3 302Z" fill="#f0a070"/><path d="M412.4 312.4L417.8 313.6L420.2 309.8L414.8 308.9Z" fill="#50346c"/><path d="M204.1 310.9L209.1 313.1L212.2 309.6L207.2 307.4Z" fill="#dcb8a4"/><path d="M192 310.4L196.9 312.5L200.1 308.9L195.2 306.8Z" fill="#f8a870"/><path d="M296.2 310.7L301.3 312.5L304.1 309L299 307.2Z" fill="#f0a870"/><path d="M390.9 302.5L396.1 305.1L398.6 300.4L393.4 298.1Z" fill="#f8a470"/><path d="M308.3 310.7L313.4 313.2L316.1 309.7L311.1 307.1Z" fill="#f0ac84"/><path d="M400.5 309.3L405.6 314.1L408 310.3L403 305.1Z" fill="#68486c"/><path d="M356.8 312.9L362 314.3L364.5 310.6L359.3 309.3Z" fill="#5c3c6c"/><path d="M395.7 304.9L400.8 309.5L403.3 305.4L398.3 300.2Z" fill="#c08070"/><path d="M383.5 306.2L388.9 306.8L391.3 302.3L386 301.9ZM376.2 309.3L381.5 310.3L384 306L378.7 305.2Z" fill="#f8a870"/><path d="M405.2 313.9L410.5 315.8L412.9 312.3L407.7 310Z" fill="#50346c"/><path d="M434.5 301.1L440.2 299.5L442.5 294.2L436.8 296.4Z" fill="#f8a870"/><path d="M276.7 312.5L281.8 314.2L284.6 310.7L279.6 308.9Z" fill="#d8a870"/><path d="M288.8 312.4L293.9 314.2L296.7 310.6L291.6 308.9Z" fill="#e0a870"/><path d="M313.1 313.1L318.2 315.5L320.9 312L315.8 309.5Z" fill="#b4cce8"/><path d="M196.6 312.3L201.5 314.4L204.6 310.8L199.7 308.7Z" fill="#f8a878"/><path d="M368.9 311.9L374.2 313.1L376.7 309.1L371.4 308.1ZM301 312.3L306.1 314.2L308.8 310.6L303.7 308.8Z" fill="#f8a870"/><path d="M417.4 313.5L422.9 314L425.2 309.9L419.8 309.7Z" fill="#94646c"/><path d="M424.8 310.1L430.3 309.9L432.6 305.2L427.1 305.9Z" fill="#f0a070"/><path d="M269.3 314.3L274.4 315.9L277.2 312.3L272.2 310.7Z" fill="#d8a870"/><path d="M361.6 314.1L366.9 315.6L369.4 311.7L364.2 310.5Z" fill="#bc8070"/><path d="M388.5 306.7L393.7 309.4L396.2 304.8L391 302.2Z" fill="#f4a470"/><path d="M410.2 315.7L415.6 317.1L417.9 313.3L412.5 312.1Z" fill="#50346c"/><path d="M281.4 314.1L286.5 315.9L289.3 312.3L284.3 310.5Z" fill="#e8a870"/><path d="M201.2 314.2L206.1 316.4L209.2 312.9L204.3 310.6Z" fill="#dcb8a4"/><path d="M393.4 309.2L398.5 313.5L401 309.3L395.9 304.6Z" fill="#b87c70"/><path d="M293.6 314L298.7 315.8L301.4 312.2L296.4 310.4Z" fill="#f4a870"/><path d="M398.2 313.2L403.3 317.4L405.7 313.9L400.7 309.1Z" fill="#64446c"/><path d="M432.2 305.5L437.8 304.5L440.2 299.1L434.5 300.7Z" fill="#f8a870"/><path d="M305.7 314L310.8 316.5L313.6 313L308.5 310.4Z" fill="#ecb084"/><path d="M381.2 310.2L386.5 311.1L389 306.5L383.7 305.8Z" fill="#f8a870"/><path d="M354.3 316.1L359.5 317.7L362.1 314L356.9 312.6Z" fill="#5c3c6c"/><path d="M373.8 313L379.1 314.1L381.6 310L376.3 309Z" fill="#f8a870"/><path d="M274 315.7L279.1 317.5L281.9 314L276.9 312.2Z" fill="#d8a870"/><path d="M366.5 315.4L371.8 316.8L374.3 312.8L369 311.6Z" fill="#f8a870"/><path d="M286.2 315.7L291.3 317.5L294.1 313.9L289 312.1Z" fill="#f0a870"/><path d="M310.5 316.3L315.6 318.8L318.4 315.2L313.2 312.8Z" fill="#b4ccec"/><path d="M422.5 313.9L428 314.2L430.4 309.6L424.8 309.8Z" fill="#f0a070"/><path d="M298.3 315.6L303.4 317.5L306.2 313.9L301.1 312Z" fill="#f8a870"/><path d="M415.2 316.9L420.6 317.9L423 313.7L417.5 313.2Z" fill="#94646c"/><path d="M386.1 310.9L391.3 313.7L393.9 309.2L388.7 306.4Z" fill="#f4a470"/><path d="M429.9 309.9L435.5 309.5L437.9 304.1L432.3 305.1Z" fill="#f8a870"/><path d="M359.2 317.6L364.4 319.2L367 315.3L361.7 313.9Z" fill="#bc8070"/><path d="M266.6 317.6L271.6 319.2L274.5 315.6L269.5 314Z" fill="#d8a86c"/><path d="M391 313.5L396.1 317.3L398.7 313.2L393.5 309Z" fill="#b07870"/><path d="M407.9 319L413.3 320.6L415.7 316.8L410.3 315.4Z" fill="#50346c"/><path d="M278.8 317.4L283.8 319.2L286.7 315.6L281.6 313.8Z" fill="#eca870"/><path d="M378.8 314L384.1 315.1L386.6 310.7L381.3 309.8Z" fill="#f8a870"/><path d="M395.8 317.1L401 320.7L403.5 317.1L398.3 313Z" fill="#60406c"/><path d="M290.9 317.3L296 319.1L298.8 315.5L293.7 313.7Z" fill="#f8a870"/><path d="M303.1 317.3L308.2 319.8L311 316.3L305.9 313.7Z" fill="#ecb088"/><path d="M371.4 316.7L376.7 318L379.2 313.8L374 312.7Z" fill="#f8a870"/><path d="M351.9 319.4L357.1 321.4L359.7 317.4L354.4 315.8Z" fill="#5c406c"/><path d="M271.3 319L276.4 320.9L279.2 317.3L274.2 315.5Z" fill="#d8a870"/><path d="M364.1 319L369.4 320.6L371.9 316.5L366.6 315.1Z" fill="#f4a870"/><path d="M420.2 317.7L425.7 318.5L428.1 313.9L422.6 313.6ZM383.7 314.9L388.9 317.8L391.5 313.5L386.3 310.6Z" fill="#f0a070"/><path d="M283.5 319L288.6 320.8L291.4 317.2L286.3 315.4Z" fill="#f8a870"/><path d="M307.9 319.7L313 322.1L315.8 318.5L310.7 316.1Z" fill="#b4ccec"/><path d="M427.6 314.1L433.2 314.2L435.5 309.1L430 309.5Z" fill="#f8a870"/><path d="M412.9 320.4L418.3 321.7L420.7 317.6L415.3 316.6Z" fill="#94646c"/><path d="M295.7 318.9L300.8 320.9L303.6 317.2L298.5 315.3Z" fill="#f8a870"/><path d="M356.7 321.2L362 322.8L364.6 318.9L359.3 317.3Z" fill="#c48c70"/><path d="M388.6 317.6L393.8 321L396.3 317.1L391.1 313.3Z" fill="#a87070"/><path d="M263.8 320.9L268.9 322.6L271.8 318.9L266.7 317.3Z" fill="#c8986c"/><path d="M376.4 317.9L381.7 319.2L384.2 314.8L378.9 313.7Z" fill="#f8a870"/><path d="M405.6 322.3L411 324.3L413.4 320.3L408 318.7Z" fill="#50346c"/><path d="M276 320.7L281.1 322.5L284 318.9L278.9 317.1Z" fill="#f0a870"/><path d="M393.5 320.8L398.7 324L401.2 320.4L396 316.8Z" fill="#5c3c6c"/><path d="M369 320.4L374.3 321.9L376.8 317.7L371.5 316.4ZM288.3 320.6L293.4 322.5L296.2 318.8L291.1 317Z" fill="#f8a870"/><path d="M300.5 320.7L305.6 323.2L308.4 319.6L303.3 317Z" fill="#ecb088"/><path d="M425.3 318.4L430.8 319L433.2 313.9L427.7 313.8Z" fill="#f8a870"/><path d="M418 321.6L423.4 322.8L425.8 318.2L420.3 317.4Z" fill="#f0a070"/><path d="M381.3 319L386.5 321.8L389.1 317.5L383.9 314.6Z" fill="#eca070"/><path d="M361.6 322.6L366.9 324.4L369.5 320.3L364.2 318.7Z" fill="#e8a870"/><path d="M268.6 322.4L273.6 324.2L276.5 320.6L271.5 318.8Z" fill="#e4a870"/><path d="M410.6 324.1L416 325.6L418.4 321.4L413 320.1Z" fill="#94646c"/><path d="M280.8 322.3L285.9 324.2L288.7 320.5L283.6 318.7Z" fill="#f8a870"/><path d="M305.3 323L310.4 325.5L313.2 321.9L308 319.4Z" fill="#b4ccec"/><path d="M293 322.3L298.2 324.3L301 320.6L295.8 318.6Z" fill="#f8a870"/><path d="M386.2 321.6L391.4 324.7L394 320.8L388.8 317.3Z" fill="#a46c6c"/><path d="M373.9 321.8L379.2 323.3L381.8 318.8L376.5 317.6Z" fill="#f8a870"/><path d="M354.3 324.6L359.6 326.1L362.1 322.5L356.9 320.9Z" fill="#cc9c6c"/><path d="M261.1 324.2L266.1 325.9L269.1 322.3L264 320.6Z" fill="#ac786c"/><path d="M391.1 324.5L396.4 327.3L398.9 323.7L393.6 320.6Z" fill="#583c6c"/><path d="M366.6 324.2L371.8 325.9L374.4 321.6L369.1 320.1Z" fill="#f8a870"/><path d="M273.3 324L278.4 325.9L281.3 322.2L276.2 320.4Z" fill="#f4a870"/><path d="M423 322.7L428.5 323.7L430.9 318.6L425.4 318ZM285.6 324L290.7 325.8L293.5 322.2L288.4 320.4Z" fill="#f8a870"/><path d="M297.8 324.1L303 326.6L305.8 322.9L300.6 320.4Z" fill="#e8b08c"/><path d="M415.7 325.5L421 327.1L423.5 322.5L418.1 321.3Z" fill="#f0a070"/><path d="M378.9 323.1L384.1 325.8L386.7 321.5L381.5 318.7Z" fill="#ec9c70"/><path d="M359.2 325.9L364.5 327.7L367 324.1L361.8 322.3Z" fill="#dca870"/><path d="M265.8 325.7L270.9 327.6L273.8 323.9L268.7 322.1Z" fill="#f0a470"/><path d="M408.3 327.4L413.7 329L416.1 325.3L410.7 323.8Z" fill="#94646c"/><path d="M278.1 325.7L283.2 327.6L286 323.9L280.9 322.1Z" fill="#f8a870"/><path d="M302.6 326.4L307.8 328.8L310.6 325.2L305.4 322.7Z" fill="#b0ccec"/><path d="M371.5 325.8L376.8 327.5L379.4 323L374.1 321.5Z" fill="#f8a870"/><path d="M383.8 325.6L389.1 328.4L391.6 324.5L386.4 321.3Z" fill="#9c686c"/><path d="M290.3 325.7L295.5 327.7L298.3 324L293.2 322Z" fill="#f8a870"/><path d="M351.8 327.9L357.1 329.5L359.7 325.8L354.4 324.3Z" fill="#d4a46c"/><path d="M420.7 327L426.1 328.5L428.6 323.4L423.1 322.3Z" fill="#f8a870"/><path d="M258.3 327.6L263.4 329.3L266.3 325.6L261.2 323.9Z" fill="#9c686c"/><path d="M364.1 327.5L369.4 329.3L372 325.6L366.7 323.9Z" fill="#f0a870"/><path d="M388.7 328.2L394 330.7L396.5 327.1L391.3 324.3Z" fill="#54386c"/><path d="M270.6 327.4L275.7 329.2L278.6 325.6L273.5 323.8Z" fill="#f8a870"/><path d="M376.5 327.3L381.7 329.7L384.3 325.5L379 322.8Z" fill="#e89c70"/><path d="M282.9 327.4L288 329.3L290.8 325.6L285.7 323.7Z" fill="#f8a870"/><path d="M413.4 328.8L418.8 330.5L421.2 326.8L415.8 325.2Z" fill="#f0a070"/><path d="M295.2 327.5L300.3 330L303.1 326.3L298 323.8Z" fill="#e8b090"/><path d="M356.7 329.3L362 331.1L364.6 327.4L359.3 325.7Z" fill="#d8a870"/><path d="M263 329.1L268.1 330.9L271 327.3L266 325.4Z" fill="#f4a470"/><path d="M381.4 329.6L386.7 332L389.2 328.1L384 325.3ZM406 330.8L411.5 332.4L413.9 328.7L408.5 327.2Z" fill="#94646c"/><path d="M369.1 329.1L374.4 330.9L376.9 327.2L371.6 325.5ZM275.3 329.1L280.5 330.9L283.3 327.3L278.2 325.4Z" fill="#f8a870"/><path d="M300 329.8L305.2 332.2L308 328.5L302.8 326.1Z" fill="#b0ccf0"/><path d="M287.7 329.1L292.8 331.2L295.6 327.4L290.5 325.4ZM418.4 330.3L423.9 331.9L426.2 328.3L420.8 326.7Z" fill="#f8a870"/><path d="M349.3 331.3L354.6 332.8L357.2 329.2L351.9 327.6Z" fill="#d0a06c"/><path d="M255.5 330.9L260.6 332.6L263.5 329L258.4 327.3Z" fill="#9c686c"/><path d="M386.4 331.8L391.7 334.1L394.2 330.4L388.9 327.9Z" fill="#54386c"/><path d="M361.7 330.9L367 332.6L369.6 329L364.3 327.2Z" fill="#eca870"/><path d="M267.8 330.8L272.9 332.6L275.8 329L270.7 327.1Z" fill="#f8a870"/><path d="M374 330.7L379.3 333.2L381.9 329.5L376.6 327Z" fill="#e09870"/><path d="M280.1 330.8L285.3 332.6L288.1 329L283 327.1Z" fill="#f8a870"/><path d="M292.5 331L297.6 333.4L300.5 329.7L295.3 327.3Z" fill="#e4b494"/><path d="M411.1 332.2L416.5 333.9L418.9 330.2L413.5 328.5Z" fill="#f0a070"/><path d="M354.3 332.7L359.6 334.4L362.2 330.8L356.9 329Z" fill="#d8a870"/><path d="M260.2 332.5L265.3 334.3L268.3 330.7L263.2 328.8Z" fill="#f4a470"/><path d="M379 333L384.3 335.7L386.9 331.7L381.5 329.3Z" fill="#8c5c6c"/><path d="M403.7 334.2L409.2 335.8L411.6 332.1L406.2 330.5Z" fill="#94646c"/><path d="M366.6 332.5L372 334.3L374.5 330.6L369.2 328.8ZM272.6 332.5L277.7 334.3L280.6 330.7L275.5 328.8Z" fill="#f8a870"/><path d="M297.3 333.2L302.5 335.6L305.3 331.9L300.1 329.5Z" fill="#b0ccf0"/><path d="M284.9 332.4L290.1 334.6L293 330.9L287.8 328.8ZM416.2 333.7L421.6 335.3L424 331.6L418.6 330Z" fill="#f8a870"/><path d="M346.8 334.7L352.1 336.2L354.7 332.6L349.4 331Z" fill="#c89470"/><path d="M252.7 334.3L257.7 336L260.7 332.3L255.6 330.6Z" fill="#9c686c"/><path d="M384 335.5L389.3 337.5L391.8 333.8L386.5 331.6Z" fill="#543870"/><path d="M359.2 334.3L364.5 336L367.1 332.3L361.8 330.6Z" fill="#f0a870"/><path d="M265 334.2L270.1 336L273.1 332.3L267.9 330.5Z" fill="#f8a870"/><path d="M371.6 334.1L376.9 336.6L379.5 332.9L374.2 330.4Z" fill="#dc9470"/><path d="M289.8 334.4L294.9 336.9L297.8 333.2L292.6 330.7Z" fill="#e4b498"/><path d="M277.4 334.2L282.5 336L285.4 332.3L280.3 330.5Z" fill="#f8a870"/><path d="M408.8 335.6L414.2 337.3L416.6 333.6L411.2 331.9Z" fill="#f0a070"/><path d="M351.8 336.1L357.1 337.9L359.7 334.2L354.4 332.4Z" fill="#e0a870"/><path d="M376.6 336.4L381.9 339.1L384.5 335.4L379.1 332.7Z" fill="#84586c"/><path d="M257.4 335.9L262.5 337.8L265.5 334L260.4 332.2Z" fill="#f4a470"/><path d="M401.4 337.6L406.8 339.2L409.3 335.5L403.8 333.9Z" fill="#94646c"/><path d="M364.2 335.9L369.5 337.8L372.1 334L366.8 332.2ZM269.8 335.9L275 337.7L277.9 334L272.7 332.2Z" fill="#f8a870"/><path d="M294.6 336.7L299.8 339L302.7 335.3L297.5 333Z" fill="#b0ccf0"/><path d="M282.2 335.9L287.4 338.1L290.3 334.3L285.1 332.2ZM413.9 337.1L419.3 338.8L421.7 335L416.3 333.4Z" fill="#f8a870"/><path d="M344.3 338.1L349.6 339.7L352.2 336L346.9 334.4Z" fill="#c08470"/><path d="M356.7 337.7L362.1 339.4L364.7 335.7L359.3 334Z" fill="#f4a870"/><path d="M262.2 337.6L267.3 339.5L270.3 335.7L265.2 333.9Z" fill="#f8a870"/><path d="M369.2 337.6L374.5 340.1L377.1 336.3L371.8 333.9Z" fill="#d89070"/><path d="M287 337.9L292.2 340.3L295.1 336.6L289.9 334.1Z" fill="#e0b49c"/><path d="M274.6 337.6L279.8 339.5L282.7 335.8L277.5 333.9Z" fill="#f8a870"/><path d="M406.5 339L411.9 340.7L414.4 337L408.9 335.3Z" fill="#f0a070"/><path d="M349.2 339.5L354.6 341.3L357.2 337.6L351.9 335.8Z" fill="#f0a870"/><path d="M374.2 339.9L379.5 342.5L382.1 338.8L376.7 336.2Z" fill="#7c546c"/><path d="M399 341.1L404.5 342.7L407 338.9L401.5 337.3Z" fill="#94646c"/><path d="M361.7 339.3L367.1 341.3L369.7 337.5L364.3 335.6Z" fill="#f8a870"/><path d="M291.9 340.1L297.1 342.5L300 338.8L294.8 336.4Z" fill="#b0ccf0"/><path d="M267 339.3L272.2 341.2L275.1 337.5L270 335.6ZM279.4 339.3L284.6 341.5L287.5 337.8L282.4 335.6ZM411.6 340.6L417.1 342.2L419.5 338.5L414 336.8Z" fill="#f8a870"/><path d="M341.7 341.6L347.1 343.2L349.7 339.4L344.4 337.8Z" fill="#bc8070"/><path d="M354.2 341.2L359.6 342.9L362.2 339.2L356.9 337.4Z" fill="#f8a870"/><path d="M366.7 341.1L372.1 343.6L374.6 339.8L369.3 337.3Z" fill="#d08c70"/><path d="M284.3 341.3L289.5 343.8L292.4 340L287.2 337.6Z" fill="#e0b4a0"/><path d="M271.8 341L277 342.9L279.9 339.2L274.8 337.3Z" fill="#f8a870"/><path d="M404.1 342.5L409.6 344.2L412.1 340.4L406.6 338.8Z" fill="#f0a070"/><path d="M346.7 343L352.1 344.8L354.7 341L349.4 339.2Z" fill="#f8a870"/><path d="M371.7 343.4L377.1 346L379.6 342.3L374.3 339.6Z" fill="#78506c"/><path d="M359.2 342.8L364.6 344.8L367.2 341L361.8 339Z" fill="#f8a870"/><path d="M396.7 344.5L402.2 346.2L404.6 342.4L399.2 340.8Z" fill="#94646c"/><path d="M289.2 343.6L294.4 346L297.3 342.2L292.1 339.8Z" fill="#b0ccf4"/><path d="M276.7 342.7L281.9 345L284.8 341.3L279.6 339ZM409.2 344.1L414.7 345.7L417.2 341.9L411.7 340.3Z" fill="#f8a870"/><path d="M339.2 345L344.5 346.7L347.2 342.9L341.9 341.3Z" fill="#bc8070"/><path d="M351.7 344.6L357.1 346.4L359.7 342.6L354.4 340.9Z" fill="#f8a870"/><path d="M364.2 344.6L369.6 347.1L372.2 343.3L366.9 340.8Z" fill="#cc8870"/><path d="M281.5 344.8L286.8 347.3L289.7 343.5L284.5 341.1Z" fill="#dcb8a4"/><path d="M401.8 346L407.3 347.7L409.7 343.9L404.3 342.2Z" fill="#f0a070"/><path d="M344.2 346.5L349.5 348.3L352.2 344.5L346.8 342.7Z" fill="#f8a870"/><path d="M369.2 346.9L374.6 349.5L377.2 345.8L371.9 343.1Z" fill="#704c6c"/><path d="M356.7 346.3L362.1 348.4L364.7 344.5L359.4 342.5Z" fill="#f8a870"/><path d="M394.3 348L399.8 349.7L402.3 345.9L396.8 344.2Z" fill="#94646c"/><path d="M286.4 347.1L291.7 349.5L294.6 345.7L289.3 343.3Z" fill="#b0ccf4"/><path d="M406.9 347.6L412.4 349.3L414.9 345.5L409.4 343.8Z" fill="#f8a870"/><path d="M336.6 348.5L341.9 350.2L344.6 346.4L339.3 344.7Z" fill="#bc8070"/><path d="M349.2 348.2L354.5 350L357.2 346.2L351.8 344.4Z" fill="#f8a870"/><path d="M361.7 348.2L367.1 350.7L369.7 346.9L364.4 344.4Z" fill="#c48470"/><path d="M399.4 349.5L404.9 351.3L407.4 347.5L401.9 345.7Z" fill="#f0a070"/><path d="M341.6 350L347 351.9L349.7 348L344.3 346.2Z" fill="#f8a870"/><path d="M366.8 350.5L372.1 353L374.8 349.2L369.4 346.7Z" fill="#6c486c"/><path d="M354.2 349.8L359.6 352L362.2 348.1L356.9 346Z" fill="#f8a470"/><path d="M391.9 351.5L397.4 353.2L399.9 349.4L394.4 347.7Z" fill="#94646c"/><path d="M404.6 351.1L410.1 352.9L412.5 349L407 347.3Z" fill="#f8a870"/><path d="M334 352L339.4 353.7L342.1 349.9L336.7 348.2Z" fill="#bc8070"/><path d="M346.6 351.7L352 353.5L354.7 349.7L349.3 347.9Z" fill="#f8a870"/><path d="M359.2 351.8L364.6 354.3L367.2 350.4L361.9 347.9Z" fill="#bc8070"/><path d="M397 353.1L402.5 354.9L405 351L399.5 349.2Z" fill="#f0a070"/><path d="M339 353.5L344.4 355.4L347.1 351.6L341.7 349.7Z" fill="#f8a870"/><path d="M364.3 354.1L369.7 356.6L372.3 352.8L366.9 350.2Z" fill="#68446c"/><path d="M351.6 353.4L357 355.6L359.7 351.7L354.3 349.5Z" fill="#f4a470"/><path d="M389.5 355.1L395 356.8L397.5 352.9L392 351.2Z" fill="#94646c"/><path d="M402.2 354.7L407.7 356.5L410.2 352.6L404.7 350.9Z" fill="#f8a870"/><path d="M331.4 355.6L336.8 357.2L339.5 353.4L334.1 351.7Z" fill="#bc8070"/><path d="M344 355.2L349.4 357.1L352.1 353.3L346.7 351.4Z" fill="#f8a870"/><path d="M356.7 355.4L362.1 357.9L364.7 354L359.4 351.5Z" fill="#b47870"/><path d="M394.6 356.6L400.2 358.5L402.7 354.6L397.2 352.8Z" fill="#f0a070"/><path d="M336.4 357.1L341.8 359L344.5 355.1L339.2 353.3Z" fill="#f8a870"/><path d="M361.7 357.7L367.2 360.2L369.8 356.3L364.4 353.8Z" fill="#60406c"/><path d="M349.1 356.9L354.5 359.2L357.2 355.3L351.8 353.1Z" fill="#f4a470"/><path d="M387.1 358.6L392.6 360.4L395.1 356.5L389.6 354.8Z" fill="#94646c"/><path d="M399.8 358.3L405.3 360.1L407.8 356.2L402.3 354.4Z" fill="#f8a870"/><path d="M328.8 359.1L334.1 360.8L336.9 357L331.5 355.3Z" fill="#bc8070"/><path d="M341.5 358.8L346.9 360.6L349.6 356.8L344.2 354.9Z" fill="#f8a870"/><path d="M354.1 359L359.6 361.5L362.2 357.6L356.8 355.1Z" fill="#ac7470"/><path d="M392.2 360.2L397.7 362.1L400.3 358.2L394.8 356.4Z" fill="#f0a070"/><path d="M333.8 360.7L339.2 362.5L341.9 358.7L336.6 356.8Z" fill="#f8a870"/><path d="M359.2 361.3L364.6 363.7L367.3 359.9L361.9 357.4Z" fill="#705c88"/><path d="M346.5 360.5L351.9 362.8L354.6 358.9L349.2 356.6Z" fill="#f0a070"/><path d="M384.6 362.2L390.1 364L392.7 360.1L387.2 358.3Z" fill="#94646c"/><path d="M397.4 361.9L402.9 363.8L405.5 359.8L399.9 358Z" fill="#f8a870"/><path d="M326.1 362.7L331.5 364.4L334.3 360.5L328.9 358.8Z" fill="#bc8070"/><path d="M351.6 362.6L357 365.1L359.7 361.2L354.3 358.7Z" fill="#a47070"/><path d="M338.8 362.4L344.3 364.2L347 360.4L341.6 358.5Z" fill="#f8a870"/><path d="M389.8 363.9L395.3 365.8L397.9 361.8L392.4 360Z" fill="#f0a070"/><path d="M331.2 364.2L336.6 366.1L339.3 362.2L333.9 360.4Z" fill="#f8a870"/><path d="M356.7 365L362.1 367.4L364.8 363.5L359.4 361Z" fill="#746894"/><path d="M343.9 364L349.3 366.5L352.1 362.5L346.7 360.2Z" fill="#eca070"/><path d="M382.2 365.8L387.7 367.7L390.3 363.7L384.8 361.9Z" fill="#94646c"/><path d="M395 365.6L400.5 367.5L403.1 363.5L397.5 361.7Z" fill="#f8a870"/><path d="M349 366.3L354.4 368.8L357.1 364.9L351.7 362.4Z" fill="#a06c6c"/><path d="M336.2 366L341.7 367.8L344.4 363.9L339 362.1Z" fill="#f8a870"/><path d="M387.3 367.5L392.9 369.4L395.5 365.5L389.9 363.6Z" fill="#f0a070"/><path d="M354.1 368.6L359.5 371L362.2 367.1L356.8 364.7Z" fill="#706894"/><path d="M341.3 367.6L346.7 370.1L349.5 366.2L344.1 363.8Z" fill="#e89c70"/><path d="M379.7 369.5L385.2 371.3L387.8 367.4L382.3 365.5Z" fill="#946470"/><path d="M392.5 369.3L398.1 371.2L400.7 367.2L395.1 365.3Z" fill="#f8a870"/><path d="M346.4 370L351.8 372.7L354.6 368.5L349.1 366Z" fill="#98646c"/><path d="M384.9 371.2L390.4 373.1L393 369.1L387.5 367.2Z" fill="#ec9078"/><path d="M351.5 372.5L357 374.7L359.7 370.7L354.2 368.3Z" fill="#706494"/><path d="M377.2 373.1L382.7 375L385.4 371L379.8 369.2Z" fill="#986070"/><path d="M390.1 372.9L395.7 374.9L398.2 370.9L392.7 369Z" fill="#f49478"/><path d="M382.4 374.8L388 376.8L390.6 372.8L385 370.9Z" fill="#e87084"/><path d="M374.7 376.8L380.2 378.7L382.9 374.7L377.3 372.8Z" fill="#9c5c74"/><path d="M387.6 376.6L393.2 378.6L395.8 374.6L390.2 372.6Z" fill="#ec7084"/><path d="M379.9 378.5L385.5 380.5L388.1 376.5L382.5 374.5Z" fill="#e4608c"/><path d="M372.2 380.5L377.7 382.4L380.4 378.4L374.8 376.5Z" fill="#9c5c74"/><path d="M385.1 380.3L390.7 382.3L393.3 378.3L387.7 376.3Z" fill="#e8608c"/><path d="M377.4 382.3L383 384.2L385.6 380.2L380 378.2Z" fill="#e46488"/><path d="M382.6 384.1L388.2 386L390.9 382L385.3 380Z" fill="#e86488"/></g></g>
<path d="M87.4 270.3L124.3 235.7 135.8 223.2 147.1 211.8 158.1 199.8 169 188.9 179.5 177.9 189.6 162.7 199.7 151.9 209.7 142.9 219.2 127.8 228.2 107.7 230 93.1 232.1 83.2 236.9 92.6M237.1 92.9L237.5 93.7 242.4 96.2 244.8 97.2 249.4 93.8 251.5 86.8 255.4 64.1M104.3 276.9L271.9 115.5M121.4 283.5L287 120M138.8 290.2L302.3 124.7M156.4 297L317.8 129.4M174.2 303.9L246.4 227 271.2 199.6 280.7 189.6 288.5 180.6M289.1 180L289.4 179.6M192.3 310.3L237.5 260.5 248 247.7 258.3 236.3 268.4 225 278.2 211.4 287.8 196.5 297.3 187.1 306.5 170.1 315.5 156.8 324.4 140.3 333.3 118.7 341.9 109.7 350.3 100.1M210.7 318L365.3 143.7M229.3 325.1L381.6 148.6M248.1 332.4L383 171.5M386.1 167.7L386.2 167.6M267.3 339.2L299.6 299.5 309.8 285.3 339.1 242.7 357.5 218.1 366.4 206.8 375 196.9 383.5 183.9 392 169.8 392.2 170.2M397.3 165.6L401.2 140.8 402.7 138.8M286.7 347L318.4 306.5 328.5 291.6 357.4 247.5 375.6 222.2 384.3 210.7 392.7 200.7 394.7 200.3 396.7 199.5 398.7 198.4 404.5 194.5 408.4 191.8 412.3 187.6 414.4 183 416.6 176.5 431.9 156.9M306.4 354.9L445.2 172.9M326.4 362.7L357 321.2 394.3 268.3 411.7 243.2 436.1 210 444.1 196.6 448.4 185.8 452.8 173.6 457.4 158.3 462.3 140.9 463 139.6M346.6 369.9L376.7 327.2 386.3 310.8 395.8 294.2 405 279.4 414.1 263.5 423 246.9 431.9 229.8 440.2 216.6 456.1 194.9 464.7 174.2 470 153.8 472.2 148.6 474.2 144.2 476.5 138.2 478.5 133.6 480.5 130.1 489.5 118.3M367.2 378.4L451.7 255.6M451.9 255.4L452.2 254.9M452.4 254.7L452.7 254.2M452.9 253.9L453.2 253.5M453.4 253.2L453.7 252.7M454.1 252.2L454.2 252M454.6 251.4L454.8 251.2M455.1 250.7L455.2 250.5M455.4 250.2L455.7 249.8M456.1 249.2L456.2 249M456.6 248.5L456.7 248.3M457.1 247.7L457.2 247.6M457.7 247L457.7 246.8M495.4 189.2L498.2 180.6 503 163.9M388.1 385.8L426 328.3 435.3 309.3 444.6 289.4 453.6 271.1 462.9 248.4 472.7 220.1 481.1 203.8 488.7 193.9 495.5 190 501.8 187.5 507.3 190.6 512.2 195.8 531.8 87.8M87.4 270.3L178.7 305.6 187.7 308.4 206.1 316.2 252.9 334.3 257.7 335.8 276.9 342.7 291.6 349.2 326.4 362.7 341.6 367.6 351.7 372.5 372.4 380.4 388.1 385.8M100 258.5L190.6 292.9 199.5 295.6 217.7 303.2 264.1 320.8 287.9 329 292.7 331 302.4 335.4 336.8 348.4 351.9 353.3 356.9 355.4 367.1 359.9 382.4 365.8 398 371M112.3 247L197.7 278.9 211 282.9 224.5 288.5 229 290.5 275 307.7 279.7 309.2 303.3 317.2 312.9 321.9 347 334.6 362 339.2 367 341 377 345.8 392.2 351.5 407.6 356.3M124.3 235.7L209 266.8 222.2 270.8 235.5 276.2 240 278.2 285.6 294.9 313.7 304.1 323.2 308.8 357 321.2 376.7 327.2 386.6 331.8 391.6 333.9 401.6 337.6 416.9 342M135.8 223.2L152.3 230.6 220 255.1 233 258.7 255.2 267.8 295.9 282.5 323.8 288.2 328.5 291.6 333.2 295.7 337.9 297.7 361.8 306.3 376.5 309.2 386.3 310.8 391.2 313.5 400.9 320.4 410.9 324 426 328.3M147.1 211.8L163.6 219.8 230.8 243.6 243.6 245.6 265.6 256 301.5 268.8 306 270.1 333.8 271.4 338.4 276.6 342.9 283 347.6 285.2 366.5 291.9 371.3 293.3 376.1 293.9 381 294.2 385.9 294.4 395.8 294.2 400.7 296 410 306.6 414.9 309.1 419.9 309.9 425 310 435.3 309.3M158.1 199.8L174.6 209.2 241.2 232.5 254 234.3 275.8 244.6 311.3 257 315.8 258.2 343.5 255 348 261.9 352.4 270.5 357.1 273 375.8 279.5 380.5 280.8 385.3 281.1 395.1 280.6 410 278.9 419 292.1 423.7 296.3 428.7 296.1 433.9 294.5 439.2 292.2 444.6 289.4M169 188.9L185.4 198.8 247.2 220.1 251.4 221.3 255.7 222 264.1 222.9 285.8 233.4 321 245.5 325.4 246.5 353 238.9 357.4 247.5 361.7 258.4 366.3 261.1 384.8 267.5 389.5 268.6 394.3 268.3 399.2 267.5 404.1 266.4 419.1 262.1 427.7 278.8 432.3 283.9 437.3 282.9 442.6 279.8 448 275.8 453.6 271.1M179.5 177.9L195.9 188.7 257.2 209.5 261.4 210.4 265.6 210.2 269.8 209.5 273.9 208.6 295.5 222.5 330.4 234.3 334.8 235.2 362.3 225.3 366.6 234.7 370.8 246.7 375.3 249.5 393.6 255.8 398.3 256.7 403.1 255.7 408 254.1 412.9 252 428.1 244.5 436.2 265.5 440.6 271.7 445.8 269.3 451.3 263.6 457 256.6 462.9 248.4M189.6 162.7L206.1 178.8 267 199.1 271.2 199.6 275.3 198 279.4 195.6 283.5 192.6 304.9 211.8 339.5 223.4 343.9 224.1 371.4 212 375.6 222.2 379.6 235.3 384 238.2 402.2 244.3 406.9 245 411.7 243.2 416.6 240.6 421.6 237.5 437 226.1 444.6 252.4 448.8 259.9 452.4 256.7M466.4 233.2L466.5 233.1M466.7 232.7L466.7 232.6M466.9 232.2L467 232M467.2 231.6L467.2 231.5M467.4 231.2L467.4 231.1M467.6 230.7L467.7 230.6M467.9 230.2L467.9 230M468.1 229.6L468.2 229.5M468.3 229.2L468.5 229M468.6 228.7L468.7 228.4M468.8 228.2L469 227.9M469.1 227.6L472.7 220.1M199.7 151.9L216.2 169.1 276.6 189 280.7 189.6 284.8 188.2 288.6 186.2M290.3 185.2L293 183.5 314.2 201.4 348.5 212.7 352.8 213.4 380.2 200.1 384.3 210.7 388.2 224.3 392.6 227.2 410.6 233.1 415.2 233.7 420 231.7 424.9 228.7 430 225.2 445.4 212.5 452.6 240.4 456.7 248.3 456.9 248.1M457.1 247.9L457.5 247.6M457.9 247.2L458.2 246.9M458.6 246.5L458.7 246.4M479.3 208L481.1 203.8M209.7 142.9L226 159.7 285.9 179.1 290 179M290.4 178.6L291 178.1M295.7 173.5L295.9 173.1M296.9 172L297 171.9M298.4 170.2L298.5 170M298.6 169.8L298.7 169.7M298.9 169.4L302.3 164.8 323.2 191.2 357.2 202.3 361.5 203 388.7 190.6 392.7 200.7 396.6 213.6 400.9 216.4 418.8 222.2 423.4 222.8 428.1 220.7 433 217.8 438 214.2 442.2 210.9M442.6 210.5L443.4 209.9M443.9 209.5L444 209.4M444.4 209L445.5 208.1M446.2 207.4L447.1 206.6M447.4 206.4L453.4 201.5 460.5 229.2 464 236.1M480.8 211.4L480.8 211.3M481.8 209.2L481.9 209.1M482 208.8L482.1 208.6M482.3 208.3L482.4 208M482.5 207.8L482.6 207.6M482.8 207.1L482.9 206.8M483 206.6L483.2 206.3M483.3 206L483.3 205.9M483.5 205.5L483.6 205.3M483.7 205.1L484.1 204.1M484.3 203.8L484.4 203.6M484.5 203.3L484.6 203M484.7 202.8L484.9 202.4M485 202.1L485.2 201.8M485.3 201.5L485.4 201.3M485.5 201L485.6 200.9M485.8 200.5L486.4 199.1M486.5 198.8L486.6 198.5M486.8 198.3L488.7 193.9M219.2 127.8L235.6 150.5 295 169.5 297.9 169.1M309.5 153.9L311.4 150.7 332 181.3 365.7 192.1 370 192.6 388.1 180.9 392.7 178.9 400.6 197.1 404.7 204.5 426.8 211.6 431.3 212.1 436.1 210 440.9 207.1 445.9 203.5 450.7 199.6M451.6 198.9L452.2 198.4M452.6 198L452.7 197.9M453.6 197.1L454.2 196.6M454.6 196.2L461.3 190.8 468.1 218.3 470.5 223.1M484 211.4L484.1 211.3M485.3 209.2L485.3 209.1M485.6 208.7L485.6 208.5M485.8 208.3L486.1 207.8M486.2 207.5L486.4 207.3M486.5 207L486.6 206.9M486.8 206.5L486.9 206.3M487 206.1L487.2 205.8M487.3 205.6L488.1 204.1M488.3 203.9L495.5 190M228.2 107.7L244.9 141.4 299.9 158.8 303.9 158.4M304.1 158.2L304.4 157.9M304.6 157.7L305.7 156.4M306.1 156L306.2 155.9M318.1 136.7L320.3 132.4 340.6 171.6 374.1 182.1 378.2 182.4M379.2 181.6L379.4 181.4M379.9 181L380 180.9M380.9 180.1L381.6 179.4M381.9 179.2L392 169.8 396.6 166.1 408.4 191.8 412.7 194.3 434.6 201.2 439.2 200.1 444.1 196.6 449.1 192 454.2 186.7 459.4 180.7 464.7 174.2 468.6 183.3 471.7 199.6 474.9 213.9 475.2 214M496.3 195.7L496.4 195.6M496.8 194.9L496.9 194.8M497.1 194.6L497.4 194.1M497.6 193.8L497.9 193.3M498.1 193.1L501.8 187.5M237.5 93.7L254.1 132.6 304.7 148.3 308.4 148M309.7 146.7L310.2 146M310.4 145.7L310.5 145.6M326.8 113.5L329.3 107.6 349.1 162.1 382.2 172.4 386.7 168.4 406.1 131.3 416.6 176.5 420.5 184.3 437.8 189.7 442.5 187.5 447.5 181.3 452.8 173.6 458.2 164.6 463.8 154.5 469.6 143.5 474.2 144.2 478.2 196.3 481.4 202.2M501.8 194.9L507.3 190.6M247.1 95.5L259.2 120.2 263.1 123.9 313.2 139.3M314 138.7L314.2 138.6M336.5 101.7L337.9 98.7 357.3 152.8 388.9 162.5M412.7 123.1L414.3 119.7 424.3 166.5 428.1 174.5 441 178.5 445.2 177.6M446.7 175.5L446.7 175.3M447.1 174.7L447.2 174.4M447.4 174.2L447.7 173.6M447.8 173.4L448.9 171.4M449.1 171.2L449.2 170.9M449.4 170.6L449.4 170.5M449.7 170.1L449.7 170M449.9 169.7L450 169.6M451.4 166.7L451.5 166.5M451.7 166.1L451.7 166M451.9 165.7L452 165.5M452.1 165.2L452.2 164.9M452.4 164.6L456.4 155.6 462.3 140.9 468.6 124.2 475.1 105.8 481.9 85.7 482.7 168.1 484.7 191.9 488.6 193.1M507.7 195.5L512.2 195.8M255.4 64.1L264.3 112.1 268.1 114.3 317.8 129.4 319 129.4M344.8 92.2L346.4 89 365.3 143.7 394.1 152.5M420.6 112.6L422.1 109.4 431.9 156.9 435.6 165 444.1 167.6 448.5 167.2M448.6 167L449 166.5M449.1 166.2L449.2 166.1M449.4 165.9L449.7 165.4M449.9 165.1L451.4 162.9M451.6 162.7L451.7 162.6M487.8 80.4L489.3 76.5 489.8 158.3 491.7 182 496.9 176.4 503 163.9 509.6 148.3 516.6 130.3 524 110.1 531.8 87.8" stroke="#1e1e1e" stroke-width="1.0" fill="none" stroke-linejoin="round" stroke-linecap="round"/>
<line x1="60.9" y1="161.1" x2="398.5" y2="278.1" stroke="#a0a0a0" stroke-width="0.8" stroke-opacity="0.75"/>
<line x1="391.5" y1="395.7" x2="398.5" y2="278.1" stroke="#a0a0a0" stroke-width="0.8" stroke-opacity="0.75"/>
<line x1="398.5" y1="278.1" x2="540.6" y2="82.8" stroke="#a0a0a0" stroke-width="0.8" stroke-opacity="0.75"/>
<line x1="78.2" y1="273.8" x2="60.9" y2="161.1" stroke="#888" stroke-width="0.8"/>
<line x1="78.2" y1="273.8" x2="391.5" y2="395.7" stroke="#888" stroke-width="0.8"/>
<line x1="391.5" y1="395.7" x2="526.0" y2="190.2" stroke="#888" stroke-width="0.8"/>
<path d="M83.6 275.8L88.3 271.4M110.8 286.4L113.5 283.8M138.5 297.2L141.2 294.5M166.9 308.3L169.6 305.5M196.0 319.6L198.5 316.7M225.7 331.1L229.9 326.2M256.0 343.0L258.5 340.0M287.1 355.0L289.5 352.0M318.9 367.4L321.2 364.3M351.4 380.1L353.7 376.9M384.8 393.1L388.4 387.5M394.7 390.8L387.0 387.8M410.2 367.1L405.8 365.4M425.1 344.4L420.7 342.8M439.3 322.7L434.9 321.2M452.9 301.9L448.6 300.5M465.9 282.0L458.8 279.6M478.4 262.9L474.3 261.5M490.5 244.5L486.4 243.1M502.0 226.8L498.0 225.5M513.2 209.7L509.2 208.5M523.9 193.4L517.3 191.4M78.0 272.1L83.5 274.3M77.3 267.6L80.6 268.9M76.6 263.0L79.9 264.3M75.9 258.5L79.2 259.8M75.2 253.9L78.5 255.2M74.4 249.2L80.1 251.4M73.7 244.6L77.1 245.9M73.0 239.9L76.4 241.2M72.3 235.2L75.7 236.5M71.6 230.4L75.0 231.7M70.8 225.7L76.6 227.8M70.1 220.8L73.5 222.1M69.3 216.0L72.8 217.3M68.6 211.1L72.1 212.4M67.8 206.3L71.3 207.5M67.1 201.3L72.9 203.4M66.3 196.4L69.8 197.6M65.6 191.4L69.1 192.6M64.8 186.4L68.3 187.6M64.0 181.3L67.5 182.6M63.2 176.2L69.1 178.3M62.4 171.1L66.0 172.4M61.6 166.0L65.2 167.2" stroke="#8c8c8c" stroke-width="0.8" fill="none"/>
<text y="175.3" font-size="13.6" fill="#000"><tspan x="4.5">4.</tspan><tspan x="15.9" font-size="17" dy="1.5">&#215;</tspan><tspan x="27.9" dy="-1.5">10</tspan><tspan x="40.3" y="170.9" font-size="9.5">&#8722;16</tspan></text>
<text y="200.4" font-size="13.6" fill="#000"><tspan x="8.7">3.</tspan><tspan x="20.1" font-size="17" dy="1.5">&#215;</tspan><tspan x="32.1" dy="-1.5">10</tspan><tspan x="44.5" y="196.0" font-size="9.5">&#8722;16</tspan></text>
<text y="225.0" font-size="13.6" fill="#000"><tspan x="12.9">2.</tspan><tspan x="24.3" font-size="17" dy="1.5">&#215;</tspan><tspan x="36.3" dy="-1.5">10</tspan><tspan x="48.7" y="220.6" font-size="9.5">&#8722;16</tspan></text>
<text y="248.4" font-size="13.6" fill="#000"><tspan x="17.1">1.</tspan><tspan x="28.5" font-size="17" dy="1.5">&#215;</tspan><tspan x="40.5" dy="-1.5">10</tspan><tspan x="52.9" y="244.0" font-size="9.5">&#8722;16</tspan></text>
<text x="72.4" y="270.7" font-size="13.6" text-anchor="end" fill="#000">0</text>
<text x="71.1" y="292.0" font-size="13.6" text-anchor="middle" fill="#000">0.0</text>
<text x="214.0" y="348.5" font-size="13.6" text-anchor="middle" fill="#000">0.5</text>
<text x="376.7" y="411.1" font-size="13.6" text-anchor="middle" fill="#000">1.0</text>
<text x="203.3" y="366.5" font-size="13.6" text-anchor="middle" fill="#000">x</text>
<text x="408.8" y="400.6" font-size="13.6" text-anchor="middle" fill="#000">0.0</text>
<text x="480.3" y="291.3" font-size="13.6" text-anchor="middle" fill="#000">0.5</text>
<text x="538.9" y="202.2" font-size="13.6" text-anchor="middle" fill="#000">1.0</text>
<text x="496.5" y="299.2" font-size="13.6" text-anchor="middle" fill="#000">t</text>
</svg></body></html>
